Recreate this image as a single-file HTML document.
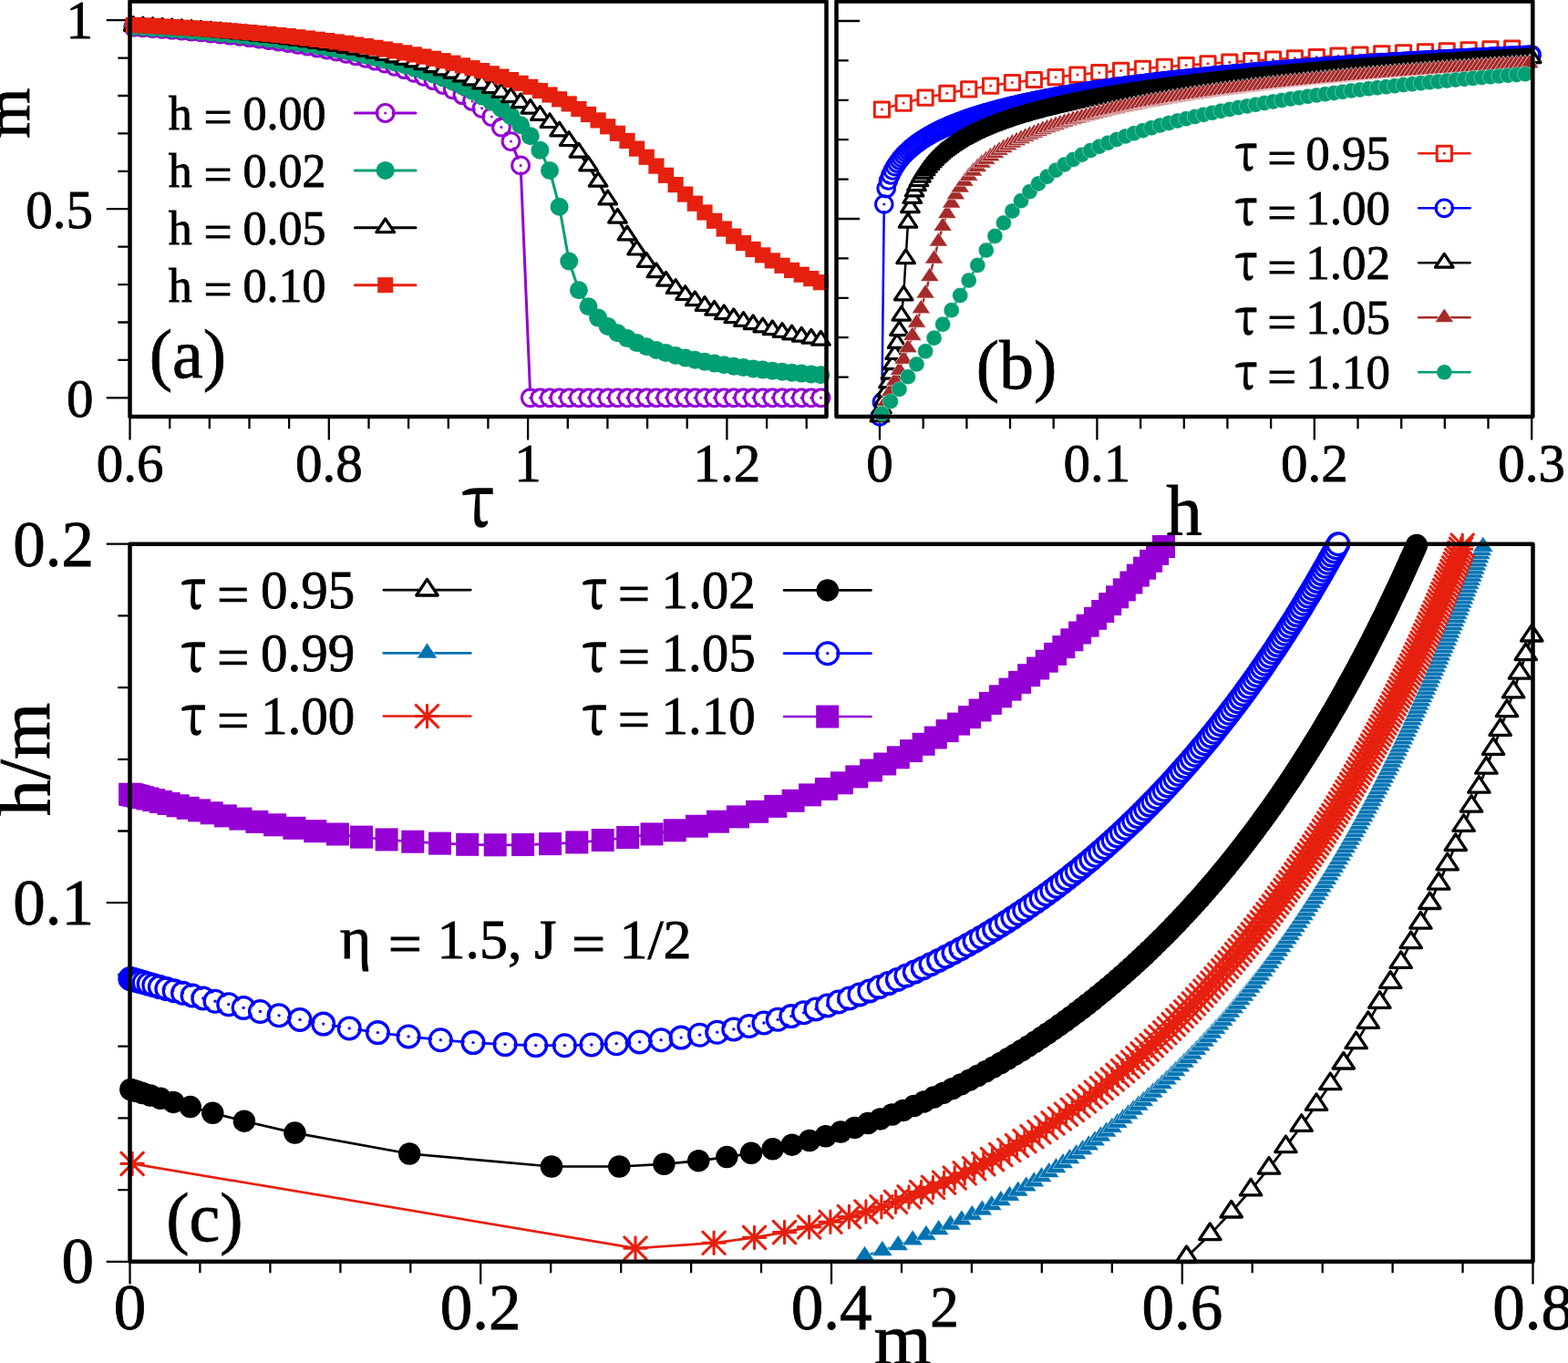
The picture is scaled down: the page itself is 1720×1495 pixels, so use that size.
<!DOCTYPE html>
<html><head><meta charset="utf-8"><title>Magnetization plots</title>
<style>html,body{margin:0;padding:0;background:#fff;overflow:hidden;width:1720px;height:1495px;} svg{display:block;}</style>
</head><body>
<svg width="1720" height="1495" viewBox="0 0 1720 1495">
<defs>
<clipPath id="ca"><rect x="142.5" y="1.5" width="764.0" height="455.5"/></clipPath>
<clipPath id="cb"><rect x="917.5" y="1.5" width="763.8" height="455.5"/></clipPath>
<clipPath id="cc"><rect x="142.5" y="596.7" width="1539.0" height="787.0999999999999"/></clipPath>
</defs>
<rect width="1720" height="1495" fill="#fff"/>
<path d="M142.5 457.0V482.5M186.2 457.0V470.2M229.8 457.0V470.2M273.5 457.0V470.2M317.1 457.0V470.2M360.8 457.0V482.5M404.5 457.0V470.2M448.1 457.0V470.2M491.8 457.0V470.2M535.4 457.0V470.2M579.1 457.0V482.5M622.8 457.0V470.2M666.4 457.0V470.2M710.1 457.0V470.2M753.7 457.0V470.2M797.4 457.0V482.5M841.1 457.0V470.2M884.7 457.0V470.2M116.7 436.3H142.5M129.3 394.9H142.5M129.3 353.5H142.5M129.3 312.1H142.5M129.3 270.7H142.5M116.7 229.2H142.5M129.3 187.8H142.5M129.3 146.4H142.5M129.3 105.0H142.5M129.3 63.6H142.5M116.7 22.2H142.5M965.0 457.0V482.5M1012.7 457.0V470.2M1060.4 457.0V470.2M1108.0 457.0V470.2M1155.7 457.0V470.2M1203.4 457.0V482.5M1251.1 457.0V470.2M1298.8 457.0V470.2M1346.4 457.0V470.2M1394.1 457.0V470.2M1441.8 457.0V482.5M1489.5 457.0V470.2M1537.2 457.0V470.2M1584.8 457.0V470.2M1632.5 457.0V470.2M1680.2 457.0V482.5M917.5 413.6H930.7M917.5 370.2H930.7M917.5 326.8H930.7M917.5 283.4H930.7M917.5 240.0H943.0M917.5 196.6H930.7M917.5 153.2H930.7M917.5 109.8H930.7M917.5 66.4H930.7M917.5 23.0H943.0M142.5 1383.8V1408.6M219.4 1383.8V1396.3M296.4 1383.8V1396.3M373.4 1383.8V1396.3M450.3 1383.8V1396.3M527.2 1383.8V1408.6M604.2 1383.8V1396.3M681.2 1383.8V1396.3M758.1 1383.8V1396.3M835.0 1383.8V1396.3M912.0 1383.8V1408.6M989.0 1383.8V1396.3M1065.9 1383.8V1396.3M1142.8 1383.8V1396.3M1219.8 1383.8V1396.3M1296.8 1383.8V1408.6M1373.7 1383.8V1396.3M1450.7 1383.8V1396.3M1527.6 1383.8V1396.3M1604.5 1383.8V1396.3M1681.5 1383.8V1408.6M116.7 1383.8H142.5M129.3 1305.1H142.5M129.3 1226.4H142.5M129.3 1147.7H142.5M129.3 1069.0H142.5M116.7 990.2H142.5M129.3 911.5H142.5M129.3 832.8H142.5M129.3 754.1H142.5M129.3 675.4H142.5M116.7 596.7H142.5" stroke="#000" stroke-width="2.3" fill="none"/>
<path d="M71.9 26.0L82.5 26.5L93.1 26.9L103.7 27.4L114.3 27.9L125.0 28.5L135.6 29.1L146.2 29.7L156.8 30.4L167.5 31.1L178.1 31.9L188.7 32.7L199.3 33.5L210.0 34.5L220.6 35.4L231.2 36.5L241.8 37.5L252.4 38.7L263.1 39.9L273.7 41.2L284.3 42.5L294.9 44.0L305.6 45.5L316.2 47.1L326.8 48.8L337.4 50.6L348.1 52.5L358.7 54.5L369.3 56.6L379.9 58.9L390.5 61.3L401.2 63.9L411.8 66.7L422.4 69.6L433.0 72.8L443.7 76.2L454.3 79.9L464.9 83.8L475.5 88.2L486.1 93.0L496.8 98.3L507.4 104.2L518.0 111.0L528.6 118.8L539.3 128.1L549.9 139.6L560.5 155.1L571.1 181.4L581.8 436.3L592.4 436.3L603.0 436.3L613.6 436.3L624.2 436.3L634.9 436.3L645.5 436.3L656.1 436.3L666.7 436.3L677.4 436.3L688.0 436.3L698.6 436.3L709.2 436.3L719.9 436.3L730.5 436.3L741.1 436.3L751.7 436.3L762.3 436.3L773.0 436.3L783.6 436.3L794.2 436.3L804.8 436.3L815.5 436.3L826.1 436.3L836.7 436.3L847.3 436.3L858.0 436.3L868.6 436.3L879.2 436.3L889.8 436.3L900.4 436.3L911.1 436.3L921.7 436.3L932.3 436.3L942.9 436.3L953.6 436.3L964.2 436.3L974.8 436.3" fill="none" stroke="#9400D3" stroke-width="3" stroke-linejoin="round" clip-path="url(#ca)"/><circle cx="146.2" cy="29.7" r="9.4" fill="none" stroke="#9400D3" stroke-width="3"/><circle cx="146.2" cy="29.7" r="7.20" fill="#fff"/><circle cx="146.2" cy="29.7" r="1.50" fill="#9400D3"/><circle cx="156.8" cy="30.4" r="9.4" fill="none" stroke="#9400D3" stroke-width="3"/><circle cx="156.8" cy="30.4" r="7.20" fill="#fff"/><circle cx="156.8" cy="30.4" r="1.50" fill="#9400D3"/><circle cx="167.5" cy="31.1" r="9.4" fill="none" stroke="#9400D3" stroke-width="3"/><circle cx="167.5" cy="31.1" r="7.20" fill="#fff"/><circle cx="167.5" cy="31.1" r="1.50" fill="#9400D3"/><circle cx="178.1" cy="31.9" r="9.4" fill="none" stroke="#9400D3" stroke-width="3"/><circle cx="178.1" cy="31.9" r="7.20" fill="#fff"/><circle cx="178.1" cy="31.9" r="1.50" fill="#9400D3"/><circle cx="188.7" cy="32.7" r="9.4" fill="none" stroke="#9400D3" stroke-width="3"/><circle cx="188.7" cy="32.7" r="7.20" fill="#fff"/><circle cx="188.7" cy="32.7" r="1.50" fill="#9400D3"/><circle cx="199.3" cy="33.5" r="9.4" fill="none" stroke="#9400D3" stroke-width="3"/><circle cx="199.3" cy="33.5" r="7.20" fill="#fff"/><circle cx="199.3" cy="33.5" r="1.50" fill="#9400D3"/><circle cx="210.0" cy="34.5" r="9.4" fill="none" stroke="#9400D3" stroke-width="3"/><circle cx="210.0" cy="34.5" r="7.20" fill="#fff"/><circle cx="210.0" cy="34.5" r="1.50" fill="#9400D3"/><circle cx="220.6" cy="35.4" r="9.4" fill="none" stroke="#9400D3" stroke-width="3"/><circle cx="220.6" cy="35.4" r="7.20" fill="#fff"/><circle cx="220.6" cy="35.4" r="1.50" fill="#9400D3"/><circle cx="231.2" cy="36.5" r="9.4" fill="none" stroke="#9400D3" stroke-width="3"/><circle cx="231.2" cy="36.5" r="7.20" fill="#fff"/><circle cx="231.2" cy="36.5" r="1.50" fill="#9400D3"/><circle cx="241.8" cy="37.5" r="9.4" fill="none" stroke="#9400D3" stroke-width="3"/><circle cx="241.8" cy="37.5" r="7.20" fill="#fff"/><circle cx="241.8" cy="37.5" r="1.50" fill="#9400D3"/><circle cx="252.4" cy="38.7" r="9.4" fill="none" stroke="#9400D3" stroke-width="3"/><circle cx="252.4" cy="38.7" r="7.20" fill="#fff"/><circle cx="252.4" cy="38.7" r="1.50" fill="#9400D3"/><circle cx="263.1" cy="39.9" r="9.4" fill="none" stroke="#9400D3" stroke-width="3"/><circle cx="263.1" cy="39.9" r="7.20" fill="#fff"/><circle cx="263.1" cy="39.9" r="1.50" fill="#9400D3"/><circle cx="273.7" cy="41.2" r="9.4" fill="none" stroke="#9400D3" stroke-width="3"/><circle cx="273.7" cy="41.2" r="7.20" fill="#fff"/><circle cx="273.7" cy="41.2" r="1.50" fill="#9400D3"/><circle cx="284.3" cy="42.5" r="9.4" fill="none" stroke="#9400D3" stroke-width="3"/><circle cx="284.3" cy="42.5" r="7.20" fill="#fff"/><circle cx="284.3" cy="42.5" r="1.50" fill="#9400D3"/><circle cx="294.9" cy="44.0" r="9.4" fill="none" stroke="#9400D3" stroke-width="3"/><circle cx="294.9" cy="44.0" r="7.20" fill="#fff"/><circle cx="294.9" cy="44.0" r="1.50" fill="#9400D3"/><circle cx="305.6" cy="45.5" r="9.4" fill="none" stroke="#9400D3" stroke-width="3"/><circle cx="305.6" cy="45.5" r="7.20" fill="#fff"/><circle cx="305.6" cy="45.5" r="1.50" fill="#9400D3"/><circle cx="316.2" cy="47.1" r="9.4" fill="none" stroke="#9400D3" stroke-width="3"/><circle cx="316.2" cy="47.1" r="7.20" fill="#fff"/><circle cx="316.2" cy="47.1" r="1.50" fill="#9400D3"/><circle cx="326.8" cy="48.8" r="9.4" fill="none" stroke="#9400D3" stroke-width="3"/><circle cx="326.8" cy="48.8" r="7.20" fill="#fff"/><circle cx="326.8" cy="48.8" r="1.50" fill="#9400D3"/><circle cx="337.4" cy="50.6" r="9.4" fill="none" stroke="#9400D3" stroke-width="3"/><circle cx="337.4" cy="50.6" r="7.20" fill="#fff"/><circle cx="337.4" cy="50.6" r="1.50" fill="#9400D3"/><circle cx="348.1" cy="52.5" r="9.4" fill="none" stroke="#9400D3" stroke-width="3"/><circle cx="348.1" cy="52.5" r="7.20" fill="#fff"/><circle cx="348.1" cy="52.5" r="1.50" fill="#9400D3"/><circle cx="358.7" cy="54.5" r="9.4" fill="none" stroke="#9400D3" stroke-width="3"/><circle cx="358.7" cy="54.5" r="7.20" fill="#fff"/><circle cx="358.7" cy="54.5" r="1.50" fill="#9400D3"/><circle cx="369.3" cy="56.6" r="9.4" fill="none" stroke="#9400D3" stroke-width="3"/><circle cx="369.3" cy="56.6" r="7.20" fill="#fff"/><circle cx="369.3" cy="56.6" r="1.50" fill="#9400D3"/><circle cx="379.9" cy="58.9" r="9.4" fill="none" stroke="#9400D3" stroke-width="3"/><circle cx="379.9" cy="58.9" r="7.20" fill="#fff"/><circle cx="379.9" cy="58.9" r="1.50" fill="#9400D3"/><circle cx="390.5" cy="61.3" r="9.4" fill="none" stroke="#9400D3" stroke-width="3"/><circle cx="390.5" cy="61.3" r="7.20" fill="#fff"/><circle cx="390.5" cy="61.3" r="1.50" fill="#9400D3"/><circle cx="401.2" cy="63.9" r="9.4" fill="none" stroke="#9400D3" stroke-width="3"/><circle cx="401.2" cy="63.9" r="7.20" fill="#fff"/><circle cx="401.2" cy="63.9" r="1.50" fill="#9400D3"/><circle cx="411.8" cy="66.7" r="9.4" fill="none" stroke="#9400D3" stroke-width="3"/><circle cx="411.8" cy="66.7" r="7.20" fill="#fff"/><circle cx="411.8" cy="66.7" r="1.50" fill="#9400D3"/><circle cx="422.4" cy="69.6" r="9.4" fill="none" stroke="#9400D3" stroke-width="3"/><circle cx="422.4" cy="69.6" r="7.20" fill="#fff"/><circle cx="422.4" cy="69.6" r="1.50" fill="#9400D3"/><circle cx="433.0" cy="72.8" r="9.4" fill="none" stroke="#9400D3" stroke-width="3"/><circle cx="433.0" cy="72.8" r="7.20" fill="#fff"/><circle cx="433.0" cy="72.8" r="1.50" fill="#9400D3"/><circle cx="443.7" cy="76.2" r="9.4" fill="none" stroke="#9400D3" stroke-width="3"/><circle cx="443.7" cy="76.2" r="7.20" fill="#fff"/><circle cx="443.7" cy="76.2" r="1.50" fill="#9400D3"/><circle cx="454.3" cy="79.9" r="9.4" fill="none" stroke="#9400D3" stroke-width="3"/><circle cx="454.3" cy="79.9" r="7.20" fill="#fff"/><circle cx="454.3" cy="79.9" r="1.50" fill="#9400D3"/><circle cx="464.9" cy="83.8" r="9.4" fill="none" stroke="#9400D3" stroke-width="3"/><circle cx="464.9" cy="83.8" r="7.20" fill="#fff"/><circle cx="464.9" cy="83.8" r="1.50" fill="#9400D3"/><circle cx="475.5" cy="88.2" r="9.4" fill="none" stroke="#9400D3" stroke-width="3"/><circle cx="475.5" cy="88.2" r="7.20" fill="#fff"/><circle cx="475.5" cy="88.2" r="1.50" fill="#9400D3"/><circle cx="486.1" cy="93.0" r="9.4" fill="none" stroke="#9400D3" stroke-width="3"/><circle cx="486.1" cy="93.0" r="7.20" fill="#fff"/><circle cx="486.1" cy="93.0" r="1.50" fill="#9400D3"/><circle cx="496.8" cy="98.3" r="9.4" fill="none" stroke="#9400D3" stroke-width="3"/><circle cx="496.8" cy="98.3" r="7.20" fill="#fff"/><circle cx="496.8" cy="98.3" r="1.50" fill="#9400D3"/><circle cx="507.4" cy="104.2" r="9.4" fill="none" stroke="#9400D3" stroke-width="3"/><circle cx="507.4" cy="104.2" r="7.20" fill="#fff"/><circle cx="507.4" cy="104.2" r="1.50" fill="#9400D3"/><circle cx="518.0" cy="111.0" r="9.4" fill="none" stroke="#9400D3" stroke-width="3"/><circle cx="518.0" cy="111.0" r="7.20" fill="#fff"/><circle cx="518.0" cy="111.0" r="1.50" fill="#9400D3"/><circle cx="528.6" cy="118.8" r="9.4" fill="none" stroke="#9400D3" stroke-width="3"/><circle cx="528.6" cy="118.8" r="7.20" fill="#fff"/><circle cx="528.6" cy="118.8" r="1.50" fill="#9400D3"/><circle cx="539.3" cy="128.1" r="9.4" fill="none" stroke="#9400D3" stroke-width="3"/><circle cx="539.3" cy="128.1" r="7.20" fill="#fff"/><circle cx="539.3" cy="128.1" r="1.50" fill="#9400D3"/><circle cx="549.9" cy="139.6" r="9.4" fill="none" stroke="#9400D3" stroke-width="3"/><circle cx="549.9" cy="139.6" r="7.20" fill="#fff"/><circle cx="549.9" cy="139.6" r="1.50" fill="#9400D3"/><circle cx="560.5" cy="155.1" r="9.4" fill="none" stroke="#9400D3" stroke-width="3"/><circle cx="560.5" cy="155.1" r="7.20" fill="#fff"/><circle cx="560.5" cy="155.1" r="1.50" fill="#9400D3"/><circle cx="571.1" cy="181.4" r="9.4" fill="none" stroke="#9400D3" stroke-width="3"/><circle cx="571.1" cy="181.4" r="7.20" fill="#fff"/><circle cx="571.1" cy="181.4" r="1.50" fill="#9400D3"/><circle cx="581.8" cy="436.3" r="9.4" fill="none" stroke="#9400D3" stroke-width="3"/><circle cx="581.8" cy="436.3" r="7.20" fill="#fff"/><circle cx="581.8" cy="436.3" r="1.50" fill="#9400D3"/><circle cx="592.4" cy="436.3" r="9.4" fill="none" stroke="#9400D3" stroke-width="3"/><circle cx="592.4" cy="436.3" r="7.20" fill="#fff"/><circle cx="592.4" cy="436.3" r="1.50" fill="#9400D3"/><circle cx="603.0" cy="436.3" r="9.4" fill="none" stroke="#9400D3" stroke-width="3"/><circle cx="603.0" cy="436.3" r="7.20" fill="#fff"/><circle cx="603.0" cy="436.3" r="1.50" fill="#9400D3"/><circle cx="613.6" cy="436.3" r="9.4" fill="none" stroke="#9400D3" stroke-width="3"/><circle cx="613.6" cy="436.3" r="7.20" fill="#fff"/><circle cx="613.6" cy="436.3" r="1.50" fill="#9400D3"/><circle cx="624.2" cy="436.3" r="9.4" fill="none" stroke="#9400D3" stroke-width="3"/><circle cx="624.2" cy="436.3" r="7.20" fill="#fff"/><circle cx="624.2" cy="436.3" r="1.50" fill="#9400D3"/><circle cx="634.9" cy="436.3" r="9.4" fill="none" stroke="#9400D3" stroke-width="3"/><circle cx="634.9" cy="436.3" r="7.20" fill="#fff"/><circle cx="634.9" cy="436.3" r="1.50" fill="#9400D3"/><circle cx="645.5" cy="436.3" r="9.4" fill="none" stroke="#9400D3" stroke-width="3"/><circle cx="645.5" cy="436.3" r="7.20" fill="#fff"/><circle cx="645.5" cy="436.3" r="1.50" fill="#9400D3"/><circle cx="656.1" cy="436.3" r="9.4" fill="none" stroke="#9400D3" stroke-width="3"/><circle cx="656.1" cy="436.3" r="7.20" fill="#fff"/><circle cx="656.1" cy="436.3" r="1.50" fill="#9400D3"/><circle cx="666.7" cy="436.3" r="9.4" fill="none" stroke="#9400D3" stroke-width="3"/><circle cx="666.7" cy="436.3" r="7.20" fill="#fff"/><circle cx="666.7" cy="436.3" r="1.50" fill="#9400D3"/><circle cx="677.4" cy="436.3" r="9.4" fill="none" stroke="#9400D3" stroke-width="3"/><circle cx="677.4" cy="436.3" r="7.20" fill="#fff"/><circle cx="677.4" cy="436.3" r="1.50" fill="#9400D3"/><circle cx="688.0" cy="436.3" r="9.4" fill="none" stroke="#9400D3" stroke-width="3"/><circle cx="688.0" cy="436.3" r="7.20" fill="#fff"/><circle cx="688.0" cy="436.3" r="1.50" fill="#9400D3"/><circle cx="698.6" cy="436.3" r="9.4" fill="none" stroke="#9400D3" stroke-width="3"/><circle cx="698.6" cy="436.3" r="7.20" fill="#fff"/><circle cx="698.6" cy="436.3" r="1.50" fill="#9400D3"/><circle cx="709.2" cy="436.3" r="9.4" fill="none" stroke="#9400D3" stroke-width="3"/><circle cx="709.2" cy="436.3" r="7.20" fill="#fff"/><circle cx="709.2" cy="436.3" r="1.50" fill="#9400D3"/><circle cx="719.9" cy="436.3" r="9.4" fill="none" stroke="#9400D3" stroke-width="3"/><circle cx="719.9" cy="436.3" r="7.20" fill="#fff"/><circle cx="719.9" cy="436.3" r="1.50" fill="#9400D3"/><circle cx="730.5" cy="436.3" r="9.4" fill="none" stroke="#9400D3" stroke-width="3"/><circle cx="730.5" cy="436.3" r="7.20" fill="#fff"/><circle cx="730.5" cy="436.3" r="1.50" fill="#9400D3"/><circle cx="741.1" cy="436.3" r="9.4" fill="none" stroke="#9400D3" stroke-width="3"/><circle cx="741.1" cy="436.3" r="7.20" fill="#fff"/><circle cx="741.1" cy="436.3" r="1.50" fill="#9400D3"/><circle cx="751.7" cy="436.3" r="9.4" fill="none" stroke="#9400D3" stroke-width="3"/><circle cx="751.7" cy="436.3" r="7.20" fill="#fff"/><circle cx="751.7" cy="436.3" r="1.50" fill="#9400D3"/><circle cx="762.3" cy="436.3" r="9.4" fill="none" stroke="#9400D3" stroke-width="3"/><circle cx="762.3" cy="436.3" r="7.20" fill="#fff"/><circle cx="762.3" cy="436.3" r="1.50" fill="#9400D3"/><circle cx="773.0" cy="436.3" r="9.4" fill="none" stroke="#9400D3" stroke-width="3"/><circle cx="773.0" cy="436.3" r="7.20" fill="#fff"/><circle cx="773.0" cy="436.3" r="1.50" fill="#9400D3"/><circle cx="783.6" cy="436.3" r="9.4" fill="none" stroke="#9400D3" stroke-width="3"/><circle cx="783.6" cy="436.3" r="7.20" fill="#fff"/><circle cx="783.6" cy="436.3" r="1.50" fill="#9400D3"/><circle cx="794.2" cy="436.3" r="9.4" fill="none" stroke="#9400D3" stroke-width="3"/><circle cx="794.2" cy="436.3" r="7.20" fill="#fff"/><circle cx="794.2" cy="436.3" r="1.50" fill="#9400D3"/><circle cx="804.8" cy="436.3" r="9.4" fill="none" stroke="#9400D3" stroke-width="3"/><circle cx="804.8" cy="436.3" r="7.20" fill="#fff"/><circle cx="804.8" cy="436.3" r="1.50" fill="#9400D3"/><circle cx="815.5" cy="436.3" r="9.4" fill="none" stroke="#9400D3" stroke-width="3"/><circle cx="815.5" cy="436.3" r="7.20" fill="#fff"/><circle cx="815.5" cy="436.3" r="1.50" fill="#9400D3"/><circle cx="826.1" cy="436.3" r="9.4" fill="none" stroke="#9400D3" stroke-width="3"/><circle cx="826.1" cy="436.3" r="7.20" fill="#fff"/><circle cx="826.1" cy="436.3" r="1.50" fill="#9400D3"/><circle cx="836.7" cy="436.3" r="9.4" fill="none" stroke="#9400D3" stroke-width="3"/><circle cx="836.7" cy="436.3" r="7.20" fill="#fff"/><circle cx="836.7" cy="436.3" r="1.50" fill="#9400D3"/><circle cx="847.3" cy="436.3" r="9.4" fill="none" stroke="#9400D3" stroke-width="3"/><circle cx="847.3" cy="436.3" r="7.20" fill="#fff"/><circle cx="847.3" cy="436.3" r="1.50" fill="#9400D3"/><circle cx="858.0" cy="436.3" r="9.4" fill="none" stroke="#9400D3" stroke-width="3"/><circle cx="858.0" cy="436.3" r="7.20" fill="#fff"/><circle cx="858.0" cy="436.3" r="1.50" fill="#9400D3"/><circle cx="868.6" cy="436.3" r="9.4" fill="none" stroke="#9400D3" stroke-width="3"/><circle cx="868.6" cy="436.3" r="7.20" fill="#fff"/><circle cx="868.6" cy="436.3" r="1.50" fill="#9400D3"/><circle cx="879.2" cy="436.3" r="9.4" fill="none" stroke="#9400D3" stroke-width="3"/><circle cx="879.2" cy="436.3" r="7.20" fill="#fff"/><circle cx="879.2" cy="436.3" r="1.50" fill="#9400D3"/><circle cx="889.8" cy="436.3" r="9.4" fill="none" stroke="#9400D3" stroke-width="3"/><circle cx="889.8" cy="436.3" r="7.20" fill="#fff"/><circle cx="889.8" cy="436.3" r="1.50" fill="#9400D3"/><circle cx="900.4" cy="436.3" r="9.4" fill="none" stroke="#9400D3" stroke-width="3"/><circle cx="900.4" cy="436.3" r="7.20" fill="#fff"/><circle cx="900.4" cy="436.3" r="1.50" fill="#9400D3"/>
<path d="M71.9 25.7L82.5 26.1L93.1 26.6L103.7 27.0L114.3 27.5L125.0 28.0L135.6 28.6L146.2 29.2L156.8 29.8L167.5 30.5L178.1 31.2L188.7 31.9L199.3 32.8L210.0 33.6L220.6 34.5L231.2 35.5L241.8 36.5L252.4 37.5L263.1 38.7L273.7 39.8L284.3 41.1L294.9 42.4L305.6 43.8L316.2 45.3L326.8 46.8L337.4 48.5L348.1 50.2L358.7 52.1L369.3 54.0L379.9 56.0L390.5 58.2L401.2 60.5L411.8 63.0L422.4 65.6L433.0 68.4L443.7 71.3L454.3 74.5L464.9 77.9L475.5 81.6L486.1 85.5L496.8 89.8L507.4 94.5L518.0 99.7L528.6 105.4L539.3 111.8L549.9 119.0L560.5 127.3L571.1 137.2L581.8 149.2L592.4 164.7L603.0 187.0L613.6 226.8L624.2 286.5L634.9 318.2L645.5 336.3L656.1 348.6L666.7 357.9L677.4 365.2L688.0 371.1L698.6 376.1L709.2 380.3L719.9 384.0L730.5 387.1L741.1 390.0L751.7 392.5L762.3 394.7L773.0 396.7L783.6 398.5L794.2 400.2L804.8 401.7L815.5 403.1L826.1 404.4L836.7 405.6L847.3 406.7L858.0 407.7L868.6 408.7L879.2 409.6L889.8 410.4L900.4 411.2L911.1 411.9L921.7 412.6L932.3 413.3L942.9 413.9L953.6 414.5L964.2 415.1L974.8 415.6" fill="none" stroke="#009E73" stroke-width="3" stroke-linejoin="round" clip-path="url(#ca)"/><circle cx="146.2" cy="29.2" r="10" fill="#009E73"/><circle cx="156.8" cy="29.8" r="10" fill="#009E73"/><circle cx="167.5" cy="30.5" r="10" fill="#009E73"/><circle cx="178.1" cy="31.2" r="10" fill="#009E73"/><circle cx="188.7" cy="31.9" r="10" fill="#009E73"/><circle cx="199.3" cy="32.8" r="10" fill="#009E73"/><circle cx="210.0" cy="33.6" r="10" fill="#009E73"/><circle cx="220.6" cy="34.5" r="10" fill="#009E73"/><circle cx="231.2" cy="35.5" r="10" fill="#009E73"/><circle cx="241.8" cy="36.5" r="10" fill="#009E73"/><circle cx="252.4" cy="37.5" r="10" fill="#009E73"/><circle cx="263.1" cy="38.7" r="10" fill="#009E73"/><circle cx="273.7" cy="39.8" r="10" fill="#009E73"/><circle cx="284.3" cy="41.1" r="10" fill="#009E73"/><circle cx="294.9" cy="42.4" r="10" fill="#009E73"/><circle cx="305.6" cy="43.8" r="10" fill="#009E73"/><circle cx="316.2" cy="45.3" r="10" fill="#009E73"/><circle cx="326.8" cy="46.8" r="10" fill="#009E73"/><circle cx="337.4" cy="48.5" r="10" fill="#009E73"/><circle cx="348.1" cy="50.2" r="10" fill="#009E73"/><circle cx="358.7" cy="52.1" r="10" fill="#009E73"/><circle cx="369.3" cy="54.0" r="10" fill="#009E73"/><circle cx="379.9" cy="56.0" r="10" fill="#009E73"/><circle cx="390.5" cy="58.2" r="10" fill="#009E73"/><circle cx="401.2" cy="60.5" r="10" fill="#009E73"/><circle cx="411.8" cy="63.0" r="10" fill="#009E73"/><circle cx="422.4" cy="65.6" r="10" fill="#009E73"/><circle cx="433.0" cy="68.4" r="10" fill="#009E73"/><circle cx="443.7" cy="71.3" r="10" fill="#009E73"/><circle cx="454.3" cy="74.5" r="10" fill="#009E73"/><circle cx="464.9" cy="77.9" r="10" fill="#009E73"/><circle cx="475.5" cy="81.6" r="10" fill="#009E73"/><circle cx="486.1" cy="85.5" r="10" fill="#009E73"/><circle cx="496.8" cy="89.8" r="10" fill="#009E73"/><circle cx="507.4" cy="94.5" r="10" fill="#009E73"/><circle cx="518.0" cy="99.7" r="10" fill="#009E73"/><circle cx="528.6" cy="105.4" r="10" fill="#009E73"/><circle cx="539.3" cy="111.8" r="10" fill="#009E73"/><circle cx="549.9" cy="119.0" r="10" fill="#009E73"/><circle cx="560.5" cy="127.3" r="10" fill="#009E73"/><circle cx="571.1" cy="137.2" r="10" fill="#009E73"/><circle cx="581.8" cy="149.2" r="10" fill="#009E73"/><circle cx="592.4" cy="164.7" r="10" fill="#009E73"/><circle cx="603.0" cy="187.0" r="10" fill="#009E73"/><circle cx="613.6" cy="226.8" r="10" fill="#009E73"/><circle cx="624.2" cy="286.5" r="10" fill="#009E73"/><circle cx="634.9" cy="318.2" r="10" fill="#009E73"/><circle cx="645.5" cy="336.3" r="10" fill="#009E73"/><circle cx="656.1" cy="348.6" r="10" fill="#009E73"/><circle cx="666.7" cy="357.9" r="10" fill="#009E73"/><circle cx="677.4" cy="365.2" r="10" fill="#009E73"/><circle cx="688.0" cy="371.1" r="10" fill="#009E73"/><circle cx="698.6" cy="376.1" r="10" fill="#009E73"/><circle cx="709.2" cy="380.3" r="10" fill="#009E73"/><circle cx="719.9" cy="384.0" r="10" fill="#009E73"/><circle cx="730.5" cy="387.1" r="10" fill="#009E73"/><circle cx="741.1" cy="390.0" r="10" fill="#009E73"/><circle cx="751.7" cy="392.5" r="10" fill="#009E73"/><circle cx="762.3" cy="394.7" r="10" fill="#009E73"/><circle cx="773.0" cy="396.7" r="10" fill="#009E73"/><circle cx="783.6" cy="398.5" r="10" fill="#009E73"/><circle cx="794.2" cy="400.2" r="10" fill="#009E73"/><circle cx="804.8" cy="401.7" r="10" fill="#009E73"/><circle cx="815.5" cy="403.1" r="10" fill="#009E73"/><circle cx="826.1" cy="404.4" r="10" fill="#009E73"/><circle cx="836.7" cy="405.6" r="10" fill="#009E73"/><circle cx="847.3" cy="406.7" r="10" fill="#009E73"/><circle cx="858.0" cy="407.7" r="10" fill="#009E73"/><circle cx="868.6" cy="408.7" r="10" fill="#009E73"/><circle cx="879.2" cy="409.6" r="10" fill="#009E73"/><circle cx="889.8" cy="410.4" r="10" fill="#009E73"/><circle cx="900.4" cy="411.2" r="10" fill="#009E73"/>
<path d="M71.9 25.4L82.5 25.7L93.1 26.1L103.7 26.5L114.3 26.9L125.0 27.4L135.6 27.9L146.2 28.4L156.8 29.0L167.5 29.6L178.1 30.3L188.7 31.0L199.3 31.7L210.0 32.5L220.6 33.3L231.2 34.1L241.8 35.0L252.4 36.0L263.1 37.0L273.7 38.1L284.3 39.2L294.9 40.4L305.6 41.6L316.2 42.9L326.8 44.3L337.4 45.7L348.1 47.3L358.7 48.9L369.3 50.6L379.9 52.4L390.5 54.3L401.2 56.2L411.8 58.3L422.4 60.6L433.0 62.9L443.7 65.4L454.3 68.0L464.9 70.8L475.5 73.8L486.1 77.0L496.8 80.3L507.4 84.0L518.0 87.9L528.6 92.0L539.3 96.6L549.9 101.5L560.5 106.8L571.1 112.7L581.8 119.2L592.4 126.5L603.0 134.6L613.6 143.9L624.2 154.6L634.9 167.2L645.5 181.9L656.1 199.3L666.7 219.0L677.4 239.2L688.0 258.0L698.6 274.1L709.2 287.5L719.9 298.8L730.5 308.3L741.1 316.5L751.7 323.6L762.3 329.8L773.0 335.4L783.6 340.3L794.2 344.8L804.8 348.8L815.5 352.5L826.1 355.8L836.7 358.9L847.3 361.8L858.0 364.4L868.6 366.9L879.2 369.2L889.8 371.3L900.4 373.3L911.1 375.2L921.7 377.0L932.3 378.7L942.9 380.2L953.6 381.7L964.2 383.1L974.8 384.5" fill="none" stroke="#000000" stroke-width="3" stroke-linejoin="round" clip-path="url(#ca)"/><path d="M146.2 18.6L156.0 33.3L136.4 33.3Z" fill="#fff" stroke="#000000" stroke-width="3.2" stroke-linejoin="round"/><path d="M156.8 19.2L166.6 33.9L147.0 33.9Z" fill="#fff" stroke="#000000" stroke-width="3.2" stroke-linejoin="round"/><path d="M167.5 19.8L177.3 34.5L157.7 34.5Z" fill="#fff" stroke="#000000" stroke-width="3.2" stroke-linejoin="round"/><path d="M178.1 20.5L187.9 35.2L168.3 35.2Z" fill="#fff" stroke="#000000" stroke-width="3.2" stroke-linejoin="round"/><path d="M188.7 21.2L198.5 35.9L178.9 35.9Z" fill="#fff" stroke="#000000" stroke-width="3.2" stroke-linejoin="round"/><path d="M199.3 21.9L209.1 36.6L189.5 36.6Z" fill="#fff" stroke="#000000" stroke-width="3.2" stroke-linejoin="round"/><path d="M210.0 22.7L219.8 37.4L200.2 37.4Z" fill="#fff" stroke="#000000" stroke-width="3.2" stroke-linejoin="round"/><path d="M220.6 23.5L230.4 38.2L210.8 38.2Z" fill="#fff" stroke="#000000" stroke-width="3.2" stroke-linejoin="round"/><path d="M231.2 24.3L241.0 39.0L221.4 39.0Z" fill="#fff" stroke="#000000" stroke-width="3.2" stroke-linejoin="round"/><path d="M241.8 25.2L251.6 39.9L232.0 39.9Z" fill="#fff" stroke="#000000" stroke-width="3.2" stroke-linejoin="round"/><path d="M252.4 26.2L262.2 40.9L242.6 40.9Z" fill="#fff" stroke="#000000" stroke-width="3.2" stroke-linejoin="round"/><path d="M263.1 27.2L272.9 41.9L253.3 41.9Z" fill="#fff" stroke="#000000" stroke-width="3.2" stroke-linejoin="round"/><path d="M273.7 28.3L283.5 43.0L263.9 43.0Z" fill="#fff" stroke="#000000" stroke-width="3.2" stroke-linejoin="round"/><path d="M284.3 29.4L294.1 44.1L274.5 44.1Z" fill="#fff" stroke="#000000" stroke-width="3.2" stroke-linejoin="round"/><path d="M294.9 30.6L304.7 45.3L285.1 45.3Z" fill="#fff" stroke="#000000" stroke-width="3.2" stroke-linejoin="round"/><path d="M305.6 31.8L315.4 46.5L295.8 46.5Z" fill="#fff" stroke="#000000" stroke-width="3.2" stroke-linejoin="round"/><path d="M316.2 33.1L326.0 47.8L306.4 47.8Z" fill="#fff" stroke="#000000" stroke-width="3.2" stroke-linejoin="round"/><path d="M326.8 34.5L336.6 49.2L317.0 49.2Z" fill="#fff" stroke="#000000" stroke-width="3.2" stroke-linejoin="round"/><path d="M337.4 35.9L347.2 50.6L327.6 50.6Z" fill="#fff" stroke="#000000" stroke-width="3.2" stroke-linejoin="round"/><path d="M348.1 37.5L357.9 52.2L338.3 52.2Z" fill="#fff" stroke="#000000" stroke-width="3.2" stroke-linejoin="round"/><path d="M358.7 39.1L368.5 53.8L348.9 53.8Z" fill="#fff" stroke="#000000" stroke-width="3.2" stroke-linejoin="round"/><path d="M369.3 40.8L379.1 55.5L359.5 55.5Z" fill="#fff" stroke="#000000" stroke-width="3.2" stroke-linejoin="round"/><path d="M379.9 42.6L389.7 57.3L370.1 57.3Z" fill="#fff" stroke="#000000" stroke-width="3.2" stroke-linejoin="round"/><path d="M390.5 44.5L400.3 59.2L380.7 59.2Z" fill="#fff" stroke="#000000" stroke-width="3.2" stroke-linejoin="round"/><path d="M401.2 46.4L411.0 61.1L391.4 61.1Z" fill="#fff" stroke="#000000" stroke-width="3.2" stroke-linejoin="round"/><path d="M411.8 48.5L421.6 63.2L402.0 63.2Z" fill="#fff" stroke="#000000" stroke-width="3.2" stroke-linejoin="round"/><path d="M422.4 50.8L432.2 65.5L412.6 65.5Z" fill="#fff" stroke="#000000" stroke-width="3.2" stroke-linejoin="round"/><path d="M433.0 53.1L442.8 67.8L423.2 67.8Z" fill="#fff" stroke="#000000" stroke-width="3.2" stroke-linejoin="round"/><path d="M443.7 55.6L453.5 70.3L433.9 70.3Z" fill="#fff" stroke="#000000" stroke-width="3.2" stroke-linejoin="round"/><path d="M454.3 58.2L464.1 72.9L444.5 72.9Z" fill="#fff" stroke="#000000" stroke-width="3.2" stroke-linejoin="round"/><path d="M464.9 61.0L474.7 75.7L455.1 75.7Z" fill="#fff" stroke="#000000" stroke-width="3.2" stroke-linejoin="round"/><path d="M475.5 64.0L485.3 78.7L465.7 78.7Z" fill="#fff" stroke="#000000" stroke-width="3.2" stroke-linejoin="round"/><path d="M486.1 67.2L495.9 81.9L476.3 81.9Z" fill="#fff" stroke="#000000" stroke-width="3.2" stroke-linejoin="round"/><path d="M496.8 70.5L506.6 85.2L487.0 85.2Z" fill="#fff" stroke="#000000" stroke-width="3.2" stroke-linejoin="round"/><path d="M507.4 74.2L517.2 88.9L497.6 88.9Z" fill="#fff" stroke="#000000" stroke-width="3.2" stroke-linejoin="round"/><path d="M518.0 78.1L527.8 92.8L508.2 92.8Z" fill="#fff" stroke="#000000" stroke-width="3.2" stroke-linejoin="round"/><path d="M528.6 82.2L538.4 96.9L518.8 96.9Z" fill="#fff" stroke="#000000" stroke-width="3.2" stroke-linejoin="round"/><path d="M539.3 86.8L549.1 101.5L529.5 101.5Z" fill="#fff" stroke="#000000" stroke-width="3.2" stroke-linejoin="round"/><path d="M549.9 91.7L559.7 106.4L540.1 106.4Z" fill="#fff" stroke="#000000" stroke-width="3.2" stroke-linejoin="round"/><path d="M560.5 97.0L570.3 111.7L550.7 111.7Z" fill="#fff" stroke="#000000" stroke-width="3.2" stroke-linejoin="round"/><path d="M571.1 102.9L580.9 117.6L561.3 117.6Z" fill="#fff" stroke="#000000" stroke-width="3.2" stroke-linejoin="round"/><path d="M581.8 109.4L591.6 124.1L572.0 124.1Z" fill="#fff" stroke="#000000" stroke-width="3.2" stroke-linejoin="round"/><path d="M592.4 116.7L602.2 131.4L582.6 131.4Z" fill="#fff" stroke="#000000" stroke-width="3.2" stroke-linejoin="round"/><path d="M603.0 124.8L612.8 139.5L593.2 139.5Z" fill="#fff" stroke="#000000" stroke-width="3.2" stroke-linejoin="round"/><path d="M613.6 134.1L623.4 148.8L603.8 148.8Z" fill="#fff" stroke="#000000" stroke-width="3.2" stroke-linejoin="round"/><path d="M624.2 144.8L634.0 159.5L614.4 159.5Z" fill="#fff" stroke="#000000" stroke-width="3.2" stroke-linejoin="round"/><path d="M634.9 157.4L644.7 172.1L625.1 172.1Z" fill="#fff" stroke="#000000" stroke-width="3.2" stroke-linejoin="round"/><path d="M645.5 172.1L655.3 186.8L635.7 186.8Z" fill="#fff" stroke="#000000" stroke-width="3.2" stroke-linejoin="round"/><path d="M656.1 189.5L665.9 204.2L646.3 204.2Z" fill="#fff" stroke="#000000" stroke-width="3.2" stroke-linejoin="round"/><path d="M666.7 209.2L676.5 223.9L656.9 223.9Z" fill="#fff" stroke="#000000" stroke-width="3.2" stroke-linejoin="round"/><path d="M677.4 229.4L687.2 244.1L667.6 244.1Z" fill="#fff" stroke="#000000" stroke-width="3.2" stroke-linejoin="round"/><path d="M688.0 248.2L697.8 262.9L678.2 262.9Z" fill="#fff" stroke="#000000" stroke-width="3.2" stroke-linejoin="round"/><path d="M698.6 264.3L708.4 279.0L688.8 279.0Z" fill="#fff" stroke="#000000" stroke-width="3.2" stroke-linejoin="round"/><path d="M709.2 277.7L719.0 292.4L699.4 292.4Z" fill="#fff" stroke="#000000" stroke-width="3.2" stroke-linejoin="round"/><path d="M719.9 289.0L729.7 303.7L710.1 303.7Z" fill="#fff" stroke="#000000" stroke-width="3.2" stroke-linejoin="round"/><path d="M730.5 298.5L740.3 313.2L720.7 313.2Z" fill="#fff" stroke="#000000" stroke-width="3.2" stroke-linejoin="round"/><path d="M741.1 306.7L750.9 321.4L731.3 321.4Z" fill="#fff" stroke="#000000" stroke-width="3.2" stroke-linejoin="round"/><path d="M751.7 313.8L761.5 328.5L741.9 328.5Z" fill="#fff" stroke="#000000" stroke-width="3.2" stroke-linejoin="round"/><path d="M762.3 320.0L772.1 334.7L752.5 334.7Z" fill="#fff" stroke="#000000" stroke-width="3.2" stroke-linejoin="round"/><path d="M773.0 325.6L782.8 340.3L763.2 340.3Z" fill="#fff" stroke="#000000" stroke-width="3.2" stroke-linejoin="round"/><path d="M783.6 330.5L793.4 345.2L773.8 345.2Z" fill="#fff" stroke="#000000" stroke-width="3.2" stroke-linejoin="round"/><path d="M794.2 335.0L804.0 349.7L784.4 349.7Z" fill="#fff" stroke="#000000" stroke-width="3.2" stroke-linejoin="round"/><path d="M804.8 339.0L814.6 353.7L795.0 353.7Z" fill="#fff" stroke="#000000" stroke-width="3.2" stroke-linejoin="round"/><path d="M815.5 342.7L825.3 357.4L805.7 357.4Z" fill="#fff" stroke="#000000" stroke-width="3.2" stroke-linejoin="round"/><path d="M826.1 346.0L835.9 360.7L816.3 360.7Z" fill="#fff" stroke="#000000" stroke-width="3.2" stroke-linejoin="round"/><path d="M836.7 349.1L846.5 363.8L826.9 363.8Z" fill="#fff" stroke="#000000" stroke-width="3.2" stroke-linejoin="round"/><path d="M847.3 352.0L857.1 366.7L837.5 366.7Z" fill="#fff" stroke="#000000" stroke-width="3.2" stroke-linejoin="round"/><path d="M858.0 354.6L867.8 369.3L848.2 369.3Z" fill="#fff" stroke="#000000" stroke-width="3.2" stroke-linejoin="round"/><path d="M868.6 357.1L878.4 371.8L858.8 371.8Z" fill="#fff" stroke="#000000" stroke-width="3.2" stroke-linejoin="round"/><path d="M879.2 359.4L889.0 374.1L869.4 374.1Z" fill="#fff" stroke="#000000" stroke-width="3.2" stroke-linejoin="round"/><path d="M889.8 361.5L899.6 376.2L880.0 376.2Z" fill="#fff" stroke="#000000" stroke-width="3.2" stroke-linejoin="round"/><path d="M900.4 363.5L910.2 378.2L890.6 378.2Z" fill="#fff" stroke="#000000" stroke-width="3.2" stroke-linejoin="round"/>
<path d="M71.9 24.8L82.5 25.1L93.1 25.4L103.7 25.8L114.3 26.1L125.0 26.5L135.6 27.0L146.2 27.4L156.8 27.9L167.5 28.4L178.1 29.0L188.7 29.6L199.3 30.2L210.0 30.8L220.6 31.5L231.2 32.2L241.8 33.0L252.4 33.8L263.1 34.7L273.7 35.6L284.3 36.5L294.9 37.5L305.6 38.5L316.2 39.6L326.8 40.8L337.4 42.0L348.1 43.3L358.7 44.6L369.3 46.0L379.9 47.4L390.5 49.0L401.2 50.6L411.8 52.3L422.4 54.0L433.0 55.9L443.7 57.9L454.3 59.9L464.9 62.1L475.5 64.3L486.1 66.7L496.8 69.2L507.4 71.9L518.0 74.7L528.6 77.6L539.3 80.8L549.9 84.1L560.5 87.6L571.1 91.3L581.8 95.3L592.4 99.5L603.0 104.0L613.6 108.8L624.2 113.9L634.9 119.5L645.5 125.5L656.1 131.9L666.7 138.8L677.4 146.3L688.0 154.4L698.6 163.1L709.2 172.3L719.9 182.1L730.5 192.3L741.1 202.6L751.7 213.1L762.3 223.2L773.0 233.0L783.6 242.3L794.2 251.0L804.8 259.1L815.5 266.6L826.1 273.5L836.7 279.9L847.3 285.9L858.0 291.3L868.6 296.4L879.2 301.2L889.8 305.6L900.4 309.7L911.1 313.6L921.7 317.2L932.3 320.7L942.9 323.9L953.6 326.9L964.2 329.8L974.8 332.5" fill="none" stroke="#E6200F" stroke-width="3" stroke-linejoin="round" clip-path="url(#ca)"/><rect x="137.6" y="18.8" width="17.2" height="17.2" fill="#E6200F"/><rect x="148.2" y="19.3" width="17.2" height="17.2" fill="#E6200F"/><rect x="158.9" y="19.8" width="17.2" height="17.2" fill="#E6200F"/><rect x="169.5" y="20.4" width="17.2" height="17.2" fill="#E6200F"/><rect x="180.1" y="21.0" width="17.2" height="17.2" fill="#E6200F"/><rect x="190.7" y="21.6" width="17.2" height="17.2" fill="#E6200F"/><rect x="201.4" y="22.2" width="17.2" height="17.2" fill="#E6200F"/><rect x="212.0" y="22.9" width="17.2" height="17.2" fill="#E6200F"/><rect x="222.6" y="23.6" width="17.2" height="17.2" fill="#E6200F"/><rect x="233.2" y="24.4" width="17.2" height="17.2" fill="#E6200F"/><rect x="243.8" y="25.2" width="17.2" height="17.2" fill="#E6200F"/><rect x="254.5" y="26.1" width="17.2" height="17.2" fill="#E6200F"/><rect x="265.1" y="27.0" width="17.2" height="17.2" fill="#E6200F"/><rect x="275.7" y="27.9" width="17.2" height="17.2" fill="#E6200F"/><rect x="286.3" y="28.9" width="17.2" height="17.2" fill="#E6200F"/><rect x="297.0" y="29.9" width="17.2" height="17.2" fill="#E6200F"/><rect x="307.6" y="31.0" width="17.2" height="17.2" fill="#E6200F"/><rect x="318.2" y="32.2" width="17.2" height="17.2" fill="#E6200F"/><rect x="328.8" y="33.4" width="17.2" height="17.2" fill="#E6200F"/><rect x="339.5" y="34.7" width="17.2" height="17.2" fill="#E6200F"/><rect x="350.1" y="36.0" width="17.2" height="17.2" fill="#E6200F"/><rect x="360.7" y="37.4" width="17.2" height="17.2" fill="#E6200F"/><rect x="371.3" y="38.8" width="17.2" height="17.2" fill="#E6200F"/><rect x="381.9" y="40.4" width="17.2" height="17.2" fill="#E6200F"/><rect x="392.6" y="42.0" width="17.2" height="17.2" fill="#E6200F"/><rect x="403.2" y="43.7" width="17.2" height="17.2" fill="#E6200F"/><rect x="413.8" y="45.4" width="17.2" height="17.2" fill="#E6200F"/><rect x="424.4" y="47.3" width="17.2" height="17.2" fill="#E6200F"/><rect x="435.1" y="49.3" width="17.2" height="17.2" fill="#E6200F"/><rect x="445.7" y="51.3" width="17.2" height="17.2" fill="#E6200F"/><rect x="456.3" y="53.5" width="17.2" height="17.2" fill="#E6200F"/><rect x="466.9" y="55.7" width="17.2" height="17.2" fill="#E6200F"/><rect x="477.5" y="58.1" width="17.2" height="17.2" fill="#E6200F"/><rect x="488.2" y="60.6" width="17.2" height="17.2" fill="#E6200F"/><rect x="498.8" y="63.3" width="17.2" height="17.2" fill="#E6200F"/><rect x="509.4" y="66.1" width="17.2" height="17.2" fill="#E6200F"/><rect x="520.0" y="69.0" width="17.2" height="17.2" fill="#E6200F"/><rect x="530.7" y="72.2" width="17.2" height="17.2" fill="#E6200F"/><rect x="541.3" y="75.5" width="17.2" height="17.2" fill="#E6200F"/><rect x="551.9" y="79.0" width="17.2" height="17.2" fill="#E6200F"/><rect x="562.5" y="82.7" width="17.2" height="17.2" fill="#E6200F"/><rect x="573.2" y="86.7" width="17.2" height="17.2" fill="#E6200F"/><rect x="583.8" y="90.9" width="17.2" height="17.2" fill="#E6200F"/><rect x="594.4" y="95.4" width="17.2" height="17.2" fill="#E6200F"/><rect x="605.0" y="100.2" width="17.2" height="17.2" fill="#E6200F"/><rect x="615.6" y="105.3" width="17.2" height="17.2" fill="#E6200F"/><rect x="626.3" y="110.9" width="17.2" height="17.2" fill="#E6200F"/><rect x="636.9" y="116.9" width="17.2" height="17.2" fill="#E6200F"/><rect x="647.5" y="123.3" width="17.2" height="17.2" fill="#E6200F"/><rect x="658.1" y="130.2" width="17.2" height="17.2" fill="#E6200F"/><rect x="668.8" y="137.7" width="17.2" height="17.2" fill="#E6200F"/><rect x="679.4" y="145.8" width="17.2" height="17.2" fill="#E6200F"/><rect x="690.0" y="154.5" width="17.2" height="17.2" fill="#E6200F"/><rect x="700.6" y="163.7" width="17.2" height="17.2" fill="#E6200F"/><rect x="711.3" y="173.5" width="17.2" height="17.2" fill="#E6200F"/><rect x="721.9" y="183.7" width="17.2" height="17.2" fill="#E6200F"/><rect x="732.5" y="194.0" width="17.2" height="17.2" fill="#E6200F"/><rect x="743.1" y="204.5" width="17.2" height="17.2" fill="#E6200F"/><rect x="753.7" y="214.6" width="17.2" height="17.2" fill="#E6200F"/><rect x="764.4" y="224.4" width="17.2" height="17.2" fill="#E6200F"/><rect x="775.0" y="233.7" width="17.2" height="17.2" fill="#E6200F"/><rect x="785.6" y="242.4" width="17.2" height="17.2" fill="#E6200F"/><rect x="796.2" y="250.5" width="17.2" height="17.2" fill="#E6200F"/><rect x="806.9" y="258.0" width="17.2" height="17.2" fill="#E6200F"/><rect x="817.5" y="264.9" width="17.2" height="17.2" fill="#E6200F"/><rect x="828.1" y="271.3" width="17.2" height="17.2" fill="#E6200F"/><rect x="838.7" y="277.3" width="17.2" height="17.2" fill="#E6200F"/><rect x="849.4" y="282.7" width="17.2" height="17.2" fill="#E6200F"/><rect x="860.0" y="287.8" width="17.2" height="17.2" fill="#E6200F"/><rect x="870.6" y="292.6" width="17.2" height="17.2" fill="#E6200F"/><rect x="881.2" y="297.0" width="17.2" height="17.2" fill="#E6200F"/><rect x="891.8" y="301.1" width="17.2" height="17.2" fill="#E6200F"/>
<path d="M967.4 120.1L969.8 119.3L972.2 118.6L974.5 117.8L976.9 117.1L979.3 116.4L981.7 115.7L984.1 115.0L986.5 114.4L988.8 113.7L991.2 113.1L993.6 112.4L996.0 111.8L998.4 111.2L1000.8 110.6L1003.1 110.0L1005.5 109.4L1007.9 108.9L1010.3 108.3L1012.7 107.8L1015.1 107.2L1017.4 106.7L1019.8 106.2L1022.2 105.7L1024.6 105.2L1027.0 104.7L1029.4 104.2L1031.8 103.7L1034.1 103.2L1036.5 102.7L1038.9 102.3L1041.3 101.8L1043.7 101.4L1046.1 100.9L1048.4 100.5L1050.8 100.0L1053.2 99.6L1055.6 99.2L1058.0 98.8L1060.4 98.3L1062.7 97.9L1065.1 97.5L1067.5 97.1L1069.9 96.7L1072.3 96.3L1074.7 96.0L1077.0 95.6L1079.4 95.2L1081.8 94.8L1084.2 94.5L1086.6 94.1L1089.0 93.7L1091.4 93.4L1093.7 93.0L1096.1 92.7L1098.5 92.3L1100.9 92.0L1103.3 91.6L1105.7 91.3L1108.0 91.0L1110.4 90.6L1112.8 90.3L1115.2 90.0L1117.6 89.7L1120.0 89.4L1122.3 89.1L1124.7 88.7L1127.1 88.4L1129.5 88.1L1131.9 87.8L1134.3 87.5L1136.6 87.2L1139.0 86.9L1141.4 86.6L1143.8 86.4L1146.2 86.1L1148.6 85.8L1151.0 85.5L1153.3 85.2L1155.7 85.0L1158.1 84.7L1160.5 84.4L1162.9 84.1L1165.3 83.9L1167.6 83.6L1170.0 83.3L1172.4 83.1L1174.8 82.8L1177.2 82.6L1179.6 82.3L1181.9 82.1L1184.3 81.8L1186.7 81.6L1189.1 81.3L1191.5 81.1L1193.9 80.8L1196.2 80.6L1198.6 80.4L1201.0 80.1L1203.4 79.9L1205.8 79.7L1208.2 79.4L1210.6 79.2L1212.9 79.0L1215.3 78.7L1217.7 78.5L1220.1 78.3L1222.5 78.1L1224.9 77.8L1227.2 77.6L1229.6 77.4L1232.0 77.2L1234.4 77.0L1236.8 76.8L1239.2 76.6L1241.5 76.3L1243.9 76.1L1246.3 75.9L1248.7 75.7L1251.1 75.5L1253.5 75.3L1255.8 75.1L1258.2 74.9L1260.6 74.7L1263.0 74.5L1265.4 74.3L1267.8 74.1L1270.2 73.9L1272.5 73.7L1274.9 73.6L1277.3 73.4L1279.7 73.2L1282.1 73.0L1284.5 72.8L1286.8 72.6L1289.2 72.4L1291.6 72.2L1294.0 72.1L1296.4 71.9L1298.8 71.7L1301.1 71.5L1303.5 71.4L1305.9 71.2L1308.3 71.0L1310.7 70.8L1313.1 70.7L1315.4 70.5L1317.8 70.3L1320.2 70.1L1322.6 70.0L1325.0 69.8L1327.4 69.6L1329.8 69.5L1332.1 69.3L1334.5 69.1L1336.9 69.0L1339.3 68.8L1341.7 68.7L1344.1 68.5L1346.4 68.3L1348.8 68.2L1351.2 68.0L1353.6 67.9L1356.0 67.7L1358.4 67.5L1360.7 67.4L1363.1 67.2L1365.5 67.1L1367.9 66.9L1370.3 66.8L1372.7 66.6L1375.0 66.5L1377.4 66.3L1379.8 66.2L1382.2 66.0L1384.6 65.9L1387.0 65.7L1389.4 65.6L1391.7 65.5L1394.1 65.3L1396.5 65.2L1398.9 65.0L1401.3 64.9L1403.7 64.8L1406.0 64.6L1408.4 64.5L1410.8 64.3L1413.2 64.2L1415.6 64.1L1418.0 63.9L1420.3 63.8L1422.7 63.7L1425.1 63.5L1427.5 63.4L1429.9 63.3L1432.3 63.1L1434.6 63.0L1437.0 62.9L1439.4 62.7L1441.8 62.6L1444.2 62.5L1446.6 62.3L1449.0 62.2L1451.3 62.1L1453.7 62.0L1456.1 61.8L1458.5 61.7L1460.9 61.6L1463.3 61.5L1465.6 61.3L1468.0 61.2L1470.4 61.1L1472.8 61.0L1475.2 60.9L1477.6 60.7L1479.9 60.6L1482.3 60.5L1484.7 60.4L1487.1 60.3L1489.5 60.1L1491.9 60.0L1494.2 59.9L1496.6 59.8L1499.0 59.7L1501.4 59.6L1503.8 59.5L1506.2 59.3L1508.6 59.2L1510.9 59.1L1513.3 59.0L1515.7 58.9L1518.1 58.8L1520.5 58.7L1522.9 58.6L1525.2 58.4L1527.6 58.3L1530.0 58.2L1532.4 58.1L1534.8 58.0L1537.2 57.9L1539.5 57.8L1541.9 57.7L1544.3 57.6L1546.7 57.5L1549.1 57.4L1551.5 57.3L1553.8 57.2L1556.2 57.1L1558.6 57.0L1561.0 56.9L1563.4 56.8L1565.8 56.7L1568.2 56.6L1570.5 56.5L1572.9 56.4L1575.3 56.3L1577.7 56.2L1580.1 56.1L1582.5 56.0L1584.8 55.9L1587.2 55.8L1589.6 55.7L1592.0 55.6L1594.4 55.5L1596.8 55.4L1599.1 55.3L1601.5 55.2L1603.9 55.1L1606.3 55.0L1608.7 54.9L1611.1 54.8L1613.4 54.7L1615.8 54.6L1618.2 54.5L1620.6 54.4L1623.0 54.3L1625.4 54.2L1627.8 54.2L1630.1 54.1L1632.5 54.0L1634.9 53.9L1637.3 53.8L1639.7 53.7L1642.1 53.6L1644.4 53.5L1646.8 53.4L1649.2 53.3L1651.6 53.3L1654.0 53.2L1656.4 53.1L1658.7 53.0L1661.1 52.9L1663.5 52.8L1665.9 52.7L1668.3 52.7L1670.7 52.6L1673.0 52.5L1675.4 52.4L1677.8 52.3L1680.2 52.2" fill="none" stroke="#E6200F" stroke-width="2.5" stroke-linejoin="round" clip-path="url(#cb)"/><rect x="959.3" y="112.0" width="16.2" height="16.2" fill="#fff" stroke="#E6200F" stroke-width="3" stroke-linejoin="round"/><circle cx="967.4" cy="120.1" r="1.50" fill="#E6200F"/><rect x="983.1" y="105.0" width="16.2" height="16.2" fill="#fff" stroke="#E6200F" stroke-width="3" stroke-linejoin="round"/><circle cx="991.2" cy="113.1" r="1.50" fill="#E6200F"/><rect x="1007.0" y="99.1" width="16.2" height="16.2" fill="#fff" stroke="#E6200F" stroke-width="3" stroke-linejoin="round"/><circle cx="1015.1" cy="107.2" r="1.50" fill="#E6200F"/><rect x="1030.8" y="94.2" width="16.2" height="16.2" fill="#fff" stroke="#E6200F" stroke-width="3" stroke-linejoin="round"/><circle cx="1038.9" cy="102.3" r="1.50" fill="#E6200F"/><rect x="1054.6" y="89.8" width="16.2" height="16.2" fill="#fff" stroke="#E6200F" stroke-width="3" stroke-linejoin="round"/><circle cx="1062.7" cy="97.9" r="1.50" fill="#E6200F"/><rect x="1078.5" y="86.0" width="16.2" height="16.2" fill="#fff" stroke="#E6200F" stroke-width="3" stroke-linejoin="round"/><circle cx="1086.6" cy="94.1" r="1.50" fill="#E6200F"/><rect x="1102.3" y="82.5" width="16.2" height="16.2" fill="#fff" stroke="#E6200F" stroke-width="3" stroke-linejoin="round"/><circle cx="1110.4" cy="90.6" r="1.50" fill="#E6200F"/><rect x="1126.2" y="79.4" width="16.2" height="16.2" fill="#fff" stroke="#E6200F" stroke-width="3" stroke-linejoin="round"/><circle cx="1134.3" cy="87.5" r="1.50" fill="#E6200F"/><rect x="1150.0" y="76.6" width="16.2" height="16.2" fill="#fff" stroke="#E6200F" stroke-width="3" stroke-linejoin="round"/><circle cx="1158.1" cy="84.7" r="1.50" fill="#E6200F"/><rect x="1173.8" y="74.0" width="16.2" height="16.2" fill="#fff" stroke="#E6200F" stroke-width="3" stroke-linejoin="round"/><circle cx="1181.9" cy="82.1" r="1.50" fill="#E6200F"/><rect x="1197.7" y="71.6" width="16.2" height="16.2" fill="#fff" stroke="#E6200F" stroke-width="3" stroke-linejoin="round"/><circle cx="1205.8" cy="79.7" r="1.50" fill="#E6200F"/><rect x="1221.5" y="69.3" width="16.2" height="16.2" fill="#fff" stroke="#E6200F" stroke-width="3" stroke-linejoin="round"/><circle cx="1229.6" cy="77.4" r="1.50" fill="#E6200F"/><rect x="1245.4" y="67.2" width="16.2" height="16.2" fill="#fff" stroke="#E6200F" stroke-width="3" stroke-linejoin="round"/><circle cx="1253.5" cy="75.3" r="1.50" fill="#E6200F"/><rect x="1269.2" y="65.3" width="16.2" height="16.2" fill="#fff" stroke="#E6200F" stroke-width="3" stroke-linejoin="round"/><circle cx="1277.3" cy="73.4" r="1.50" fill="#E6200F"/><rect x="1293.0" y="63.4" width="16.2" height="16.2" fill="#fff" stroke="#E6200F" stroke-width="3" stroke-linejoin="round"/><circle cx="1301.1" cy="71.5" r="1.50" fill="#E6200F"/><rect x="1316.9" y="61.7" width="16.2" height="16.2" fill="#fff" stroke="#E6200F" stroke-width="3" stroke-linejoin="round"/><circle cx="1325.0" cy="69.8" r="1.50" fill="#E6200F"/><rect x="1340.7" y="60.1" width="16.2" height="16.2" fill="#fff" stroke="#E6200F" stroke-width="3" stroke-linejoin="round"/><circle cx="1348.8" cy="68.2" r="1.50" fill="#E6200F"/><rect x="1364.6" y="58.5" width="16.2" height="16.2" fill="#fff" stroke="#E6200F" stroke-width="3" stroke-linejoin="round"/><circle cx="1372.7" cy="66.6" r="1.50" fill="#E6200F"/><rect x="1388.4" y="57.1" width="16.2" height="16.2" fill="#fff" stroke="#E6200F" stroke-width="3" stroke-linejoin="round"/><circle cx="1396.5" cy="65.2" r="1.50" fill="#E6200F"/><rect x="1412.2" y="55.7" width="16.2" height="16.2" fill="#fff" stroke="#E6200F" stroke-width="3" stroke-linejoin="round"/><circle cx="1420.3" cy="63.8" r="1.50" fill="#E6200F"/><rect x="1436.1" y="54.4" width="16.2" height="16.2" fill="#fff" stroke="#E6200F" stroke-width="3" stroke-linejoin="round"/><circle cx="1444.2" cy="62.5" r="1.50" fill="#E6200F"/><rect x="1459.9" y="53.1" width="16.2" height="16.2" fill="#fff" stroke="#E6200F" stroke-width="3" stroke-linejoin="round"/><circle cx="1468.0" cy="61.2" r="1.50" fill="#E6200F"/><rect x="1483.8" y="51.9" width="16.2" height="16.2" fill="#fff" stroke="#E6200F" stroke-width="3" stroke-linejoin="round"/><circle cx="1491.9" cy="60.0" r="1.50" fill="#E6200F"/><rect x="1507.6" y="50.8" width="16.2" height="16.2" fill="#fff" stroke="#E6200F" stroke-width="3" stroke-linejoin="round"/><circle cx="1515.7" cy="58.9" r="1.50" fill="#E6200F"/><rect x="1531.4" y="49.7" width="16.2" height="16.2" fill="#fff" stroke="#E6200F" stroke-width="3" stroke-linejoin="round"/><circle cx="1539.5" cy="57.8" r="1.50" fill="#E6200F"/><rect x="1555.3" y="48.7" width="16.2" height="16.2" fill="#fff" stroke="#E6200F" stroke-width="3" stroke-linejoin="round"/><circle cx="1563.4" cy="56.8" r="1.50" fill="#E6200F"/><rect x="1579.1" y="47.7" width="16.2" height="16.2" fill="#fff" stroke="#E6200F" stroke-width="3" stroke-linejoin="round"/><circle cx="1587.2" cy="55.8" r="1.50" fill="#E6200F"/><rect x="1603.0" y="46.7" width="16.2" height="16.2" fill="#fff" stroke="#E6200F" stroke-width="3" stroke-linejoin="round"/><circle cx="1611.1" cy="54.8" r="1.50" fill="#E6200F"/><rect x="1626.8" y="45.8" width="16.2" height="16.2" fill="#fff" stroke="#E6200F" stroke-width="3" stroke-linejoin="round"/><circle cx="1634.9" cy="53.9" r="1.50" fill="#E6200F"/><rect x="1650.6" y="44.9" width="16.2" height="16.2" fill="#fff" stroke="#E6200F" stroke-width="3" stroke-linejoin="round"/><circle cx="1658.7" cy="53.0" r="1.50" fill="#E6200F"/>
<path d="M965.0 457.0L967.4 441.1L969.8 224.0L972.2 206.6L974.5 198.0L976.9 191.9L979.3 186.9L981.7 182.7L984.1 179.1L986.5 175.8L988.8 172.9L991.2 170.2L993.6 167.7L996.0 165.5L998.4 163.3L1000.8 161.3L1003.1 159.4L1005.5 157.6L1007.9 155.9L1010.3 154.2L1012.7 152.7L1015.1 151.2L1017.4 149.7L1019.8 148.3L1022.2 147.0L1024.6 145.7L1027.0 144.5L1029.4 143.3L1031.8 142.1L1034.1 141.0L1036.5 139.9L1038.9 138.9L1041.3 137.8L1043.7 136.8L1046.1 135.8L1048.4 134.9L1050.8 134.0L1053.2 133.1L1055.6 132.2L1058.0 131.3L1060.4 130.5L1062.7 129.6L1065.1 128.8L1067.5 128.0L1069.9 127.3L1072.3 126.5L1074.7 125.7L1077.0 125.0L1079.4 124.3L1081.8 123.6L1084.2 122.9L1086.6 122.2L1089.0 121.6L1091.4 120.9L1093.7 120.3L1096.1 119.6L1098.5 119.0L1100.9 118.4L1103.3 117.8L1105.7 117.2L1108.0 116.6L1110.4 116.0L1112.8 115.5L1115.2 114.9L1117.6 114.3L1120.0 113.8L1122.3 113.3L1124.7 112.7L1127.1 112.2L1129.5 111.7L1131.9 111.2L1134.3 110.7L1136.6 110.2L1139.0 109.7L1141.4 109.2L1143.8 108.8L1146.2 108.3L1148.6 107.8L1151.0 107.4L1153.3 106.9L1155.7 106.5L1158.1 106.0L1160.5 105.6L1162.9 105.2L1165.3 104.7L1167.6 104.3L1170.0 103.9L1172.4 103.5L1174.8 103.1L1177.2 102.7L1179.6 102.3L1181.9 101.9L1184.3 101.5L1186.7 101.1L1189.1 100.7L1191.5 100.3L1193.9 100.0L1196.2 99.6L1198.6 99.2L1201.0 98.9L1203.4 98.5L1205.8 98.1L1208.2 97.8L1210.6 97.4L1212.9 97.1L1215.3 96.8L1217.7 96.4L1220.1 96.1L1222.5 95.7L1224.9 95.4L1227.2 95.1L1229.6 94.8L1232.0 94.4L1234.4 94.1L1236.8 93.8L1239.2 93.5L1241.5 93.2L1243.9 92.9L1246.3 92.6L1248.7 92.3L1251.1 92.0L1253.5 91.7L1255.8 91.4L1258.2 91.1L1260.6 90.8L1263.0 90.5L1265.4 90.2L1267.8 89.9L1270.2 89.6L1272.5 89.4L1274.9 89.1L1277.3 88.8L1279.7 88.5L1282.1 88.3L1284.5 88.0L1286.8 87.7L1289.2 87.5L1291.6 87.2L1294.0 86.9L1296.4 86.7L1298.8 86.4L1301.1 86.2L1303.5 85.9L1305.9 85.7L1308.3 85.4L1310.7 85.2L1313.1 84.9L1315.4 84.7L1317.8 84.4L1320.2 84.2L1322.6 84.0L1325.0 83.7L1327.4 83.5L1329.8 83.3L1332.1 83.0L1334.5 82.8L1336.9 82.6L1339.3 82.3L1341.7 82.1L1344.1 81.9L1346.4 81.7L1348.8 81.5L1351.2 81.2L1353.6 81.0L1356.0 80.8L1358.4 80.6L1360.7 80.4L1363.1 80.2L1365.5 79.9L1367.9 79.7L1370.3 79.5L1372.7 79.3L1375.0 79.1L1377.4 78.9L1379.8 78.7L1382.2 78.5L1384.6 78.3L1387.0 78.1L1389.4 77.9L1391.7 77.7L1394.1 77.5L1396.5 77.3L1398.9 77.1L1401.3 76.9L1403.7 76.7L1406.0 76.5L1408.4 76.4L1410.8 76.2L1413.2 76.0L1415.6 75.8L1418.0 75.6L1420.3 75.4L1422.7 75.2L1425.1 75.1L1427.5 74.9L1429.9 74.7L1432.3 74.5L1434.6 74.3L1437.0 74.2L1439.4 74.0L1441.8 73.8L1444.2 73.6L1446.6 73.5L1449.0 73.3L1451.3 73.1L1453.7 73.0L1456.1 72.8L1458.5 72.6L1460.9 72.4L1463.3 72.3L1465.6 72.1L1468.0 72.0L1470.4 71.8L1472.8 71.6L1475.2 71.5L1477.6 71.3L1479.9 71.1L1482.3 71.0L1484.7 70.8L1487.1 70.7L1489.5 70.5L1491.9 70.4L1494.2 70.2L1496.6 70.0L1499.0 69.9L1501.4 69.7L1503.8 69.6L1506.2 69.4L1508.6 69.3L1510.9 69.1L1513.3 69.0L1515.7 68.8L1518.1 68.7L1520.5 68.5L1522.9 68.4L1525.2 68.3L1527.6 68.1L1530.0 68.0L1532.4 67.8L1534.8 67.7L1537.2 67.5L1539.5 67.4L1541.9 67.3L1544.3 67.1L1546.7 67.0L1549.1 66.8L1551.5 66.7L1553.8 66.6L1556.2 66.4L1558.6 66.3L1561.0 66.2L1563.4 66.0L1565.8 65.9L1568.2 65.8L1570.5 65.6L1572.9 65.5L1575.3 65.4L1577.7 65.2L1580.1 65.1L1582.5 65.0L1584.8 64.8L1587.2 64.7L1589.6 64.6L1592.0 64.5L1594.4 64.3L1596.8 64.2L1599.1 64.1L1601.5 64.0L1603.9 63.8L1606.3 63.7L1608.7 63.6L1611.1 63.5L1613.4 63.3L1615.8 63.2L1618.2 63.1L1620.6 63.0L1623.0 62.9L1625.4 62.7L1627.8 62.6L1630.1 62.5L1632.5 62.4L1634.9 62.3L1637.3 62.1L1639.7 62.0L1642.1 61.9L1644.4 61.8L1646.8 61.7L1649.2 61.6L1651.6 61.5L1654.0 61.3L1656.4 61.2L1658.7 61.1L1661.1 61.0L1663.5 60.9L1665.9 60.8L1668.3 60.7L1670.7 60.6L1673.0 60.5L1675.4 60.3L1677.8 60.2L1680.2 60.1" fill="none" stroke="#0000FF" stroke-width="2.5" stroke-linejoin="round" clip-path="url(#cb)"/><circle cx="965.0" cy="457.0" r="9.25" fill="none" stroke="#0000FF" stroke-width="3"/><circle cx="965.0" cy="457.0" r="7.05" fill="#fff"/><circle cx="965.0" cy="457.0" r="1.50" fill="#0000FF"/><circle cx="967.4" cy="441.1" r="9.25" fill="none" stroke="#0000FF" stroke-width="3"/><circle cx="967.4" cy="441.1" r="7.05" fill="#fff"/><circle cx="967.4" cy="441.1" r="1.50" fill="#0000FF"/><circle cx="969.8" cy="224.0" r="9.25" fill="none" stroke="#0000FF" stroke-width="3"/><circle cx="969.8" cy="224.0" r="7.05" fill="#fff"/><circle cx="969.8" cy="224.0" r="1.50" fill="#0000FF"/><circle cx="972.2" cy="206.6" r="9.25" fill="none" stroke="#0000FF" stroke-width="3"/><circle cx="972.2" cy="206.6" r="7.05" fill="#fff"/><circle cx="972.2" cy="206.6" r="1.50" fill="#0000FF"/><circle cx="974.5" cy="198.0" r="9.25" fill="none" stroke="#0000FF" stroke-width="3"/><circle cx="974.5" cy="198.0" r="7.05" fill="#fff"/><circle cx="974.5" cy="198.0" r="1.50" fill="#0000FF"/><circle cx="976.9" cy="191.9" r="9.25" fill="none" stroke="#0000FF" stroke-width="3"/><circle cx="976.9" cy="191.9" r="7.05" fill="#fff"/><circle cx="976.9" cy="191.9" r="1.50" fill="#0000FF"/><circle cx="979.3" cy="186.9" r="9.25" fill="none" stroke="#0000FF" stroke-width="3"/><circle cx="979.3" cy="186.9" r="7.05" fill="#fff"/><circle cx="979.3" cy="186.9" r="1.50" fill="#0000FF"/><circle cx="981.7" cy="182.7" r="9.25" fill="none" stroke="#0000FF" stroke-width="3"/><circle cx="981.7" cy="182.7" r="7.05" fill="#fff"/><circle cx="981.7" cy="182.7" r="1.50" fill="#0000FF"/><circle cx="984.1" cy="179.1" r="9.25" fill="none" stroke="#0000FF" stroke-width="3"/><circle cx="984.1" cy="179.1" r="7.05" fill="#fff"/><circle cx="984.1" cy="179.1" r="1.50" fill="#0000FF"/><circle cx="986.5" cy="175.8" r="9.25" fill="none" stroke="#0000FF" stroke-width="3"/><circle cx="986.5" cy="175.8" r="7.05" fill="#fff"/><circle cx="986.5" cy="175.8" r="1.50" fill="#0000FF"/><circle cx="988.8" cy="172.9" r="9.25" fill="none" stroke="#0000FF" stroke-width="3"/><circle cx="988.8" cy="172.9" r="7.05" fill="#fff"/><circle cx="988.8" cy="172.9" r="1.50" fill="#0000FF"/><circle cx="991.2" cy="170.2" r="9.25" fill="none" stroke="#0000FF" stroke-width="3"/><circle cx="991.2" cy="170.2" r="7.05" fill="#fff"/><circle cx="991.2" cy="170.2" r="1.50" fill="#0000FF"/><circle cx="993.6" cy="167.7" r="9.25" fill="none" stroke="#0000FF" stroke-width="3"/><circle cx="993.6" cy="167.7" r="7.05" fill="#fff"/><circle cx="993.6" cy="167.7" r="1.50" fill="#0000FF"/><circle cx="996.0" cy="165.5" r="9.25" fill="none" stroke="#0000FF" stroke-width="3"/><circle cx="996.0" cy="165.5" r="7.05" fill="#fff"/><circle cx="996.0" cy="165.5" r="1.50" fill="#0000FF"/><circle cx="998.4" cy="163.3" r="9.25" fill="none" stroke="#0000FF" stroke-width="3"/><circle cx="998.4" cy="163.3" r="7.05" fill="#fff"/><circle cx="998.4" cy="163.3" r="1.50" fill="#0000FF"/><circle cx="1000.8" cy="161.3" r="9.25" fill="none" stroke="#0000FF" stroke-width="3"/><circle cx="1000.8" cy="161.3" r="7.05" fill="#fff"/><circle cx="1000.8" cy="161.3" r="1.50" fill="#0000FF"/><circle cx="1003.1" cy="159.4" r="9.25" fill="none" stroke="#0000FF" stroke-width="3"/><circle cx="1003.1" cy="159.4" r="7.05" fill="#fff"/><circle cx="1003.1" cy="159.4" r="1.50" fill="#0000FF"/><circle cx="1005.5" cy="157.6" r="9.25" fill="none" stroke="#0000FF" stroke-width="3"/><circle cx="1005.5" cy="157.6" r="7.05" fill="#fff"/><circle cx="1005.5" cy="157.6" r="1.50" fill="#0000FF"/><circle cx="1007.9" cy="155.9" r="9.25" fill="none" stroke="#0000FF" stroke-width="3"/><circle cx="1007.9" cy="155.9" r="7.05" fill="#fff"/><circle cx="1007.9" cy="155.9" r="1.50" fill="#0000FF"/><circle cx="1010.3" cy="154.2" r="9.25" fill="none" stroke="#0000FF" stroke-width="3"/><circle cx="1010.3" cy="154.2" r="7.05" fill="#fff"/><circle cx="1010.3" cy="154.2" r="1.50" fill="#0000FF"/><circle cx="1012.7" cy="152.7" r="9.25" fill="none" stroke="#0000FF" stroke-width="3"/><circle cx="1012.7" cy="152.7" r="7.05" fill="#fff"/><circle cx="1012.7" cy="152.7" r="1.50" fill="#0000FF"/><circle cx="1015.1" cy="151.2" r="9.25" fill="none" stroke="#0000FF" stroke-width="3"/><circle cx="1015.1" cy="151.2" r="7.05" fill="#fff"/><circle cx="1015.1" cy="151.2" r="1.50" fill="#0000FF"/><circle cx="1017.4" cy="149.7" r="9.25" fill="none" stroke="#0000FF" stroke-width="3"/><circle cx="1017.4" cy="149.7" r="7.05" fill="#fff"/><circle cx="1017.4" cy="149.7" r="1.50" fill="#0000FF"/><circle cx="1019.8" cy="148.3" r="9.25" fill="none" stroke="#0000FF" stroke-width="3"/><circle cx="1019.8" cy="148.3" r="7.05" fill="#fff"/><circle cx="1019.8" cy="148.3" r="1.50" fill="#0000FF"/><circle cx="1022.2" cy="147.0" r="9.25" fill="none" stroke="#0000FF" stroke-width="3"/><circle cx="1022.2" cy="147.0" r="7.05" fill="#fff"/><circle cx="1022.2" cy="147.0" r="1.50" fill="#0000FF"/><circle cx="1024.6" cy="145.7" r="9.25" fill="none" stroke="#0000FF" stroke-width="3"/><circle cx="1024.6" cy="145.7" r="7.05" fill="#fff"/><circle cx="1024.6" cy="145.7" r="1.50" fill="#0000FF"/><circle cx="1027.0" cy="144.5" r="9.25" fill="none" stroke="#0000FF" stroke-width="3"/><circle cx="1027.0" cy="144.5" r="7.05" fill="#fff"/><circle cx="1027.0" cy="144.5" r="1.50" fill="#0000FF"/><circle cx="1029.4" cy="143.3" r="9.25" fill="none" stroke="#0000FF" stroke-width="3"/><circle cx="1029.4" cy="143.3" r="7.05" fill="#fff"/><circle cx="1029.4" cy="143.3" r="1.50" fill="#0000FF"/><circle cx="1031.8" cy="142.1" r="9.25" fill="none" stroke="#0000FF" stroke-width="3"/><circle cx="1031.8" cy="142.1" r="7.05" fill="#fff"/><circle cx="1031.8" cy="142.1" r="1.50" fill="#0000FF"/><circle cx="1034.1" cy="141.0" r="9.25" fill="none" stroke="#0000FF" stroke-width="3"/><circle cx="1034.1" cy="141.0" r="7.05" fill="#fff"/><circle cx="1034.1" cy="141.0" r="1.50" fill="#0000FF"/><circle cx="1036.5" cy="139.9" r="9.25" fill="none" stroke="#0000FF" stroke-width="3"/><circle cx="1036.5" cy="139.9" r="7.05" fill="#fff"/><circle cx="1036.5" cy="139.9" r="1.50" fill="#0000FF"/><circle cx="1038.9" cy="138.9" r="9.25" fill="none" stroke="#0000FF" stroke-width="3"/><circle cx="1038.9" cy="138.9" r="7.05" fill="#fff"/><circle cx="1038.9" cy="138.9" r="1.50" fill="#0000FF"/><circle cx="1041.3" cy="137.8" r="9.25" fill="none" stroke="#0000FF" stroke-width="3"/><circle cx="1041.3" cy="137.8" r="7.05" fill="#fff"/><circle cx="1041.3" cy="137.8" r="1.50" fill="#0000FF"/><circle cx="1043.7" cy="136.8" r="9.25" fill="none" stroke="#0000FF" stroke-width="3"/><circle cx="1043.7" cy="136.8" r="7.05" fill="#fff"/><circle cx="1043.7" cy="136.8" r="1.50" fill="#0000FF"/><circle cx="1046.1" cy="135.8" r="9.25" fill="none" stroke="#0000FF" stroke-width="3"/><circle cx="1046.1" cy="135.8" r="7.05" fill="#fff"/><circle cx="1046.1" cy="135.8" r="1.50" fill="#0000FF"/><circle cx="1048.4" cy="134.9" r="9.25" fill="none" stroke="#0000FF" stroke-width="3"/><circle cx="1048.4" cy="134.9" r="7.05" fill="#fff"/><circle cx="1048.4" cy="134.9" r="1.50" fill="#0000FF"/><circle cx="1050.8" cy="134.0" r="9.25" fill="none" stroke="#0000FF" stroke-width="3"/><circle cx="1050.8" cy="134.0" r="7.05" fill="#fff"/><circle cx="1050.8" cy="134.0" r="1.50" fill="#0000FF"/><circle cx="1053.2" cy="133.1" r="9.25" fill="none" stroke="#0000FF" stroke-width="3"/><circle cx="1053.2" cy="133.1" r="7.05" fill="#fff"/><circle cx="1053.2" cy="133.1" r="1.50" fill="#0000FF"/><circle cx="1055.6" cy="132.2" r="9.25" fill="none" stroke="#0000FF" stroke-width="3"/><circle cx="1055.6" cy="132.2" r="7.05" fill="#fff"/><circle cx="1055.6" cy="132.2" r="1.50" fill="#0000FF"/><circle cx="1058.0" cy="131.3" r="9.25" fill="none" stroke="#0000FF" stroke-width="3"/><circle cx="1058.0" cy="131.3" r="7.05" fill="#fff"/><circle cx="1058.0" cy="131.3" r="1.50" fill="#0000FF"/><circle cx="1060.4" cy="130.5" r="9.25" fill="none" stroke="#0000FF" stroke-width="3"/><circle cx="1060.4" cy="130.5" r="7.05" fill="#fff"/><circle cx="1060.4" cy="130.5" r="1.50" fill="#0000FF"/><circle cx="1062.7" cy="129.6" r="9.25" fill="none" stroke="#0000FF" stroke-width="3"/><circle cx="1062.7" cy="129.6" r="7.05" fill="#fff"/><circle cx="1062.7" cy="129.6" r="1.50" fill="#0000FF"/><circle cx="1065.1" cy="128.8" r="9.25" fill="none" stroke="#0000FF" stroke-width="3"/><circle cx="1065.1" cy="128.8" r="7.05" fill="#fff"/><circle cx="1065.1" cy="128.8" r="1.50" fill="#0000FF"/><circle cx="1067.5" cy="128.0" r="9.25" fill="none" stroke="#0000FF" stroke-width="3"/><circle cx="1067.5" cy="128.0" r="7.05" fill="#fff"/><circle cx="1067.5" cy="128.0" r="1.50" fill="#0000FF"/><circle cx="1069.9" cy="127.3" r="9.25" fill="none" stroke="#0000FF" stroke-width="3"/><circle cx="1069.9" cy="127.3" r="7.05" fill="#fff"/><circle cx="1069.9" cy="127.3" r="1.50" fill="#0000FF"/><circle cx="1072.3" cy="126.5" r="9.25" fill="none" stroke="#0000FF" stroke-width="3"/><circle cx="1072.3" cy="126.5" r="7.05" fill="#fff"/><circle cx="1072.3" cy="126.5" r="1.50" fill="#0000FF"/><circle cx="1074.7" cy="125.7" r="9.25" fill="none" stroke="#0000FF" stroke-width="3"/><circle cx="1074.7" cy="125.7" r="7.05" fill="#fff"/><circle cx="1074.7" cy="125.7" r="1.50" fill="#0000FF"/><circle cx="1077.0" cy="125.0" r="9.25" fill="none" stroke="#0000FF" stroke-width="3"/><circle cx="1077.0" cy="125.0" r="7.05" fill="#fff"/><circle cx="1077.0" cy="125.0" r="1.50" fill="#0000FF"/><circle cx="1079.4" cy="124.3" r="9.25" fill="none" stroke="#0000FF" stroke-width="3"/><circle cx="1079.4" cy="124.3" r="7.05" fill="#fff"/><circle cx="1079.4" cy="124.3" r="1.50" fill="#0000FF"/><circle cx="1081.8" cy="123.6" r="9.25" fill="none" stroke="#0000FF" stroke-width="3"/><circle cx="1081.8" cy="123.6" r="7.05" fill="#fff"/><circle cx="1081.8" cy="123.6" r="1.50" fill="#0000FF"/><circle cx="1084.2" cy="122.9" r="9.25" fill="none" stroke="#0000FF" stroke-width="3"/><circle cx="1084.2" cy="122.9" r="7.05" fill="#fff"/><circle cx="1084.2" cy="122.9" r="1.50" fill="#0000FF"/><circle cx="1086.6" cy="122.2" r="9.25" fill="none" stroke="#0000FF" stroke-width="3"/><circle cx="1086.6" cy="122.2" r="7.05" fill="#fff"/><circle cx="1086.6" cy="122.2" r="1.50" fill="#0000FF"/><circle cx="1089.0" cy="121.6" r="9.25" fill="none" stroke="#0000FF" stroke-width="3"/><circle cx="1089.0" cy="121.6" r="7.05" fill="#fff"/><circle cx="1089.0" cy="121.6" r="1.50" fill="#0000FF"/><circle cx="1091.4" cy="120.9" r="9.25" fill="none" stroke="#0000FF" stroke-width="3"/><circle cx="1091.4" cy="120.9" r="7.05" fill="#fff"/><circle cx="1091.4" cy="120.9" r="1.50" fill="#0000FF"/><circle cx="1093.7" cy="120.3" r="9.25" fill="none" stroke="#0000FF" stroke-width="3"/><circle cx="1093.7" cy="120.3" r="7.05" fill="#fff"/><circle cx="1093.7" cy="120.3" r="1.50" fill="#0000FF"/><circle cx="1096.1" cy="119.6" r="9.25" fill="none" stroke="#0000FF" stroke-width="3"/><circle cx="1096.1" cy="119.6" r="7.05" fill="#fff"/><circle cx="1096.1" cy="119.6" r="1.50" fill="#0000FF"/><circle cx="1098.5" cy="119.0" r="9.25" fill="none" stroke="#0000FF" stroke-width="3"/><circle cx="1098.5" cy="119.0" r="7.05" fill="#fff"/><circle cx="1098.5" cy="119.0" r="1.50" fill="#0000FF"/><circle cx="1100.9" cy="118.4" r="9.25" fill="none" stroke="#0000FF" stroke-width="3"/><circle cx="1100.9" cy="118.4" r="7.05" fill="#fff"/><circle cx="1100.9" cy="118.4" r="1.50" fill="#0000FF"/><circle cx="1103.3" cy="117.8" r="9.25" fill="none" stroke="#0000FF" stroke-width="3"/><circle cx="1103.3" cy="117.8" r="7.05" fill="#fff"/><circle cx="1103.3" cy="117.8" r="1.50" fill="#0000FF"/><circle cx="1105.7" cy="117.2" r="9.25" fill="none" stroke="#0000FF" stroke-width="3"/><circle cx="1105.7" cy="117.2" r="7.05" fill="#fff"/><circle cx="1105.7" cy="117.2" r="1.50" fill="#0000FF"/><circle cx="1108.0" cy="116.6" r="9.25" fill="none" stroke="#0000FF" stroke-width="3"/><circle cx="1108.0" cy="116.6" r="7.05" fill="#fff"/><circle cx="1108.0" cy="116.6" r="1.50" fill="#0000FF"/><circle cx="1110.4" cy="116.0" r="9.25" fill="none" stroke="#0000FF" stroke-width="3"/><circle cx="1110.4" cy="116.0" r="7.05" fill="#fff"/><circle cx="1110.4" cy="116.0" r="1.50" fill="#0000FF"/><circle cx="1112.8" cy="115.5" r="9.25" fill="none" stroke="#0000FF" stroke-width="3"/><circle cx="1112.8" cy="115.5" r="7.05" fill="#fff"/><circle cx="1112.8" cy="115.5" r="1.50" fill="#0000FF"/><circle cx="1115.2" cy="114.9" r="9.25" fill="none" stroke="#0000FF" stroke-width="3"/><circle cx="1115.2" cy="114.9" r="7.05" fill="#fff"/><circle cx="1115.2" cy="114.9" r="1.50" fill="#0000FF"/><circle cx="1117.6" cy="114.3" r="9.25" fill="none" stroke="#0000FF" stroke-width="3"/><circle cx="1117.6" cy="114.3" r="7.05" fill="#fff"/><circle cx="1117.6" cy="114.3" r="1.50" fill="#0000FF"/><circle cx="1120.0" cy="113.8" r="9.25" fill="none" stroke="#0000FF" stroke-width="3"/><circle cx="1120.0" cy="113.8" r="7.05" fill="#fff"/><circle cx="1120.0" cy="113.8" r="1.50" fill="#0000FF"/><circle cx="1122.3" cy="113.3" r="9.25" fill="none" stroke="#0000FF" stroke-width="3"/><circle cx="1122.3" cy="113.3" r="7.05" fill="#fff"/><circle cx="1122.3" cy="113.3" r="1.50" fill="#0000FF"/><circle cx="1124.7" cy="112.7" r="9.25" fill="none" stroke="#0000FF" stroke-width="3"/><circle cx="1124.7" cy="112.7" r="7.05" fill="#fff"/><circle cx="1124.7" cy="112.7" r="1.50" fill="#0000FF"/><circle cx="1127.1" cy="112.2" r="9.25" fill="none" stroke="#0000FF" stroke-width="3"/><circle cx="1127.1" cy="112.2" r="7.05" fill="#fff"/><circle cx="1127.1" cy="112.2" r="1.50" fill="#0000FF"/><circle cx="1129.5" cy="111.7" r="9.25" fill="none" stroke="#0000FF" stroke-width="3"/><circle cx="1129.5" cy="111.7" r="7.05" fill="#fff"/><circle cx="1129.5" cy="111.7" r="1.50" fill="#0000FF"/><circle cx="1131.9" cy="111.2" r="9.25" fill="none" stroke="#0000FF" stroke-width="3"/><circle cx="1131.9" cy="111.2" r="7.05" fill="#fff"/><circle cx="1131.9" cy="111.2" r="1.50" fill="#0000FF"/><circle cx="1134.3" cy="110.7" r="9.25" fill="none" stroke="#0000FF" stroke-width="3"/><circle cx="1134.3" cy="110.7" r="7.05" fill="#fff"/><circle cx="1134.3" cy="110.7" r="1.50" fill="#0000FF"/><circle cx="1136.6" cy="110.2" r="9.25" fill="none" stroke="#0000FF" stroke-width="3"/><circle cx="1136.6" cy="110.2" r="7.05" fill="#fff"/><circle cx="1136.6" cy="110.2" r="1.50" fill="#0000FF"/><circle cx="1139.0" cy="109.7" r="9.25" fill="none" stroke="#0000FF" stroke-width="3"/><circle cx="1139.0" cy="109.7" r="7.05" fill="#fff"/><circle cx="1139.0" cy="109.7" r="1.50" fill="#0000FF"/><circle cx="1141.4" cy="109.2" r="9.25" fill="none" stroke="#0000FF" stroke-width="3"/><circle cx="1141.4" cy="109.2" r="7.05" fill="#fff"/><circle cx="1141.4" cy="109.2" r="1.50" fill="#0000FF"/><circle cx="1143.8" cy="108.8" r="9.25" fill="none" stroke="#0000FF" stroke-width="3"/><circle cx="1143.8" cy="108.8" r="7.05" fill="#fff"/><circle cx="1143.8" cy="108.8" r="1.50" fill="#0000FF"/><circle cx="1146.2" cy="108.3" r="9.25" fill="none" stroke="#0000FF" stroke-width="3"/><circle cx="1146.2" cy="108.3" r="7.05" fill="#fff"/><circle cx="1146.2" cy="108.3" r="1.50" fill="#0000FF"/><circle cx="1148.6" cy="107.8" r="9.25" fill="none" stroke="#0000FF" stroke-width="3"/><circle cx="1148.6" cy="107.8" r="7.05" fill="#fff"/><circle cx="1148.6" cy="107.8" r="1.50" fill="#0000FF"/><circle cx="1151.0" cy="107.4" r="9.25" fill="none" stroke="#0000FF" stroke-width="3"/><circle cx="1151.0" cy="107.4" r="7.05" fill="#fff"/><circle cx="1151.0" cy="107.4" r="1.50" fill="#0000FF"/><circle cx="1153.3" cy="106.9" r="9.25" fill="none" stroke="#0000FF" stroke-width="3"/><circle cx="1153.3" cy="106.9" r="7.05" fill="#fff"/><circle cx="1153.3" cy="106.9" r="1.50" fill="#0000FF"/><circle cx="1155.7" cy="106.5" r="9.25" fill="none" stroke="#0000FF" stroke-width="3"/><circle cx="1155.7" cy="106.5" r="7.05" fill="#fff"/><circle cx="1155.7" cy="106.5" r="1.50" fill="#0000FF"/><circle cx="1158.1" cy="106.0" r="9.25" fill="none" stroke="#0000FF" stroke-width="3"/><circle cx="1158.1" cy="106.0" r="7.05" fill="#fff"/><circle cx="1158.1" cy="106.0" r="1.50" fill="#0000FF"/><circle cx="1160.5" cy="105.6" r="9.25" fill="none" stroke="#0000FF" stroke-width="3"/><circle cx="1160.5" cy="105.6" r="7.05" fill="#fff"/><circle cx="1160.5" cy="105.6" r="1.50" fill="#0000FF"/><circle cx="1162.9" cy="105.2" r="9.25" fill="none" stroke="#0000FF" stroke-width="3"/><circle cx="1162.9" cy="105.2" r="7.05" fill="#fff"/><circle cx="1162.9" cy="105.2" r="1.50" fill="#0000FF"/><circle cx="1165.3" cy="104.7" r="9.25" fill="none" stroke="#0000FF" stroke-width="3"/><circle cx="1165.3" cy="104.7" r="7.05" fill="#fff"/><circle cx="1165.3" cy="104.7" r="1.50" fill="#0000FF"/><circle cx="1167.6" cy="104.3" r="9.25" fill="none" stroke="#0000FF" stroke-width="3"/><circle cx="1167.6" cy="104.3" r="7.05" fill="#fff"/><circle cx="1167.6" cy="104.3" r="1.50" fill="#0000FF"/><circle cx="1170.0" cy="103.9" r="9.25" fill="none" stroke="#0000FF" stroke-width="3"/><circle cx="1170.0" cy="103.9" r="7.05" fill="#fff"/><circle cx="1170.0" cy="103.9" r="1.50" fill="#0000FF"/><circle cx="1172.4" cy="103.5" r="9.25" fill="none" stroke="#0000FF" stroke-width="3"/><circle cx="1172.4" cy="103.5" r="7.05" fill="#fff"/><circle cx="1172.4" cy="103.5" r="1.50" fill="#0000FF"/><circle cx="1174.8" cy="103.1" r="9.25" fill="none" stroke="#0000FF" stroke-width="3"/><circle cx="1174.8" cy="103.1" r="7.05" fill="#fff"/><circle cx="1174.8" cy="103.1" r="1.50" fill="#0000FF"/><circle cx="1177.2" cy="102.7" r="9.25" fill="none" stroke="#0000FF" stroke-width="3"/><circle cx="1177.2" cy="102.7" r="7.05" fill="#fff"/><circle cx="1177.2" cy="102.7" r="1.50" fill="#0000FF"/><circle cx="1179.6" cy="102.3" r="9.25" fill="none" stroke="#0000FF" stroke-width="3"/><circle cx="1179.6" cy="102.3" r="7.05" fill="#fff"/><circle cx="1179.6" cy="102.3" r="1.50" fill="#0000FF"/><circle cx="1181.9" cy="101.9" r="9.25" fill="none" stroke="#0000FF" stroke-width="3"/><circle cx="1181.9" cy="101.9" r="7.05" fill="#fff"/><circle cx="1181.9" cy="101.9" r="1.50" fill="#0000FF"/><circle cx="1184.3" cy="101.5" r="9.25" fill="none" stroke="#0000FF" stroke-width="3"/><circle cx="1184.3" cy="101.5" r="7.05" fill="#fff"/><circle cx="1184.3" cy="101.5" r="1.50" fill="#0000FF"/><circle cx="1186.7" cy="101.1" r="9.25" fill="none" stroke="#0000FF" stroke-width="3"/><circle cx="1186.7" cy="101.1" r="7.05" fill="#fff"/><circle cx="1186.7" cy="101.1" r="1.50" fill="#0000FF"/><circle cx="1189.1" cy="100.7" r="9.25" fill="none" stroke="#0000FF" stroke-width="3"/><circle cx="1189.1" cy="100.7" r="7.05" fill="#fff"/><circle cx="1189.1" cy="100.7" r="1.50" fill="#0000FF"/><circle cx="1191.5" cy="100.3" r="9.25" fill="none" stroke="#0000FF" stroke-width="3"/><circle cx="1191.5" cy="100.3" r="7.05" fill="#fff"/><circle cx="1191.5" cy="100.3" r="1.50" fill="#0000FF"/><circle cx="1193.9" cy="100.0" r="9.25" fill="none" stroke="#0000FF" stroke-width="3"/><circle cx="1193.9" cy="100.0" r="7.05" fill="#fff"/><circle cx="1193.9" cy="100.0" r="1.50" fill="#0000FF"/><circle cx="1196.2" cy="99.6" r="9.25" fill="none" stroke="#0000FF" stroke-width="3"/><circle cx="1196.2" cy="99.6" r="7.05" fill="#fff"/><circle cx="1196.2" cy="99.6" r="1.50" fill="#0000FF"/><circle cx="1198.6" cy="99.2" r="9.25" fill="none" stroke="#0000FF" stroke-width="3"/><circle cx="1198.6" cy="99.2" r="7.05" fill="#fff"/><circle cx="1198.6" cy="99.2" r="1.50" fill="#0000FF"/><circle cx="1201.0" cy="98.9" r="9.25" fill="none" stroke="#0000FF" stroke-width="3"/><circle cx="1201.0" cy="98.9" r="7.05" fill="#fff"/><circle cx="1201.0" cy="98.9" r="1.50" fill="#0000FF"/><circle cx="1203.4" cy="98.5" r="9.25" fill="none" stroke="#0000FF" stroke-width="3"/><circle cx="1203.4" cy="98.5" r="7.05" fill="#fff"/><circle cx="1203.4" cy="98.5" r="1.50" fill="#0000FF"/><circle cx="1205.8" cy="98.1" r="9.25" fill="none" stroke="#0000FF" stroke-width="3"/><circle cx="1205.8" cy="98.1" r="7.05" fill="#fff"/><circle cx="1205.8" cy="98.1" r="1.50" fill="#0000FF"/><circle cx="1208.2" cy="97.8" r="9.25" fill="none" stroke="#0000FF" stroke-width="3"/><circle cx="1208.2" cy="97.8" r="7.05" fill="#fff"/><circle cx="1208.2" cy="97.8" r="1.50" fill="#0000FF"/><circle cx="1210.6" cy="97.4" r="9.25" fill="none" stroke="#0000FF" stroke-width="3"/><circle cx="1210.6" cy="97.4" r="7.05" fill="#fff"/><circle cx="1210.6" cy="97.4" r="1.50" fill="#0000FF"/><circle cx="1212.9" cy="97.1" r="9.25" fill="none" stroke="#0000FF" stroke-width="3"/><circle cx="1212.9" cy="97.1" r="7.05" fill="#fff"/><circle cx="1212.9" cy="97.1" r="1.50" fill="#0000FF"/><circle cx="1215.3" cy="96.8" r="9.25" fill="none" stroke="#0000FF" stroke-width="3"/><circle cx="1215.3" cy="96.8" r="7.05" fill="#fff"/><circle cx="1215.3" cy="96.8" r="1.50" fill="#0000FF"/><circle cx="1217.7" cy="96.4" r="9.25" fill="none" stroke="#0000FF" stroke-width="3"/><circle cx="1217.7" cy="96.4" r="7.05" fill="#fff"/><circle cx="1217.7" cy="96.4" r="1.50" fill="#0000FF"/><circle cx="1220.1" cy="96.1" r="9.25" fill="none" stroke="#0000FF" stroke-width="3"/><circle cx="1220.1" cy="96.1" r="7.05" fill="#fff"/><circle cx="1220.1" cy="96.1" r="1.50" fill="#0000FF"/><circle cx="1222.5" cy="95.7" r="9.25" fill="none" stroke="#0000FF" stroke-width="3"/><circle cx="1222.5" cy="95.7" r="7.05" fill="#fff"/><circle cx="1222.5" cy="95.7" r="1.50" fill="#0000FF"/><circle cx="1224.9" cy="95.4" r="9.25" fill="none" stroke="#0000FF" stroke-width="3"/><circle cx="1224.9" cy="95.4" r="7.05" fill="#fff"/><circle cx="1224.9" cy="95.4" r="1.50" fill="#0000FF"/><circle cx="1227.2" cy="95.1" r="9.25" fill="none" stroke="#0000FF" stroke-width="3"/><circle cx="1227.2" cy="95.1" r="7.05" fill="#fff"/><circle cx="1227.2" cy="95.1" r="1.50" fill="#0000FF"/><circle cx="1229.6" cy="94.8" r="9.25" fill="none" stroke="#0000FF" stroke-width="3"/><circle cx="1229.6" cy="94.8" r="7.05" fill="#fff"/><circle cx="1229.6" cy="94.8" r="1.50" fill="#0000FF"/><circle cx="1232.0" cy="94.4" r="9.25" fill="none" stroke="#0000FF" stroke-width="3"/><circle cx="1232.0" cy="94.4" r="7.05" fill="#fff"/><circle cx="1232.0" cy="94.4" r="1.50" fill="#0000FF"/><circle cx="1234.4" cy="94.1" r="9.25" fill="none" stroke="#0000FF" stroke-width="3"/><circle cx="1234.4" cy="94.1" r="7.05" fill="#fff"/><circle cx="1234.4" cy="94.1" r="1.50" fill="#0000FF"/><circle cx="1236.8" cy="93.8" r="9.25" fill="none" stroke="#0000FF" stroke-width="3"/><circle cx="1236.8" cy="93.8" r="7.05" fill="#fff"/><circle cx="1236.8" cy="93.8" r="1.50" fill="#0000FF"/><circle cx="1239.2" cy="93.5" r="9.25" fill="none" stroke="#0000FF" stroke-width="3"/><circle cx="1239.2" cy="93.5" r="7.05" fill="#fff"/><circle cx="1239.2" cy="93.5" r="1.50" fill="#0000FF"/><circle cx="1241.5" cy="93.2" r="9.25" fill="none" stroke="#0000FF" stroke-width="3"/><circle cx="1241.5" cy="93.2" r="7.05" fill="#fff"/><circle cx="1241.5" cy="93.2" r="1.50" fill="#0000FF"/><circle cx="1243.9" cy="92.9" r="9.25" fill="none" stroke="#0000FF" stroke-width="3"/><circle cx="1243.9" cy="92.9" r="7.05" fill="#fff"/><circle cx="1243.9" cy="92.9" r="1.50" fill="#0000FF"/><circle cx="1246.3" cy="92.6" r="9.25" fill="none" stroke="#0000FF" stroke-width="3"/><circle cx="1246.3" cy="92.6" r="7.05" fill="#fff"/><circle cx="1246.3" cy="92.6" r="1.50" fill="#0000FF"/><circle cx="1248.7" cy="92.3" r="9.25" fill="none" stroke="#0000FF" stroke-width="3"/><circle cx="1248.7" cy="92.3" r="7.05" fill="#fff"/><circle cx="1248.7" cy="92.3" r="1.50" fill="#0000FF"/><circle cx="1251.1" cy="92.0" r="9.25" fill="none" stroke="#0000FF" stroke-width="3"/><circle cx="1251.1" cy="92.0" r="7.05" fill="#fff"/><circle cx="1251.1" cy="92.0" r="1.50" fill="#0000FF"/><circle cx="1253.5" cy="91.7" r="9.25" fill="none" stroke="#0000FF" stroke-width="3"/><circle cx="1253.5" cy="91.7" r="7.05" fill="#fff"/><circle cx="1253.5" cy="91.7" r="1.50" fill="#0000FF"/><circle cx="1255.8" cy="91.4" r="9.25" fill="none" stroke="#0000FF" stroke-width="3"/><circle cx="1255.8" cy="91.4" r="7.05" fill="#fff"/><circle cx="1255.8" cy="91.4" r="1.50" fill="#0000FF"/><circle cx="1258.2" cy="91.1" r="9.25" fill="none" stroke="#0000FF" stroke-width="3"/><circle cx="1258.2" cy="91.1" r="7.05" fill="#fff"/><circle cx="1258.2" cy="91.1" r="1.50" fill="#0000FF"/><circle cx="1260.6" cy="90.8" r="9.25" fill="none" stroke="#0000FF" stroke-width="3"/><circle cx="1260.6" cy="90.8" r="7.05" fill="#fff"/><circle cx="1260.6" cy="90.8" r="1.50" fill="#0000FF"/><circle cx="1263.0" cy="90.5" r="9.25" fill="none" stroke="#0000FF" stroke-width="3"/><circle cx="1263.0" cy="90.5" r="7.05" fill="#fff"/><circle cx="1263.0" cy="90.5" r="1.50" fill="#0000FF"/><circle cx="1265.4" cy="90.2" r="9.25" fill="none" stroke="#0000FF" stroke-width="3"/><circle cx="1265.4" cy="90.2" r="7.05" fill="#fff"/><circle cx="1265.4" cy="90.2" r="1.50" fill="#0000FF"/><circle cx="1267.8" cy="89.9" r="9.25" fill="none" stroke="#0000FF" stroke-width="3"/><circle cx="1267.8" cy="89.9" r="7.05" fill="#fff"/><circle cx="1267.8" cy="89.9" r="1.50" fill="#0000FF"/><circle cx="1270.2" cy="89.6" r="9.25" fill="none" stroke="#0000FF" stroke-width="3"/><circle cx="1270.2" cy="89.6" r="7.05" fill="#fff"/><circle cx="1270.2" cy="89.6" r="1.50" fill="#0000FF"/><circle cx="1272.5" cy="89.4" r="9.25" fill="none" stroke="#0000FF" stroke-width="3"/><circle cx="1272.5" cy="89.4" r="7.05" fill="#fff"/><circle cx="1272.5" cy="89.4" r="1.50" fill="#0000FF"/><circle cx="1274.9" cy="89.1" r="9.25" fill="none" stroke="#0000FF" stroke-width="3"/><circle cx="1274.9" cy="89.1" r="7.05" fill="#fff"/><circle cx="1274.9" cy="89.1" r="1.50" fill="#0000FF"/><circle cx="1277.3" cy="88.8" r="9.25" fill="none" stroke="#0000FF" stroke-width="3"/><circle cx="1277.3" cy="88.8" r="7.05" fill="#fff"/><circle cx="1277.3" cy="88.8" r="1.50" fill="#0000FF"/><circle cx="1279.7" cy="88.5" r="9.25" fill="none" stroke="#0000FF" stroke-width="3"/><circle cx="1279.7" cy="88.5" r="7.05" fill="#fff"/><circle cx="1279.7" cy="88.5" r="1.50" fill="#0000FF"/><circle cx="1282.1" cy="88.3" r="9.25" fill="none" stroke="#0000FF" stroke-width="3"/><circle cx="1282.1" cy="88.3" r="7.05" fill="#fff"/><circle cx="1282.1" cy="88.3" r="1.50" fill="#0000FF"/><circle cx="1284.5" cy="88.0" r="9.25" fill="none" stroke="#0000FF" stroke-width="3"/><circle cx="1284.5" cy="88.0" r="7.05" fill="#fff"/><circle cx="1284.5" cy="88.0" r="1.50" fill="#0000FF"/><circle cx="1286.8" cy="87.7" r="9.25" fill="none" stroke="#0000FF" stroke-width="3"/><circle cx="1286.8" cy="87.7" r="7.05" fill="#fff"/><circle cx="1286.8" cy="87.7" r="1.50" fill="#0000FF"/><circle cx="1289.2" cy="87.5" r="9.25" fill="none" stroke="#0000FF" stroke-width="3"/><circle cx="1289.2" cy="87.5" r="7.05" fill="#fff"/><circle cx="1289.2" cy="87.5" r="1.50" fill="#0000FF"/><circle cx="1291.6" cy="87.2" r="9.25" fill="none" stroke="#0000FF" stroke-width="3"/><circle cx="1291.6" cy="87.2" r="7.05" fill="#fff"/><circle cx="1291.6" cy="87.2" r="1.50" fill="#0000FF"/><circle cx="1294.0" cy="86.9" r="9.25" fill="none" stroke="#0000FF" stroke-width="3"/><circle cx="1294.0" cy="86.9" r="7.05" fill="#fff"/><circle cx="1294.0" cy="86.9" r="1.50" fill="#0000FF"/><circle cx="1296.4" cy="86.7" r="9.25" fill="none" stroke="#0000FF" stroke-width="3"/><circle cx="1296.4" cy="86.7" r="7.05" fill="#fff"/><circle cx="1296.4" cy="86.7" r="1.50" fill="#0000FF"/><circle cx="1298.8" cy="86.4" r="9.25" fill="none" stroke="#0000FF" stroke-width="3"/><circle cx="1298.8" cy="86.4" r="7.05" fill="#fff"/><circle cx="1298.8" cy="86.4" r="1.50" fill="#0000FF"/><circle cx="1301.1" cy="86.2" r="9.25" fill="none" stroke="#0000FF" stroke-width="3"/><circle cx="1301.1" cy="86.2" r="7.05" fill="#fff"/><circle cx="1301.1" cy="86.2" r="1.50" fill="#0000FF"/><circle cx="1303.5" cy="85.9" r="9.25" fill="none" stroke="#0000FF" stroke-width="3"/><circle cx="1303.5" cy="85.9" r="7.05" fill="#fff"/><circle cx="1303.5" cy="85.9" r="1.50" fill="#0000FF"/><circle cx="1305.9" cy="85.7" r="9.25" fill="none" stroke="#0000FF" stroke-width="3"/><circle cx="1305.9" cy="85.7" r="7.05" fill="#fff"/><circle cx="1305.9" cy="85.7" r="1.50" fill="#0000FF"/><circle cx="1308.3" cy="85.4" r="9.25" fill="none" stroke="#0000FF" stroke-width="3"/><circle cx="1308.3" cy="85.4" r="7.05" fill="#fff"/><circle cx="1308.3" cy="85.4" r="1.50" fill="#0000FF"/><circle cx="1310.7" cy="85.2" r="9.25" fill="none" stroke="#0000FF" stroke-width="3"/><circle cx="1310.7" cy="85.2" r="7.05" fill="#fff"/><circle cx="1310.7" cy="85.2" r="1.50" fill="#0000FF"/><circle cx="1313.1" cy="84.9" r="9.25" fill="none" stroke="#0000FF" stroke-width="3"/><circle cx="1313.1" cy="84.9" r="7.05" fill="#fff"/><circle cx="1313.1" cy="84.9" r="1.50" fill="#0000FF"/><circle cx="1315.4" cy="84.7" r="9.25" fill="none" stroke="#0000FF" stroke-width="3"/><circle cx="1315.4" cy="84.7" r="7.05" fill="#fff"/><circle cx="1315.4" cy="84.7" r="1.50" fill="#0000FF"/><circle cx="1317.8" cy="84.4" r="9.25" fill="none" stroke="#0000FF" stroke-width="3"/><circle cx="1317.8" cy="84.4" r="7.05" fill="#fff"/><circle cx="1317.8" cy="84.4" r="1.50" fill="#0000FF"/><circle cx="1320.2" cy="84.2" r="9.25" fill="none" stroke="#0000FF" stroke-width="3"/><circle cx="1320.2" cy="84.2" r="7.05" fill="#fff"/><circle cx="1320.2" cy="84.2" r="1.50" fill="#0000FF"/><circle cx="1322.6" cy="84.0" r="9.25" fill="none" stroke="#0000FF" stroke-width="3"/><circle cx="1322.6" cy="84.0" r="7.05" fill="#fff"/><circle cx="1322.6" cy="84.0" r="1.50" fill="#0000FF"/><circle cx="1325.0" cy="83.7" r="9.25" fill="none" stroke="#0000FF" stroke-width="3"/><circle cx="1325.0" cy="83.7" r="7.05" fill="#fff"/><circle cx="1325.0" cy="83.7" r="1.50" fill="#0000FF"/><circle cx="1327.4" cy="83.5" r="9.25" fill="none" stroke="#0000FF" stroke-width="3"/><circle cx="1327.4" cy="83.5" r="7.05" fill="#fff"/><circle cx="1327.4" cy="83.5" r="1.50" fill="#0000FF"/><circle cx="1329.8" cy="83.3" r="9.25" fill="none" stroke="#0000FF" stroke-width="3"/><circle cx="1329.8" cy="83.3" r="7.05" fill="#fff"/><circle cx="1329.8" cy="83.3" r="1.50" fill="#0000FF"/><circle cx="1332.1" cy="83.0" r="9.25" fill="none" stroke="#0000FF" stroke-width="3"/><circle cx="1332.1" cy="83.0" r="7.05" fill="#fff"/><circle cx="1332.1" cy="83.0" r="1.50" fill="#0000FF"/><circle cx="1334.5" cy="82.8" r="9.25" fill="none" stroke="#0000FF" stroke-width="3"/><circle cx="1334.5" cy="82.8" r="7.05" fill="#fff"/><circle cx="1334.5" cy="82.8" r="1.50" fill="#0000FF"/><circle cx="1336.9" cy="82.6" r="9.25" fill="none" stroke="#0000FF" stroke-width="3"/><circle cx="1336.9" cy="82.6" r="7.05" fill="#fff"/><circle cx="1336.9" cy="82.6" r="1.50" fill="#0000FF"/><circle cx="1339.3" cy="82.3" r="9.25" fill="none" stroke="#0000FF" stroke-width="3"/><circle cx="1339.3" cy="82.3" r="7.05" fill="#fff"/><circle cx="1339.3" cy="82.3" r="1.50" fill="#0000FF"/><circle cx="1341.7" cy="82.1" r="9.25" fill="none" stroke="#0000FF" stroke-width="3"/><circle cx="1341.7" cy="82.1" r="7.05" fill="#fff"/><circle cx="1341.7" cy="82.1" r="1.50" fill="#0000FF"/><circle cx="1344.1" cy="81.9" r="9.25" fill="none" stroke="#0000FF" stroke-width="3"/><circle cx="1344.1" cy="81.9" r="7.05" fill="#fff"/><circle cx="1344.1" cy="81.9" r="1.50" fill="#0000FF"/><circle cx="1346.4" cy="81.7" r="9.25" fill="none" stroke="#0000FF" stroke-width="3"/><circle cx="1346.4" cy="81.7" r="7.05" fill="#fff"/><circle cx="1346.4" cy="81.7" r="1.50" fill="#0000FF"/><circle cx="1348.8" cy="81.5" r="9.25" fill="none" stroke="#0000FF" stroke-width="3"/><circle cx="1348.8" cy="81.5" r="7.05" fill="#fff"/><circle cx="1348.8" cy="81.5" r="1.50" fill="#0000FF"/><circle cx="1351.2" cy="81.2" r="9.25" fill="none" stroke="#0000FF" stroke-width="3"/><circle cx="1351.2" cy="81.2" r="7.05" fill="#fff"/><circle cx="1351.2" cy="81.2" r="1.50" fill="#0000FF"/><circle cx="1353.6" cy="81.0" r="9.25" fill="none" stroke="#0000FF" stroke-width="3"/><circle cx="1353.6" cy="81.0" r="7.05" fill="#fff"/><circle cx="1353.6" cy="81.0" r="1.50" fill="#0000FF"/><circle cx="1356.0" cy="80.8" r="9.25" fill="none" stroke="#0000FF" stroke-width="3"/><circle cx="1356.0" cy="80.8" r="7.05" fill="#fff"/><circle cx="1356.0" cy="80.8" r="1.50" fill="#0000FF"/><circle cx="1358.4" cy="80.6" r="9.25" fill="none" stroke="#0000FF" stroke-width="3"/><circle cx="1358.4" cy="80.6" r="7.05" fill="#fff"/><circle cx="1358.4" cy="80.6" r="1.50" fill="#0000FF"/><circle cx="1360.7" cy="80.4" r="9.25" fill="none" stroke="#0000FF" stroke-width="3"/><circle cx="1360.7" cy="80.4" r="7.05" fill="#fff"/><circle cx="1360.7" cy="80.4" r="1.50" fill="#0000FF"/><circle cx="1363.1" cy="80.2" r="9.25" fill="none" stroke="#0000FF" stroke-width="3"/><circle cx="1363.1" cy="80.2" r="7.05" fill="#fff"/><circle cx="1363.1" cy="80.2" r="1.50" fill="#0000FF"/><circle cx="1365.5" cy="79.9" r="9.25" fill="none" stroke="#0000FF" stroke-width="3"/><circle cx="1365.5" cy="79.9" r="7.05" fill="#fff"/><circle cx="1365.5" cy="79.9" r="1.50" fill="#0000FF"/><circle cx="1367.9" cy="79.7" r="9.25" fill="none" stroke="#0000FF" stroke-width="3"/><circle cx="1367.9" cy="79.7" r="7.05" fill="#fff"/><circle cx="1367.9" cy="79.7" r="1.50" fill="#0000FF"/><circle cx="1370.3" cy="79.5" r="9.25" fill="none" stroke="#0000FF" stroke-width="3"/><circle cx="1370.3" cy="79.5" r="7.05" fill="#fff"/><circle cx="1370.3" cy="79.5" r="1.50" fill="#0000FF"/><circle cx="1372.7" cy="79.3" r="9.25" fill="none" stroke="#0000FF" stroke-width="3"/><circle cx="1372.7" cy="79.3" r="7.05" fill="#fff"/><circle cx="1372.7" cy="79.3" r="1.50" fill="#0000FF"/><circle cx="1375.0" cy="79.1" r="9.25" fill="none" stroke="#0000FF" stroke-width="3"/><circle cx="1375.0" cy="79.1" r="7.05" fill="#fff"/><circle cx="1375.0" cy="79.1" r="1.50" fill="#0000FF"/><circle cx="1377.4" cy="78.9" r="9.25" fill="none" stroke="#0000FF" stroke-width="3"/><circle cx="1377.4" cy="78.9" r="7.05" fill="#fff"/><circle cx="1377.4" cy="78.9" r="1.50" fill="#0000FF"/><circle cx="1379.8" cy="78.7" r="9.25" fill="none" stroke="#0000FF" stroke-width="3"/><circle cx="1379.8" cy="78.7" r="7.05" fill="#fff"/><circle cx="1379.8" cy="78.7" r="1.50" fill="#0000FF"/><circle cx="1382.2" cy="78.5" r="9.25" fill="none" stroke="#0000FF" stroke-width="3"/><circle cx="1382.2" cy="78.5" r="7.05" fill="#fff"/><circle cx="1382.2" cy="78.5" r="1.50" fill="#0000FF"/><circle cx="1384.6" cy="78.3" r="9.25" fill="none" stroke="#0000FF" stroke-width="3"/><circle cx="1384.6" cy="78.3" r="7.05" fill="#fff"/><circle cx="1384.6" cy="78.3" r="1.50" fill="#0000FF"/><circle cx="1387.0" cy="78.1" r="9.25" fill="none" stroke="#0000FF" stroke-width="3"/><circle cx="1387.0" cy="78.1" r="7.05" fill="#fff"/><circle cx="1387.0" cy="78.1" r="1.50" fill="#0000FF"/><circle cx="1389.4" cy="77.9" r="9.25" fill="none" stroke="#0000FF" stroke-width="3"/><circle cx="1389.4" cy="77.9" r="7.05" fill="#fff"/><circle cx="1389.4" cy="77.9" r="1.50" fill="#0000FF"/><circle cx="1391.7" cy="77.7" r="9.25" fill="none" stroke="#0000FF" stroke-width="3"/><circle cx="1391.7" cy="77.7" r="7.05" fill="#fff"/><circle cx="1391.7" cy="77.7" r="1.50" fill="#0000FF"/><circle cx="1394.1" cy="77.5" r="9.25" fill="none" stroke="#0000FF" stroke-width="3"/><circle cx="1394.1" cy="77.5" r="7.05" fill="#fff"/><circle cx="1394.1" cy="77.5" r="1.50" fill="#0000FF"/><circle cx="1396.5" cy="77.3" r="9.25" fill="none" stroke="#0000FF" stroke-width="3"/><circle cx="1396.5" cy="77.3" r="7.05" fill="#fff"/><circle cx="1396.5" cy="77.3" r="1.50" fill="#0000FF"/><circle cx="1398.9" cy="77.1" r="9.25" fill="none" stroke="#0000FF" stroke-width="3"/><circle cx="1398.9" cy="77.1" r="7.05" fill="#fff"/><circle cx="1398.9" cy="77.1" r="1.50" fill="#0000FF"/><circle cx="1401.3" cy="76.9" r="9.25" fill="none" stroke="#0000FF" stroke-width="3"/><circle cx="1401.3" cy="76.9" r="7.05" fill="#fff"/><circle cx="1401.3" cy="76.9" r="1.50" fill="#0000FF"/><circle cx="1403.7" cy="76.7" r="9.25" fill="none" stroke="#0000FF" stroke-width="3"/><circle cx="1403.7" cy="76.7" r="7.05" fill="#fff"/><circle cx="1403.7" cy="76.7" r="1.50" fill="#0000FF"/><circle cx="1406.0" cy="76.5" r="9.25" fill="none" stroke="#0000FF" stroke-width="3"/><circle cx="1406.0" cy="76.5" r="7.05" fill="#fff"/><circle cx="1406.0" cy="76.5" r="1.50" fill="#0000FF"/><circle cx="1408.4" cy="76.4" r="9.25" fill="none" stroke="#0000FF" stroke-width="3"/><circle cx="1408.4" cy="76.4" r="7.05" fill="#fff"/><circle cx="1408.4" cy="76.4" r="1.50" fill="#0000FF"/><circle cx="1410.8" cy="76.2" r="9.25" fill="none" stroke="#0000FF" stroke-width="3"/><circle cx="1410.8" cy="76.2" r="7.05" fill="#fff"/><circle cx="1410.8" cy="76.2" r="1.50" fill="#0000FF"/><circle cx="1413.2" cy="76.0" r="9.25" fill="none" stroke="#0000FF" stroke-width="3"/><circle cx="1413.2" cy="76.0" r="7.05" fill="#fff"/><circle cx="1413.2" cy="76.0" r="1.50" fill="#0000FF"/><circle cx="1415.6" cy="75.8" r="9.25" fill="none" stroke="#0000FF" stroke-width="3"/><circle cx="1415.6" cy="75.8" r="7.05" fill="#fff"/><circle cx="1415.6" cy="75.8" r="1.50" fill="#0000FF"/><circle cx="1418.0" cy="75.6" r="9.25" fill="none" stroke="#0000FF" stroke-width="3"/><circle cx="1418.0" cy="75.6" r="7.05" fill="#fff"/><circle cx="1418.0" cy="75.6" r="1.50" fill="#0000FF"/><circle cx="1420.3" cy="75.4" r="9.25" fill="none" stroke="#0000FF" stroke-width="3"/><circle cx="1420.3" cy="75.4" r="7.05" fill="#fff"/><circle cx="1420.3" cy="75.4" r="1.50" fill="#0000FF"/><circle cx="1422.7" cy="75.2" r="9.25" fill="none" stroke="#0000FF" stroke-width="3"/><circle cx="1422.7" cy="75.2" r="7.05" fill="#fff"/><circle cx="1422.7" cy="75.2" r="1.50" fill="#0000FF"/><circle cx="1425.1" cy="75.1" r="9.25" fill="none" stroke="#0000FF" stroke-width="3"/><circle cx="1425.1" cy="75.1" r="7.05" fill="#fff"/><circle cx="1425.1" cy="75.1" r="1.50" fill="#0000FF"/><circle cx="1427.5" cy="74.9" r="9.25" fill="none" stroke="#0000FF" stroke-width="3"/><circle cx="1427.5" cy="74.9" r="7.05" fill="#fff"/><circle cx="1427.5" cy="74.9" r="1.50" fill="#0000FF"/><circle cx="1429.9" cy="74.7" r="9.25" fill="none" stroke="#0000FF" stroke-width="3"/><circle cx="1429.9" cy="74.7" r="7.05" fill="#fff"/><circle cx="1429.9" cy="74.7" r="1.50" fill="#0000FF"/><circle cx="1432.3" cy="74.5" r="9.25" fill="none" stroke="#0000FF" stroke-width="3"/><circle cx="1432.3" cy="74.5" r="7.05" fill="#fff"/><circle cx="1432.3" cy="74.5" r="1.50" fill="#0000FF"/><circle cx="1434.6" cy="74.3" r="9.25" fill="none" stroke="#0000FF" stroke-width="3"/><circle cx="1434.6" cy="74.3" r="7.05" fill="#fff"/><circle cx="1434.6" cy="74.3" r="1.50" fill="#0000FF"/><circle cx="1437.0" cy="74.2" r="9.25" fill="none" stroke="#0000FF" stroke-width="3"/><circle cx="1437.0" cy="74.2" r="7.05" fill="#fff"/><circle cx="1437.0" cy="74.2" r="1.50" fill="#0000FF"/><circle cx="1439.4" cy="74.0" r="9.25" fill="none" stroke="#0000FF" stroke-width="3"/><circle cx="1439.4" cy="74.0" r="7.05" fill="#fff"/><circle cx="1439.4" cy="74.0" r="1.50" fill="#0000FF"/><circle cx="1441.8" cy="73.8" r="9.25" fill="none" stroke="#0000FF" stroke-width="3"/><circle cx="1441.8" cy="73.8" r="7.05" fill="#fff"/><circle cx="1441.8" cy="73.8" r="1.50" fill="#0000FF"/><circle cx="1444.2" cy="73.6" r="9.25" fill="none" stroke="#0000FF" stroke-width="3"/><circle cx="1444.2" cy="73.6" r="7.05" fill="#fff"/><circle cx="1444.2" cy="73.6" r="1.50" fill="#0000FF"/><circle cx="1446.6" cy="73.5" r="9.25" fill="none" stroke="#0000FF" stroke-width="3"/><circle cx="1446.6" cy="73.5" r="7.05" fill="#fff"/><circle cx="1446.6" cy="73.5" r="1.50" fill="#0000FF"/><circle cx="1449.0" cy="73.3" r="9.25" fill="none" stroke="#0000FF" stroke-width="3"/><circle cx="1449.0" cy="73.3" r="7.05" fill="#fff"/><circle cx="1449.0" cy="73.3" r="1.50" fill="#0000FF"/><circle cx="1451.3" cy="73.1" r="9.25" fill="none" stroke="#0000FF" stroke-width="3"/><circle cx="1451.3" cy="73.1" r="7.05" fill="#fff"/><circle cx="1451.3" cy="73.1" r="1.50" fill="#0000FF"/><circle cx="1453.7" cy="73.0" r="9.25" fill="none" stroke="#0000FF" stroke-width="3"/><circle cx="1453.7" cy="73.0" r="7.05" fill="#fff"/><circle cx="1453.7" cy="73.0" r="1.50" fill="#0000FF"/><circle cx="1456.1" cy="72.8" r="9.25" fill="none" stroke="#0000FF" stroke-width="3"/><circle cx="1456.1" cy="72.8" r="7.05" fill="#fff"/><circle cx="1456.1" cy="72.8" r="1.50" fill="#0000FF"/><circle cx="1458.5" cy="72.6" r="9.25" fill="none" stroke="#0000FF" stroke-width="3"/><circle cx="1458.5" cy="72.6" r="7.05" fill="#fff"/><circle cx="1458.5" cy="72.6" r="1.50" fill="#0000FF"/><circle cx="1460.9" cy="72.4" r="9.25" fill="none" stroke="#0000FF" stroke-width="3"/><circle cx="1460.9" cy="72.4" r="7.05" fill="#fff"/><circle cx="1460.9" cy="72.4" r="1.50" fill="#0000FF"/><circle cx="1463.3" cy="72.3" r="9.25" fill="none" stroke="#0000FF" stroke-width="3"/><circle cx="1463.3" cy="72.3" r="7.05" fill="#fff"/><circle cx="1463.3" cy="72.3" r="1.50" fill="#0000FF"/><circle cx="1465.6" cy="72.1" r="9.25" fill="none" stroke="#0000FF" stroke-width="3"/><circle cx="1465.6" cy="72.1" r="7.05" fill="#fff"/><circle cx="1465.6" cy="72.1" r="1.50" fill="#0000FF"/><circle cx="1468.0" cy="72.0" r="9.25" fill="none" stroke="#0000FF" stroke-width="3"/><circle cx="1468.0" cy="72.0" r="7.05" fill="#fff"/><circle cx="1468.0" cy="72.0" r="1.50" fill="#0000FF"/><circle cx="1470.4" cy="71.8" r="9.25" fill="none" stroke="#0000FF" stroke-width="3"/><circle cx="1470.4" cy="71.8" r="7.05" fill="#fff"/><circle cx="1470.4" cy="71.8" r="1.50" fill="#0000FF"/><circle cx="1472.8" cy="71.6" r="9.25" fill="none" stroke="#0000FF" stroke-width="3"/><circle cx="1472.8" cy="71.6" r="7.05" fill="#fff"/><circle cx="1472.8" cy="71.6" r="1.50" fill="#0000FF"/><circle cx="1475.2" cy="71.5" r="9.25" fill="none" stroke="#0000FF" stroke-width="3"/><circle cx="1475.2" cy="71.5" r="7.05" fill="#fff"/><circle cx="1475.2" cy="71.5" r="1.50" fill="#0000FF"/><circle cx="1477.6" cy="71.3" r="9.25" fill="none" stroke="#0000FF" stroke-width="3"/><circle cx="1477.6" cy="71.3" r="7.05" fill="#fff"/><circle cx="1477.6" cy="71.3" r="1.50" fill="#0000FF"/><circle cx="1479.9" cy="71.1" r="9.25" fill="none" stroke="#0000FF" stroke-width="3"/><circle cx="1479.9" cy="71.1" r="7.05" fill="#fff"/><circle cx="1479.9" cy="71.1" r="1.50" fill="#0000FF"/><circle cx="1482.3" cy="71.0" r="9.25" fill="none" stroke="#0000FF" stroke-width="3"/><circle cx="1482.3" cy="71.0" r="7.05" fill="#fff"/><circle cx="1482.3" cy="71.0" r="1.50" fill="#0000FF"/><circle cx="1484.7" cy="70.8" r="9.25" fill="none" stroke="#0000FF" stroke-width="3"/><circle cx="1484.7" cy="70.8" r="7.05" fill="#fff"/><circle cx="1484.7" cy="70.8" r="1.50" fill="#0000FF"/><circle cx="1487.1" cy="70.7" r="9.25" fill="none" stroke="#0000FF" stroke-width="3"/><circle cx="1487.1" cy="70.7" r="7.05" fill="#fff"/><circle cx="1487.1" cy="70.7" r="1.50" fill="#0000FF"/><circle cx="1489.5" cy="70.5" r="9.25" fill="none" stroke="#0000FF" stroke-width="3"/><circle cx="1489.5" cy="70.5" r="7.05" fill="#fff"/><circle cx="1489.5" cy="70.5" r="1.50" fill="#0000FF"/><circle cx="1491.9" cy="70.4" r="9.25" fill="none" stroke="#0000FF" stroke-width="3"/><circle cx="1491.9" cy="70.4" r="7.05" fill="#fff"/><circle cx="1491.9" cy="70.4" r="1.50" fill="#0000FF"/><circle cx="1494.2" cy="70.2" r="9.25" fill="none" stroke="#0000FF" stroke-width="3"/><circle cx="1494.2" cy="70.2" r="7.05" fill="#fff"/><circle cx="1494.2" cy="70.2" r="1.50" fill="#0000FF"/><circle cx="1496.6" cy="70.0" r="9.25" fill="none" stroke="#0000FF" stroke-width="3"/><circle cx="1496.6" cy="70.0" r="7.05" fill="#fff"/><circle cx="1496.6" cy="70.0" r="1.50" fill="#0000FF"/><circle cx="1499.0" cy="69.9" r="9.25" fill="none" stroke="#0000FF" stroke-width="3"/><circle cx="1499.0" cy="69.9" r="7.05" fill="#fff"/><circle cx="1499.0" cy="69.9" r="1.50" fill="#0000FF"/><circle cx="1501.4" cy="69.7" r="9.25" fill="none" stroke="#0000FF" stroke-width="3"/><circle cx="1501.4" cy="69.7" r="7.05" fill="#fff"/><circle cx="1501.4" cy="69.7" r="1.50" fill="#0000FF"/><circle cx="1503.8" cy="69.6" r="9.25" fill="none" stroke="#0000FF" stroke-width="3"/><circle cx="1503.8" cy="69.6" r="7.05" fill="#fff"/><circle cx="1503.8" cy="69.6" r="1.50" fill="#0000FF"/><circle cx="1506.2" cy="69.4" r="9.25" fill="none" stroke="#0000FF" stroke-width="3"/><circle cx="1506.2" cy="69.4" r="7.05" fill="#fff"/><circle cx="1506.2" cy="69.4" r="1.50" fill="#0000FF"/><circle cx="1508.6" cy="69.3" r="9.25" fill="none" stroke="#0000FF" stroke-width="3"/><circle cx="1508.6" cy="69.3" r="7.05" fill="#fff"/><circle cx="1508.6" cy="69.3" r="1.50" fill="#0000FF"/><circle cx="1510.9" cy="69.1" r="9.25" fill="none" stroke="#0000FF" stroke-width="3"/><circle cx="1510.9" cy="69.1" r="7.05" fill="#fff"/><circle cx="1510.9" cy="69.1" r="1.50" fill="#0000FF"/><circle cx="1513.3" cy="69.0" r="9.25" fill="none" stroke="#0000FF" stroke-width="3"/><circle cx="1513.3" cy="69.0" r="7.05" fill="#fff"/><circle cx="1513.3" cy="69.0" r="1.50" fill="#0000FF"/><circle cx="1515.7" cy="68.8" r="9.25" fill="none" stroke="#0000FF" stroke-width="3"/><circle cx="1515.7" cy="68.8" r="7.05" fill="#fff"/><circle cx="1515.7" cy="68.8" r="1.50" fill="#0000FF"/><circle cx="1518.1" cy="68.7" r="9.25" fill="none" stroke="#0000FF" stroke-width="3"/><circle cx="1518.1" cy="68.7" r="7.05" fill="#fff"/><circle cx="1518.1" cy="68.7" r="1.50" fill="#0000FF"/><circle cx="1520.5" cy="68.5" r="9.25" fill="none" stroke="#0000FF" stroke-width="3"/><circle cx="1520.5" cy="68.5" r="7.05" fill="#fff"/><circle cx="1520.5" cy="68.5" r="1.50" fill="#0000FF"/><circle cx="1522.9" cy="68.4" r="9.25" fill="none" stroke="#0000FF" stroke-width="3"/><circle cx="1522.9" cy="68.4" r="7.05" fill="#fff"/><circle cx="1522.9" cy="68.4" r="1.50" fill="#0000FF"/><circle cx="1525.2" cy="68.3" r="9.25" fill="none" stroke="#0000FF" stroke-width="3"/><circle cx="1525.2" cy="68.3" r="7.05" fill="#fff"/><circle cx="1525.2" cy="68.3" r="1.50" fill="#0000FF"/><circle cx="1527.6" cy="68.1" r="9.25" fill="none" stroke="#0000FF" stroke-width="3"/><circle cx="1527.6" cy="68.1" r="7.05" fill="#fff"/><circle cx="1527.6" cy="68.1" r="1.50" fill="#0000FF"/><circle cx="1530.0" cy="68.0" r="9.25" fill="none" stroke="#0000FF" stroke-width="3"/><circle cx="1530.0" cy="68.0" r="7.05" fill="#fff"/><circle cx="1530.0" cy="68.0" r="1.50" fill="#0000FF"/><circle cx="1532.4" cy="67.8" r="9.25" fill="none" stroke="#0000FF" stroke-width="3"/><circle cx="1532.4" cy="67.8" r="7.05" fill="#fff"/><circle cx="1532.4" cy="67.8" r="1.50" fill="#0000FF"/><circle cx="1534.8" cy="67.7" r="9.25" fill="none" stroke="#0000FF" stroke-width="3"/><circle cx="1534.8" cy="67.7" r="7.05" fill="#fff"/><circle cx="1534.8" cy="67.7" r="1.50" fill="#0000FF"/><circle cx="1537.2" cy="67.5" r="9.25" fill="none" stroke="#0000FF" stroke-width="3"/><circle cx="1537.2" cy="67.5" r="7.05" fill="#fff"/><circle cx="1537.2" cy="67.5" r="1.50" fill="#0000FF"/><circle cx="1539.5" cy="67.4" r="9.25" fill="none" stroke="#0000FF" stroke-width="3"/><circle cx="1539.5" cy="67.4" r="7.05" fill="#fff"/><circle cx="1539.5" cy="67.4" r="1.50" fill="#0000FF"/><circle cx="1541.9" cy="67.3" r="9.25" fill="none" stroke="#0000FF" stroke-width="3"/><circle cx="1541.9" cy="67.3" r="7.05" fill="#fff"/><circle cx="1541.9" cy="67.3" r="1.50" fill="#0000FF"/><circle cx="1544.3" cy="67.1" r="9.25" fill="none" stroke="#0000FF" stroke-width="3"/><circle cx="1544.3" cy="67.1" r="7.05" fill="#fff"/><circle cx="1544.3" cy="67.1" r="1.50" fill="#0000FF"/><circle cx="1546.7" cy="67.0" r="9.25" fill="none" stroke="#0000FF" stroke-width="3"/><circle cx="1546.7" cy="67.0" r="7.05" fill="#fff"/><circle cx="1546.7" cy="67.0" r="1.50" fill="#0000FF"/><circle cx="1549.1" cy="66.8" r="9.25" fill="none" stroke="#0000FF" stroke-width="3"/><circle cx="1549.1" cy="66.8" r="7.05" fill="#fff"/><circle cx="1549.1" cy="66.8" r="1.50" fill="#0000FF"/><circle cx="1551.5" cy="66.7" r="9.25" fill="none" stroke="#0000FF" stroke-width="3"/><circle cx="1551.5" cy="66.7" r="7.05" fill="#fff"/><circle cx="1551.5" cy="66.7" r="1.50" fill="#0000FF"/><circle cx="1553.8" cy="66.6" r="9.25" fill="none" stroke="#0000FF" stroke-width="3"/><circle cx="1553.8" cy="66.6" r="7.05" fill="#fff"/><circle cx="1553.8" cy="66.6" r="1.50" fill="#0000FF"/><circle cx="1556.2" cy="66.4" r="9.25" fill="none" stroke="#0000FF" stroke-width="3"/><circle cx="1556.2" cy="66.4" r="7.05" fill="#fff"/><circle cx="1556.2" cy="66.4" r="1.50" fill="#0000FF"/><circle cx="1558.6" cy="66.3" r="9.25" fill="none" stroke="#0000FF" stroke-width="3"/><circle cx="1558.6" cy="66.3" r="7.05" fill="#fff"/><circle cx="1558.6" cy="66.3" r="1.50" fill="#0000FF"/><circle cx="1561.0" cy="66.2" r="9.25" fill="none" stroke="#0000FF" stroke-width="3"/><circle cx="1561.0" cy="66.2" r="7.05" fill="#fff"/><circle cx="1561.0" cy="66.2" r="1.50" fill="#0000FF"/><circle cx="1563.4" cy="66.0" r="9.25" fill="none" stroke="#0000FF" stroke-width="3"/><circle cx="1563.4" cy="66.0" r="7.05" fill="#fff"/><circle cx="1563.4" cy="66.0" r="1.50" fill="#0000FF"/><circle cx="1565.8" cy="65.9" r="9.25" fill="none" stroke="#0000FF" stroke-width="3"/><circle cx="1565.8" cy="65.9" r="7.05" fill="#fff"/><circle cx="1565.8" cy="65.9" r="1.50" fill="#0000FF"/><circle cx="1568.2" cy="65.8" r="9.25" fill="none" stroke="#0000FF" stroke-width="3"/><circle cx="1568.2" cy="65.8" r="7.05" fill="#fff"/><circle cx="1568.2" cy="65.8" r="1.50" fill="#0000FF"/><circle cx="1570.5" cy="65.6" r="9.25" fill="none" stroke="#0000FF" stroke-width="3"/><circle cx="1570.5" cy="65.6" r="7.05" fill="#fff"/><circle cx="1570.5" cy="65.6" r="1.50" fill="#0000FF"/><circle cx="1572.9" cy="65.5" r="9.25" fill="none" stroke="#0000FF" stroke-width="3"/><circle cx="1572.9" cy="65.5" r="7.05" fill="#fff"/><circle cx="1572.9" cy="65.5" r="1.50" fill="#0000FF"/><circle cx="1575.3" cy="65.4" r="9.25" fill="none" stroke="#0000FF" stroke-width="3"/><circle cx="1575.3" cy="65.4" r="7.05" fill="#fff"/><circle cx="1575.3" cy="65.4" r="1.50" fill="#0000FF"/><circle cx="1577.7" cy="65.2" r="9.25" fill="none" stroke="#0000FF" stroke-width="3"/><circle cx="1577.7" cy="65.2" r="7.05" fill="#fff"/><circle cx="1577.7" cy="65.2" r="1.50" fill="#0000FF"/><circle cx="1580.1" cy="65.1" r="9.25" fill="none" stroke="#0000FF" stroke-width="3"/><circle cx="1580.1" cy="65.1" r="7.05" fill="#fff"/><circle cx="1580.1" cy="65.1" r="1.50" fill="#0000FF"/><circle cx="1582.5" cy="65.0" r="9.25" fill="none" stroke="#0000FF" stroke-width="3"/><circle cx="1582.5" cy="65.0" r="7.05" fill="#fff"/><circle cx="1582.5" cy="65.0" r="1.50" fill="#0000FF"/><circle cx="1584.8" cy="64.8" r="9.25" fill="none" stroke="#0000FF" stroke-width="3"/><circle cx="1584.8" cy="64.8" r="7.05" fill="#fff"/><circle cx="1584.8" cy="64.8" r="1.50" fill="#0000FF"/><circle cx="1587.2" cy="64.7" r="9.25" fill="none" stroke="#0000FF" stroke-width="3"/><circle cx="1587.2" cy="64.7" r="7.05" fill="#fff"/><circle cx="1587.2" cy="64.7" r="1.50" fill="#0000FF"/><circle cx="1589.6" cy="64.6" r="9.25" fill="none" stroke="#0000FF" stroke-width="3"/><circle cx="1589.6" cy="64.6" r="7.05" fill="#fff"/><circle cx="1589.6" cy="64.6" r="1.50" fill="#0000FF"/><circle cx="1592.0" cy="64.5" r="9.25" fill="none" stroke="#0000FF" stroke-width="3"/><circle cx="1592.0" cy="64.5" r="7.05" fill="#fff"/><circle cx="1592.0" cy="64.5" r="1.50" fill="#0000FF"/><circle cx="1594.4" cy="64.3" r="9.25" fill="none" stroke="#0000FF" stroke-width="3"/><circle cx="1594.4" cy="64.3" r="7.05" fill="#fff"/><circle cx="1594.4" cy="64.3" r="1.50" fill="#0000FF"/><circle cx="1596.8" cy="64.2" r="9.25" fill="none" stroke="#0000FF" stroke-width="3"/><circle cx="1596.8" cy="64.2" r="7.05" fill="#fff"/><circle cx="1596.8" cy="64.2" r="1.50" fill="#0000FF"/><circle cx="1599.1" cy="64.1" r="9.25" fill="none" stroke="#0000FF" stroke-width="3"/><circle cx="1599.1" cy="64.1" r="7.05" fill="#fff"/><circle cx="1599.1" cy="64.1" r="1.50" fill="#0000FF"/><circle cx="1601.5" cy="64.0" r="9.25" fill="none" stroke="#0000FF" stroke-width="3"/><circle cx="1601.5" cy="64.0" r="7.05" fill="#fff"/><circle cx="1601.5" cy="64.0" r="1.50" fill="#0000FF"/><circle cx="1603.9" cy="63.8" r="9.25" fill="none" stroke="#0000FF" stroke-width="3"/><circle cx="1603.9" cy="63.8" r="7.05" fill="#fff"/><circle cx="1603.9" cy="63.8" r="1.50" fill="#0000FF"/><circle cx="1606.3" cy="63.7" r="9.25" fill="none" stroke="#0000FF" stroke-width="3"/><circle cx="1606.3" cy="63.7" r="7.05" fill="#fff"/><circle cx="1606.3" cy="63.7" r="1.50" fill="#0000FF"/><circle cx="1608.7" cy="63.6" r="9.25" fill="none" stroke="#0000FF" stroke-width="3"/><circle cx="1608.7" cy="63.6" r="7.05" fill="#fff"/><circle cx="1608.7" cy="63.6" r="1.50" fill="#0000FF"/><circle cx="1611.1" cy="63.5" r="9.25" fill="none" stroke="#0000FF" stroke-width="3"/><circle cx="1611.1" cy="63.5" r="7.05" fill="#fff"/><circle cx="1611.1" cy="63.5" r="1.50" fill="#0000FF"/><circle cx="1613.4" cy="63.3" r="9.25" fill="none" stroke="#0000FF" stroke-width="3"/><circle cx="1613.4" cy="63.3" r="7.05" fill="#fff"/><circle cx="1613.4" cy="63.3" r="1.50" fill="#0000FF"/><circle cx="1615.8" cy="63.2" r="9.25" fill="none" stroke="#0000FF" stroke-width="3"/><circle cx="1615.8" cy="63.2" r="7.05" fill="#fff"/><circle cx="1615.8" cy="63.2" r="1.50" fill="#0000FF"/><circle cx="1618.2" cy="63.1" r="9.25" fill="none" stroke="#0000FF" stroke-width="3"/><circle cx="1618.2" cy="63.1" r="7.05" fill="#fff"/><circle cx="1618.2" cy="63.1" r="1.50" fill="#0000FF"/><circle cx="1620.6" cy="63.0" r="9.25" fill="none" stroke="#0000FF" stroke-width="3"/><circle cx="1620.6" cy="63.0" r="7.05" fill="#fff"/><circle cx="1620.6" cy="63.0" r="1.50" fill="#0000FF"/><circle cx="1623.0" cy="62.9" r="9.25" fill="none" stroke="#0000FF" stroke-width="3"/><circle cx="1623.0" cy="62.9" r="7.05" fill="#fff"/><circle cx="1623.0" cy="62.9" r="1.50" fill="#0000FF"/><circle cx="1625.4" cy="62.7" r="9.25" fill="none" stroke="#0000FF" stroke-width="3"/><circle cx="1625.4" cy="62.7" r="7.05" fill="#fff"/><circle cx="1625.4" cy="62.7" r="1.50" fill="#0000FF"/><circle cx="1627.8" cy="62.6" r="9.25" fill="none" stroke="#0000FF" stroke-width="3"/><circle cx="1627.8" cy="62.6" r="7.05" fill="#fff"/><circle cx="1627.8" cy="62.6" r="1.50" fill="#0000FF"/><circle cx="1630.1" cy="62.5" r="9.25" fill="none" stroke="#0000FF" stroke-width="3"/><circle cx="1630.1" cy="62.5" r="7.05" fill="#fff"/><circle cx="1630.1" cy="62.5" r="1.50" fill="#0000FF"/><circle cx="1632.5" cy="62.4" r="9.25" fill="none" stroke="#0000FF" stroke-width="3"/><circle cx="1632.5" cy="62.4" r="7.05" fill="#fff"/><circle cx="1632.5" cy="62.4" r="1.50" fill="#0000FF"/><circle cx="1634.9" cy="62.3" r="9.25" fill="none" stroke="#0000FF" stroke-width="3"/><circle cx="1634.9" cy="62.3" r="7.05" fill="#fff"/><circle cx="1634.9" cy="62.3" r="1.50" fill="#0000FF"/><circle cx="1637.3" cy="62.1" r="9.25" fill="none" stroke="#0000FF" stroke-width="3"/><circle cx="1637.3" cy="62.1" r="7.05" fill="#fff"/><circle cx="1637.3" cy="62.1" r="1.50" fill="#0000FF"/><circle cx="1639.7" cy="62.0" r="9.25" fill="none" stroke="#0000FF" stroke-width="3"/><circle cx="1639.7" cy="62.0" r="7.05" fill="#fff"/><circle cx="1639.7" cy="62.0" r="1.50" fill="#0000FF"/><circle cx="1642.1" cy="61.9" r="9.25" fill="none" stroke="#0000FF" stroke-width="3"/><circle cx="1642.1" cy="61.9" r="7.05" fill="#fff"/><circle cx="1642.1" cy="61.9" r="1.50" fill="#0000FF"/><circle cx="1644.4" cy="61.8" r="9.25" fill="none" stroke="#0000FF" stroke-width="3"/><circle cx="1644.4" cy="61.8" r="7.05" fill="#fff"/><circle cx="1644.4" cy="61.8" r="1.50" fill="#0000FF"/><circle cx="1646.8" cy="61.7" r="9.25" fill="none" stroke="#0000FF" stroke-width="3"/><circle cx="1646.8" cy="61.7" r="7.05" fill="#fff"/><circle cx="1646.8" cy="61.7" r="1.50" fill="#0000FF"/><circle cx="1649.2" cy="61.6" r="9.25" fill="none" stroke="#0000FF" stroke-width="3"/><circle cx="1649.2" cy="61.6" r="7.05" fill="#fff"/><circle cx="1649.2" cy="61.6" r="1.50" fill="#0000FF"/><circle cx="1651.6" cy="61.5" r="9.25" fill="none" stroke="#0000FF" stroke-width="3"/><circle cx="1651.6" cy="61.5" r="7.05" fill="#fff"/><circle cx="1651.6" cy="61.5" r="1.50" fill="#0000FF"/><circle cx="1654.0" cy="61.3" r="9.25" fill="none" stroke="#0000FF" stroke-width="3"/><circle cx="1654.0" cy="61.3" r="7.05" fill="#fff"/><circle cx="1654.0" cy="61.3" r="1.50" fill="#0000FF"/><circle cx="1656.4" cy="61.2" r="9.25" fill="none" stroke="#0000FF" stroke-width="3"/><circle cx="1656.4" cy="61.2" r="7.05" fill="#fff"/><circle cx="1656.4" cy="61.2" r="1.50" fill="#0000FF"/><circle cx="1658.7" cy="61.1" r="9.25" fill="none" stroke="#0000FF" stroke-width="3"/><circle cx="1658.7" cy="61.1" r="7.05" fill="#fff"/><circle cx="1658.7" cy="61.1" r="1.50" fill="#0000FF"/><circle cx="1661.1" cy="61.0" r="9.25" fill="none" stroke="#0000FF" stroke-width="3"/><circle cx="1661.1" cy="61.0" r="7.05" fill="#fff"/><circle cx="1661.1" cy="61.0" r="1.50" fill="#0000FF"/><circle cx="1663.5" cy="60.9" r="9.25" fill="none" stroke="#0000FF" stroke-width="3"/><circle cx="1663.5" cy="60.9" r="7.05" fill="#fff"/><circle cx="1663.5" cy="60.9" r="1.50" fill="#0000FF"/><circle cx="1665.9" cy="60.8" r="9.25" fill="none" stroke="#0000FF" stroke-width="3"/><circle cx="1665.9" cy="60.8" r="7.05" fill="#fff"/><circle cx="1665.9" cy="60.8" r="1.50" fill="#0000FF"/><circle cx="1668.3" cy="60.7" r="9.25" fill="none" stroke="#0000FF" stroke-width="3"/><circle cx="1668.3" cy="60.7" r="7.05" fill="#fff"/><circle cx="1668.3" cy="60.7" r="1.50" fill="#0000FF"/><circle cx="1670.7" cy="60.6" r="9.25" fill="none" stroke="#0000FF" stroke-width="3"/><circle cx="1670.7" cy="60.6" r="7.05" fill="#fff"/><circle cx="1670.7" cy="60.6" r="1.50" fill="#0000FF"/><circle cx="1673.0" cy="60.5" r="9.25" fill="none" stroke="#0000FF" stroke-width="3"/><circle cx="1673.0" cy="60.5" r="7.05" fill="#fff"/><circle cx="1673.0" cy="60.5" r="1.50" fill="#0000FF"/><circle cx="1675.4" cy="60.3" r="9.25" fill="none" stroke="#0000FF" stroke-width="3"/><circle cx="1675.4" cy="60.3" r="7.05" fill="#fff"/><circle cx="1675.4" cy="60.3" r="1.50" fill="#0000FF"/><circle cx="1677.8" cy="60.2" r="9.25" fill="none" stroke="#0000FF" stroke-width="3"/><circle cx="1677.8" cy="60.2" r="7.05" fill="#fff"/><circle cx="1677.8" cy="60.2" r="1.50" fill="#0000FF"/><circle cx="1680.2" cy="60.1" r="9.25" fill="none" stroke="#0000FF" stroke-width="3"/><circle cx="1680.2" cy="60.1" r="7.05" fill="#fff"/><circle cx="1680.2" cy="60.1" r="1.50" fill="#0000FF"/>
<path d="M965.0 457.0L967.4 448.0L969.8 438.8L972.2 429.6L974.5 420.0L976.9 410.2L979.3 399.8L981.7 388.6L984.1 376.5L986.5 362.7L988.8 346.2L991.2 323.9L993.6 283.7L996.0 244.2L998.4 227.7L1000.8 217.5L1003.1 209.9L1005.5 203.8L1007.9 198.7L1010.3 194.3L1012.7 190.3L1015.1 186.8L1017.4 183.6L1019.8 180.7L1022.2 178.0L1024.6 175.5L1027.0 173.1L1029.4 170.9L1031.8 168.8L1034.1 166.8L1036.5 164.9L1038.9 163.2L1041.3 161.4L1043.7 159.8L1046.1 158.2L1048.4 156.7L1050.8 155.3L1053.2 153.8L1055.6 152.5L1058.0 151.2L1060.4 149.9L1062.7 148.7L1065.1 147.5L1067.5 146.3L1069.9 145.2L1072.3 144.1L1074.7 143.1L1077.0 142.0L1079.4 141.0L1081.8 140.0L1084.2 139.1L1086.6 138.1L1089.0 137.2L1091.4 136.3L1093.7 135.4L1096.1 134.6L1098.5 133.7L1100.9 132.9L1103.3 132.1L1105.7 131.3L1108.0 130.5L1110.4 129.8L1112.8 129.0L1115.2 128.3L1117.6 127.6L1120.0 126.9L1122.3 126.2L1124.7 125.5L1127.1 124.8L1129.5 124.2L1131.9 123.5L1134.3 122.9L1136.6 122.2L1139.0 121.6L1141.4 121.0L1143.8 120.4L1146.2 119.8L1148.6 119.2L1151.0 118.7L1153.3 118.1L1155.7 117.5L1158.1 117.0L1160.5 116.4L1162.9 115.9L1165.3 115.4L1167.6 114.9L1170.0 114.3L1172.4 113.8L1174.8 113.3L1177.2 112.8L1179.6 112.3L1181.9 111.9L1184.3 111.4L1186.7 110.9L1189.1 110.4L1191.5 110.0L1193.9 109.5L1196.2 109.1L1198.6 108.6L1201.0 108.2L1203.4 107.8L1205.8 107.3L1208.2 106.9L1210.6 106.5L1212.9 106.1L1215.3 105.6L1217.7 105.2L1220.1 104.8L1222.5 104.4L1224.9 104.0L1227.2 103.7L1229.6 103.3L1232.0 102.9L1234.4 102.5L1236.8 102.1L1239.2 101.8L1241.5 101.4L1243.9 101.0L1246.3 100.7L1248.7 100.3L1251.1 99.9L1253.5 99.6L1255.8 99.2L1258.2 98.9L1260.6 98.6L1263.0 98.2L1265.4 97.9L1267.8 97.5L1270.2 97.2L1272.5 96.9L1274.9 96.6L1277.3 96.2L1279.7 95.9L1282.1 95.6L1284.5 95.3L1286.8 95.0L1289.2 94.7L1291.6 94.4L1294.0 94.1L1296.4 93.8L1298.8 93.5L1301.1 93.2L1303.5 92.9L1305.9 92.6L1308.3 92.3L1310.7 92.0L1313.1 91.7L1315.4 91.4L1317.8 91.2L1320.2 90.9L1322.6 90.6L1325.0 90.3L1327.4 90.1L1329.8 89.8L1332.1 89.5L1334.5 89.3L1336.9 89.0L1339.3 88.7L1341.7 88.5L1344.1 88.2L1346.4 88.0L1348.8 87.7L1351.2 87.5L1353.6 87.2L1356.0 87.0L1358.4 86.7L1360.7 86.5L1363.1 86.2L1365.5 86.0L1367.9 85.7L1370.3 85.5L1372.7 85.3L1375.0 85.0L1377.4 84.8L1379.8 84.6L1382.2 84.3L1384.6 84.1L1387.0 83.9L1389.4 83.6L1391.7 83.4L1394.1 83.2L1396.5 83.0L1398.9 82.7L1401.3 82.5L1403.7 82.3L1406.0 82.1L1408.4 81.9L1410.8 81.7L1413.2 81.5L1415.6 81.2L1418.0 81.0L1420.3 80.8L1422.7 80.6L1425.1 80.4L1427.5 80.2L1429.9 80.0L1432.3 79.8L1434.6 79.6L1437.0 79.4L1439.4 79.2L1441.8 79.0L1444.2 78.8L1446.6 78.6L1449.0 78.4L1451.3 78.2L1453.7 78.0L1456.1 77.8L1458.5 77.6L1460.9 77.5L1463.3 77.3L1465.6 77.1L1468.0 76.9L1470.4 76.7L1472.8 76.5L1475.2 76.4L1477.6 76.2L1479.9 76.0L1482.3 75.8L1484.7 75.6L1487.1 75.5L1489.5 75.3L1491.9 75.1L1494.2 74.9L1496.6 74.8L1499.0 74.6L1501.4 74.4L1503.8 74.2L1506.2 74.1L1508.6 73.9L1510.9 73.7L1513.3 73.6L1515.7 73.4L1518.1 73.2L1520.5 73.1L1522.9 72.9L1525.2 72.7L1527.6 72.6L1530.0 72.4L1532.4 72.3L1534.8 72.1L1537.2 71.9L1539.5 71.8L1541.9 71.6L1544.3 71.5L1546.7 71.3L1549.1 71.2L1551.5 71.0L1553.8 70.9L1556.2 70.7L1558.6 70.6L1561.0 70.4L1563.4 70.3L1565.8 70.1L1568.2 70.0L1570.5 69.8L1572.9 69.7L1575.3 69.5L1577.7 69.4L1580.1 69.2L1582.5 69.1L1584.8 68.9L1587.2 68.8L1589.6 68.6L1592.0 68.5L1594.4 68.4L1596.8 68.2L1599.1 68.1L1601.5 67.9L1603.9 67.8L1606.3 67.7L1608.7 67.5L1611.1 67.4L1613.4 67.3L1615.8 67.1L1618.2 67.0L1620.6 66.9L1623.0 66.7L1625.4 66.6L1627.8 66.5L1630.1 66.3L1632.5 66.2L1634.9 66.1L1637.3 65.9L1639.7 65.8L1642.1 65.7L1644.4 65.6L1646.8 65.4L1649.2 65.3L1651.6 65.2L1654.0 65.0L1656.4 64.9L1658.7 64.8L1661.1 64.7L1663.5 64.5L1665.9 64.4L1668.3 64.3L1670.7 64.2L1673.0 64.1L1675.4 63.9L1677.8 63.8L1680.2 63.7" fill="none" stroke="#000000" stroke-width="2.5" stroke-linejoin="round" clip-path="url(#cb)"/><path d="M965.0 447.2L974.8 461.9L955.2 461.9Z" fill="#fff" stroke="#000000" stroke-width="3.2" stroke-linejoin="round"/><path d="M967.4 438.2L977.2 452.9L957.6 452.9Z" fill="#fff" stroke="#000000" stroke-width="3.2" stroke-linejoin="round"/><path d="M969.8 429.0L979.6 443.7L960.0 443.7Z" fill="#fff" stroke="#000000" stroke-width="3.2" stroke-linejoin="round"/><path d="M972.2 419.8L982.0 434.5L962.4 434.5Z" fill="#fff" stroke="#000000" stroke-width="3.2" stroke-linejoin="round"/><path d="M974.5 410.2L984.3 424.9L964.7 424.9Z" fill="#fff" stroke="#000000" stroke-width="3.2" stroke-linejoin="round"/><path d="M976.9 400.4L986.7 415.1L967.1 415.1Z" fill="#fff" stroke="#000000" stroke-width="3.2" stroke-linejoin="round"/><path d="M979.3 390.0L989.1 404.7L969.5 404.7Z" fill="#fff" stroke="#000000" stroke-width="3.2" stroke-linejoin="round"/><path d="M981.7 378.8L991.5 393.5L971.9 393.5Z" fill="#fff" stroke="#000000" stroke-width="3.2" stroke-linejoin="round"/><path d="M984.1 366.7L993.9 381.4L974.3 381.4Z" fill="#fff" stroke="#000000" stroke-width="3.2" stroke-linejoin="round"/><path d="M986.5 352.9L996.3 367.6L976.7 367.6Z" fill="#fff" stroke="#000000" stroke-width="3.2" stroke-linejoin="round"/><path d="M988.8 336.4L998.6 351.1L979.0 351.1Z" fill="#fff" stroke="#000000" stroke-width="3.2" stroke-linejoin="round"/><path d="M991.2 314.1L1001.0 328.8L981.4 328.8Z" fill="#fff" stroke="#000000" stroke-width="3.2" stroke-linejoin="round"/><path d="M993.6 273.9L1003.4 288.6L983.8 288.6Z" fill="#fff" stroke="#000000" stroke-width="3.2" stroke-linejoin="round"/><path d="M996.0 234.4L1005.8 249.1L986.2 249.1Z" fill="#fff" stroke="#000000" stroke-width="3.2" stroke-linejoin="round"/><path d="M998.4 217.9L1008.2 232.6L988.6 232.6Z" fill="#fff" stroke="#000000" stroke-width="3.2" stroke-linejoin="round"/><path d="M1000.8 207.7L1010.6 222.4L991.0 222.4Z" fill="#fff" stroke="#000000" stroke-width="3.2" stroke-linejoin="round"/><path d="M1003.1 200.1L1012.9 214.8L993.3 214.8Z" fill="#fff" stroke="#000000" stroke-width="3.2" stroke-linejoin="round"/><path d="M1005.5 194.0L1015.3 208.7L995.7 208.7Z" fill="#fff" stroke="#000000" stroke-width="3.2" stroke-linejoin="round"/><path d="M1007.9 188.9L1017.7 203.6L998.1 203.6Z" fill="#fff" stroke="#000000" stroke-width="3.2" stroke-linejoin="round"/><path d="M1010.3 184.5L1020.1 199.2L1000.5 199.2Z" fill="#fff" stroke="#000000" stroke-width="3.2" stroke-linejoin="round"/><path d="M1012.7 180.5L1022.5 195.2L1002.9 195.2Z" fill="#fff" stroke="#000000" stroke-width="3.2" stroke-linejoin="round"/><path d="M1015.1 177.0L1024.9 191.7L1005.3 191.7Z" fill="#fff" stroke="#000000" stroke-width="3.2" stroke-linejoin="round"/><path d="M1017.4 173.8L1027.2 188.5L1007.6 188.5Z" fill="#fff" stroke="#000000" stroke-width="3.2" stroke-linejoin="round"/><path d="M1019.8 170.9L1029.6 185.6L1010.0 185.6Z" fill="#fff" stroke="#000000" stroke-width="3.2" stroke-linejoin="round"/><path d="M1022.2 168.2L1032.0 182.9L1012.4 182.9Z" fill="#fff" stroke="#000000" stroke-width="3.2" stroke-linejoin="round"/><path d="M1024.6 165.7L1034.4 180.4L1014.8 180.4Z" fill="#fff" stroke="#000000" stroke-width="3.2" stroke-linejoin="round"/><path d="M1027.0 163.3L1036.8 178.0L1017.2 178.0Z" fill="#fff" stroke="#000000" stroke-width="3.2" stroke-linejoin="round"/><path d="M1029.4 161.1L1039.2 175.8L1019.6 175.8Z" fill="#fff" stroke="#000000" stroke-width="3.2" stroke-linejoin="round"/><path d="M1031.8 159.0L1041.6 173.7L1022.0 173.7Z" fill="#fff" stroke="#000000" stroke-width="3.2" stroke-linejoin="round"/><path d="M1034.1 157.0L1043.9 171.7L1024.3 171.7Z" fill="#fff" stroke="#000000" stroke-width="3.2" stroke-linejoin="round"/><path d="M1036.5 155.1L1046.3 169.8L1026.7 169.8Z" fill="#fff" stroke="#000000" stroke-width="3.2" stroke-linejoin="round"/><path d="M1038.9 153.4L1048.7 168.1L1029.1 168.1Z" fill="#fff" stroke="#000000" stroke-width="3.2" stroke-linejoin="round"/><path d="M1041.3 151.6L1051.1 166.3L1031.5 166.3Z" fill="#fff" stroke="#000000" stroke-width="3.2" stroke-linejoin="round"/><path d="M1043.7 150.0L1053.5 164.7L1033.9 164.7Z" fill="#fff" stroke="#000000" stroke-width="3.2" stroke-linejoin="round"/><path d="M1046.1 148.4L1055.9 163.1L1036.3 163.1Z" fill="#fff" stroke="#000000" stroke-width="3.2" stroke-linejoin="round"/><path d="M1048.4 146.9L1058.2 161.6L1038.6 161.6Z" fill="#fff" stroke="#000000" stroke-width="3.2" stroke-linejoin="round"/><path d="M1050.8 145.5L1060.6 160.2L1041.0 160.2Z" fill="#fff" stroke="#000000" stroke-width="3.2" stroke-linejoin="round"/><path d="M1053.2 144.0L1063.0 158.7L1043.4 158.7Z" fill="#fff" stroke="#000000" stroke-width="3.2" stroke-linejoin="round"/><path d="M1055.6 142.7L1065.4 157.4L1045.8 157.4Z" fill="#fff" stroke="#000000" stroke-width="3.2" stroke-linejoin="round"/><path d="M1058.0 141.4L1067.8 156.1L1048.2 156.1Z" fill="#fff" stroke="#000000" stroke-width="3.2" stroke-linejoin="round"/><path d="M1060.4 140.1L1070.2 154.8L1050.6 154.8Z" fill="#fff" stroke="#000000" stroke-width="3.2" stroke-linejoin="round"/><path d="M1062.7 138.9L1072.5 153.6L1052.9 153.6Z" fill="#fff" stroke="#000000" stroke-width="3.2" stroke-linejoin="round"/><path d="M1065.1 137.7L1074.9 152.4L1055.3 152.4Z" fill="#fff" stroke="#000000" stroke-width="3.2" stroke-linejoin="round"/><path d="M1067.5 136.5L1077.3 151.2L1057.7 151.2Z" fill="#fff" stroke="#000000" stroke-width="3.2" stroke-linejoin="round"/><path d="M1069.9 135.4L1079.7 150.1L1060.1 150.1Z" fill="#fff" stroke="#000000" stroke-width="3.2" stroke-linejoin="round"/><path d="M1072.3 134.3L1082.1 149.0L1062.5 149.0Z" fill="#fff" stroke="#000000" stroke-width="3.2" stroke-linejoin="round"/><path d="M1074.7 133.3L1084.5 148.0L1064.9 148.0Z" fill="#fff" stroke="#000000" stroke-width="3.2" stroke-linejoin="round"/><path d="M1077.0 132.2L1086.8 146.9L1067.2 146.9Z" fill="#fff" stroke="#000000" stroke-width="3.2" stroke-linejoin="round"/><path d="M1079.4 131.2L1089.2 145.9L1069.6 145.9Z" fill="#fff" stroke="#000000" stroke-width="3.2" stroke-linejoin="round"/><path d="M1081.8 130.2L1091.6 144.9L1072.0 144.9Z" fill="#fff" stroke="#000000" stroke-width="3.2" stroke-linejoin="round"/><path d="M1084.2 129.3L1094.0 144.0L1074.4 144.0Z" fill="#fff" stroke="#000000" stroke-width="3.2" stroke-linejoin="round"/><path d="M1086.6 128.3L1096.4 143.0L1076.8 143.0Z" fill="#fff" stroke="#000000" stroke-width="3.2" stroke-linejoin="round"/><path d="M1089.0 127.4L1098.8 142.1L1079.2 142.1Z" fill="#fff" stroke="#000000" stroke-width="3.2" stroke-linejoin="round"/><path d="M1091.4 126.5L1101.2 141.2L1081.6 141.2Z" fill="#fff" stroke="#000000" stroke-width="3.2" stroke-linejoin="round"/><path d="M1093.7 125.6L1103.5 140.3L1083.9 140.3Z" fill="#fff" stroke="#000000" stroke-width="3.2" stroke-linejoin="round"/><path d="M1096.1 124.8L1105.9 139.5L1086.3 139.5Z" fill="#fff" stroke="#000000" stroke-width="3.2" stroke-linejoin="round"/><path d="M1098.5 123.9L1108.3 138.6L1088.7 138.6Z" fill="#fff" stroke="#000000" stroke-width="3.2" stroke-linejoin="round"/><path d="M1100.9 123.1L1110.7 137.8L1091.1 137.8Z" fill="#fff" stroke="#000000" stroke-width="3.2" stroke-linejoin="round"/><path d="M1103.3 122.3L1113.1 137.0L1093.5 137.0Z" fill="#fff" stroke="#000000" stroke-width="3.2" stroke-linejoin="round"/><path d="M1105.7 121.5L1115.5 136.2L1095.9 136.2Z" fill="#fff" stroke="#000000" stroke-width="3.2" stroke-linejoin="round"/><path d="M1108.0 120.7L1117.8 135.4L1098.2 135.4Z" fill="#fff" stroke="#000000" stroke-width="3.2" stroke-linejoin="round"/><path d="M1110.4 120.0L1120.2 134.7L1100.6 134.7Z" fill="#fff" stroke="#000000" stroke-width="3.2" stroke-linejoin="round"/><path d="M1112.8 119.2L1122.6 133.9L1103.0 133.9Z" fill="#fff" stroke="#000000" stroke-width="3.2" stroke-linejoin="round"/><path d="M1115.2 118.5L1125.0 133.2L1105.4 133.2Z" fill="#fff" stroke="#000000" stroke-width="3.2" stroke-linejoin="round"/><path d="M1117.6 117.8L1127.4 132.5L1107.8 132.5Z" fill="#fff" stroke="#000000" stroke-width="3.2" stroke-linejoin="round"/><path d="M1120.0 117.1L1129.8 131.8L1110.2 131.8Z" fill="#fff" stroke="#000000" stroke-width="3.2" stroke-linejoin="round"/><path d="M1122.3 116.4L1132.1 131.1L1112.5 131.1Z" fill="#fff" stroke="#000000" stroke-width="3.2" stroke-linejoin="round"/><path d="M1124.7 115.7L1134.5 130.4L1114.9 130.4Z" fill="#fff" stroke="#000000" stroke-width="3.2" stroke-linejoin="round"/><path d="M1127.1 115.0L1136.9 129.7L1117.3 129.7Z" fill="#fff" stroke="#000000" stroke-width="3.2" stroke-linejoin="round"/><path d="M1129.5 114.4L1139.3 129.1L1119.7 129.1Z" fill="#fff" stroke="#000000" stroke-width="3.2" stroke-linejoin="round"/><path d="M1131.9 113.7L1141.7 128.4L1122.1 128.4Z" fill="#fff" stroke="#000000" stroke-width="3.2" stroke-linejoin="round"/><path d="M1134.3 113.1L1144.1 127.8L1124.5 127.8Z" fill="#fff" stroke="#000000" stroke-width="3.2" stroke-linejoin="round"/><path d="M1136.6 112.4L1146.4 127.1L1126.8 127.1Z" fill="#fff" stroke="#000000" stroke-width="3.2" stroke-linejoin="round"/><path d="M1139.0 111.8L1148.8 126.5L1129.2 126.5Z" fill="#fff" stroke="#000000" stroke-width="3.2" stroke-linejoin="round"/><path d="M1141.4 111.2L1151.2 125.9L1131.6 125.9Z" fill="#fff" stroke="#000000" stroke-width="3.2" stroke-linejoin="round"/><path d="M1143.8 110.6L1153.6 125.3L1134.0 125.3Z" fill="#fff" stroke="#000000" stroke-width="3.2" stroke-linejoin="round"/><path d="M1146.2 110.0L1156.0 124.7L1136.4 124.7Z" fill="#fff" stroke="#000000" stroke-width="3.2" stroke-linejoin="round"/><path d="M1148.6 109.4L1158.4 124.1L1138.8 124.1Z" fill="#fff" stroke="#000000" stroke-width="3.2" stroke-linejoin="round"/><path d="M1151.0 108.9L1160.8 123.6L1141.2 123.6Z" fill="#fff" stroke="#000000" stroke-width="3.2" stroke-linejoin="round"/><path d="M1153.3 108.3L1163.1 123.0L1143.5 123.0Z" fill="#fff" stroke="#000000" stroke-width="3.2" stroke-linejoin="round"/><path d="M1155.7 107.7L1165.5 122.4L1145.9 122.4Z" fill="#fff" stroke="#000000" stroke-width="3.2" stroke-linejoin="round"/><path d="M1158.1 107.2L1167.9 121.9L1148.3 121.9Z" fill="#fff" stroke="#000000" stroke-width="3.2" stroke-linejoin="round"/><path d="M1160.5 106.6L1170.3 121.3L1150.7 121.3Z" fill="#fff" stroke="#000000" stroke-width="3.2" stroke-linejoin="round"/><path d="M1162.9 106.1L1172.7 120.8L1153.1 120.8Z" fill="#fff" stroke="#000000" stroke-width="3.2" stroke-linejoin="round"/><path d="M1165.3 105.6L1175.1 120.3L1155.5 120.3Z" fill="#fff" stroke="#000000" stroke-width="3.2" stroke-linejoin="round"/><path d="M1167.6 105.1L1177.4 119.8L1157.8 119.8Z" fill="#fff" stroke="#000000" stroke-width="3.2" stroke-linejoin="round"/><path d="M1170.0 104.5L1179.8 119.2L1160.2 119.2Z" fill="#fff" stroke="#000000" stroke-width="3.2" stroke-linejoin="round"/><path d="M1172.4 104.0L1182.2 118.7L1162.6 118.7Z" fill="#fff" stroke="#000000" stroke-width="3.2" stroke-linejoin="round"/><path d="M1174.8 103.5L1184.6 118.2L1165.0 118.2Z" fill="#fff" stroke="#000000" stroke-width="3.2" stroke-linejoin="round"/><path d="M1177.2 103.0L1187.0 117.7L1167.4 117.7Z" fill="#fff" stroke="#000000" stroke-width="3.2" stroke-linejoin="round"/><path d="M1179.6 102.5L1189.4 117.2L1169.8 117.2Z" fill="#fff" stroke="#000000" stroke-width="3.2" stroke-linejoin="round"/><path d="M1181.9 102.1L1191.7 116.8L1172.1 116.8Z" fill="#fff" stroke="#000000" stroke-width="3.2" stroke-linejoin="round"/><path d="M1184.3 101.6L1194.1 116.3L1174.5 116.3Z" fill="#fff" stroke="#000000" stroke-width="3.2" stroke-linejoin="round"/><path d="M1186.7 101.1L1196.5 115.8L1176.9 115.8Z" fill="#fff" stroke="#000000" stroke-width="3.2" stroke-linejoin="round"/><path d="M1189.1 100.6L1198.9 115.3L1179.3 115.3Z" fill="#fff" stroke="#000000" stroke-width="3.2" stroke-linejoin="round"/><path d="M1191.5 100.2L1201.3 114.9L1181.7 114.9Z" fill="#fff" stroke="#000000" stroke-width="3.2" stroke-linejoin="round"/><path d="M1193.9 99.7L1203.7 114.4L1184.1 114.4Z" fill="#fff" stroke="#000000" stroke-width="3.2" stroke-linejoin="round"/><path d="M1196.2 99.3L1206.0 114.0L1186.4 114.0Z" fill="#fff" stroke="#000000" stroke-width="3.2" stroke-linejoin="round"/><path d="M1198.6 98.8L1208.4 113.5L1188.8 113.5Z" fill="#fff" stroke="#000000" stroke-width="3.2" stroke-linejoin="round"/><path d="M1201.0 98.4L1210.8 113.1L1191.2 113.1Z" fill="#fff" stroke="#000000" stroke-width="3.2" stroke-linejoin="round"/><path d="M1203.4 98.0L1213.2 112.7L1193.6 112.7Z" fill="#fff" stroke="#000000" stroke-width="3.2" stroke-linejoin="round"/><path d="M1205.8 97.5L1215.6 112.2L1196.0 112.2Z" fill="#fff" stroke="#000000" stroke-width="3.2" stroke-linejoin="round"/><path d="M1208.2 97.1L1218.0 111.8L1198.4 111.8Z" fill="#fff" stroke="#000000" stroke-width="3.2" stroke-linejoin="round"/><path d="M1210.6 96.7L1220.4 111.4L1200.8 111.4Z" fill="#fff" stroke="#000000" stroke-width="3.2" stroke-linejoin="round"/><path d="M1212.9 96.3L1222.7 111.0L1203.1 111.0Z" fill="#fff" stroke="#000000" stroke-width="3.2" stroke-linejoin="round"/><path d="M1215.3 95.8L1225.1 110.5L1205.5 110.5Z" fill="#fff" stroke="#000000" stroke-width="3.2" stroke-linejoin="round"/><path d="M1217.7 95.4L1227.5 110.1L1207.9 110.1Z" fill="#fff" stroke="#000000" stroke-width="3.2" stroke-linejoin="round"/><path d="M1220.1 95.0L1229.9 109.7L1210.3 109.7Z" fill="#fff" stroke="#000000" stroke-width="3.2" stroke-linejoin="round"/><path d="M1222.5 94.6L1232.3 109.3L1212.7 109.3Z" fill="#fff" stroke="#000000" stroke-width="3.2" stroke-linejoin="round"/><path d="M1224.9 94.2L1234.7 108.9L1215.1 108.9Z" fill="#fff" stroke="#000000" stroke-width="3.2" stroke-linejoin="round"/><path d="M1227.2 93.9L1237.0 108.6L1217.4 108.6Z" fill="#fff" stroke="#000000" stroke-width="3.2" stroke-linejoin="round"/><path d="M1229.6 93.5L1239.4 108.2L1219.8 108.2Z" fill="#fff" stroke="#000000" stroke-width="3.2" stroke-linejoin="round"/><path d="M1232.0 93.1L1241.8 107.8L1222.2 107.8Z" fill="#fff" stroke="#000000" stroke-width="3.2" stroke-linejoin="round"/><path d="M1234.4 92.7L1244.2 107.4L1224.6 107.4Z" fill="#fff" stroke="#000000" stroke-width="3.2" stroke-linejoin="round"/><path d="M1236.8 92.3L1246.6 107.0L1227.0 107.0Z" fill="#fff" stroke="#000000" stroke-width="3.2" stroke-linejoin="round"/><path d="M1239.2 92.0L1249.0 106.7L1229.4 106.7Z" fill="#fff" stroke="#000000" stroke-width="3.2" stroke-linejoin="round"/><path d="M1241.5 91.6L1251.3 106.3L1231.7 106.3Z" fill="#fff" stroke="#000000" stroke-width="3.2" stroke-linejoin="round"/><path d="M1243.9 91.2L1253.7 105.9L1234.1 105.9Z" fill="#fff" stroke="#000000" stroke-width="3.2" stroke-linejoin="round"/><path d="M1246.3 90.9L1256.1 105.6L1236.5 105.6Z" fill="#fff" stroke="#000000" stroke-width="3.2" stroke-linejoin="round"/><path d="M1248.7 90.5L1258.5 105.2L1238.9 105.2Z" fill="#fff" stroke="#000000" stroke-width="3.2" stroke-linejoin="round"/><path d="M1251.1 90.1L1260.9 104.8L1241.3 104.8Z" fill="#fff" stroke="#000000" stroke-width="3.2" stroke-linejoin="round"/><path d="M1253.5 89.8L1263.3 104.5L1243.7 104.5Z" fill="#fff" stroke="#000000" stroke-width="3.2" stroke-linejoin="round"/><path d="M1255.8 89.4L1265.6 104.1L1246.0 104.1Z" fill="#fff" stroke="#000000" stroke-width="3.2" stroke-linejoin="round"/><path d="M1258.2 89.1L1268.0 103.8L1248.4 103.8Z" fill="#fff" stroke="#000000" stroke-width="3.2" stroke-linejoin="round"/><path d="M1260.6 88.8L1270.4 103.5L1250.8 103.5Z" fill="#fff" stroke="#000000" stroke-width="3.2" stroke-linejoin="round"/><path d="M1263.0 88.4L1272.8 103.1L1253.2 103.1Z" fill="#fff" stroke="#000000" stroke-width="3.2" stroke-linejoin="round"/><path d="M1265.4 88.1L1275.2 102.8L1255.6 102.8Z" fill="#fff" stroke="#000000" stroke-width="3.2" stroke-linejoin="round"/><path d="M1267.8 87.7L1277.6 102.4L1258.0 102.4Z" fill="#fff" stroke="#000000" stroke-width="3.2" stroke-linejoin="round"/><path d="M1270.2 87.4L1280.0 102.1L1260.4 102.1Z" fill="#fff" stroke="#000000" stroke-width="3.2" stroke-linejoin="round"/><path d="M1272.5 87.1L1282.3 101.8L1262.7 101.8Z" fill="#fff" stroke="#000000" stroke-width="3.2" stroke-linejoin="round"/><path d="M1274.9 86.8L1284.7 101.5L1265.1 101.5Z" fill="#fff" stroke="#000000" stroke-width="3.2" stroke-linejoin="round"/><path d="M1277.3 86.4L1287.1 101.1L1267.5 101.1Z" fill="#fff" stroke="#000000" stroke-width="3.2" stroke-linejoin="round"/><path d="M1279.7 86.1L1289.5 100.8L1269.9 100.8Z" fill="#fff" stroke="#000000" stroke-width="3.2" stroke-linejoin="round"/><path d="M1282.1 85.8L1291.9 100.5L1272.3 100.5Z" fill="#fff" stroke="#000000" stroke-width="3.2" stroke-linejoin="round"/><path d="M1284.5 85.5L1294.3 100.2L1274.7 100.2Z" fill="#fff" stroke="#000000" stroke-width="3.2" stroke-linejoin="round"/><path d="M1286.8 85.2L1296.6 99.9L1277.0 99.9Z" fill="#fff" stroke="#000000" stroke-width="3.2" stroke-linejoin="round"/><path d="M1289.2 84.9L1299.0 99.6L1279.4 99.6Z" fill="#fff" stroke="#000000" stroke-width="3.2" stroke-linejoin="round"/><path d="M1291.6 84.6L1301.4 99.3L1281.8 99.3Z" fill="#fff" stroke="#000000" stroke-width="3.2" stroke-linejoin="round"/><path d="M1294.0 84.3L1303.8 99.0L1284.2 99.0Z" fill="#fff" stroke="#000000" stroke-width="3.2" stroke-linejoin="round"/><path d="M1296.4 84.0L1306.2 98.7L1286.6 98.7Z" fill="#fff" stroke="#000000" stroke-width="3.2" stroke-linejoin="round"/><path d="M1298.8 83.7L1308.6 98.4L1289.0 98.4Z" fill="#fff" stroke="#000000" stroke-width="3.2" stroke-linejoin="round"/><path d="M1301.1 83.4L1310.9 98.1L1291.3 98.1Z" fill="#fff" stroke="#000000" stroke-width="3.2" stroke-linejoin="round"/><path d="M1303.5 83.1L1313.3 97.8L1293.7 97.8Z" fill="#fff" stroke="#000000" stroke-width="3.2" stroke-linejoin="round"/><path d="M1305.9 82.8L1315.7 97.5L1296.1 97.5Z" fill="#fff" stroke="#000000" stroke-width="3.2" stroke-linejoin="round"/><path d="M1308.3 82.5L1318.1 97.2L1298.5 97.2Z" fill="#fff" stroke="#000000" stroke-width="3.2" stroke-linejoin="round"/><path d="M1310.7 82.2L1320.5 96.9L1300.9 96.9Z" fill="#fff" stroke="#000000" stroke-width="3.2" stroke-linejoin="round"/><path d="M1313.1 81.9L1322.9 96.6L1303.3 96.6Z" fill="#fff" stroke="#000000" stroke-width="3.2" stroke-linejoin="round"/><path d="M1315.4 81.6L1325.2 96.3L1305.6 96.3Z" fill="#fff" stroke="#000000" stroke-width="3.2" stroke-linejoin="round"/><path d="M1317.8 81.4L1327.6 96.1L1308.0 96.1Z" fill="#fff" stroke="#000000" stroke-width="3.2" stroke-linejoin="round"/><path d="M1320.2 81.1L1330.0 95.8L1310.4 95.8Z" fill="#fff" stroke="#000000" stroke-width="3.2" stroke-linejoin="round"/><path d="M1322.6 80.8L1332.4 95.5L1312.8 95.5Z" fill="#fff" stroke="#000000" stroke-width="3.2" stroke-linejoin="round"/><path d="M1325.0 80.5L1334.8 95.2L1315.2 95.2Z" fill="#fff" stroke="#000000" stroke-width="3.2" stroke-linejoin="round"/><path d="M1327.4 80.3L1337.2 95.0L1317.6 95.0Z" fill="#fff" stroke="#000000" stroke-width="3.2" stroke-linejoin="round"/><path d="M1329.8 80.0L1339.6 94.7L1320.0 94.7Z" fill="#fff" stroke="#000000" stroke-width="3.2" stroke-linejoin="round"/><path d="M1332.1 79.7L1341.9 94.4L1322.3 94.4Z" fill="#fff" stroke="#000000" stroke-width="3.2" stroke-linejoin="round"/><path d="M1334.5 79.5L1344.3 94.2L1324.7 94.2Z" fill="#fff" stroke="#000000" stroke-width="3.2" stroke-linejoin="round"/><path d="M1336.9 79.2L1346.7 93.9L1327.1 93.9Z" fill="#fff" stroke="#000000" stroke-width="3.2" stroke-linejoin="round"/><path d="M1339.3 78.9L1349.1 93.6L1329.5 93.6Z" fill="#fff" stroke="#000000" stroke-width="3.2" stroke-linejoin="round"/><path d="M1341.7 78.7L1351.5 93.4L1331.9 93.4Z" fill="#fff" stroke="#000000" stroke-width="3.2" stroke-linejoin="round"/><path d="M1344.1 78.4L1353.9 93.1L1334.3 93.1Z" fill="#fff" stroke="#000000" stroke-width="3.2" stroke-linejoin="round"/><path d="M1346.4 78.2L1356.2 92.9L1336.6 92.9Z" fill="#fff" stroke="#000000" stroke-width="3.2" stroke-linejoin="round"/><path d="M1348.8 77.9L1358.6 92.6L1339.0 92.6Z" fill="#fff" stroke="#000000" stroke-width="3.2" stroke-linejoin="round"/><path d="M1351.2 77.7L1361.0 92.4L1341.4 92.4Z" fill="#fff" stroke="#000000" stroke-width="3.2" stroke-linejoin="round"/><path d="M1353.6 77.4L1363.4 92.1L1343.8 92.1Z" fill="#fff" stroke="#000000" stroke-width="3.2" stroke-linejoin="round"/><path d="M1356.0 77.2L1365.8 91.9L1346.2 91.9Z" fill="#fff" stroke="#000000" stroke-width="3.2" stroke-linejoin="round"/><path d="M1358.4 76.9L1368.2 91.6L1348.6 91.6Z" fill="#fff" stroke="#000000" stroke-width="3.2" stroke-linejoin="round"/><path d="M1360.7 76.7L1370.5 91.4L1350.9 91.4Z" fill="#fff" stroke="#000000" stroke-width="3.2" stroke-linejoin="round"/><path d="M1363.1 76.4L1372.9 91.1L1353.3 91.1Z" fill="#fff" stroke="#000000" stroke-width="3.2" stroke-linejoin="round"/><path d="M1365.5 76.2L1375.3 90.9L1355.7 90.9Z" fill="#fff" stroke="#000000" stroke-width="3.2" stroke-linejoin="round"/><path d="M1367.9 75.9L1377.7 90.6L1358.1 90.6Z" fill="#fff" stroke="#000000" stroke-width="3.2" stroke-linejoin="round"/><path d="M1370.3 75.7L1380.1 90.4L1360.5 90.4Z" fill="#fff" stroke="#000000" stroke-width="3.2" stroke-linejoin="round"/><path d="M1372.7 75.5L1382.5 90.2L1362.9 90.2Z" fill="#fff" stroke="#000000" stroke-width="3.2" stroke-linejoin="round"/><path d="M1375.0 75.2L1384.8 89.9L1365.2 89.9Z" fill="#fff" stroke="#000000" stroke-width="3.2" stroke-linejoin="round"/><path d="M1377.4 75.0L1387.2 89.7L1367.6 89.7Z" fill="#fff" stroke="#000000" stroke-width="3.2" stroke-linejoin="round"/><path d="M1379.8 74.8L1389.6 89.5L1370.0 89.5Z" fill="#fff" stroke="#000000" stroke-width="3.2" stroke-linejoin="round"/><path d="M1382.2 74.5L1392.0 89.2L1372.4 89.2Z" fill="#fff" stroke="#000000" stroke-width="3.2" stroke-linejoin="round"/><path d="M1384.6 74.3L1394.4 89.0L1374.8 89.0Z" fill="#fff" stroke="#000000" stroke-width="3.2" stroke-linejoin="round"/><path d="M1387.0 74.1L1396.8 88.8L1377.2 88.8Z" fill="#fff" stroke="#000000" stroke-width="3.2" stroke-linejoin="round"/><path d="M1389.4 73.8L1399.2 88.5L1379.6 88.5Z" fill="#fff" stroke="#000000" stroke-width="3.2" stroke-linejoin="round"/><path d="M1391.7 73.6L1401.5 88.3L1381.9 88.3Z" fill="#fff" stroke="#000000" stroke-width="3.2" stroke-linejoin="round"/><path d="M1394.1 73.4L1403.9 88.1L1384.3 88.1Z" fill="#fff" stroke="#000000" stroke-width="3.2" stroke-linejoin="round"/><path d="M1396.5 73.2L1406.3 87.9L1386.7 87.9Z" fill="#fff" stroke="#000000" stroke-width="3.2" stroke-linejoin="round"/><path d="M1398.9 72.9L1408.7 87.6L1389.1 87.6Z" fill="#fff" stroke="#000000" stroke-width="3.2" stroke-linejoin="round"/><path d="M1401.3 72.7L1411.1 87.4L1391.5 87.4Z" fill="#fff" stroke="#000000" stroke-width="3.2" stroke-linejoin="round"/><path d="M1403.7 72.5L1413.5 87.2L1393.9 87.2Z" fill="#fff" stroke="#000000" stroke-width="3.2" stroke-linejoin="round"/><path d="M1406.0 72.3L1415.8 87.0L1396.2 87.0Z" fill="#fff" stroke="#000000" stroke-width="3.2" stroke-linejoin="round"/><path d="M1408.4 72.1L1418.2 86.8L1398.6 86.8Z" fill="#fff" stroke="#000000" stroke-width="3.2" stroke-linejoin="round"/><path d="M1410.8 71.9L1420.6 86.6L1401.0 86.6Z" fill="#fff" stroke="#000000" stroke-width="3.2" stroke-linejoin="round"/><path d="M1413.2 71.7L1423.0 86.4L1403.4 86.4Z" fill="#fff" stroke="#000000" stroke-width="3.2" stroke-linejoin="round"/><path d="M1415.6 71.4L1425.4 86.1L1405.8 86.1Z" fill="#fff" stroke="#000000" stroke-width="3.2" stroke-linejoin="round"/><path d="M1418.0 71.2L1427.8 85.9L1408.2 85.9Z" fill="#fff" stroke="#000000" stroke-width="3.2" stroke-linejoin="round"/><path d="M1420.3 71.0L1430.1 85.7L1410.5 85.7Z" fill="#fff" stroke="#000000" stroke-width="3.2" stroke-linejoin="round"/><path d="M1422.7 70.8L1432.5 85.5L1412.9 85.5Z" fill="#fff" stroke="#000000" stroke-width="3.2" stroke-linejoin="round"/><path d="M1425.1 70.6L1434.9 85.3L1415.3 85.3Z" fill="#fff" stroke="#000000" stroke-width="3.2" stroke-linejoin="round"/><path d="M1427.5 70.4L1437.3 85.1L1417.7 85.1Z" fill="#fff" stroke="#000000" stroke-width="3.2" stroke-linejoin="round"/><path d="M1429.9 70.2L1439.7 84.9L1420.1 84.9Z" fill="#fff" stroke="#000000" stroke-width="3.2" stroke-linejoin="round"/><path d="M1432.3 70.0L1442.1 84.7L1422.5 84.7Z" fill="#fff" stroke="#000000" stroke-width="3.2" stroke-linejoin="round"/><path d="M1434.6 69.8L1444.4 84.5L1424.8 84.5Z" fill="#fff" stroke="#000000" stroke-width="3.2" stroke-linejoin="round"/><path d="M1437.0 69.6L1446.8 84.3L1427.2 84.3Z" fill="#fff" stroke="#000000" stroke-width="3.2" stroke-linejoin="round"/><path d="M1439.4 69.4L1449.2 84.1L1429.6 84.1Z" fill="#fff" stroke="#000000" stroke-width="3.2" stroke-linejoin="round"/><path d="M1441.8 69.2L1451.6 83.9L1432.0 83.9Z" fill="#fff" stroke="#000000" stroke-width="3.2" stroke-linejoin="round"/><path d="M1444.2 69.0L1454.0 83.7L1434.4 83.7Z" fill="#fff" stroke="#000000" stroke-width="3.2" stroke-linejoin="round"/><path d="M1446.6 68.8L1456.4 83.5L1436.8 83.5Z" fill="#fff" stroke="#000000" stroke-width="3.2" stroke-linejoin="round"/><path d="M1449.0 68.6L1458.8 83.3L1439.2 83.3Z" fill="#fff" stroke="#000000" stroke-width="3.2" stroke-linejoin="round"/><path d="M1451.3 68.4L1461.1 83.1L1441.5 83.1Z" fill="#fff" stroke="#000000" stroke-width="3.2" stroke-linejoin="round"/><path d="M1453.7 68.2L1463.5 82.9L1443.9 82.9Z" fill="#fff" stroke="#000000" stroke-width="3.2" stroke-linejoin="round"/><path d="M1456.1 68.0L1465.9 82.7L1446.3 82.7Z" fill="#fff" stroke="#000000" stroke-width="3.2" stroke-linejoin="round"/><path d="M1458.5 67.8L1468.3 82.5L1448.7 82.5Z" fill="#fff" stroke="#000000" stroke-width="3.2" stroke-linejoin="round"/><path d="M1460.9 67.7L1470.7 82.4L1451.1 82.4Z" fill="#fff" stroke="#000000" stroke-width="3.2" stroke-linejoin="round"/><path d="M1463.3 67.5L1473.1 82.2L1453.5 82.2Z" fill="#fff" stroke="#000000" stroke-width="3.2" stroke-linejoin="round"/><path d="M1465.6 67.3L1475.4 82.0L1455.8 82.0Z" fill="#fff" stroke="#000000" stroke-width="3.2" stroke-linejoin="round"/><path d="M1468.0 67.1L1477.8 81.8L1458.2 81.8Z" fill="#fff" stroke="#000000" stroke-width="3.2" stroke-linejoin="round"/><path d="M1470.4 66.9L1480.2 81.6L1460.6 81.6Z" fill="#fff" stroke="#000000" stroke-width="3.2" stroke-linejoin="round"/><path d="M1472.8 66.7L1482.6 81.4L1463.0 81.4Z" fill="#fff" stroke="#000000" stroke-width="3.2" stroke-linejoin="round"/><path d="M1475.2 66.6L1485.0 81.3L1465.4 81.3Z" fill="#fff" stroke="#000000" stroke-width="3.2" stroke-linejoin="round"/><path d="M1477.6 66.4L1487.4 81.1L1467.8 81.1Z" fill="#fff" stroke="#000000" stroke-width="3.2" stroke-linejoin="round"/><path d="M1479.9 66.2L1489.7 80.9L1470.1 80.9Z" fill="#fff" stroke="#000000" stroke-width="3.2" stroke-linejoin="round"/><path d="M1482.3 66.0L1492.1 80.7L1472.5 80.7Z" fill="#fff" stroke="#000000" stroke-width="3.2" stroke-linejoin="round"/><path d="M1484.7 65.8L1494.5 80.5L1474.9 80.5Z" fill="#fff" stroke="#000000" stroke-width="3.2" stroke-linejoin="round"/><path d="M1487.1 65.7L1496.9 80.4L1477.3 80.4Z" fill="#fff" stroke="#000000" stroke-width="3.2" stroke-linejoin="round"/><path d="M1489.5 65.5L1499.3 80.2L1479.7 80.2Z" fill="#fff" stroke="#000000" stroke-width="3.2" stroke-linejoin="round"/><path d="M1491.9 65.3L1501.7 80.0L1482.1 80.0Z" fill="#fff" stroke="#000000" stroke-width="3.2" stroke-linejoin="round"/><path d="M1494.2 65.1L1504.0 79.8L1484.4 79.8Z" fill="#fff" stroke="#000000" stroke-width="3.2" stroke-linejoin="round"/><path d="M1496.6 65.0L1506.4 79.7L1486.8 79.7Z" fill="#fff" stroke="#000000" stroke-width="3.2" stroke-linejoin="round"/><path d="M1499.0 64.8L1508.8 79.5L1489.2 79.5Z" fill="#fff" stroke="#000000" stroke-width="3.2" stroke-linejoin="round"/><path d="M1501.4 64.6L1511.2 79.3L1491.6 79.3Z" fill="#fff" stroke="#000000" stroke-width="3.2" stroke-linejoin="round"/><path d="M1503.8 64.4L1513.6 79.1L1494.0 79.1Z" fill="#fff" stroke="#000000" stroke-width="3.2" stroke-linejoin="round"/><path d="M1506.2 64.3L1516.0 79.0L1496.4 79.0Z" fill="#fff" stroke="#000000" stroke-width="3.2" stroke-linejoin="round"/><path d="M1508.6 64.1L1518.4 78.8L1498.8 78.8Z" fill="#fff" stroke="#000000" stroke-width="3.2" stroke-linejoin="round"/><path d="M1510.9 63.9L1520.7 78.6L1501.1 78.6Z" fill="#fff" stroke="#000000" stroke-width="3.2" stroke-linejoin="round"/><path d="M1513.3 63.8L1523.1 78.5L1503.5 78.5Z" fill="#fff" stroke="#000000" stroke-width="3.2" stroke-linejoin="round"/><path d="M1515.7 63.6L1525.5 78.3L1505.9 78.3Z" fill="#fff" stroke="#000000" stroke-width="3.2" stroke-linejoin="round"/><path d="M1518.1 63.4L1527.9 78.1L1508.3 78.1Z" fill="#fff" stroke="#000000" stroke-width="3.2" stroke-linejoin="round"/><path d="M1520.5 63.3L1530.3 78.0L1510.7 78.0Z" fill="#fff" stroke="#000000" stroke-width="3.2" stroke-linejoin="round"/><path d="M1522.9 63.1L1532.7 77.8L1513.1 77.8Z" fill="#fff" stroke="#000000" stroke-width="3.2" stroke-linejoin="round"/><path d="M1525.2 62.9L1535.0 77.6L1515.4 77.6Z" fill="#fff" stroke="#000000" stroke-width="3.2" stroke-linejoin="round"/><path d="M1527.6 62.8L1537.4 77.5L1517.8 77.5Z" fill="#fff" stroke="#000000" stroke-width="3.2" stroke-linejoin="round"/><path d="M1530.0 62.6L1539.8 77.3L1520.2 77.3Z" fill="#fff" stroke="#000000" stroke-width="3.2" stroke-linejoin="round"/><path d="M1532.4 62.5L1542.2 77.2L1522.6 77.2Z" fill="#fff" stroke="#000000" stroke-width="3.2" stroke-linejoin="round"/><path d="M1534.8 62.3L1544.6 77.0L1525.0 77.0Z" fill="#fff" stroke="#000000" stroke-width="3.2" stroke-linejoin="round"/><path d="M1537.2 62.1L1547.0 76.8L1527.4 76.8Z" fill="#fff" stroke="#000000" stroke-width="3.2" stroke-linejoin="round"/><path d="M1539.5 62.0L1549.3 76.7L1529.7 76.7Z" fill="#fff" stroke="#000000" stroke-width="3.2" stroke-linejoin="round"/><path d="M1541.9 61.8L1551.7 76.5L1532.1 76.5Z" fill="#fff" stroke="#000000" stroke-width="3.2" stroke-linejoin="round"/><path d="M1544.3 61.7L1554.1 76.4L1534.5 76.4Z" fill="#fff" stroke="#000000" stroke-width="3.2" stroke-linejoin="round"/><path d="M1546.7 61.5L1556.5 76.2L1536.9 76.2Z" fill="#fff" stroke="#000000" stroke-width="3.2" stroke-linejoin="round"/><path d="M1549.1 61.4L1558.9 76.1L1539.3 76.1Z" fill="#fff" stroke="#000000" stroke-width="3.2" stroke-linejoin="round"/><path d="M1551.5 61.2L1561.3 75.9L1541.7 75.9Z" fill="#fff" stroke="#000000" stroke-width="3.2" stroke-linejoin="round"/><path d="M1553.8 61.1L1563.6 75.8L1544.0 75.8Z" fill="#fff" stroke="#000000" stroke-width="3.2" stroke-linejoin="round"/><path d="M1556.2 60.9L1566.0 75.6L1546.4 75.6Z" fill="#fff" stroke="#000000" stroke-width="3.2" stroke-linejoin="round"/><path d="M1558.6 60.8L1568.4 75.5L1548.8 75.5Z" fill="#fff" stroke="#000000" stroke-width="3.2" stroke-linejoin="round"/><path d="M1561.0 60.6L1570.8 75.3L1551.2 75.3Z" fill="#fff" stroke="#000000" stroke-width="3.2" stroke-linejoin="round"/><path d="M1563.4 60.5L1573.2 75.2L1553.6 75.2Z" fill="#fff" stroke="#000000" stroke-width="3.2" stroke-linejoin="round"/><path d="M1565.8 60.3L1575.6 75.0L1556.0 75.0Z" fill="#fff" stroke="#000000" stroke-width="3.2" stroke-linejoin="round"/><path d="M1568.2 60.2L1578.0 74.9L1558.4 74.9Z" fill="#fff" stroke="#000000" stroke-width="3.2" stroke-linejoin="round"/><path d="M1570.5 60.0L1580.3 74.7L1560.7 74.7Z" fill="#fff" stroke="#000000" stroke-width="3.2" stroke-linejoin="round"/><path d="M1572.9 59.9L1582.7 74.6L1563.1 74.6Z" fill="#fff" stroke="#000000" stroke-width="3.2" stroke-linejoin="round"/><path d="M1575.3 59.7L1585.1 74.4L1565.5 74.4Z" fill="#fff" stroke="#000000" stroke-width="3.2" stroke-linejoin="round"/><path d="M1577.7 59.6L1587.5 74.3L1567.9 74.3Z" fill="#fff" stroke="#000000" stroke-width="3.2" stroke-linejoin="round"/><path d="M1580.1 59.4L1589.9 74.1L1570.3 74.1Z" fill="#fff" stroke="#000000" stroke-width="3.2" stroke-linejoin="round"/><path d="M1582.5 59.3L1592.3 74.0L1572.7 74.0Z" fill="#fff" stroke="#000000" stroke-width="3.2" stroke-linejoin="round"/><path d="M1584.8 59.1L1594.6 73.8L1575.0 73.8Z" fill="#fff" stroke="#000000" stroke-width="3.2" stroke-linejoin="round"/><path d="M1587.2 59.0L1597.0 73.7L1577.4 73.7Z" fill="#fff" stroke="#000000" stroke-width="3.2" stroke-linejoin="round"/><path d="M1589.6 58.8L1599.4 73.5L1579.8 73.5Z" fill="#fff" stroke="#000000" stroke-width="3.2" stroke-linejoin="round"/><path d="M1592.0 58.7L1601.8 73.4L1582.2 73.4Z" fill="#fff" stroke="#000000" stroke-width="3.2" stroke-linejoin="round"/><path d="M1594.4 58.6L1604.2 73.3L1584.6 73.3Z" fill="#fff" stroke="#000000" stroke-width="3.2" stroke-linejoin="round"/><path d="M1596.8 58.4L1606.6 73.1L1587.0 73.1Z" fill="#fff" stroke="#000000" stroke-width="3.2" stroke-linejoin="round"/><path d="M1599.1 58.3L1608.9 73.0L1589.3 73.0Z" fill="#fff" stroke="#000000" stroke-width="3.2" stroke-linejoin="round"/><path d="M1601.5 58.1L1611.3 72.8L1591.7 72.8Z" fill="#fff" stroke="#000000" stroke-width="3.2" stroke-linejoin="round"/><path d="M1603.9 58.0L1613.7 72.7L1594.1 72.7Z" fill="#fff" stroke="#000000" stroke-width="3.2" stroke-linejoin="round"/><path d="M1606.3 57.9L1616.1 72.6L1596.5 72.6Z" fill="#fff" stroke="#000000" stroke-width="3.2" stroke-linejoin="round"/><path d="M1608.7 57.7L1618.5 72.4L1598.9 72.4Z" fill="#fff" stroke="#000000" stroke-width="3.2" stroke-linejoin="round"/><path d="M1611.1 57.6L1620.9 72.3L1601.3 72.3Z" fill="#fff" stroke="#000000" stroke-width="3.2" stroke-linejoin="round"/><path d="M1613.4 57.5L1623.2 72.2L1603.6 72.2Z" fill="#fff" stroke="#000000" stroke-width="3.2" stroke-linejoin="round"/><path d="M1615.8 57.3L1625.6 72.0L1606.0 72.0Z" fill="#fff" stroke="#000000" stroke-width="3.2" stroke-linejoin="round"/><path d="M1618.2 57.2L1628.0 71.9L1608.4 71.9Z" fill="#fff" stroke="#000000" stroke-width="3.2" stroke-linejoin="round"/><path d="M1620.6 57.1L1630.4 71.8L1610.8 71.8Z" fill="#fff" stroke="#000000" stroke-width="3.2" stroke-linejoin="round"/><path d="M1623.0 56.9L1632.8 71.6L1613.2 71.6Z" fill="#fff" stroke="#000000" stroke-width="3.2" stroke-linejoin="round"/><path d="M1625.4 56.8L1635.2 71.5L1615.6 71.5Z" fill="#fff" stroke="#000000" stroke-width="3.2" stroke-linejoin="round"/><path d="M1627.8 56.7L1637.6 71.4L1618.0 71.4Z" fill="#fff" stroke="#000000" stroke-width="3.2" stroke-linejoin="round"/><path d="M1630.1 56.5L1639.9 71.2L1620.3 71.2Z" fill="#fff" stroke="#000000" stroke-width="3.2" stroke-linejoin="round"/><path d="M1632.5 56.4L1642.3 71.1L1622.7 71.1Z" fill="#fff" stroke="#000000" stroke-width="3.2" stroke-linejoin="round"/><path d="M1634.9 56.3L1644.7 71.0L1625.1 71.0Z" fill="#fff" stroke="#000000" stroke-width="3.2" stroke-linejoin="round"/><path d="M1637.3 56.1L1647.1 70.8L1627.5 70.8Z" fill="#fff" stroke="#000000" stroke-width="3.2" stroke-linejoin="round"/><path d="M1639.7 56.0L1649.5 70.7L1629.9 70.7Z" fill="#fff" stroke="#000000" stroke-width="3.2" stroke-linejoin="round"/><path d="M1642.1 55.9L1651.9 70.6L1632.3 70.6Z" fill="#fff" stroke="#000000" stroke-width="3.2" stroke-linejoin="round"/><path d="M1644.4 55.8L1654.2 70.5L1634.6 70.5Z" fill="#fff" stroke="#000000" stroke-width="3.2" stroke-linejoin="round"/><path d="M1646.8 55.6L1656.6 70.3L1637.0 70.3Z" fill="#fff" stroke="#000000" stroke-width="3.2" stroke-linejoin="round"/><path d="M1649.2 55.5L1659.0 70.2L1639.4 70.2Z" fill="#fff" stroke="#000000" stroke-width="3.2" stroke-linejoin="round"/><path d="M1651.6 55.4L1661.4 70.1L1641.8 70.1Z" fill="#fff" stroke="#000000" stroke-width="3.2" stroke-linejoin="round"/><path d="M1654.0 55.2L1663.8 69.9L1644.2 69.9Z" fill="#fff" stroke="#000000" stroke-width="3.2" stroke-linejoin="round"/><path d="M1656.4 55.1L1666.2 69.8L1646.6 69.8Z" fill="#fff" stroke="#000000" stroke-width="3.2" stroke-linejoin="round"/><path d="M1658.7 55.0L1668.5 69.7L1648.9 69.7Z" fill="#fff" stroke="#000000" stroke-width="3.2" stroke-linejoin="round"/><path d="M1661.1 54.9L1670.9 69.6L1651.3 69.6Z" fill="#fff" stroke="#000000" stroke-width="3.2" stroke-linejoin="round"/><path d="M1663.5 54.7L1673.3 69.4L1653.7 69.4Z" fill="#fff" stroke="#000000" stroke-width="3.2" stroke-linejoin="round"/><path d="M1665.9 54.6L1675.7 69.3L1656.1 69.3Z" fill="#fff" stroke="#000000" stroke-width="3.2" stroke-linejoin="round"/><path d="M1668.3 54.5L1678.1 69.2L1658.5 69.2Z" fill="#fff" stroke="#000000" stroke-width="3.2" stroke-linejoin="round"/><path d="M1670.7 54.4L1680.5 69.1L1660.9 69.1Z" fill="#fff" stroke="#000000" stroke-width="3.2" stroke-linejoin="round"/><path d="M1673.0 54.3L1682.8 69.0L1663.2 69.0Z" fill="#fff" stroke="#000000" stroke-width="3.2" stroke-linejoin="round"/><path d="M1675.4 54.1L1685.2 68.8L1665.6 68.8Z" fill="#fff" stroke="#000000" stroke-width="3.2" stroke-linejoin="round"/><path d="M1677.8 54.0L1687.6 68.7L1668.0 68.7Z" fill="#fff" stroke="#000000" stroke-width="3.2" stroke-linejoin="round"/><path d="M1680.2 53.9L1690.0 68.6L1670.4 68.6Z" fill="#fff" stroke="#000000" stroke-width="3.2" stroke-linejoin="round"/>
<path d="M967.4 451.5L969.8 446.0L972.2 440.5L974.5 434.9L976.9 429.3L979.3 423.6L981.7 417.9L984.1 412.1L986.5 406.3L988.8 400.3L991.2 394.2L993.6 388.0L996.0 381.6L998.4 375.1L1000.8 368.3L1003.1 361.3L1005.5 354.1L1007.9 346.6L1010.3 338.7L1012.7 330.5L1015.1 321.9L1017.4 312.9L1019.8 303.5L1022.2 293.8L1024.6 284.0L1027.0 274.3L1029.4 265.0L1031.8 256.2L1034.1 248.2L1036.5 240.9L1038.9 234.3L1041.3 228.4L1043.7 223.0L1046.1 218.2L1048.4 213.7L1050.8 209.6L1053.2 205.9L1055.6 202.4L1058.0 199.1L1060.4 196.1L1062.7 193.2L1065.1 190.5L1067.5 188.0L1069.9 185.6L1072.3 183.3L1074.7 181.1L1077.0 179.0L1079.4 177.1L1081.8 175.2L1084.2 173.3L1086.6 171.6L1089.0 169.9L1091.4 168.3L1093.7 166.7L1096.1 165.2L1098.5 163.7L1100.9 162.3L1103.3 160.9L1105.7 159.6L1108.0 158.3L1110.4 157.0L1112.8 155.8L1115.2 154.6L1117.6 153.4L1120.0 152.3L1122.3 151.2L1124.7 150.1L1127.1 149.1L1129.5 148.0L1131.9 147.0L1134.3 146.1L1136.6 145.1L1139.0 144.2L1141.4 143.2L1143.8 142.3L1146.2 141.5L1148.6 140.6L1151.0 139.7L1153.3 138.9L1155.7 138.1L1158.1 137.3L1160.5 136.5L1162.9 135.7L1165.3 135.0L1167.6 134.2L1170.0 133.5L1172.4 132.7L1174.8 132.0L1177.2 131.3L1179.6 130.6L1181.9 130.0L1184.3 129.3L1186.7 128.6L1189.1 128.0L1191.5 127.4L1193.9 126.7L1196.2 126.1L1198.6 125.5L1201.0 124.9L1203.4 124.3L1205.8 123.7L1208.2 123.1L1210.6 122.6L1212.9 122.0L1215.3 121.4L1217.7 120.9L1220.1 120.3L1222.5 119.8L1224.9 119.3L1227.2 118.8L1229.6 118.2L1232.0 117.7L1234.4 117.2L1236.8 116.7L1239.2 116.2L1241.5 115.8L1243.9 115.3L1246.3 114.8L1248.7 114.3L1251.1 113.9L1253.5 113.4L1255.8 113.0L1258.2 112.5L1260.6 112.1L1263.0 111.6L1265.4 111.2L1267.8 110.8L1270.2 110.3L1272.5 109.9L1274.9 109.5L1277.3 109.1L1279.7 108.7L1282.1 108.3L1284.5 107.9L1286.8 107.5L1289.2 107.1L1291.6 106.7L1294.0 106.3L1296.4 105.9L1298.8 105.5L1301.1 105.2L1303.5 104.8L1305.9 104.4L1308.3 104.1L1310.7 103.7L1313.1 103.3L1315.4 103.0L1317.8 102.6L1320.2 102.3L1322.6 101.9L1325.0 101.6L1327.4 101.2L1329.8 100.9L1332.1 100.6L1334.5 100.2L1336.9 99.9L1339.3 99.6L1341.7 99.3L1344.1 98.9L1346.4 98.6L1348.8 98.3L1351.2 98.0L1353.6 97.7L1356.0 97.4L1358.4 97.1L1360.7 96.8L1363.1 96.5L1365.5 96.2L1367.9 95.9L1370.3 95.6L1372.7 95.3L1375.0 95.0L1377.4 94.7L1379.8 94.4L1382.2 94.1L1384.6 93.9L1387.0 93.6L1389.4 93.3L1391.7 93.0L1394.1 92.7L1396.5 92.5L1398.9 92.2L1401.3 91.9L1403.7 91.7L1406.0 91.4L1408.4 91.1L1410.8 90.9L1413.2 90.6L1415.6 90.4L1418.0 90.1L1420.3 89.9L1422.7 89.6L1425.1 89.4L1427.5 89.1L1429.9 88.9L1432.3 88.6L1434.6 88.4L1437.0 88.1L1439.4 87.9L1441.8 87.7L1444.2 87.4L1446.6 87.2L1449.0 87.0L1451.3 86.7L1453.7 86.5L1456.1 86.3L1458.5 86.0L1460.9 85.8L1463.3 85.6L1465.6 85.4L1468.0 85.1L1470.4 84.9L1472.8 84.7L1475.2 84.5L1477.6 84.3L1479.9 84.0L1482.3 83.8L1484.7 83.6L1487.1 83.4L1489.5 83.2L1491.9 83.0L1494.2 82.8L1496.6 82.6L1499.0 82.4L1501.4 82.2L1503.8 82.0L1506.2 81.8L1508.6 81.6L1510.9 81.4L1513.3 81.2L1515.7 81.0L1518.1 80.8L1520.5 80.6L1522.9 80.4L1525.2 80.2L1527.6 80.0L1530.0 79.8L1532.4 79.6L1534.8 79.4L1537.2 79.2L1539.5 79.0L1541.9 78.9L1544.3 78.7L1546.7 78.5L1549.1 78.3L1551.5 78.1L1553.8 77.9L1556.2 77.8L1558.6 77.6L1561.0 77.4L1563.4 77.2L1565.8 77.0L1568.2 76.9L1570.5 76.7L1572.9 76.5L1575.3 76.4L1577.7 76.2L1580.1 76.0L1582.5 75.8L1584.8 75.7L1587.2 75.5L1589.6 75.3L1592.0 75.2L1594.4 75.0L1596.8 74.8L1599.1 74.7L1601.5 74.5L1603.9 74.4L1606.3 74.2L1608.7 74.0L1611.1 73.9L1613.4 73.7L1615.8 73.6L1618.2 73.4L1620.6 73.2L1623.0 73.1L1625.4 72.9L1627.8 72.8L1630.1 72.6L1632.5 72.5L1634.9 72.3L1637.3 72.2L1639.7 72.0L1642.1 71.9L1644.4 71.7L1646.8 71.6L1649.2 71.4L1651.6 71.3L1654.0 71.1L1656.4 71.0L1658.7 70.8L1661.1 70.7L1663.5 70.5L1665.9 70.4L1668.3 70.3L1670.7 70.1L1673.0 70.0L1675.4 69.8L1677.8 69.7L1680.2 69.5" fill="none" stroke="#A52A2A" stroke-width="2.5" stroke-linejoin="round" clip-path="url(#cb)"/><path d="M967.4 441.3L977.6 456.6L957.2 456.6Z" fill="#A52A2A" stroke="#fff" stroke-width="0.6"/><path d="M972.2 430.3L982.4 445.6L962.0 445.6Z" fill="#A52A2A" stroke="#fff" stroke-width="0.6"/><path d="M976.9 419.1L987.1 434.4L966.7 434.4Z" fill="#A52A2A" stroke="#fff" stroke-width="0.6"/><path d="M981.7 407.7L991.9 423.0L971.5 423.0Z" fill="#A52A2A" stroke="#fff" stroke-width="0.6"/><path d="M986.5 396.1L996.7 411.4L976.3 411.4Z" fill="#A52A2A" stroke="#fff" stroke-width="0.6"/><path d="M991.2 384.0L1001.4 399.3L981.0 399.3Z" fill="#A52A2A" stroke="#fff" stroke-width="0.6"/><path d="M996.0 371.4L1006.2 386.7L985.8 386.7Z" fill="#A52A2A" stroke="#fff" stroke-width="0.6"/><path d="M1000.8 358.1L1011.0 373.4L990.6 373.4Z" fill="#A52A2A" stroke="#fff" stroke-width="0.6"/><path d="M1005.5 343.9L1015.7 359.2L995.3 359.2Z" fill="#A52A2A" stroke="#fff" stroke-width="0.6"/><path d="M1010.3 328.5L1020.5 343.8L1000.1 343.8Z" fill="#A52A2A" stroke="#fff" stroke-width="0.6"/><path d="M1015.1 311.7L1025.3 327.0L1004.9 327.0Z" fill="#A52A2A" stroke="#fff" stroke-width="0.6"/><path d="M1019.8 293.3L1030.0 308.6L1009.6 308.6Z" fill="#A52A2A" stroke="#fff" stroke-width="0.6"/><path d="M1024.6 273.8L1034.8 289.1L1014.4 289.1Z" fill="#A52A2A" stroke="#fff" stroke-width="0.6"/><path d="M1029.4 254.8L1039.6 270.1L1019.2 270.1Z" fill="#A52A2A" stroke="#fff" stroke-width="0.6"/><path d="M1034.1 238.0L1044.3 253.3L1023.9 253.3Z" fill="#A52A2A" stroke="#fff" stroke-width="0.6"/><path d="M1038.9 224.1L1049.1 239.4L1028.7 239.4Z" fill="#A52A2A" stroke="#fff" stroke-width="0.6"/><path d="M1043.7 212.8L1053.9 228.1L1033.5 228.1Z" fill="#A52A2A" stroke="#fff" stroke-width="0.6"/><path d="M1048.4 203.5L1058.6 218.8L1038.2 218.8Z" fill="#A52A2A" stroke="#fff" stroke-width="0.6"/><path d="M1053.2 195.7L1063.4 211.0L1043.0 211.0Z" fill="#A52A2A" stroke="#fff" stroke-width="0.6"/><path d="M1058.0 188.9L1068.2 204.2L1047.8 204.2Z" fill="#A52A2A" stroke="#fff" stroke-width="0.6"/><path d="M1062.7 183.0L1072.9 198.3L1052.5 198.3Z" fill="#A52A2A" stroke="#fff" stroke-width="0.6"/><path d="M1067.5 177.8L1077.7 193.1L1057.3 193.1Z" fill="#A52A2A" stroke="#fff" stroke-width="0.6"/><path d="M1072.3 173.1L1082.5 188.4L1062.1 188.4Z" fill="#A52A2A" stroke="#fff" stroke-width="0.6"/><path d="M1077.0 168.8L1087.2 184.1L1066.8 184.1Z" fill="#A52A2A" stroke="#fff" stroke-width="0.6"/><path d="M1081.8 165.0L1092.0 180.3L1071.6 180.3Z" fill="#A52A2A" stroke="#fff" stroke-width="0.6"/><path d="M1086.6 161.4L1096.8 176.7L1076.4 176.7Z" fill="#A52A2A" stroke="#fff" stroke-width="0.6"/><path d="M1091.4 158.1L1101.6 173.4L1081.2 173.4Z" fill="#A52A2A" stroke="#fff" stroke-width="0.6"/><path d="M1096.1 155.0L1106.3 170.3L1085.9 170.3Z" fill="#A52A2A" stroke="#fff" stroke-width="0.6"/><path d="M1100.9 152.1L1111.1 167.4L1090.7 167.4Z" fill="#A52A2A" stroke="#fff" stroke-width="0.6"/><path d="M1105.7 149.4L1115.9 164.7L1095.5 164.7Z" fill="#A52A2A" stroke="#fff" stroke-width="0.6"/><path d="M1110.4 146.8L1120.6 162.1L1100.2 162.1Z" fill="#A52A2A" stroke="#fff" stroke-width="0.6"/><path d="M1115.2 144.4L1125.4 159.7L1105.0 159.7Z" fill="#A52A2A" stroke="#fff" stroke-width="0.6"/><path d="M1120.0 142.1L1130.2 157.4L1109.8 157.4Z" fill="#A52A2A" stroke="#fff" stroke-width="0.6"/><path d="M1124.7 139.9L1134.9 155.2L1114.5 155.2Z" fill="#A52A2A" stroke="#fff" stroke-width="0.6"/><path d="M1129.5 137.8L1139.7 153.1L1119.3 153.1Z" fill="#A52A2A" stroke="#fff" stroke-width="0.6"/><path d="M1134.3 135.9L1144.5 151.2L1124.1 151.2Z" fill="#A52A2A" stroke="#fff" stroke-width="0.6"/><path d="M1139.0 134.0L1149.2 149.3L1128.8 149.3Z" fill="#A52A2A" stroke="#fff" stroke-width="0.6"/><path d="M1143.8 132.1L1154.0 147.4L1133.6 147.4Z" fill="#A52A2A" stroke="#fff" stroke-width="0.6"/><path d="M1148.6 130.4L1158.8 145.7L1138.4 145.7Z" fill="#A52A2A" stroke="#fff" stroke-width="0.6"/><path d="M1153.3 128.7L1163.5 144.0L1143.1 144.0Z" fill="#A52A2A" stroke="#fff" stroke-width="0.6"/><path d="M1158.1 127.1L1168.3 142.4L1147.9 142.4Z" fill="#A52A2A" stroke="#fff" stroke-width="0.6"/><path d="M1162.9 125.5L1173.1 140.8L1152.7 140.8Z" fill="#A52A2A" stroke="#fff" stroke-width="0.6"/><path d="M1167.6 124.0L1177.8 139.3L1157.4 139.3Z" fill="#A52A2A" stroke="#fff" stroke-width="0.6"/><path d="M1172.4 122.5L1182.6 137.8L1162.2 137.8Z" fill="#A52A2A" stroke="#fff" stroke-width="0.6"/><path d="M1177.2 121.1L1187.4 136.4L1167.0 136.4Z" fill="#A52A2A" stroke="#fff" stroke-width="0.6"/><path d="M1181.9 119.8L1192.1 135.1L1171.7 135.1Z" fill="#A52A2A" stroke="#fff" stroke-width="0.6"/><path d="M1186.7 118.4L1196.9 133.7L1176.5 133.7Z" fill="#A52A2A" stroke="#fff" stroke-width="0.6"/><path d="M1191.5 117.2L1201.7 132.5L1181.3 132.5Z" fill="#A52A2A" stroke="#fff" stroke-width="0.6"/><path d="M1196.2 115.9L1206.4 131.2L1186.0 131.2Z" fill="#A52A2A" stroke="#fff" stroke-width="0.6"/><path d="M1201.0 114.7L1211.2 130.0L1190.8 130.0Z" fill="#A52A2A" stroke="#fff" stroke-width="0.6"/><path d="M1205.8 113.5L1216.0 128.8L1195.6 128.8Z" fill="#A52A2A" stroke="#fff" stroke-width="0.6"/><path d="M1210.6 112.4L1220.8 127.7L1200.4 127.7Z" fill="#A52A2A" stroke="#fff" stroke-width="0.6"/><path d="M1215.3 111.2L1225.5 126.5L1205.1 126.5Z" fill="#A52A2A" stroke="#fff" stroke-width="0.6"/><path d="M1220.1 110.1L1230.3 125.4L1209.9 125.4Z" fill="#A52A2A" stroke="#fff" stroke-width="0.6"/><path d="M1224.9 109.1L1235.1 124.4L1214.7 124.4Z" fill="#A52A2A" stroke="#fff" stroke-width="0.6"/><path d="M1229.6 108.0L1239.8 123.3L1219.4 123.3Z" fill="#A52A2A" stroke="#fff" stroke-width="0.6"/><path d="M1234.4 107.0L1244.6 122.3L1224.2 122.3Z" fill="#A52A2A" stroke="#fff" stroke-width="0.6"/><path d="M1239.2 106.0L1249.4 121.3L1229.0 121.3Z" fill="#A52A2A" stroke="#fff" stroke-width="0.6"/><path d="M1243.9 105.1L1254.1 120.4L1233.7 120.4Z" fill="#A52A2A" stroke="#fff" stroke-width="0.6"/><path d="M1248.7 104.1L1258.9 119.4L1238.5 119.4Z" fill="#A52A2A" stroke="#fff" stroke-width="0.6"/><path d="M1253.5 103.2L1263.7 118.5L1243.3 118.5Z" fill="#A52A2A" stroke="#fff" stroke-width="0.6"/><path d="M1258.2 102.3L1268.4 117.6L1248.0 117.6Z" fill="#A52A2A" stroke="#fff" stroke-width="0.6"/><path d="M1263.0 101.4L1273.2 116.7L1252.8 116.7Z" fill="#A52A2A" stroke="#fff" stroke-width="0.6"/><path d="M1267.8 100.6L1278.0 115.9L1257.6 115.9Z" fill="#A52A2A" stroke="#fff" stroke-width="0.6"/><path d="M1272.5 99.7L1282.7 115.0L1262.3 115.0Z" fill="#A52A2A" stroke="#fff" stroke-width="0.6"/><path d="M1277.3 98.9L1287.5 114.2L1267.1 114.2Z" fill="#A52A2A" stroke="#fff" stroke-width="0.6"/><path d="M1282.1 98.1L1292.3 113.4L1271.9 113.4Z" fill="#A52A2A" stroke="#fff" stroke-width="0.6"/><path d="M1286.8 97.3L1297.0 112.6L1276.6 112.6Z" fill="#A52A2A" stroke="#fff" stroke-width="0.6"/><path d="M1291.6 96.5L1301.8 111.8L1281.4 111.8Z" fill="#A52A2A" stroke="#fff" stroke-width="0.6"/><path d="M1296.4 95.7L1306.6 111.0L1286.2 111.0Z" fill="#A52A2A" stroke="#fff" stroke-width="0.6"/><path d="M1301.1 95.0L1311.3 110.3L1290.9 110.3Z" fill="#A52A2A" stroke="#fff" stroke-width="0.6"/><path d="M1305.9 94.2L1316.1 109.5L1295.7 109.5Z" fill="#A52A2A" stroke="#fff" stroke-width="0.6"/><path d="M1310.7 93.5L1320.9 108.8L1300.5 108.8Z" fill="#A52A2A" stroke="#fff" stroke-width="0.6"/><path d="M1315.4 92.8L1325.6 108.1L1305.2 108.1Z" fill="#A52A2A" stroke="#fff" stroke-width="0.6"/><path d="M1320.2 92.1L1330.4 107.4L1310.0 107.4Z" fill="#A52A2A" stroke="#fff" stroke-width="0.6"/><path d="M1325.0 91.4L1335.2 106.7L1314.8 106.7Z" fill="#A52A2A" stroke="#fff" stroke-width="0.6"/><path d="M1329.8 90.7L1340.0 106.0L1319.6 106.0Z" fill="#A52A2A" stroke="#fff" stroke-width="0.6"/><path d="M1334.5 90.0L1344.7 105.3L1324.3 105.3Z" fill="#A52A2A" stroke="#fff" stroke-width="0.6"/><path d="M1339.3 89.4L1349.5 104.7L1329.1 104.7Z" fill="#A52A2A" stroke="#fff" stroke-width="0.6"/><path d="M1344.1 88.7L1354.3 104.0L1333.9 104.0Z" fill="#A52A2A" stroke="#fff" stroke-width="0.6"/><path d="M1348.8 88.1L1359.0 103.4L1338.6 103.4Z" fill="#A52A2A" stroke="#fff" stroke-width="0.6"/><path d="M1353.6 87.5L1363.8 102.8L1343.4 102.8Z" fill="#A52A2A" stroke="#fff" stroke-width="0.6"/><path d="M1358.4 86.9L1368.6 102.2L1348.2 102.2Z" fill="#A52A2A" stroke="#fff" stroke-width="0.6"/><path d="M1363.1 86.3L1373.3 101.6L1352.9 101.6Z" fill="#A52A2A" stroke="#fff" stroke-width="0.6"/><path d="M1367.9 85.7L1378.1 101.0L1357.7 101.0Z" fill="#A52A2A" stroke="#fff" stroke-width="0.6"/><path d="M1372.7 85.1L1382.9 100.4L1362.5 100.4Z" fill="#A52A2A" stroke="#fff" stroke-width="0.6"/><path d="M1377.4 84.5L1387.6 99.8L1367.2 99.8Z" fill="#A52A2A" stroke="#fff" stroke-width="0.6"/><path d="M1382.2 83.9L1392.4 99.2L1372.0 99.2Z" fill="#A52A2A" stroke="#fff" stroke-width="0.6"/><path d="M1387.0 83.4L1397.2 98.7L1376.8 98.7Z" fill="#A52A2A" stroke="#fff" stroke-width="0.6"/><path d="M1391.7 82.8L1401.9 98.1L1381.5 98.1Z" fill="#A52A2A" stroke="#fff" stroke-width="0.6"/><path d="M1396.5 82.3L1406.7 97.6L1386.3 97.6Z" fill="#A52A2A" stroke="#fff" stroke-width="0.6"/><path d="M1401.3 81.7L1411.5 97.0L1391.1 97.0Z" fill="#A52A2A" stroke="#fff" stroke-width="0.6"/><path d="M1406.0 81.2L1416.2 96.5L1395.8 96.5Z" fill="#A52A2A" stroke="#fff" stroke-width="0.6"/><path d="M1410.8 80.7L1421.0 96.0L1400.6 96.0Z" fill="#A52A2A" stroke="#fff" stroke-width="0.6"/><path d="M1415.6 80.2L1425.8 95.5L1405.4 95.5Z" fill="#A52A2A" stroke="#fff" stroke-width="0.6"/><path d="M1420.3 79.7L1430.5 95.0L1410.1 95.0Z" fill="#A52A2A" stroke="#fff" stroke-width="0.6"/><path d="M1425.1 79.2L1435.3 94.5L1414.9 94.5Z" fill="#A52A2A" stroke="#fff" stroke-width="0.6"/><path d="M1429.9 78.7L1440.1 94.0L1419.7 94.0Z" fill="#A52A2A" stroke="#fff" stroke-width="0.6"/><path d="M1434.6 78.2L1444.8 93.5L1424.4 93.5Z" fill="#A52A2A" stroke="#fff" stroke-width="0.6"/><path d="M1439.4 77.7L1449.6 93.0L1429.2 93.0Z" fill="#A52A2A" stroke="#fff" stroke-width="0.6"/><path d="M1444.2 77.2L1454.4 92.5L1434.0 92.5Z" fill="#A52A2A" stroke="#fff" stroke-width="0.6"/><path d="M1449.0 76.8L1459.2 92.1L1438.8 92.1Z" fill="#A52A2A" stroke="#fff" stroke-width="0.6"/><path d="M1453.7 76.3L1463.9 91.6L1443.5 91.6Z" fill="#A52A2A" stroke="#fff" stroke-width="0.6"/><path d="M1458.5 75.8L1468.7 91.1L1448.3 91.1Z" fill="#A52A2A" stroke="#fff" stroke-width="0.6"/><path d="M1463.3 75.4L1473.5 90.7L1453.1 90.7Z" fill="#A52A2A" stroke="#fff" stroke-width="0.6"/><path d="M1468.0 74.9L1478.2 90.2L1457.8 90.2Z" fill="#A52A2A" stroke="#fff" stroke-width="0.6"/><path d="M1472.8 74.5L1483.0 89.8L1462.6 89.8Z" fill="#A52A2A" stroke="#fff" stroke-width="0.6"/><path d="M1477.6 74.1L1487.8 89.4L1467.4 89.4Z" fill="#A52A2A" stroke="#fff" stroke-width="0.6"/><path d="M1482.3 73.6L1492.5 88.9L1472.1 88.9Z" fill="#A52A2A" stroke="#fff" stroke-width="0.6"/><path d="M1487.1 73.2L1497.3 88.5L1476.9 88.5Z" fill="#A52A2A" stroke="#fff" stroke-width="0.6"/><path d="M1491.9 72.8L1502.1 88.1L1481.7 88.1Z" fill="#A52A2A" stroke="#fff" stroke-width="0.6"/><path d="M1496.6 72.4L1506.8 87.7L1486.4 87.7Z" fill="#A52A2A" stroke="#fff" stroke-width="0.6"/><path d="M1501.4 72.0L1511.6 87.3L1491.2 87.3Z" fill="#A52A2A" stroke="#fff" stroke-width="0.6"/><path d="M1506.2 71.6L1516.4 86.9L1496.0 86.9Z" fill="#A52A2A" stroke="#fff" stroke-width="0.6"/><path d="M1510.9 71.2L1521.1 86.5L1500.7 86.5Z" fill="#A52A2A" stroke="#fff" stroke-width="0.6"/><path d="M1515.7 70.8L1525.9 86.1L1505.5 86.1Z" fill="#A52A2A" stroke="#fff" stroke-width="0.6"/><path d="M1520.5 70.4L1530.7 85.7L1510.3 85.7Z" fill="#A52A2A" stroke="#fff" stroke-width="0.6"/><path d="M1525.2 70.0L1535.4 85.3L1515.0 85.3Z" fill="#A52A2A" stroke="#fff" stroke-width="0.6"/><path d="M1530.0 69.6L1540.2 84.9L1519.8 84.9Z" fill="#A52A2A" stroke="#fff" stroke-width="0.6"/><path d="M1534.8 69.2L1545.0 84.5L1524.6 84.5Z" fill="#A52A2A" stroke="#fff" stroke-width="0.6"/><path d="M1539.5 68.8L1549.7 84.1L1529.3 84.1Z" fill="#A52A2A" stroke="#fff" stroke-width="0.6"/><path d="M1544.3 68.5L1554.5 83.8L1534.1 83.8Z" fill="#A52A2A" stroke="#fff" stroke-width="0.6"/><path d="M1549.1 68.1L1559.3 83.4L1538.9 83.4Z" fill="#A52A2A" stroke="#fff" stroke-width="0.6"/><path d="M1553.8 67.7L1564.0 83.0L1543.6 83.0Z" fill="#A52A2A" stroke="#fff" stroke-width="0.6"/><path d="M1558.6 67.4L1568.8 82.7L1548.4 82.7Z" fill="#A52A2A" stroke="#fff" stroke-width="0.6"/><path d="M1563.4 67.0L1573.6 82.3L1553.2 82.3Z" fill="#A52A2A" stroke="#fff" stroke-width="0.6"/><path d="M1568.2 66.7L1578.4 82.0L1558.0 82.0Z" fill="#A52A2A" stroke="#fff" stroke-width="0.6"/><path d="M1572.9 66.3L1583.1 81.6L1562.7 81.6Z" fill="#A52A2A" stroke="#fff" stroke-width="0.6"/><path d="M1577.7 66.0L1587.9 81.3L1567.5 81.3Z" fill="#A52A2A" stroke="#fff" stroke-width="0.6"/><path d="M1582.5 65.6L1592.7 80.9L1572.3 80.9Z" fill="#A52A2A" stroke="#fff" stroke-width="0.6"/><path d="M1587.2 65.3L1597.4 80.6L1577.0 80.6Z" fill="#A52A2A" stroke="#fff" stroke-width="0.6"/><path d="M1592.0 65.0L1602.2 80.3L1581.8 80.3Z" fill="#A52A2A" stroke="#fff" stroke-width="0.6"/><path d="M1596.8 64.6L1607.0 79.9L1586.6 79.9Z" fill="#A52A2A" stroke="#fff" stroke-width="0.6"/><path d="M1601.5 64.3L1611.7 79.6L1591.3 79.6Z" fill="#A52A2A" stroke="#fff" stroke-width="0.6"/><path d="M1606.3 64.0L1616.5 79.3L1596.1 79.3Z" fill="#A52A2A" stroke="#fff" stroke-width="0.6"/><path d="M1611.1 63.7L1621.3 79.0L1600.9 79.0Z" fill="#A52A2A" stroke="#fff" stroke-width="0.6"/><path d="M1615.8 63.4L1626.0 78.7L1605.6 78.7Z" fill="#A52A2A" stroke="#fff" stroke-width="0.6"/><path d="M1620.6 63.0L1630.8 78.3L1610.4 78.3Z" fill="#A52A2A" stroke="#fff" stroke-width="0.6"/><path d="M1625.4 62.7L1635.6 78.0L1615.2 78.0Z" fill="#A52A2A" stroke="#fff" stroke-width="0.6"/><path d="M1630.1 62.4L1640.3 77.7L1619.9 77.7Z" fill="#A52A2A" stroke="#fff" stroke-width="0.6"/><path d="M1634.9 62.1L1645.1 77.4L1624.7 77.4Z" fill="#A52A2A" stroke="#fff" stroke-width="0.6"/><path d="M1639.7 61.8L1649.9 77.1L1629.5 77.1Z" fill="#A52A2A" stroke="#fff" stroke-width="0.6"/><path d="M1644.4 61.5L1654.6 76.8L1634.2 76.8Z" fill="#A52A2A" stroke="#fff" stroke-width="0.6"/><path d="M1649.2 61.2L1659.4 76.5L1639.0 76.5Z" fill="#A52A2A" stroke="#fff" stroke-width="0.6"/><path d="M1654.0 60.9L1664.2 76.2L1643.8 76.2Z" fill="#A52A2A" stroke="#fff" stroke-width="0.6"/><path d="M1658.7 60.6L1668.9 75.9L1648.5 75.9Z" fill="#A52A2A" stroke="#fff" stroke-width="0.6"/><path d="M1663.5 60.3L1673.7 75.6L1653.3 75.6Z" fill="#A52A2A" stroke="#fff" stroke-width="0.6"/><path d="M1668.3 60.1L1678.5 75.4L1658.1 75.4Z" fill="#A52A2A" stroke="#fff" stroke-width="0.6"/><path d="M1673.0 59.8L1683.2 75.1L1662.8 75.1Z" fill="#A52A2A" stroke="#fff" stroke-width="0.6"/><path d="M1677.8 59.5L1688.0 74.8L1667.6 74.8Z" fill="#A52A2A" stroke="#fff" stroke-width="0.6"/>
<path d="M967.4 453.7L969.8 450.3L972.2 447.0L974.5 443.7L976.9 440.3L979.3 437.0L981.7 433.6L984.1 430.2L986.5 426.9L988.8 423.5L991.2 420.1L993.6 416.7L996.0 413.3L998.4 409.8L1000.8 406.4L1003.1 402.9L1005.5 399.4L1007.9 395.9L1010.3 392.4L1012.7 388.8L1015.1 385.3L1017.4 381.7L1019.8 378.0L1022.2 374.4L1024.6 370.7L1027.0 367.0L1029.4 363.3L1031.8 359.5L1034.1 355.7L1036.5 351.9L1038.9 348.0L1041.3 344.1L1043.7 340.2L1046.1 336.2L1048.4 332.2L1050.8 328.2L1053.2 324.1L1055.6 320.0L1058.0 315.9L1060.4 311.8L1062.7 307.6L1065.1 303.5L1067.5 299.3L1069.9 295.1L1072.3 291.0L1074.7 286.8L1077.0 282.7L1079.4 278.6L1081.8 274.6L1084.2 270.6L1086.6 266.6L1089.0 262.7L1091.4 258.9L1093.7 255.2L1096.1 251.6L1098.5 248.0L1100.9 244.5L1103.3 241.2L1105.7 237.9L1108.0 234.7L1110.4 231.6L1112.8 228.6L1115.2 225.8L1117.6 223.0L1120.0 220.2L1122.3 217.6L1124.7 215.1L1127.1 212.6L1129.5 210.2L1131.9 207.9L1134.3 205.7L1136.6 203.5L1139.0 201.4L1141.4 199.4L1143.8 197.4L1146.2 195.5L1148.6 193.7L1151.0 191.8L1153.3 190.1L1155.7 188.4L1158.1 186.7L1160.5 185.1L1162.9 183.5L1165.3 182.0L1167.6 180.5L1170.0 179.0L1172.4 177.6L1174.8 176.2L1177.2 174.9L1179.6 173.5L1181.9 172.2L1184.3 171.0L1186.7 169.7L1189.1 168.5L1191.5 167.3L1193.9 166.2L1196.2 165.0L1198.6 163.9L1201.0 162.8L1203.4 161.8L1205.8 160.7L1208.2 159.7L1210.6 158.7L1212.9 157.7L1215.3 156.7L1217.7 155.8L1220.1 154.8L1222.5 153.9L1224.9 153.0L1227.2 152.1L1229.6 151.2L1232.0 150.4L1234.4 149.5L1236.8 148.7L1239.2 147.9L1241.5 147.1L1243.9 146.3L1246.3 145.5L1248.7 144.7L1251.1 143.9L1253.5 143.2L1255.8 142.5L1258.2 141.7L1260.6 141.0L1263.0 140.3L1265.4 139.6L1267.8 138.9L1270.2 138.2L1272.5 137.6L1274.9 136.9L1277.3 136.3L1279.7 135.6L1282.1 135.0L1284.5 134.4L1286.8 133.7L1289.2 133.1L1291.6 132.5L1294.0 131.9L1296.4 131.4L1298.8 130.8L1301.1 130.2L1303.5 129.6L1305.9 129.1L1308.3 128.5L1310.7 128.0L1313.1 127.4L1315.4 126.9L1317.8 126.4L1320.2 125.8L1322.6 125.3L1325.0 124.8L1327.4 124.3L1329.8 123.8L1332.1 123.3L1334.5 122.8L1336.9 122.3L1339.3 121.8L1341.7 121.4L1344.1 120.9L1346.4 120.4L1348.8 120.0L1351.2 119.5L1353.6 119.0L1356.0 118.6L1358.4 118.1L1360.7 117.7L1363.1 117.3L1365.5 116.8L1367.9 116.4L1370.3 116.0L1372.7 115.6L1375.0 115.2L1377.4 114.7L1379.8 114.3L1382.2 113.9L1384.6 113.5L1387.0 113.1L1389.4 112.7L1391.7 112.3L1394.1 112.0L1396.5 111.6L1398.9 111.2L1401.3 110.8L1403.7 110.4L1406.0 110.1L1408.4 109.7L1410.8 109.3L1413.2 109.0L1415.6 108.6L1418.0 108.2L1420.3 107.9L1422.7 107.5L1425.1 107.2L1427.5 106.8L1429.9 106.5L1432.3 106.2L1434.6 105.8L1437.0 105.5L1439.4 105.2L1441.8 104.8L1444.2 104.5L1446.6 104.2L1449.0 103.9L1451.3 103.5L1453.7 103.2L1456.1 102.9L1458.5 102.6L1460.9 102.3L1463.3 102.0L1465.6 101.7L1468.0 101.4L1470.4 101.1L1472.8 100.8L1475.2 100.5L1477.6 100.2L1479.9 99.9L1482.3 99.6L1484.7 99.3L1487.1 99.0L1489.5 98.7L1491.9 98.4L1494.2 98.2L1496.6 97.9L1499.0 97.6L1501.4 97.3L1503.8 97.1L1506.2 96.8L1508.6 96.5L1510.9 96.2L1513.3 96.0L1515.7 95.7L1518.1 95.4L1520.5 95.2L1522.9 94.9L1525.2 94.7L1527.6 94.4L1530.0 94.2L1532.4 93.9L1534.8 93.6L1537.2 93.4L1539.5 93.1L1541.9 92.9L1544.3 92.7L1546.7 92.4L1549.1 92.2L1551.5 91.9L1553.8 91.7L1556.2 91.4L1558.6 91.2L1561.0 91.0L1563.4 90.7L1565.8 90.5L1568.2 90.3L1570.5 90.0L1572.9 89.8L1575.3 89.6L1577.7 89.4L1580.1 89.1L1582.5 88.9L1584.8 88.7L1587.2 88.5L1589.6 88.3L1592.0 88.0L1594.4 87.8L1596.8 87.6L1599.1 87.4L1601.5 87.2L1603.9 87.0L1606.3 86.8L1608.7 86.5L1611.1 86.3L1613.4 86.1L1615.8 85.9L1618.2 85.7L1620.6 85.5L1623.0 85.3L1625.4 85.1L1627.8 84.9L1630.1 84.7L1632.5 84.5L1634.9 84.3L1637.3 84.1L1639.7 83.9L1642.1 83.7L1644.4 83.5L1646.8 83.3L1649.2 83.1L1651.6 82.9L1654.0 82.8L1656.4 82.6L1658.7 82.4L1661.1 82.2L1663.5 82.0L1665.9 81.8L1668.3 81.6L1670.7 81.5L1673.0 81.3L1675.4 81.1L1677.8 80.9L1680.2 80.7" fill="none" stroke="#009E73" stroke-width="2.5" stroke-linejoin="round" clip-path="url(#cb)"/><circle cx="967.4" cy="453.7" r="8.5" fill="#009E73" stroke="#fff" stroke-width="0.35"/><circle cx="976.9" cy="440.3" r="8.5" fill="#009E73" stroke="#fff" stroke-width="0.35"/><circle cx="986.5" cy="426.9" r="8.5" fill="#009E73" stroke="#fff" stroke-width="0.35"/><circle cx="996.0" cy="413.3" r="8.5" fill="#009E73" stroke="#fff" stroke-width="0.35"/><circle cx="1005.5" cy="399.4" r="8.5" fill="#009E73" stroke="#fff" stroke-width="0.35"/><circle cx="1015.1" cy="385.3" r="8.5" fill="#009E73" stroke="#fff" stroke-width="0.35"/><circle cx="1024.6" cy="370.7" r="8.5" fill="#009E73" stroke="#fff" stroke-width="0.35"/><circle cx="1034.1" cy="355.7" r="8.5" fill="#009E73" stroke="#fff" stroke-width="0.35"/><circle cx="1043.7" cy="340.2" r="8.5" fill="#009E73" stroke="#fff" stroke-width="0.35"/><circle cx="1053.2" cy="324.1" r="8.5" fill="#009E73" stroke="#fff" stroke-width="0.35"/><circle cx="1062.7" cy="307.6" r="8.5" fill="#009E73" stroke="#fff" stroke-width="0.35"/><circle cx="1072.3" cy="291.0" r="8.5" fill="#009E73" stroke="#fff" stroke-width="0.35"/><circle cx="1081.8" cy="274.6" r="8.5" fill="#009E73" stroke="#fff" stroke-width="0.35"/><circle cx="1091.4" cy="258.9" r="8.5" fill="#009E73" stroke="#fff" stroke-width="0.35"/><circle cx="1100.9" cy="244.5" r="8.5" fill="#009E73" stroke="#fff" stroke-width="0.35"/><circle cx="1110.4" cy="231.6" r="8.5" fill="#009E73" stroke="#fff" stroke-width="0.35"/><circle cx="1120.0" cy="220.2" r="8.5" fill="#009E73" stroke="#fff" stroke-width="0.35"/><circle cx="1129.5" cy="210.2" r="8.5" fill="#009E73" stroke="#fff" stroke-width="0.35"/><circle cx="1139.0" cy="201.4" r="8.5" fill="#009E73" stroke="#fff" stroke-width="0.35"/><circle cx="1148.6" cy="193.7" r="8.5" fill="#009E73" stroke="#fff" stroke-width="0.35"/><circle cx="1158.1" cy="186.7" r="8.5" fill="#009E73" stroke="#fff" stroke-width="0.35"/><circle cx="1167.6" cy="180.5" r="8.5" fill="#009E73" stroke="#fff" stroke-width="0.35"/><circle cx="1177.2" cy="174.9" r="8.5" fill="#009E73" stroke="#fff" stroke-width="0.35"/><circle cx="1186.7" cy="169.7" r="8.5" fill="#009E73" stroke="#fff" stroke-width="0.35"/><circle cx="1196.2" cy="165.0" r="8.5" fill="#009E73" stroke="#fff" stroke-width="0.35"/><circle cx="1205.8" cy="160.7" r="8.5" fill="#009E73" stroke="#fff" stroke-width="0.35"/><circle cx="1215.3" cy="156.7" r="8.5" fill="#009E73" stroke="#fff" stroke-width="0.35"/><circle cx="1224.9" cy="153.0" r="8.5" fill="#009E73" stroke="#fff" stroke-width="0.35"/><circle cx="1234.4" cy="149.5" r="8.5" fill="#009E73" stroke="#fff" stroke-width="0.35"/><circle cx="1243.9" cy="146.3" r="8.5" fill="#009E73" stroke="#fff" stroke-width="0.35"/><circle cx="1253.5" cy="143.2" r="8.5" fill="#009E73" stroke="#fff" stroke-width="0.35"/><circle cx="1263.0" cy="140.3" r="8.5" fill="#009E73" stroke="#fff" stroke-width="0.35"/><circle cx="1272.5" cy="137.6" r="8.5" fill="#009E73" stroke="#fff" stroke-width="0.35"/><circle cx="1282.1" cy="135.0" r="8.5" fill="#009E73" stroke="#fff" stroke-width="0.35"/><circle cx="1291.6" cy="132.5" r="8.5" fill="#009E73" stroke="#fff" stroke-width="0.35"/><circle cx="1301.1" cy="130.2" r="8.5" fill="#009E73" stroke="#fff" stroke-width="0.35"/><circle cx="1310.7" cy="128.0" r="8.5" fill="#009E73" stroke="#fff" stroke-width="0.35"/><circle cx="1320.2" cy="125.8" r="8.5" fill="#009E73" stroke="#fff" stroke-width="0.35"/><circle cx="1329.8" cy="123.8" r="8.5" fill="#009E73" stroke="#fff" stroke-width="0.35"/><circle cx="1339.3" cy="121.8" r="8.5" fill="#009E73" stroke="#fff" stroke-width="0.35"/><circle cx="1348.8" cy="120.0" r="8.5" fill="#009E73" stroke="#fff" stroke-width="0.35"/><circle cx="1358.4" cy="118.1" r="8.5" fill="#009E73" stroke="#fff" stroke-width="0.35"/><circle cx="1367.9" cy="116.4" r="8.5" fill="#009E73" stroke="#fff" stroke-width="0.35"/><circle cx="1377.4" cy="114.7" r="8.5" fill="#009E73" stroke="#fff" stroke-width="0.35"/><circle cx="1387.0" cy="113.1" r="8.5" fill="#009E73" stroke="#fff" stroke-width="0.35"/><circle cx="1396.5" cy="111.6" r="8.5" fill="#009E73" stroke="#fff" stroke-width="0.35"/><circle cx="1406.0" cy="110.1" r="8.5" fill="#009E73" stroke="#fff" stroke-width="0.35"/><circle cx="1415.6" cy="108.6" r="8.5" fill="#009E73" stroke="#fff" stroke-width="0.35"/><circle cx="1425.1" cy="107.2" r="8.5" fill="#009E73" stroke="#fff" stroke-width="0.35"/><circle cx="1434.6" cy="105.8" r="8.5" fill="#009E73" stroke="#fff" stroke-width="0.35"/><circle cx="1444.2" cy="104.5" r="8.5" fill="#009E73" stroke="#fff" stroke-width="0.35"/><circle cx="1453.7" cy="103.2" r="8.5" fill="#009E73" stroke="#fff" stroke-width="0.35"/><circle cx="1463.3" cy="102.0" r="8.5" fill="#009E73" stroke="#fff" stroke-width="0.35"/><circle cx="1472.8" cy="100.8" r="8.5" fill="#009E73" stroke="#fff" stroke-width="0.35"/><circle cx="1482.3" cy="99.6" r="8.5" fill="#009E73" stroke="#fff" stroke-width="0.35"/><circle cx="1491.9" cy="98.4" r="8.5" fill="#009E73" stroke="#fff" stroke-width="0.35"/><circle cx="1501.4" cy="97.3" r="8.5" fill="#009E73" stroke="#fff" stroke-width="0.35"/><circle cx="1510.9" cy="96.2" r="8.5" fill="#009E73" stroke="#fff" stroke-width="0.35"/><circle cx="1520.5" cy="95.2" r="8.5" fill="#009E73" stroke="#fff" stroke-width="0.35"/><circle cx="1530.0" cy="94.2" r="8.5" fill="#009E73" stroke="#fff" stroke-width="0.35"/><circle cx="1539.5" cy="93.1" r="8.5" fill="#009E73" stroke="#fff" stroke-width="0.35"/><circle cx="1549.1" cy="92.2" r="8.5" fill="#009E73" stroke="#fff" stroke-width="0.35"/><circle cx="1558.6" cy="91.2" r="8.5" fill="#009E73" stroke="#fff" stroke-width="0.35"/><circle cx="1568.2" cy="90.3" r="8.5" fill="#009E73" stroke="#fff" stroke-width="0.35"/><circle cx="1577.7" cy="89.4" r="8.5" fill="#009E73" stroke="#fff" stroke-width="0.35"/><circle cx="1587.2" cy="88.5" r="8.5" fill="#009E73" stroke="#fff" stroke-width="0.35"/><circle cx="1596.8" cy="87.6" r="8.5" fill="#009E73" stroke="#fff" stroke-width="0.35"/><circle cx="1606.3" cy="86.8" r="8.5" fill="#009E73" stroke="#fff" stroke-width="0.35"/><circle cx="1615.8" cy="85.9" r="8.5" fill="#009E73" stroke="#fff" stroke-width="0.35"/><circle cx="1625.4" cy="85.1" r="8.5" fill="#009E73" stroke="#fff" stroke-width="0.35"/><circle cx="1634.9" cy="84.3" r="8.5" fill="#009E73" stroke="#fff" stroke-width="0.35"/><circle cx="1644.4" cy="83.5" r="8.5" fill="#009E73" stroke="#fff" stroke-width="0.35"/><circle cx="1654.0" cy="82.8" r="8.5" fill="#009E73" stroke="#fff" stroke-width="0.35"/><circle cx="1663.5" cy="82.0" r="8.5" fill="#009E73" stroke="#fff" stroke-width="0.35"/><circle cx="1673.0" cy="81.3" r="8.5" fill="#009E73" stroke="#fff" stroke-width="0.35"/>
<path d="M1301.6 1378.7L1307.0 1373.7L1312.2 1368.7L1317.3 1363.7L1322.4 1358.7L1327.3 1353.7L1332.2 1348.8L1336.9 1343.8L1341.6 1338.9L1346.2 1334.0L1350.7 1329.2L1355.1 1324.3L1359.5 1319.5L1363.8 1314.6L1368.0 1309.8L1372.1 1305.0L1376.2 1300.3L1380.2 1295.5L1384.2 1290.7L1388.1 1286.0L1392.0 1281.3L1395.8 1276.5L1399.5 1271.8L1403.2 1267.1L1406.8 1262.4L1410.4 1257.8L1414.0 1253.1L1417.5 1248.4L1421.0 1243.8L1424.4 1239.2L1427.7 1234.5L1431.1 1229.9L1434.4 1225.3L1437.6 1220.7L1440.8 1216.1L1444.0 1211.6L1447.1 1207.0L1450.2 1202.4L1453.3 1197.9L1456.3 1193.3L1459.3 1188.8L1462.3 1184.2L1465.2 1179.7L1468.1 1175.2L1471.0 1170.7L1473.8 1166.2L1476.7 1161.7L1479.4 1157.2L1482.2 1152.7L1484.9 1148.2L1487.6 1143.8L1490.3 1139.3L1493.0 1134.9L1495.6 1130.4L1498.2 1126.0L1500.8 1121.5L1503.3 1117.1L1505.8 1112.7L1508.3 1108.2L1510.8 1103.8L1513.3 1099.4L1515.7 1095.0L1518.1 1090.6L1520.5 1086.2L1522.9 1081.8L1525.2 1077.4L1527.6 1073.0L1529.9 1068.7L1532.2 1064.3L1534.5 1059.9L1536.7 1055.6L1538.9 1051.2L1541.2 1046.9L1543.4 1042.5L1545.5 1038.2L1547.7 1033.8L1549.9 1029.5L1552.0 1025.2L1554.1 1020.9L1556.2 1016.5L1558.3 1012.2L1560.3 1007.9L1562.4 1003.6L1564.4 999.3L1566.4 995.0L1568.4 990.7L1570.4 986.4L1572.4 982.1L1574.4 977.8L1576.3 973.5L1578.2 969.2L1580.1 965.0L1582.1 960.7L1583.9 956.4L1585.8 952.2L1587.7 947.9L1589.5 943.6L1591.4 939.4L1593.2 935.1L1595.0 930.9L1596.8 926.6L1598.6 922.4L1600.4 918.2L1602.1 913.9L1603.9 909.7L1605.6 905.5L1607.3 901.2L1609.1 897.0L1610.8 892.8L1612.5 888.6L1614.1 884.3L1615.8 880.1L1617.5 875.9L1619.1 871.7L1620.8 867.5L1622.4 863.3L1624.0 859.1L1625.6 854.9L1627.2 850.7L1628.8 846.5L1630.4 842.3L1632.0 838.1L1633.5 834.0L1635.1 829.8L1636.6 825.6L1638.1 821.4L1639.7 817.2L1641.2 813.1L1642.7 808.9L1644.2 804.7L1645.7 800.6L1647.2 796.4L1648.6 792.2L1650.1 788.1L1651.5 783.9L1653.0 779.8L1654.4 775.6L1655.9 771.5L1657.3 767.3L1658.7 763.2L1660.1 759.0L1661.5 754.9L1662.9 750.8L1664.3 746.6L1665.6 742.5L1667.0 738.3L1668.4 734.2L1669.7 730.1L1671.0 726.0L1672.4 721.8L1673.7 717.7L1675.0 713.6L1676.3 709.5L1677.7 705.3L1679.0 701.2L1680.3 697.1L1681.5 693.0L1682.8 688.9L1684.1 684.8L1685.4 680.7L1686.6 676.6L1687.9 672.5L1689.1 668.4L1690.4 664.3L1691.6 660.2L1692.8 656.1L1694.0 652.0L1695.3 647.9L1696.5 643.8L1697.7 639.7L1698.9 635.6L1700.1 631.5L1701.2 627.4L1702.4 623.3L1703.6 619.3L1704.8 615.2L1705.9 611.1L1707.1 607.0L1708.2 602.9L1709.4 598.9L1710.5 594.8L1711.7 590.7L1712.8 586.7L1713.9 582.6L1715.0 578.5L1716.1 574.5L1717.2 570.4L1718.3 566.3L1719.4 562.3L1720.5 558.2L1721.6 554.1L1722.7 550.1L1723.8 546.0L1724.8 542.0L1725.9 537.9L1727.0 533.9L1728.0 529.8L1729.1 525.8L1730.1 521.7L1731.2 517.7L1732.2 513.6L1733.2 509.6L1734.3 505.5L1735.3 501.5L1736.3 497.4L1737.3 493.4L1738.3 489.4L1739.3 485.3L1740.3 481.3L1741.3 477.2L1742.3 473.2L1743.3 469.2L1744.3 465.1L1745.3 461.1L1746.2 457.1L1747.2 453.1L1748.2 449.0L1749.1 445.0L1750.1 441.0L1751.0 436.9L1752.0 432.9L1752.9 428.9L1753.9 424.9L1754.8 420.9L1755.7 416.8L1756.7 412.8L1757.6 408.8L1758.5 404.8L1759.4 400.8L1760.3 396.8L1761.2 392.7L1762.1 388.7L1763.0 384.7L1763.9 380.7L1764.8 376.7L1765.7 372.7L1766.6 368.7L1767.5 364.7L1768.4 360.7L1769.2 356.7L1770.1 352.7L1771.0 348.7L1771.8 344.7L1772.7 340.7L1773.6 336.7L1774.4 332.7L1775.3 328.7L1776.1 324.7L1777.0 320.7L1777.8 316.7L1778.6 312.7L1779.5 308.7L1780.3 304.7L1781.1 300.7L1781.9 296.7L1782.8 292.7L1783.6 288.7L1784.4 284.7L1785.2 280.8L1786.0 276.8L1786.8 272.8L1787.6 268.8L1788.4 264.8L1789.2 260.8L1790.0 256.8L1790.8 252.9L1791.6 248.9L1792.3 244.9L1793.1 240.9L1793.9 236.9L1794.7 233.0L1795.4 229.0L1796.2 225.0L1797.0 221.0L1797.7 217.0L1798.5 213.1L1799.2 209.1L1800.0 205.1L1800.7 201.2L1801.5 197.2L1802.2 193.2L1803.0 189.2L1803.7 185.3L1804.4 181.3L1805.2 177.3L1805.9 173.4L1806.6 169.4L1807.4 165.4L1808.1 161.5L1808.8 157.5L1809.5 153.5L1810.2 149.6L1810.9 145.6L1811.6 141.6L1812.3 137.7L1813.0 133.7L1813.7 129.8L1814.4 125.8L1815.1 121.8L1815.8 117.9" fill="none" stroke="#000000" stroke-width="2.7" stroke-linejoin="round" clip-path="url(#cc)"/><path d="M1301.6 1367.0L1313.3 1384.6L1289.9 1384.6Z" fill="#fff" stroke="#000000" stroke-width="3.3" stroke-linejoin="round"/><path d="M1327.3 1342.0L1339.0 1359.6L1315.6 1359.6Z" fill="#fff" stroke="#000000" stroke-width="3.3" stroke-linejoin="round"/><path d="M1350.7 1317.5L1362.4 1335.0L1339.0 1335.0Z" fill="#fff" stroke="#000000" stroke-width="3.3" stroke-linejoin="round"/><path d="M1372.1 1293.3L1383.8 1310.9L1360.4 1310.9Z" fill="#fff" stroke="#000000" stroke-width="3.3" stroke-linejoin="round"/><path d="M1392.0 1269.6L1403.7 1287.1L1380.3 1287.1Z" fill="#fff" stroke="#000000" stroke-width="3.3" stroke-linejoin="round"/><path d="M1410.4 1246.1L1422.1 1263.6L1398.7 1263.6Z" fill="#fff" stroke="#000000" stroke-width="3.3" stroke-linejoin="round"/><path d="M1427.7 1222.8L1439.4 1240.4L1416.0 1240.4Z" fill="#fff" stroke="#000000" stroke-width="3.3" stroke-linejoin="round"/><path d="M1444.0 1199.9L1455.7 1217.4L1432.3 1217.4Z" fill="#fff" stroke="#000000" stroke-width="3.3" stroke-linejoin="round"/><path d="M1459.3 1177.1L1471.0 1194.6L1447.6 1194.6Z" fill="#fff" stroke="#000000" stroke-width="3.3" stroke-linejoin="round"/><path d="M1473.8 1154.5L1485.5 1172.0L1462.1 1172.0Z" fill="#fff" stroke="#000000" stroke-width="3.3" stroke-linejoin="round"/><path d="M1487.6 1132.1L1499.3 1149.6L1475.9 1149.6Z" fill="#fff" stroke="#000000" stroke-width="3.3" stroke-linejoin="round"/><path d="M1500.8 1109.8L1512.5 1127.4L1489.1 1127.4Z" fill="#fff" stroke="#000000" stroke-width="3.3" stroke-linejoin="round"/><path d="M1513.3 1087.7L1525.0 1105.3L1501.6 1105.3Z" fill="#fff" stroke="#000000" stroke-width="3.3" stroke-linejoin="round"/><path d="M1525.2 1065.7L1536.9 1083.3L1513.5 1083.3Z" fill="#fff" stroke="#000000" stroke-width="3.3" stroke-linejoin="round"/><path d="M1536.7 1043.9L1548.4 1061.4L1525.0 1061.4Z" fill="#fff" stroke="#000000" stroke-width="3.3" stroke-linejoin="round"/><path d="M1547.7 1022.1L1559.4 1039.7L1536.0 1039.7Z" fill="#fff" stroke="#000000" stroke-width="3.3" stroke-linejoin="round"/><path d="M1558.3 1000.5L1570.0 1018.1L1546.6 1018.1Z" fill="#fff" stroke="#000000" stroke-width="3.3" stroke-linejoin="round"/><path d="M1568.4 979.0L1580.1 996.5L1556.7 996.5Z" fill="#fff" stroke="#000000" stroke-width="3.3" stroke-linejoin="round"/><path d="M1578.2 957.5L1589.9 975.1L1566.5 975.1Z" fill="#fff" stroke="#000000" stroke-width="3.3" stroke-linejoin="round"/><path d="M1587.7 936.2L1599.4 953.8L1576.0 953.8Z" fill="#fff" stroke="#000000" stroke-width="3.3" stroke-linejoin="round"/><path d="M1596.8 914.9L1608.5 932.5L1585.1 932.5Z" fill="#fff" stroke="#000000" stroke-width="3.3" stroke-linejoin="round"/><path d="M1605.6 893.8L1617.3 911.3L1593.9 911.3Z" fill="#fff" stroke="#000000" stroke-width="3.3" stroke-linejoin="round"/><path d="M1614.1 872.6L1625.8 890.2L1602.4 890.2Z" fill="#fff" stroke="#000000" stroke-width="3.3" stroke-linejoin="round"/><path d="M1622.4 851.6L1634.1 869.2L1610.7 869.2Z" fill="#fff" stroke="#000000" stroke-width="3.3" stroke-linejoin="round"/><path d="M1630.4 830.6L1642.1 848.2L1618.7 848.2Z" fill="#fff" stroke="#000000" stroke-width="3.3" stroke-linejoin="round"/><path d="M1638.1 809.7L1649.8 827.3L1626.4 827.3Z" fill="#fff" stroke="#000000" stroke-width="3.3" stroke-linejoin="round"/><path d="M1645.7 788.9L1657.4 806.4L1634.0 806.4Z" fill="#fff" stroke="#000000" stroke-width="3.3" stroke-linejoin="round"/><path d="M1653.0 768.1L1664.7 785.6L1641.3 785.6Z" fill="#fff" stroke="#000000" stroke-width="3.3" stroke-linejoin="round"/><path d="M1660.1 747.3L1671.8 764.9L1648.4 764.9Z" fill="#fff" stroke="#000000" stroke-width="3.3" stroke-linejoin="round"/><path d="M1667.0 726.6L1678.7 744.2L1655.3 744.2Z" fill="#fff" stroke="#000000" stroke-width="3.3" stroke-linejoin="round"/><path d="M1673.7 706.0L1685.4 723.6L1662.0 723.6Z" fill="#fff" stroke="#000000" stroke-width="3.3" stroke-linejoin="round"/><path d="M1680.3 685.4L1692.0 703.0L1668.6 703.0Z" fill="#fff" stroke="#000000" stroke-width="3.3" stroke-linejoin="round"/>
<path d="M948.5 1377.7L967.8 1371.8L985.2 1366.0L1001.1 1360.2L1015.9 1354.6L1029.7 1349.0L1042.6 1343.5L1054.8 1338.1L1066.3 1332.7L1077.3 1327.3L1087.8 1322.0L1097.9 1316.8L1107.5 1311.6L1116.8 1306.4L1125.7 1301.2L1134.3 1296.1L1142.6 1291.0L1150.7 1285.9L1158.5 1280.9L1166.1 1275.9L1173.4 1270.9L1180.6 1265.9L1187.6 1261.0L1194.3 1256.1L1201.0 1251.2L1207.4 1246.3L1213.7 1241.4L1219.9 1236.6L1225.9 1231.7L1231.8 1226.9L1237.6 1222.1L1243.3 1217.3L1248.8 1212.5L1254.3 1207.8L1259.6 1203.0L1264.8 1198.3L1270.0 1193.6L1275.0 1188.9L1280.0 1184.2L1284.9 1179.5L1289.6 1174.8L1294.4 1170.2L1299.0 1165.5L1303.6 1160.9L1308.0 1156.3L1312.5 1151.7L1316.8 1147.1L1321.1 1142.5L1325.3 1137.9L1329.5 1133.3L1333.6 1128.7L1337.7 1124.2L1341.7 1119.6L1345.6 1115.1L1349.5 1110.5L1353.3 1106.0L1357.1 1101.5L1360.8 1097.0L1364.5 1092.5L1368.2 1088.0L1371.8 1083.5L1375.3 1079.0L1378.9 1074.5L1382.3 1070.1L1385.8 1065.6L1389.2 1061.1L1392.5 1056.7L1395.8 1052.2L1399.1 1047.8L1402.4 1043.4L1405.6 1039.0L1408.7 1034.5L1411.9 1030.1L1415.0 1025.7L1418.1 1021.3L1421.1 1016.9L1424.1 1012.5L1427.1 1008.1L1430.0 1003.8L1433.0 999.4L1435.9 995.0L1438.7 990.7L1441.6 986.3L1444.4 981.9L1447.2 977.6L1449.9 973.2L1452.6 968.9L1455.4 964.6L1458.0 960.2L1460.7 955.9L1463.3 951.6L1465.9 947.3L1468.5 943.0L1471.1 938.6L1473.6 934.3L1476.2 930.0L1478.7 925.7L1481.1 921.5L1483.6 917.2L1486.0 912.9L1488.4 908.6L1490.8 904.3L1493.2 900.0L1495.6 895.8L1497.9 891.5L1500.2 887.2L1502.5 883.0L1504.8 878.7L1507.1 874.5L1509.3 870.2L1511.6 866.0L1513.8 861.7L1516.0 857.5L1518.2 853.3L1520.3 849.0L1522.5 844.8L1524.6 840.6L1526.7 836.3L1528.8 832.1L1530.9 827.9L1533.0 823.7L1535.0 819.5L1537.1 815.3L1539.1 811.1L1541.1 806.9L1543.1 802.7L1545.1 798.5L1547.1 794.3L1549.0 790.1L1551.0 785.9L1552.9 781.7L1554.8 777.5L1556.7 773.3L1558.6 769.1L1560.5 765.0L1562.4 760.8L1564.2 756.6L1566.1 752.5L1567.9 748.3L1569.7 744.1L1571.5 740.0L1573.3 735.8L1575.1 731.6L1576.9 727.5L1578.6 723.3L1580.4 719.2L1582.1 715.0L1583.8 710.9L1585.6 706.8L1587.3 702.6L1589.0 698.5L1590.6 694.3L1592.3 690.2L1594.0 686.1L1595.6 681.9L1597.3 677.8L1598.9 673.7L1600.6 669.6L1602.2 665.4L1603.8 661.3L1605.4 657.2L1607.0 653.1L1608.5 649.0L1610.1 644.9L1611.7 640.7L1613.2 636.6L1614.8 632.5L1616.3 628.4L1617.8 624.3L1619.4 620.2L1620.9 616.1L1622.4 612.0L1623.9 607.9L1625.3 603.8L1626.8 599.7L1628.3 595.7L1629.7 591.6L1631.2 587.5L1632.6 583.4L1634.1 579.3L1635.5 575.2L1636.9 571.1L1638.3 567.1L1639.7 563.0L1641.1 558.9L1642.5 554.8L1643.9 550.8L1645.3 546.7L1646.7 542.6L1648.0 538.6L1649.4 534.5L1650.7 530.4L1652.1 526.4L1653.4 522.3L1654.7 518.2L1656.1 514.2L1657.4 510.1L1658.7 506.1L1660.0 502.0L1661.3 498.0L1662.6 493.9L1663.8 489.9L1665.1 485.8L1666.4 481.8L1667.6 477.7L1668.9 473.7L1670.2 469.6L1671.4 465.6L1672.6 461.5L1673.9 457.5L1675.1 453.5L1676.3 449.4L1677.5 445.4L1678.7 441.3L1679.9 437.3L1681.1 433.3L1682.3 429.3L1683.5 425.2L1684.7 421.2L1685.9 417.2L1687.0 413.1L1688.2 409.1L1689.4 405.1L1690.5 401.1L1691.7 397.0L1692.8 393.0L1693.9 389.0L1695.1 385.0L1696.2 381.0L1697.3 377.0L1698.4 372.9L1699.5 368.9L1700.7 364.9L1701.8 360.9L1702.8 356.9L1703.9 352.9L1705.0 348.9L1706.1 344.9L1707.2 340.9L1708.3 336.9L1709.3 332.9L1710.4 328.8L1711.4 324.8L1712.5 320.8L1713.5 316.8L1714.6 312.8L1715.6 308.8L1716.7 304.9L1717.7 300.9L1718.7 296.9L1719.7 292.9L1720.8 288.9L1721.8 284.9L1722.8 280.9L1723.8 276.9L1724.8 272.9L1725.8 268.9L1726.8 264.9L1727.8 260.9L1728.7 257.0L1729.7 253.0L1730.7 249.0L1731.7 245.0L1732.6 241.0L1733.6 237.0L1734.6 233.1L1735.5 229.1L1736.5 225.1L1737.4 221.1L1738.4 217.1L1739.3 213.2L1740.2 209.2L1741.2 205.2L1742.1 201.2L1743.0 197.3L1743.9 193.3L1744.8 189.3L1745.8 185.4L1746.7 181.4L1747.6 177.4L1748.5 173.4L1749.4 169.5L1750.3 165.5L1751.2 161.5L1752.0 157.6L1752.9 153.6L1753.8 149.7L1754.7 145.7L1755.6 141.7L1756.4 137.8L1757.3 133.8L1758.2 129.8L1759.0 125.9L1759.9 121.9L1760.7 118.0L1761.6 114.0L1762.4 110.1L1763.3 106.1L1764.1 102.1L1764.9 98.2" fill="none" stroke="#0072B2" stroke-width="2.7" stroke-linejoin="round" clip-path="url(#cc)"/><path d="M948.5 1366.5L959.7 1383.3L937.3 1383.3Z" fill="#0072B2" stroke="#fff" stroke-width="0.5"/><path d="M967.8 1360.6L979.0 1377.4L956.6 1377.4Z" fill="#0072B2" stroke="#fff" stroke-width="0.5"/><path d="M985.2 1354.8L996.4 1371.6L974.0 1371.6Z" fill="#0072B2" stroke="#fff" stroke-width="0.5"/><path d="M1001.1 1349.0L1012.3 1365.8L989.9 1365.8Z" fill="#0072B2" stroke="#fff" stroke-width="0.5"/><path d="M1015.9 1343.4L1027.1 1360.2L1004.7 1360.2Z" fill="#0072B2" stroke="#fff" stroke-width="0.5"/><path d="M1029.7 1337.8L1040.9 1354.6L1018.5 1354.6Z" fill="#0072B2" stroke="#fff" stroke-width="0.5"/><path d="M1042.6 1332.3L1053.8 1349.1L1031.4 1349.1Z" fill="#0072B2" stroke="#fff" stroke-width="0.5"/><path d="M1054.8 1326.9L1066.0 1343.7L1043.6 1343.7Z" fill="#0072B2" stroke="#fff" stroke-width="0.5"/><path d="M1066.3 1321.5L1077.5 1338.3L1055.1 1338.3Z" fill="#0072B2" stroke="#fff" stroke-width="0.5"/><path d="M1077.3 1316.1L1088.5 1332.9L1066.1 1332.9Z" fill="#0072B2" stroke="#fff" stroke-width="0.5"/><path d="M1087.8 1310.8L1099.0 1327.6L1076.6 1327.6Z" fill="#0072B2" stroke="#fff" stroke-width="0.5"/><path d="M1097.9 1305.6L1109.1 1322.4L1086.7 1322.4Z" fill="#0072B2" stroke="#fff" stroke-width="0.5"/><path d="M1107.5 1300.4L1118.7 1317.2L1096.3 1317.2Z" fill="#0072B2" stroke="#fff" stroke-width="0.5"/><path d="M1116.8 1295.2L1128.0 1312.0L1105.6 1312.0Z" fill="#0072B2" stroke="#fff" stroke-width="0.5"/><path d="M1125.7 1290.0L1136.9 1306.8L1114.5 1306.8Z" fill="#0072B2" stroke="#fff" stroke-width="0.5"/><path d="M1134.3 1284.9L1145.5 1301.7L1123.1 1301.7Z" fill="#0072B2" stroke="#fff" stroke-width="0.5"/><path d="M1142.6 1279.8L1153.8 1296.6L1131.4 1296.6Z" fill="#0072B2" stroke="#fff" stroke-width="0.5"/><path d="M1150.7 1274.7L1161.9 1291.5L1139.5 1291.5Z" fill="#0072B2" stroke="#fff" stroke-width="0.5"/><path d="M1158.5 1269.7L1169.7 1286.5L1147.3 1286.5Z" fill="#0072B2" stroke="#fff" stroke-width="0.5"/><path d="M1166.1 1264.7L1177.3 1281.5L1154.9 1281.5Z" fill="#0072B2" stroke="#fff" stroke-width="0.5"/><path d="M1173.4 1259.7L1184.6 1276.5L1162.2 1276.5Z" fill="#0072B2" stroke="#fff" stroke-width="0.5"/><path d="M1180.6 1254.7L1191.8 1271.5L1169.4 1271.5Z" fill="#0072B2" stroke="#fff" stroke-width="0.5"/><path d="M1187.6 1249.8L1198.8 1266.6L1176.4 1266.6Z" fill="#0072B2" stroke="#fff" stroke-width="0.5"/><path d="M1194.3 1244.9L1205.5 1261.7L1183.1 1261.7Z" fill="#0072B2" stroke="#fff" stroke-width="0.5"/><path d="M1201.0 1240.0L1212.2 1256.8L1189.8 1256.8Z" fill="#0072B2" stroke="#fff" stroke-width="0.5"/><path d="M1207.4 1235.1L1218.6 1251.9L1196.2 1251.9Z" fill="#0072B2" stroke="#fff" stroke-width="0.5"/><path d="M1213.7 1230.2L1224.9 1247.0L1202.5 1247.0Z" fill="#0072B2" stroke="#fff" stroke-width="0.5"/><path d="M1219.9 1225.4L1231.1 1242.2L1208.7 1242.2Z" fill="#0072B2" stroke="#fff" stroke-width="0.5"/><path d="M1225.9 1220.5L1237.1 1237.3L1214.7 1237.3Z" fill="#0072B2" stroke="#fff" stroke-width="0.5"/><path d="M1231.8 1215.7L1243.0 1232.5L1220.6 1232.5Z" fill="#0072B2" stroke="#fff" stroke-width="0.5"/><path d="M1237.6 1210.9L1248.8 1227.7L1226.4 1227.7Z" fill="#0072B2" stroke="#fff" stroke-width="0.5"/><path d="M1243.3 1206.1L1254.5 1222.9L1232.1 1222.9Z" fill="#0072B2" stroke="#fff" stroke-width="0.5"/><path d="M1248.8 1201.3L1260.0 1218.1L1237.6 1218.1Z" fill="#0072B2" stroke="#fff" stroke-width="0.5"/><path d="M1254.3 1196.6L1265.5 1213.4L1243.1 1213.4Z" fill="#0072B2" stroke="#fff" stroke-width="0.5"/><path d="M1259.6 1191.8L1270.8 1208.6L1248.4 1208.6Z" fill="#0072B2" stroke="#fff" stroke-width="0.5"/><path d="M1264.8 1187.1L1276.0 1203.9L1253.6 1203.9Z" fill="#0072B2" stroke="#fff" stroke-width="0.5"/><path d="M1270.0 1182.4L1281.2 1199.2L1258.8 1199.2Z" fill="#0072B2" stroke="#fff" stroke-width="0.5"/><path d="M1275.0 1177.7L1286.2 1194.5L1263.8 1194.5Z" fill="#0072B2" stroke="#fff" stroke-width="0.5"/><path d="M1280.0 1173.0L1291.2 1189.8L1268.8 1189.8Z" fill="#0072B2" stroke="#fff" stroke-width="0.5"/><path d="M1284.9 1168.3L1296.1 1185.1L1273.7 1185.1Z" fill="#0072B2" stroke="#fff" stroke-width="0.5"/><path d="M1289.6 1163.6L1300.8 1180.4L1278.4 1180.4Z" fill="#0072B2" stroke="#fff" stroke-width="0.5"/><path d="M1294.4 1159.0L1305.6 1175.8L1283.2 1175.8Z" fill="#0072B2" stroke="#fff" stroke-width="0.5"/><path d="M1299.0 1154.3L1310.2 1171.1L1287.8 1171.1Z" fill="#0072B2" stroke="#fff" stroke-width="0.5"/><path d="M1303.6 1149.7L1314.8 1166.5L1292.4 1166.5Z" fill="#0072B2" stroke="#fff" stroke-width="0.5"/><path d="M1308.0 1145.1L1319.2 1161.9L1296.8 1161.9Z" fill="#0072B2" stroke="#fff" stroke-width="0.5"/><path d="M1312.5 1140.5L1323.7 1157.3L1301.3 1157.3Z" fill="#0072B2" stroke="#fff" stroke-width="0.5"/><path d="M1316.8 1135.9L1328.0 1152.7L1305.6 1152.7Z" fill="#0072B2" stroke="#fff" stroke-width="0.5"/><path d="M1321.1 1131.3L1332.3 1148.1L1309.9 1148.1Z" fill="#0072B2" stroke="#fff" stroke-width="0.5"/><path d="M1325.3 1126.7L1336.5 1143.5L1314.1 1143.5Z" fill="#0072B2" stroke="#fff" stroke-width="0.5"/><path d="M1329.5 1122.1L1340.7 1138.9L1318.3 1138.9Z" fill="#0072B2" stroke="#fff" stroke-width="0.5"/><path d="M1333.6 1117.5L1344.8 1134.3L1322.4 1134.3Z" fill="#0072B2" stroke="#fff" stroke-width="0.5"/><path d="M1337.7 1113.0L1348.9 1129.8L1326.5 1129.8Z" fill="#0072B2" stroke="#fff" stroke-width="0.5"/><path d="M1341.7 1108.4L1352.9 1125.2L1330.5 1125.2Z" fill="#0072B2" stroke="#fff" stroke-width="0.5"/><path d="M1345.6 1103.9L1356.8 1120.7L1334.4 1120.7Z" fill="#0072B2" stroke="#fff" stroke-width="0.5"/><path d="M1349.5 1099.3L1360.7 1116.1L1338.3 1116.1Z" fill="#0072B2" stroke="#fff" stroke-width="0.5"/><path d="M1353.3 1094.8L1364.5 1111.6L1342.1 1111.6Z" fill="#0072B2" stroke="#fff" stroke-width="0.5"/><path d="M1357.1 1090.3L1368.3 1107.1L1345.9 1107.1Z" fill="#0072B2" stroke="#fff" stroke-width="0.5"/><path d="M1360.8 1085.8L1372.0 1102.6L1349.6 1102.6Z" fill="#0072B2" stroke="#fff" stroke-width="0.5"/><path d="M1364.5 1081.3L1375.7 1098.1L1353.3 1098.1Z" fill="#0072B2" stroke="#fff" stroke-width="0.5"/><path d="M1368.2 1076.8L1379.4 1093.6L1357.0 1093.6Z" fill="#0072B2" stroke="#fff" stroke-width="0.5"/><path d="M1371.8 1072.3L1383.0 1089.1L1360.6 1089.1Z" fill="#0072B2" stroke="#fff" stroke-width="0.5"/><path d="M1375.3 1067.8L1386.5 1084.6L1364.1 1084.6Z" fill="#0072B2" stroke="#fff" stroke-width="0.5"/><path d="M1378.9 1063.3L1390.1 1080.1L1367.7 1080.1Z" fill="#0072B2" stroke="#fff" stroke-width="0.5"/><path d="M1382.3 1058.9L1393.5 1075.7L1371.1 1075.7Z" fill="#0072B2" stroke="#fff" stroke-width="0.5"/><path d="M1385.8 1054.4L1397.0 1071.2L1374.6 1071.2Z" fill="#0072B2" stroke="#fff" stroke-width="0.5"/><path d="M1389.2 1049.9L1400.4 1066.7L1378.0 1066.7Z" fill="#0072B2" stroke="#fff" stroke-width="0.5"/><path d="M1392.5 1045.5L1403.7 1062.3L1381.3 1062.3Z" fill="#0072B2" stroke="#fff" stroke-width="0.5"/><path d="M1395.8 1041.0L1407.0 1057.8L1384.6 1057.8Z" fill="#0072B2" stroke="#fff" stroke-width="0.5"/><path d="M1399.1 1036.6L1410.3 1053.4L1387.9 1053.4Z" fill="#0072B2" stroke="#fff" stroke-width="0.5"/><path d="M1402.4 1032.2L1413.6 1049.0L1391.2 1049.0Z" fill="#0072B2" stroke="#fff" stroke-width="0.5"/><path d="M1405.6 1027.8L1416.8 1044.6L1394.4 1044.6Z" fill="#0072B2" stroke="#fff" stroke-width="0.5"/><path d="M1408.7 1023.3L1419.9 1040.1L1397.5 1040.1Z" fill="#0072B2" stroke="#fff" stroke-width="0.5"/><path d="M1411.9 1018.9L1423.1 1035.7L1400.7 1035.7Z" fill="#0072B2" stroke="#fff" stroke-width="0.5"/><path d="M1415.0 1014.5L1426.2 1031.3L1403.8 1031.3Z" fill="#0072B2" stroke="#fff" stroke-width="0.5"/><path d="M1418.1 1010.1L1429.3 1026.9L1406.9 1026.9Z" fill="#0072B2" stroke="#fff" stroke-width="0.5"/><path d="M1421.1 1005.7L1432.3 1022.5L1409.9 1022.5Z" fill="#0072B2" stroke="#fff" stroke-width="0.5"/><path d="M1424.1 1001.3L1435.3 1018.1L1412.9 1018.1Z" fill="#0072B2" stroke="#fff" stroke-width="0.5"/><path d="M1427.1 996.9L1438.3 1013.7L1415.9 1013.7Z" fill="#0072B2" stroke="#fff" stroke-width="0.5"/><path d="M1430.0 992.6L1441.2 1009.4L1418.8 1009.4Z" fill="#0072B2" stroke="#fff" stroke-width="0.5"/><path d="M1433.0 988.2L1444.2 1005.0L1421.8 1005.0Z" fill="#0072B2" stroke="#fff" stroke-width="0.5"/><path d="M1435.9 983.8L1447.1 1000.6L1424.7 1000.6Z" fill="#0072B2" stroke="#fff" stroke-width="0.5"/><path d="M1438.7 979.5L1449.9 996.3L1427.5 996.3Z" fill="#0072B2" stroke="#fff" stroke-width="0.5"/><path d="M1441.6 975.1L1452.8 991.9L1430.4 991.9Z" fill="#0072B2" stroke="#fff" stroke-width="0.5"/><path d="M1444.4 970.7L1455.6 987.5L1433.2 987.5Z" fill="#0072B2" stroke="#fff" stroke-width="0.5"/><path d="M1447.2 966.4L1458.4 983.2L1436.0 983.2Z" fill="#0072B2" stroke="#fff" stroke-width="0.5"/><path d="M1449.9 962.0L1461.1 978.8L1438.7 978.8Z" fill="#0072B2" stroke="#fff" stroke-width="0.5"/><path d="M1452.6 957.7L1463.8 974.5L1441.4 974.5Z" fill="#0072B2" stroke="#fff" stroke-width="0.5"/><path d="M1455.4 953.4L1466.6 970.2L1444.2 970.2Z" fill="#0072B2" stroke="#fff" stroke-width="0.5"/><path d="M1458.0 949.0L1469.2 965.8L1446.8 965.8Z" fill="#0072B2" stroke="#fff" stroke-width="0.5"/><path d="M1460.7 944.7L1471.9 961.5L1449.5 961.5Z" fill="#0072B2" stroke="#fff" stroke-width="0.5"/><path d="M1463.3 940.4L1474.5 957.2L1452.1 957.2Z" fill="#0072B2" stroke="#fff" stroke-width="0.5"/><path d="M1465.9 936.1L1477.1 952.9L1454.7 952.9Z" fill="#0072B2" stroke="#fff" stroke-width="0.5"/><path d="M1468.5 931.8L1479.7 948.6L1457.3 948.6Z" fill="#0072B2" stroke="#fff" stroke-width="0.5"/><path d="M1471.1 927.4L1482.3 944.2L1459.9 944.2Z" fill="#0072B2" stroke="#fff" stroke-width="0.5"/><path d="M1473.6 923.1L1484.8 939.9L1462.4 939.9Z" fill="#0072B2" stroke="#fff" stroke-width="0.5"/><path d="M1476.2 918.8L1487.4 935.6L1465.0 935.6Z" fill="#0072B2" stroke="#fff" stroke-width="0.5"/><path d="M1478.7 914.5L1489.9 931.3L1467.5 931.3Z" fill="#0072B2" stroke="#fff" stroke-width="0.5"/><path d="M1481.1 910.3L1492.3 927.1L1469.9 927.1Z" fill="#0072B2" stroke="#fff" stroke-width="0.5"/><path d="M1483.6 906.0L1494.8 922.8L1472.4 922.8Z" fill="#0072B2" stroke="#fff" stroke-width="0.5"/><path d="M1486.0 901.7L1497.2 918.5L1474.8 918.5Z" fill="#0072B2" stroke="#fff" stroke-width="0.5"/><path d="M1488.4 897.4L1499.6 914.2L1477.2 914.2Z" fill="#0072B2" stroke="#fff" stroke-width="0.5"/><path d="M1490.8 893.1L1502.0 909.9L1479.6 909.9Z" fill="#0072B2" stroke="#fff" stroke-width="0.5"/><path d="M1493.2 888.8L1504.4 905.6L1482.0 905.6Z" fill="#0072B2" stroke="#fff" stroke-width="0.5"/><path d="M1495.6 884.6L1506.8 901.4L1484.4 901.4Z" fill="#0072B2" stroke="#fff" stroke-width="0.5"/><path d="M1497.9 880.3L1509.1 897.1L1486.7 897.1Z" fill="#0072B2" stroke="#fff" stroke-width="0.5"/><path d="M1500.2 876.0L1511.4 892.8L1489.0 892.8Z" fill="#0072B2" stroke="#fff" stroke-width="0.5"/><path d="M1502.5 871.8L1513.7 888.6L1491.3 888.6Z" fill="#0072B2" stroke="#fff" stroke-width="0.5"/><path d="M1504.8 867.5L1516.0 884.3L1493.6 884.3Z" fill="#0072B2" stroke="#fff" stroke-width="0.5"/><path d="M1507.1 863.3L1518.3 880.1L1495.9 880.1Z" fill="#0072B2" stroke="#fff" stroke-width="0.5"/><path d="M1509.3 859.0L1520.5 875.8L1498.1 875.8Z" fill="#0072B2" stroke="#fff" stroke-width="0.5"/><path d="M1511.6 854.8L1522.8 871.6L1500.4 871.6Z" fill="#0072B2" stroke="#fff" stroke-width="0.5"/><path d="M1513.8 850.5L1525.0 867.3L1502.6 867.3Z" fill="#0072B2" stroke="#fff" stroke-width="0.5"/><path d="M1516.0 846.3L1527.2 863.1L1504.8 863.1Z" fill="#0072B2" stroke="#fff" stroke-width="0.5"/><path d="M1518.2 842.1L1529.4 858.9L1507.0 858.9Z" fill="#0072B2" stroke="#fff" stroke-width="0.5"/><path d="M1520.3 837.8L1531.5 854.6L1509.1 854.6Z" fill="#0072B2" stroke="#fff" stroke-width="0.5"/><path d="M1522.5 833.6L1533.7 850.4L1511.3 850.4Z" fill="#0072B2" stroke="#fff" stroke-width="0.5"/><path d="M1524.6 829.4L1535.8 846.2L1513.4 846.2Z" fill="#0072B2" stroke="#fff" stroke-width="0.5"/><path d="M1526.7 825.1L1537.9 841.9L1515.5 841.9Z" fill="#0072B2" stroke="#fff" stroke-width="0.5"/><path d="M1528.8 820.9L1540.0 837.7L1517.6 837.7Z" fill="#0072B2" stroke="#fff" stroke-width="0.5"/><path d="M1530.9 816.7L1542.1 833.5L1519.7 833.5Z" fill="#0072B2" stroke="#fff" stroke-width="0.5"/><path d="M1533.0 812.5L1544.2 829.3L1521.8 829.3Z" fill="#0072B2" stroke="#fff" stroke-width="0.5"/><path d="M1535.0 808.3L1546.2 825.1L1523.8 825.1Z" fill="#0072B2" stroke="#fff" stroke-width="0.5"/><path d="M1537.1 804.1L1548.3 820.9L1525.9 820.9Z" fill="#0072B2" stroke="#fff" stroke-width="0.5"/><path d="M1539.1 799.9L1550.3 816.7L1527.9 816.7Z" fill="#0072B2" stroke="#fff" stroke-width="0.5"/><path d="M1541.1 795.7L1552.3 812.5L1529.9 812.5Z" fill="#0072B2" stroke="#fff" stroke-width="0.5"/><path d="M1543.1 791.5L1554.3 808.3L1531.9 808.3Z" fill="#0072B2" stroke="#fff" stroke-width="0.5"/><path d="M1545.1 787.3L1556.3 804.1L1533.9 804.1Z" fill="#0072B2" stroke="#fff" stroke-width="0.5"/><path d="M1547.1 783.1L1558.3 799.9L1535.9 799.9Z" fill="#0072B2" stroke="#fff" stroke-width="0.5"/><path d="M1549.0 778.9L1560.2 795.7L1537.8 795.7Z" fill="#0072B2" stroke="#fff" stroke-width="0.5"/><path d="M1551.0 774.7L1562.2 791.5L1539.8 791.5Z" fill="#0072B2" stroke="#fff" stroke-width="0.5"/><path d="M1552.9 770.5L1564.1 787.3L1541.7 787.3Z" fill="#0072B2" stroke="#fff" stroke-width="0.5"/><path d="M1554.8 766.3L1566.0 783.1L1543.6 783.1Z" fill="#0072B2" stroke="#fff" stroke-width="0.5"/><path d="M1556.7 762.1L1567.9 778.9L1545.5 778.9Z" fill="#0072B2" stroke="#fff" stroke-width="0.5"/><path d="M1558.6 757.9L1569.8 774.7L1547.4 774.7Z" fill="#0072B2" stroke="#fff" stroke-width="0.5"/><path d="M1560.5 753.8L1571.7 770.6L1549.3 770.6Z" fill="#0072B2" stroke="#fff" stroke-width="0.5"/><path d="M1562.4 749.6L1573.6 766.4L1551.2 766.4Z" fill="#0072B2" stroke="#fff" stroke-width="0.5"/><path d="M1564.2 745.4L1575.4 762.2L1553.0 762.2Z" fill="#0072B2" stroke="#fff" stroke-width="0.5"/><path d="M1566.1 741.3L1577.3 758.1L1554.9 758.1Z" fill="#0072B2" stroke="#fff" stroke-width="0.5"/><path d="M1567.9 737.1L1579.1 753.9L1556.7 753.9Z" fill="#0072B2" stroke="#fff" stroke-width="0.5"/><path d="M1569.7 732.9L1580.9 749.7L1558.5 749.7Z" fill="#0072B2" stroke="#fff" stroke-width="0.5"/><path d="M1571.5 728.8L1582.7 745.6L1560.3 745.6Z" fill="#0072B2" stroke="#fff" stroke-width="0.5"/><path d="M1573.3 724.6L1584.5 741.4L1562.1 741.4Z" fill="#0072B2" stroke="#fff" stroke-width="0.5"/><path d="M1575.1 720.4L1586.3 737.2L1563.9 737.2Z" fill="#0072B2" stroke="#fff" stroke-width="0.5"/><path d="M1576.9 716.3L1588.1 733.1L1565.7 733.1Z" fill="#0072B2" stroke="#fff" stroke-width="0.5"/><path d="M1578.6 712.1L1589.8 728.9L1567.4 728.9Z" fill="#0072B2" stroke="#fff" stroke-width="0.5"/><path d="M1580.4 708.0L1591.6 724.8L1569.2 724.8Z" fill="#0072B2" stroke="#fff" stroke-width="0.5"/><path d="M1582.1 703.8L1593.3 720.6L1570.9 720.6Z" fill="#0072B2" stroke="#fff" stroke-width="0.5"/><path d="M1583.8 699.7L1595.0 716.5L1572.6 716.5Z" fill="#0072B2" stroke="#fff" stroke-width="0.5"/><path d="M1585.6 695.6L1596.8 712.4L1574.4 712.4Z" fill="#0072B2" stroke="#fff" stroke-width="0.5"/><path d="M1587.3 691.4L1598.5 708.2L1576.1 708.2Z" fill="#0072B2" stroke="#fff" stroke-width="0.5"/><path d="M1589.0 687.3L1600.2 704.1L1577.8 704.1Z" fill="#0072B2" stroke="#fff" stroke-width="0.5"/><path d="M1590.6 683.1L1601.8 699.9L1579.4 699.9Z" fill="#0072B2" stroke="#fff" stroke-width="0.5"/><path d="M1592.3 679.0L1603.5 695.8L1581.1 695.8Z" fill="#0072B2" stroke="#fff" stroke-width="0.5"/><path d="M1594.0 674.9L1605.2 691.7L1582.8 691.7Z" fill="#0072B2" stroke="#fff" stroke-width="0.5"/><path d="M1595.6 670.7L1606.8 687.5L1584.4 687.5Z" fill="#0072B2" stroke="#fff" stroke-width="0.5"/><path d="M1597.3 666.6L1608.5 683.4L1586.1 683.4Z" fill="#0072B2" stroke="#fff" stroke-width="0.5"/><path d="M1598.9 662.5L1610.1 679.3L1587.7 679.3Z" fill="#0072B2" stroke="#fff" stroke-width="0.5"/><path d="M1600.6 658.4L1611.8 675.2L1589.4 675.2Z" fill="#0072B2" stroke="#fff" stroke-width="0.5"/><path d="M1602.2 654.2L1613.4 671.0L1591.0 671.0Z" fill="#0072B2" stroke="#fff" stroke-width="0.5"/><path d="M1603.8 650.1L1615.0 666.9L1592.6 666.9Z" fill="#0072B2" stroke="#fff" stroke-width="0.5"/><path d="M1605.4 646.0L1616.6 662.8L1594.2 662.8Z" fill="#0072B2" stroke="#fff" stroke-width="0.5"/><path d="M1607.0 641.9L1618.2 658.7L1595.8 658.7Z" fill="#0072B2" stroke="#fff" stroke-width="0.5"/><path d="M1608.5 637.8L1619.7 654.6L1597.3 654.6Z" fill="#0072B2" stroke="#fff" stroke-width="0.5"/><path d="M1610.1 633.7L1621.3 650.5L1598.9 650.5Z" fill="#0072B2" stroke="#fff" stroke-width="0.5"/><path d="M1611.7 629.5L1622.9 646.3L1600.5 646.3Z" fill="#0072B2" stroke="#fff" stroke-width="0.5"/><path d="M1613.2 625.4L1624.4 642.2L1602.0 642.2Z" fill="#0072B2" stroke="#fff" stroke-width="0.5"/><path d="M1614.8 621.3L1626.0 638.1L1603.6 638.1Z" fill="#0072B2" stroke="#fff" stroke-width="0.5"/><path d="M1616.3 617.2L1627.5 634.0L1605.1 634.0Z" fill="#0072B2" stroke="#fff" stroke-width="0.5"/><path d="M1617.8 613.1L1629.0 629.9L1606.6 629.9Z" fill="#0072B2" stroke="#fff" stroke-width="0.5"/><path d="M1619.4 609.0L1630.6 625.8L1608.2 625.8Z" fill="#0072B2" stroke="#fff" stroke-width="0.5"/><path d="M1620.9 604.9L1632.1 621.7L1609.7 621.7Z" fill="#0072B2" stroke="#fff" stroke-width="0.5"/><path d="M1622.4 600.8L1633.6 617.6L1611.2 617.6Z" fill="#0072B2" stroke="#fff" stroke-width="0.5"/><path d="M1623.9 596.7L1635.1 613.5L1612.7 613.5Z" fill="#0072B2" stroke="#fff" stroke-width="0.5"/><path d="M1625.3 592.6L1636.5 609.4L1614.1 609.4Z" fill="#0072B2" stroke="#fff" stroke-width="0.5"/><path d="M1626.8 588.5L1638.0 605.3L1615.6 605.3Z" fill="#0072B2" stroke="#fff" stroke-width="0.5"/>
<path d="M145.1 1276.4L697.0 1369.1L783.1 1363.3L827.5 1357.4L860.5 1351.6L887.6 1345.9L910.9 1340.2L931.4 1334.6L949.9 1329.1L966.9 1323.7L982.5 1318.3L997.0 1312.9L1010.6 1307.6L1023.5 1302.4L1035.6 1297.2L1047.2 1292.0L1058.2 1286.8L1068.7 1281.7L1078.8 1276.6L1088.5 1271.6L1097.8 1266.5L1106.8 1261.5L1115.5 1256.5L1123.9 1251.6L1132.0 1246.6L1139.9 1241.7L1147.6 1236.8L1155.0 1231.9L1162.3 1227.0L1169.4 1222.2L1176.2 1217.4L1183.0 1212.6L1189.5 1207.8L1195.9 1203.0L1202.2 1198.2L1208.3 1193.5L1214.3 1188.7L1220.2 1184.0L1225.9 1179.3L1231.5 1174.6L1237.1 1169.9L1242.5 1165.2L1247.8 1160.5L1253.0 1155.9L1258.2 1151.2L1263.2 1146.6L1268.1 1142.0L1273.0 1137.4L1277.8 1132.8L1282.5 1128.2L1287.2 1123.6L1291.7 1119.0L1296.2 1114.5L1300.7 1109.9L1305.0 1105.4L1309.3 1100.8L1313.6 1096.3L1317.8 1091.8L1321.9 1087.2L1325.9 1082.7L1330.0 1078.2L1333.9 1073.7L1337.8 1069.3L1341.7 1064.8L1345.5 1060.3L1349.2 1055.8L1353.0 1051.4L1356.6 1046.9L1360.2 1042.5L1363.8 1038.1L1367.4 1033.6L1370.8 1029.2L1374.3 1024.8L1377.7 1020.4L1381.1 1016.0L1384.4 1011.5L1387.7 1007.1L1391.0 1002.8L1394.2 998.4L1397.4 994.0L1400.6 989.6L1403.7 985.2L1406.8 980.9L1409.9 976.5L1412.9 972.2L1415.9 967.8L1418.9 963.5L1421.9 959.1L1424.8 954.8L1427.7 950.5L1430.5 946.1L1433.4 941.8L1436.2 937.5L1439.0 933.2L1441.7 928.9L1444.5 924.6L1447.2 920.2L1449.8 916.0L1452.5 911.7L1455.1 907.4L1457.8 903.1L1460.3 898.8L1462.9 894.5L1465.5 890.2L1468.0 886.0L1470.5 881.7L1473.0 877.4L1475.4 873.2L1477.9 868.9L1480.3 864.7L1482.7 860.4L1485.1 856.2L1487.4 851.9L1489.8 847.7L1492.1 843.5L1494.4 839.2L1496.7 835.0L1499.0 830.8L1501.2 826.5L1503.5 822.3L1505.7 818.1L1507.9 813.9L1510.1 809.7L1512.3 805.5L1514.4 801.3L1516.6 797.1L1518.7 792.9L1520.8 788.7L1522.9 784.5L1525.0 780.3L1527.0 776.1L1529.1 771.9L1531.1 767.7L1533.1 763.5L1535.2 759.4L1537.1 755.2L1539.1 751.0L1541.1 746.8L1543.1 742.7L1545.0 738.5L1546.9 734.4L1548.8 730.2L1550.7 726.0L1552.6 721.9L1554.5 717.7L1556.4 713.6L1558.2 709.4L1560.1 705.3L1561.9 701.1L1563.7 697.0L1565.5 692.9L1567.3 688.7L1569.1 684.6L1570.9 680.4L1572.6 676.3L1574.4 672.2L1576.1 668.1L1577.8 663.9L1579.6 659.8L1581.3 655.7L1583.0 651.6L1584.7 647.5L1586.3 643.3L1588.0 639.2L1589.7 635.1L1591.3 631.0L1592.9 626.9L1594.6 622.8L1596.2 618.7L1597.8 614.6L1599.4 610.5L1601.0 606.4L1602.6 602.3L1604.2 598.2L1605.7 594.1L1607.3 590.0L1608.8 585.9L1610.4 581.8L1611.9 577.8L1613.4 573.7L1614.9 569.6L1616.4 565.5L1617.9 561.4L1619.4 557.4L1620.9 553.3L1622.4 549.2L1623.8 545.1L1625.3 541.1L1626.7 537.0L1628.2 532.9L1629.6 528.9L1631.0 524.8L1632.4 520.7L1633.9 516.7L1635.3 512.6L1636.7 508.5L1638.0 504.5L1639.4 500.4L1640.8 496.4L1642.2 492.3L1643.5 488.3L1644.9 484.2L1646.2 480.2L1647.6 476.1L1648.9 472.1L1650.2 468.0L1651.5 464.0L1652.8 460.0L1654.2 455.9L1655.5 451.9L1656.7 447.8L1658.0 443.8L1659.3 439.8L1660.6 435.7L1661.9 431.7L1663.1 427.7L1664.4 423.6L1665.6 419.6L1666.9 415.6L1668.1 411.6L1669.3 407.5L1670.6 403.5L1671.8 399.5L1673.0 395.5L1674.2 391.4L1675.4 387.4L1676.6 383.4L1677.8 379.4L1679.0 375.4L1680.2 371.4L1681.3 367.3L1682.5 363.3L1683.7 359.3L1684.8 355.3L1686.0 351.3L1687.1 347.3L1688.3 343.3L1689.4 339.3L1690.5 335.3L1691.7 331.3L1692.8 327.3L1693.9 323.3L1695.0 319.3L1696.1 315.3L1697.2 311.3L1698.3 307.3L1699.4 303.3L1700.5 299.3L1701.6 295.3L1702.7 291.3L1703.7 287.3L1704.8 283.3L1705.9 279.3L1706.9 275.3L1708.0 271.3L1709.0 267.3L1710.1 263.4L1711.1 259.4L1712.2 255.4L1713.2 251.4L1714.2 247.4L1715.3 243.4L1716.3 239.5L1717.3 235.5L1718.3 231.5L1719.3 227.5L1720.3 223.5L1721.3 219.6L1722.3 215.6L1723.3 211.6L1724.3 207.6L1725.3 203.7L1726.2 199.7L1727.2 195.7L1728.2 191.7L1729.1 187.8L1730.1 183.8L1731.1 179.8L1732.0 175.9L1733.0 171.9L1733.9 167.9L1734.9 164.0L1735.8 160.0L1736.7 156.0L1737.7 152.1L1738.6 148.1L1739.5 144.1L1740.4 140.2L1741.3 136.2L1742.3 132.3L1743.2 128.3L1744.1 124.3L1745.0 120.4L1745.9 116.4L1746.8 112.5L1747.7 108.5L1748.5 104.6L1749.4 100.6L1750.3 96.7L1751.2 92.7" fill="none" stroke="#E6200F" stroke-width="2.7" stroke-linejoin="round" clip-path="url(#cc)"/><path d="M132.9 1276.4H157.3M145.1 1264.2V1288.6M132.9 1264.2L157.3 1288.6M132.9 1288.6L157.3 1264.2" stroke="#E6200F" stroke-width="3.1" stroke-linecap="round" fill="none"/><path d="M684.8 1369.1H709.2M697.0 1356.9V1381.3M684.8 1356.9L709.2 1381.3M684.8 1381.3L709.2 1356.9" stroke="#E6200F" stroke-width="3.1" stroke-linecap="round" fill="none"/><path d="M770.9 1363.3H795.3M783.1 1351.1V1375.5M770.9 1351.1L795.3 1375.5M770.9 1375.5L795.3 1351.1" stroke="#E6200F" stroke-width="3.1" stroke-linecap="round" fill="none"/><path d="M815.3 1357.4H839.7M827.5 1345.2V1369.6M815.3 1345.2L839.7 1369.6M815.3 1369.6L839.7 1345.2" stroke="#E6200F" stroke-width="3.1" stroke-linecap="round" fill="none"/><path d="M848.3 1351.6H872.7M860.5 1339.4V1363.8M848.3 1339.4L872.7 1363.8M848.3 1363.8L872.7 1339.4" stroke="#E6200F" stroke-width="3.1" stroke-linecap="round" fill="none"/><path d="M875.4 1345.9H899.8M887.6 1333.7V1358.1M875.4 1333.7L899.8 1358.1M875.4 1358.1L899.8 1333.7" stroke="#E6200F" stroke-width="3.1" stroke-linecap="round" fill="none"/><path d="M898.7 1340.2H923.1M910.9 1328.0V1352.4M898.7 1328.0L923.1 1352.4M898.7 1352.4L923.1 1328.0" stroke="#E6200F" stroke-width="3.1" stroke-linecap="round" fill="none"/><path d="M919.2 1334.6H943.6M931.4 1322.4V1346.8M919.2 1322.4L943.6 1346.8M919.2 1346.8L943.6 1322.4" stroke="#E6200F" stroke-width="3.1" stroke-linecap="round" fill="none"/><path d="M937.7 1329.1H962.1M949.9 1316.9V1341.3M937.7 1316.9L962.1 1341.3M937.7 1341.3L962.1 1316.9" stroke="#E6200F" stroke-width="3.1" stroke-linecap="round" fill="none"/><path d="M954.7 1323.7H979.1M966.9 1311.5V1335.9M954.7 1311.5L979.1 1335.9M954.7 1335.9L979.1 1311.5" stroke="#E6200F" stroke-width="3.1" stroke-linecap="round" fill="none"/><path d="M970.3 1318.3H994.7M982.5 1306.1V1330.5M970.3 1306.1L994.7 1330.5M970.3 1330.5L994.7 1306.1" stroke="#E6200F" stroke-width="3.1" stroke-linecap="round" fill="none"/><path d="M984.8 1312.9H1009.2M997.0 1300.7V1325.1M984.8 1300.7L1009.2 1325.1M984.8 1325.1L1009.2 1300.7" stroke="#E6200F" stroke-width="3.1" stroke-linecap="round" fill="none"/><path d="M998.4 1307.6H1022.8M1010.6 1295.4V1319.8M998.4 1295.4L1022.8 1319.8M998.4 1319.8L1022.8 1295.4" stroke="#E6200F" stroke-width="3.1" stroke-linecap="round" fill="none"/><path d="M1011.3 1302.4H1035.7M1023.5 1290.2V1314.6M1011.3 1290.2L1035.7 1314.6M1011.3 1314.6L1035.7 1290.2" stroke="#E6200F" stroke-width="3.1" stroke-linecap="round" fill="none"/><path d="M1023.4 1297.2H1047.8M1035.6 1285.0V1309.4M1023.4 1285.0L1047.8 1309.4M1023.4 1309.4L1047.8 1285.0" stroke="#E6200F" stroke-width="3.1" stroke-linecap="round" fill="none"/><path d="M1035.0 1292.0H1059.4M1047.2 1279.8V1304.2M1035.0 1279.8L1059.4 1304.2M1035.0 1304.2L1059.4 1279.8" stroke="#E6200F" stroke-width="3.1" stroke-linecap="round" fill="none"/><path d="M1046.0 1286.8H1070.4M1058.2 1274.6V1299.0M1046.0 1274.6L1070.4 1299.0M1046.0 1299.0L1070.4 1274.6" stroke="#E6200F" stroke-width="3.1" stroke-linecap="round" fill="none"/><path d="M1056.5 1281.7H1080.9M1068.7 1269.5V1293.9M1056.5 1269.5L1080.9 1293.9M1056.5 1293.9L1080.9 1269.5" stroke="#E6200F" stroke-width="3.1" stroke-linecap="round" fill="none"/><path d="M1066.6 1276.6H1091.0M1078.8 1264.4V1288.8M1066.6 1264.4L1091.0 1288.8M1066.6 1288.8L1091.0 1264.4" stroke="#E6200F" stroke-width="3.1" stroke-linecap="round" fill="none"/><path d="M1076.3 1271.6H1100.7M1088.5 1259.4V1283.8M1076.3 1259.4L1100.7 1283.8M1076.3 1283.8L1100.7 1259.4" stroke="#E6200F" stroke-width="3.1" stroke-linecap="round" fill="none"/><path d="M1085.6 1266.5H1110.0M1097.8 1254.3V1278.7M1085.6 1254.3L1110.0 1278.7M1085.6 1278.7L1110.0 1254.3" stroke="#E6200F" stroke-width="3.1" stroke-linecap="round" fill="none"/><path d="M1094.6 1261.5H1119.0M1106.8 1249.3V1273.7M1094.6 1249.3L1119.0 1273.7M1094.6 1273.7L1119.0 1249.3" stroke="#E6200F" stroke-width="3.1" stroke-linecap="round" fill="none"/><path d="M1103.3 1256.5H1127.7M1115.5 1244.3V1268.7M1103.3 1244.3L1127.7 1268.7M1103.3 1268.7L1127.7 1244.3" stroke="#E6200F" stroke-width="3.1" stroke-linecap="round" fill="none"/><path d="M1111.7 1251.6H1136.1M1123.9 1239.4V1263.8M1111.7 1239.4L1136.1 1263.8M1111.7 1263.8L1136.1 1239.4" stroke="#E6200F" stroke-width="3.1" stroke-linecap="round" fill="none"/><path d="M1119.8 1246.6H1144.2M1132.0 1234.4V1258.8M1119.8 1234.4L1144.2 1258.8M1119.8 1258.8L1144.2 1234.4" stroke="#E6200F" stroke-width="3.1" stroke-linecap="round" fill="none"/><path d="M1127.7 1241.7H1152.1M1139.9 1229.5V1253.9M1127.7 1229.5L1152.1 1253.9M1127.7 1253.9L1152.1 1229.5" stroke="#E6200F" stroke-width="3.1" stroke-linecap="round" fill="none"/><path d="M1135.4 1236.8H1159.8M1147.6 1224.6V1249.0M1135.4 1224.6L1159.8 1249.0M1135.4 1249.0L1159.8 1224.6" stroke="#E6200F" stroke-width="3.1" stroke-linecap="round" fill="none"/><path d="M1142.8 1231.9H1167.2M1155.0 1219.7V1244.1M1142.8 1219.7L1167.2 1244.1M1142.8 1244.1L1167.2 1219.7" stroke="#E6200F" stroke-width="3.1" stroke-linecap="round" fill="none"/><path d="M1150.1 1227.0H1174.5M1162.3 1214.8V1239.2M1150.1 1214.8L1174.5 1239.2M1150.1 1239.2L1174.5 1214.8" stroke="#E6200F" stroke-width="3.1" stroke-linecap="round" fill="none"/><path d="M1157.2 1222.2H1181.6M1169.4 1210.0V1234.4M1157.2 1210.0L1181.6 1234.4M1157.2 1234.4L1181.6 1210.0" stroke="#E6200F" stroke-width="3.1" stroke-linecap="round" fill="none"/><path d="M1164.0 1217.4H1188.4M1176.2 1205.2V1229.6M1164.0 1205.2L1188.4 1229.6M1164.0 1229.6L1188.4 1205.2" stroke="#E6200F" stroke-width="3.1" stroke-linecap="round" fill="none"/><path d="M1170.8 1212.6H1195.2M1183.0 1200.4V1224.8M1170.8 1200.4L1195.2 1224.8M1170.8 1224.8L1195.2 1200.4" stroke="#E6200F" stroke-width="3.1" stroke-linecap="round" fill="none"/><path d="M1177.3 1207.8H1201.7M1189.5 1195.6V1220.0M1177.3 1195.6L1201.7 1220.0M1177.3 1220.0L1201.7 1195.6" stroke="#E6200F" stroke-width="3.1" stroke-linecap="round" fill="none"/><path d="M1183.7 1203.0H1208.1M1195.9 1190.8V1215.2M1183.7 1190.8L1208.1 1215.2M1183.7 1215.2L1208.1 1190.8" stroke="#E6200F" stroke-width="3.1" stroke-linecap="round" fill="none"/><path d="M1190.0 1198.2H1214.4M1202.2 1186.0V1210.4M1190.0 1186.0L1214.4 1210.4M1190.0 1210.4L1214.4 1186.0" stroke="#E6200F" stroke-width="3.1" stroke-linecap="round" fill="none"/><path d="M1196.1 1193.5H1220.5M1208.3 1181.3V1205.7M1196.1 1181.3L1220.5 1205.7M1196.1 1205.7L1220.5 1181.3" stroke="#E6200F" stroke-width="3.1" stroke-linecap="round" fill="none"/><path d="M1202.1 1188.7H1226.5M1214.3 1176.5V1200.9M1202.1 1176.5L1226.5 1200.9M1202.1 1200.9L1226.5 1176.5" stroke="#E6200F" stroke-width="3.1" stroke-linecap="round" fill="none"/><path d="M1208.0 1184.0H1232.4M1220.2 1171.8V1196.2M1208.0 1171.8L1232.4 1196.2M1208.0 1196.2L1232.4 1171.8" stroke="#E6200F" stroke-width="3.1" stroke-linecap="round" fill="none"/><path d="M1213.7 1179.3H1238.1M1225.9 1167.1V1191.5M1213.7 1167.1L1238.1 1191.5M1213.7 1191.5L1238.1 1167.1" stroke="#E6200F" stroke-width="3.1" stroke-linecap="round" fill="none"/><path d="M1219.3 1174.6H1243.7M1231.5 1162.4V1186.8M1219.3 1162.4L1243.7 1186.8M1219.3 1186.8L1243.7 1162.4" stroke="#E6200F" stroke-width="3.1" stroke-linecap="round" fill="none"/><path d="M1224.9 1169.9H1249.3M1237.1 1157.7V1182.1M1224.9 1157.7L1249.3 1182.1M1224.9 1182.1L1249.3 1157.7" stroke="#E6200F" stroke-width="3.1" stroke-linecap="round" fill="none"/><path d="M1230.3 1165.2H1254.7M1242.5 1153.0V1177.4M1230.3 1153.0L1254.7 1177.4M1230.3 1177.4L1254.7 1153.0" stroke="#E6200F" stroke-width="3.1" stroke-linecap="round" fill="none"/><path d="M1235.6 1160.5H1260.0M1247.8 1148.3V1172.7M1235.6 1148.3L1260.0 1172.7M1235.6 1172.7L1260.0 1148.3" stroke="#E6200F" stroke-width="3.1" stroke-linecap="round" fill="none"/><path d="M1240.8 1155.9H1265.2M1253.0 1143.7V1168.1M1240.8 1143.7L1265.2 1168.1M1240.8 1168.1L1265.2 1143.7" stroke="#E6200F" stroke-width="3.1" stroke-linecap="round" fill="none"/><path d="M1246.0 1151.2H1270.4M1258.2 1139.0V1163.4M1246.0 1139.0L1270.4 1163.4M1246.0 1163.4L1270.4 1139.0" stroke="#E6200F" stroke-width="3.1" stroke-linecap="round" fill="none"/><path d="M1251.0 1146.6H1275.4M1263.2 1134.4V1158.8M1251.0 1134.4L1275.4 1158.8M1251.0 1158.8L1275.4 1134.4" stroke="#E6200F" stroke-width="3.1" stroke-linecap="round" fill="none"/><path d="M1255.9 1142.0H1280.3M1268.1 1129.8V1154.2M1255.9 1129.8L1280.3 1154.2M1255.9 1154.2L1280.3 1129.8" stroke="#E6200F" stroke-width="3.1" stroke-linecap="round" fill="none"/><path d="M1260.8 1137.4H1285.2M1273.0 1125.2V1149.6M1260.8 1125.2L1285.2 1149.6M1260.8 1149.6L1285.2 1125.2" stroke="#E6200F" stroke-width="3.1" stroke-linecap="round" fill="none"/><path d="M1265.6 1132.8H1290.0M1277.8 1120.6V1145.0M1265.6 1120.6L1290.0 1145.0M1265.6 1145.0L1290.0 1120.6" stroke="#E6200F" stroke-width="3.1" stroke-linecap="round" fill="none"/><path d="M1270.3 1128.2H1294.7M1282.5 1116.0V1140.4M1270.3 1116.0L1294.7 1140.4M1270.3 1140.4L1294.7 1116.0" stroke="#E6200F" stroke-width="3.1" stroke-linecap="round" fill="none"/><path d="M1275.0 1123.6H1299.4M1287.2 1111.4V1135.8M1275.0 1111.4L1299.4 1135.8M1275.0 1135.8L1299.4 1111.4" stroke="#E6200F" stroke-width="3.1" stroke-linecap="round" fill="none"/><path d="M1279.5 1119.0H1303.9M1291.7 1106.8V1131.2M1279.5 1106.8L1303.9 1131.2M1279.5 1131.2L1303.9 1106.8" stroke="#E6200F" stroke-width="3.1" stroke-linecap="round" fill="none"/><path d="M1284.0 1114.5H1308.4M1296.2 1102.3V1126.7M1284.0 1102.3L1308.4 1126.7M1284.0 1126.7L1308.4 1102.3" stroke="#E6200F" stroke-width="3.1" stroke-linecap="round" fill="none"/><path d="M1288.5 1109.9H1312.9M1300.7 1097.7V1122.1M1288.5 1097.7L1312.9 1122.1M1288.5 1122.1L1312.9 1097.7" stroke="#E6200F" stroke-width="3.1" stroke-linecap="round" fill="none"/><path d="M1292.8 1105.4H1317.2M1305.0 1093.2V1117.6M1292.8 1093.2L1317.2 1117.6M1292.8 1117.6L1317.2 1093.2" stroke="#E6200F" stroke-width="3.1" stroke-linecap="round" fill="none"/><path d="M1297.1 1100.8H1321.5M1309.3 1088.6V1113.0M1297.1 1088.6L1321.5 1113.0M1297.1 1113.0L1321.5 1088.6" stroke="#E6200F" stroke-width="3.1" stroke-linecap="round" fill="none"/><path d="M1301.4 1096.3H1325.8M1313.6 1084.1V1108.5M1301.4 1084.1L1325.8 1108.5M1301.4 1108.5L1325.8 1084.1" stroke="#E6200F" stroke-width="3.1" stroke-linecap="round" fill="none"/><path d="M1305.6 1091.8H1330.0M1317.8 1079.6V1104.0M1305.6 1079.6L1330.0 1104.0M1305.6 1104.0L1330.0 1079.6" stroke="#E6200F" stroke-width="3.1" stroke-linecap="round" fill="none"/><path d="M1309.7 1087.2H1334.1M1321.9 1075.0V1099.4M1309.7 1075.0L1334.1 1099.4M1309.7 1099.4L1334.1 1075.0" stroke="#E6200F" stroke-width="3.1" stroke-linecap="round" fill="none"/><path d="M1313.7 1082.7H1338.1M1325.9 1070.5V1094.9M1313.7 1070.5L1338.1 1094.9M1313.7 1094.9L1338.1 1070.5" stroke="#E6200F" stroke-width="3.1" stroke-linecap="round" fill="none"/><path d="M1317.8 1078.2H1342.2M1330.0 1066.0V1090.4M1317.8 1066.0L1342.2 1090.4M1317.8 1090.4L1342.2 1066.0" stroke="#E6200F" stroke-width="3.1" stroke-linecap="round" fill="none"/><path d="M1321.7 1073.7H1346.1M1333.9 1061.5V1085.9M1321.7 1061.5L1346.1 1085.9M1321.7 1085.9L1346.1 1061.5" stroke="#E6200F" stroke-width="3.1" stroke-linecap="round" fill="none"/><path d="M1325.6 1069.3H1350.0M1337.8 1057.1V1081.5M1325.6 1057.1L1350.0 1081.5M1325.6 1081.5L1350.0 1057.1" stroke="#E6200F" stroke-width="3.1" stroke-linecap="round" fill="none"/><path d="M1329.5 1064.8H1353.9M1341.7 1052.6V1077.0M1329.5 1052.6L1353.9 1077.0M1329.5 1077.0L1353.9 1052.6" stroke="#E6200F" stroke-width="3.1" stroke-linecap="round" fill="none"/><path d="M1333.3 1060.3H1357.7M1345.5 1048.1V1072.5M1333.3 1048.1L1357.7 1072.5M1333.3 1072.5L1357.7 1048.1" stroke="#E6200F" stroke-width="3.1" stroke-linecap="round" fill="none"/><path d="M1337.0 1055.8H1361.4M1349.2 1043.6V1068.0M1337.0 1043.6L1361.4 1068.0M1337.0 1068.0L1361.4 1043.6" stroke="#E6200F" stroke-width="3.1" stroke-linecap="round" fill="none"/><path d="M1340.8 1051.4H1365.2M1353.0 1039.2V1063.6M1340.8 1039.2L1365.2 1063.6M1340.8 1063.6L1365.2 1039.2" stroke="#E6200F" stroke-width="3.1" stroke-linecap="round" fill="none"/><path d="M1344.4 1046.9H1368.8M1356.6 1034.7V1059.1M1344.4 1034.7L1368.8 1059.1M1344.4 1059.1L1368.8 1034.7" stroke="#E6200F" stroke-width="3.1" stroke-linecap="round" fill="none"/><path d="M1348.0 1042.5H1372.4M1360.2 1030.3V1054.7M1348.0 1030.3L1372.4 1054.7M1348.0 1054.7L1372.4 1030.3" stroke="#E6200F" stroke-width="3.1" stroke-linecap="round" fill="none"/><path d="M1351.6 1038.1H1376.0M1363.8 1025.9V1050.3M1351.6 1025.9L1376.0 1050.3M1351.6 1050.3L1376.0 1025.9" stroke="#E6200F" stroke-width="3.1" stroke-linecap="round" fill="none"/><path d="M1355.2 1033.6H1379.6M1367.4 1021.4V1045.8M1355.2 1021.4L1379.6 1045.8M1355.2 1045.8L1379.6 1021.4" stroke="#E6200F" stroke-width="3.1" stroke-linecap="round" fill="none"/><path d="M1358.6 1029.2H1383.0M1370.8 1017.0V1041.4M1358.6 1017.0L1383.0 1041.4M1358.6 1041.4L1383.0 1017.0" stroke="#E6200F" stroke-width="3.1" stroke-linecap="round" fill="none"/><path d="M1362.1 1024.8H1386.5M1374.3 1012.6V1037.0M1362.1 1012.6L1386.5 1037.0M1362.1 1037.0L1386.5 1012.6" stroke="#E6200F" stroke-width="3.1" stroke-linecap="round" fill="none"/><path d="M1365.5 1020.4H1389.9M1377.7 1008.2V1032.6M1365.5 1008.2L1389.9 1032.6M1365.5 1032.6L1389.9 1008.2" stroke="#E6200F" stroke-width="3.1" stroke-linecap="round" fill="none"/><path d="M1368.9 1016.0H1393.3M1381.1 1003.8V1028.2M1368.9 1003.8L1393.3 1028.2M1368.9 1028.2L1393.3 1003.8" stroke="#E6200F" stroke-width="3.1" stroke-linecap="round" fill="none"/><path d="M1372.2 1011.5H1396.6M1384.4 999.3V1023.7M1372.2 999.3L1396.6 1023.7M1372.2 1023.7L1396.6 999.3" stroke="#E6200F" stroke-width="3.1" stroke-linecap="round" fill="none"/><path d="M1375.5 1007.1H1399.9M1387.7 994.9V1019.3M1375.5 994.9L1399.9 1019.3M1375.5 1019.3L1399.9 994.9" stroke="#E6200F" stroke-width="3.1" stroke-linecap="round" fill="none"/><path d="M1378.8 1002.8H1403.2M1391.0 990.6V1015.0M1378.8 990.6L1403.2 1015.0M1378.8 1015.0L1403.2 990.6" stroke="#E6200F" stroke-width="3.1" stroke-linecap="round" fill="none"/><path d="M1382.0 998.4H1406.4M1394.2 986.2V1010.6M1382.0 986.2L1406.4 1010.6M1382.0 1010.6L1406.4 986.2" stroke="#E6200F" stroke-width="3.1" stroke-linecap="round" fill="none"/><path d="M1385.2 994.0H1409.6M1397.4 981.8V1006.2M1385.2 981.8L1409.6 1006.2M1385.2 1006.2L1409.6 981.8" stroke="#E6200F" stroke-width="3.1" stroke-linecap="round" fill="none"/><path d="M1388.4 989.6H1412.8M1400.6 977.4V1001.8M1388.4 977.4L1412.8 1001.8M1388.4 1001.8L1412.8 977.4" stroke="#E6200F" stroke-width="3.1" stroke-linecap="round" fill="none"/><path d="M1391.5 985.2H1415.9M1403.7 973.0V997.4M1391.5 973.0L1415.9 997.4M1391.5 997.4L1415.9 973.0" stroke="#E6200F" stroke-width="3.1" stroke-linecap="round" fill="none"/><path d="M1394.6 980.9H1419.0M1406.8 968.7V993.1M1394.6 968.7L1419.0 993.1M1394.6 993.1L1419.0 968.7" stroke="#E6200F" stroke-width="3.1" stroke-linecap="round" fill="none"/><path d="M1397.7 976.5H1422.1M1409.9 964.3V988.7M1397.7 964.3L1422.1 988.7M1397.7 988.7L1422.1 964.3" stroke="#E6200F" stroke-width="3.1" stroke-linecap="round" fill="none"/><path d="M1400.7 972.2H1425.1M1412.9 960.0V984.4M1400.7 960.0L1425.1 984.4M1400.7 984.4L1425.1 960.0" stroke="#E6200F" stroke-width="3.1" stroke-linecap="round" fill="none"/><path d="M1403.7 967.8H1428.1M1415.9 955.6V980.0M1403.7 955.6L1428.1 980.0M1403.7 980.0L1428.1 955.6" stroke="#E6200F" stroke-width="3.1" stroke-linecap="round" fill="none"/><path d="M1406.7 963.5H1431.1M1418.9 951.3V975.7M1406.7 951.3L1431.1 975.7M1406.7 975.7L1431.1 951.3" stroke="#E6200F" stroke-width="3.1" stroke-linecap="round" fill="none"/><path d="M1409.7 959.1H1434.1M1421.9 946.9V971.3M1409.7 946.9L1434.1 971.3M1409.7 971.3L1434.1 946.9" stroke="#E6200F" stroke-width="3.1" stroke-linecap="round" fill="none"/><path d="M1412.6 954.8H1437.0M1424.8 942.6V967.0M1412.6 942.6L1437.0 967.0M1412.6 967.0L1437.0 942.6" stroke="#E6200F" stroke-width="3.1" stroke-linecap="round" fill="none"/><path d="M1415.5 950.5H1439.9M1427.7 938.3V962.7M1415.5 938.3L1439.9 962.7M1415.5 962.7L1439.9 938.3" stroke="#E6200F" stroke-width="3.1" stroke-linecap="round" fill="none"/><path d="M1418.3 946.1H1442.7M1430.5 933.9V958.3M1418.3 933.9L1442.7 958.3M1418.3 958.3L1442.7 933.9" stroke="#E6200F" stroke-width="3.1" stroke-linecap="round" fill="none"/><path d="M1421.2 941.8H1445.6M1433.4 929.6V954.0M1421.2 929.6L1445.6 954.0M1421.2 954.0L1445.6 929.6" stroke="#E6200F" stroke-width="3.1" stroke-linecap="round" fill="none"/><path d="M1424.0 937.5H1448.4M1436.2 925.3V949.7M1424.0 925.3L1448.4 949.7M1424.0 949.7L1448.4 925.3" stroke="#E6200F" stroke-width="3.1" stroke-linecap="round" fill="none"/><path d="M1426.8 933.2H1451.2M1439.0 921.0V945.4M1426.8 921.0L1451.2 945.4M1426.8 945.4L1451.2 921.0" stroke="#E6200F" stroke-width="3.1" stroke-linecap="round" fill="none"/><path d="M1429.5 928.9H1453.9M1441.7 916.7V941.1M1429.5 916.7L1453.9 941.1M1429.5 941.1L1453.9 916.7" stroke="#E6200F" stroke-width="3.1" stroke-linecap="round" fill="none"/><path d="M1432.3 924.6H1456.7M1444.5 912.4V936.8M1432.3 912.4L1456.7 936.8M1432.3 936.8L1456.7 912.4" stroke="#E6200F" stroke-width="3.1" stroke-linecap="round" fill="none"/><path d="M1435.0 920.2H1459.4M1447.2 908.0V932.4M1435.0 908.0L1459.4 932.4M1435.0 932.4L1459.4 908.0" stroke="#E6200F" stroke-width="3.1" stroke-linecap="round" fill="none"/><path d="M1437.6 916.0H1462.0M1449.8 903.8V928.2M1437.6 903.8L1462.0 928.2M1437.6 928.2L1462.0 903.8" stroke="#E6200F" stroke-width="3.1" stroke-linecap="round" fill="none"/><path d="M1440.3 911.7H1464.7M1452.5 899.5V923.9M1440.3 899.5L1464.7 923.9M1440.3 923.9L1464.7 899.5" stroke="#E6200F" stroke-width="3.1" stroke-linecap="round" fill="none"/><path d="M1442.9 907.4H1467.3M1455.1 895.2V919.6M1442.9 895.2L1467.3 919.6M1442.9 919.6L1467.3 895.2" stroke="#E6200F" stroke-width="3.1" stroke-linecap="round" fill="none"/><path d="M1445.6 903.1H1470.0M1457.8 890.9V915.3M1445.6 890.9L1470.0 915.3M1445.6 915.3L1470.0 890.9" stroke="#E6200F" stroke-width="3.1" stroke-linecap="round" fill="none"/><path d="M1448.1 898.8H1472.5M1460.3 886.6V911.0M1448.1 886.6L1472.5 911.0M1448.1 911.0L1472.5 886.6" stroke="#E6200F" stroke-width="3.1" stroke-linecap="round" fill="none"/><path d="M1450.7 894.5H1475.1M1462.9 882.3V906.7M1450.7 882.3L1475.1 906.7M1450.7 906.7L1475.1 882.3" stroke="#E6200F" stroke-width="3.1" stroke-linecap="round" fill="none"/><path d="M1453.3 890.2H1477.7M1465.5 878.0V902.4M1453.3 878.0L1477.7 902.4M1453.3 902.4L1477.7 878.0" stroke="#E6200F" stroke-width="3.1" stroke-linecap="round" fill="none"/><path d="M1455.8 886.0H1480.2M1468.0 873.8V898.2M1455.8 873.8L1480.2 898.2M1455.8 898.2L1480.2 873.8" stroke="#E6200F" stroke-width="3.1" stroke-linecap="round" fill="none"/><path d="M1458.3 881.7H1482.7M1470.5 869.5V893.9M1458.3 869.5L1482.7 893.9M1458.3 893.9L1482.7 869.5" stroke="#E6200F" stroke-width="3.1" stroke-linecap="round" fill="none"/><path d="M1460.8 877.4H1485.2M1473.0 865.2V889.6M1460.8 865.2L1485.2 889.6M1460.8 889.6L1485.2 865.2" stroke="#E6200F" stroke-width="3.1" stroke-linecap="round" fill="none"/><path d="M1463.2 873.2H1487.6M1475.4 861.0V885.4M1463.2 861.0L1487.6 885.4M1463.2 885.4L1487.6 861.0" stroke="#E6200F" stroke-width="3.1" stroke-linecap="round" fill="none"/><path d="M1465.7 868.9H1490.1M1477.9 856.7V881.1M1465.7 856.7L1490.1 881.1M1465.7 881.1L1490.1 856.7" stroke="#E6200F" stroke-width="3.1" stroke-linecap="round" fill="none"/><path d="M1468.1 864.7H1492.5M1480.3 852.5V876.9M1468.1 852.5L1492.5 876.9M1468.1 876.9L1492.5 852.5" stroke="#E6200F" stroke-width="3.1" stroke-linecap="round" fill="none"/><path d="M1470.5 860.4H1494.9M1482.7 848.2V872.6M1470.5 848.2L1494.9 872.6M1470.5 872.6L1494.9 848.2" stroke="#E6200F" stroke-width="3.1" stroke-linecap="round" fill="none"/><path d="M1472.9 856.2H1497.3M1485.1 844.0V868.4M1472.9 844.0L1497.3 868.4M1472.9 868.4L1497.3 844.0" stroke="#E6200F" stroke-width="3.1" stroke-linecap="round" fill="none"/><path d="M1475.2 851.9H1499.6M1487.4 839.7V864.1M1475.2 839.7L1499.6 864.1M1475.2 864.1L1499.6 839.7" stroke="#E6200F" stroke-width="3.1" stroke-linecap="round" fill="none"/><path d="M1477.6 847.7H1502.0M1489.8 835.5V859.9M1477.6 835.5L1502.0 859.9M1477.6 859.9L1502.0 835.5" stroke="#E6200F" stroke-width="3.1" stroke-linecap="round" fill="none"/><path d="M1479.9 843.5H1504.3M1492.1 831.3V855.7M1479.9 831.3L1504.3 855.7M1479.9 855.7L1504.3 831.3" stroke="#E6200F" stroke-width="3.1" stroke-linecap="round" fill="none"/><path d="M1482.2 839.2H1506.6M1494.4 827.0V851.4M1482.2 827.0L1506.6 851.4M1482.2 851.4L1506.6 827.0" stroke="#E6200F" stroke-width="3.1" stroke-linecap="round" fill="none"/><path d="M1484.5 835.0H1508.9M1496.7 822.8V847.2M1484.5 822.8L1508.9 847.2M1484.5 847.2L1508.9 822.8" stroke="#E6200F" stroke-width="3.1" stroke-linecap="round" fill="none"/><path d="M1486.8 830.8H1511.2M1499.0 818.6V843.0M1486.8 818.6L1511.2 843.0M1486.8 843.0L1511.2 818.6" stroke="#E6200F" stroke-width="3.1" stroke-linecap="round" fill="none"/><path d="M1489.0 826.5H1513.4M1501.2 814.3V838.7M1489.0 814.3L1513.4 838.7M1489.0 838.7L1513.4 814.3" stroke="#E6200F" stroke-width="3.1" stroke-linecap="round" fill="none"/><path d="M1491.3 822.3H1515.7M1503.5 810.1V834.5M1491.3 810.1L1515.7 834.5M1491.3 834.5L1515.7 810.1" stroke="#E6200F" stroke-width="3.1" stroke-linecap="round" fill="none"/><path d="M1493.5 818.1H1517.9M1505.7 805.9V830.3M1493.5 805.9L1517.9 830.3M1493.5 830.3L1517.9 805.9" stroke="#E6200F" stroke-width="3.1" stroke-linecap="round" fill="none"/><path d="M1495.7 813.9H1520.1M1507.9 801.7V826.1M1495.7 801.7L1520.1 826.1M1495.7 826.1L1520.1 801.7" stroke="#E6200F" stroke-width="3.1" stroke-linecap="round" fill="none"/><path d="M1497.9 809.7H1522.3M1510.1 797.5V821.9M1497.9 797.5L1522.3 821.9M1497.9 821.9L1522.3 797.5" stroke="#E6200F" stroke-width="3.1" stroke-linecap="round" fill="none"/><path d="M1500.1 805.5H1524.5M1512.3 793.3V817.7M1500.1 793.3L1524.5 817.7M1500.1 817.7L1524.5 793.3" stroke="#E6200F" stroke-width="3.1" stroke-linecap="round" fill="none"/><path d="M1502.2 801.3H1526.6M1514.4 789.1V813.5M1502.2 789.1L1526.6 813.5M1502.2 813.5L1526.6 789.1" stroke="#E6200F" stroke-width="3.1" stroke-linecap="round" fill="none"/><path d="M1504.4 797.1H1528.8M1516.6 784.9V809.3M1504.4 784.9L1528.8 809.3M1504.4 809.3L1528.8 784.9" stroke="#E6200F" stroke-width="3.1" stroke-linecap="round" fill="none"/><path d="M1506.5 792.9H1530.9M1518.7 780.7V805.1M1506.5 780.7L1530.9 805.1M1506.5 805.1L1530.9 780.7" stroke="#E6200F" stroke-width="3.1" stroke-linecap="round" fill="none"/><path d="M1508.6 788.7H1533.0M1520.8 776.5V800.9M1508.6 776.5L1533.0 800.9M1508.6 800.9L1533.0 776.5" stroke="#E6200F" stroke-width="3.1" stroke-linecap="round" fill="none"/><path d="M1510.7 784.5H1535.1M1522.9 772.3V796.7M1510.7 772.3L1535.1 796.7M1510.7 796.7L1535.1 772.3" stroke="#E6200F" stroke-width="3.1" stroke-linecap="round" fill="none"/><path d="M1512.8 780.3H1537.2M1525.0 768.1V792.5M1512.8 768.1L1537.2 792.5M1512.8 792.5L1537.2 768.1" stroke="#E6200F" stroke-width="3.1" stroke-linecap="round" fill="none"/><path d="M1514.8 776.1H1539.2M1527.0 763.9V788.3M1514.8 763.9L1539.2 788.3M1514.8 788.3L1539.2 763.9" stroke="#E6200F" stroke-width="3.1" stroke-linecap="round" fill="none"/><path d="M1516.9 771.9H1541.3M1529.1 759.7V784.1M1516.9 759.7L1541.3 784.1M1516.9 784.1L1541.3 759.7" stroke="#E6200F" stroke-width="3.1" stroke-linecap="round" fill="none"/><path d="M1518.9 767.7H1543.3M1531.1 755.5V779.9M1518.9 755.5L1543.3 779.9M1518.9 779.9L1543.3 755.5" stroke="#E6200F" stroke-width="3.1" stroke-linecap="round" fill="none"/><path d="M1520.9 763.5H1545.3M1533.1 751.3V775.7M1520.9 751.3L1545.3 775.7M1520.9 775.7L1545.3 751.3" stroke="#E6200F" stroke-width="3.1" stroke-linecap="round" fill="none"/><path d="M1523.0 759.4H1547.4M1535.2 747.2V771.6M1523.0 747.2L1547.4 771.6M1523.0 771.6L1547.4 747.2" stroke="#E6200F" stroke-width="3.1" stroke-linecap="round" fill="none"/><path d="M1524.9 755.2H1549.3M1537.1 743.0V767.4M1524.9 743.0L1549.3 767.4M1524.9 767.4L1549.3 743.0" stroke="#E6200F" stroke-width="3.1" stroke-linecap="round" fill="none"/><path d="M1526.9 751.0H1551.3M1539.1 738.8V763.2M1526.9 738.8L1551.3 763.2M1526.9 763.2L1551.3 738.8" stroke="#E6200F" stroke-width="3.1" stroke-linecap="round" fill="none"/><path d="M1528.9 746.8H1553.3M1541.1 734.6V759.0M1528.9 734.6L1553.3 759.0M1528.9 759.0L1553.3 734.6" stroke="#E6200F" stroke-width="3.1" stroke-linecap="round" fill="none"/><path d="M1530.9 742.7H1555.3M1543.1 730.5V754.9M1530.9 730.5L1555.3 754.9M1530.9 754.9L1555.3 730.5" stroke="#E6200F" stroke-width="3.1" stroke-linecap="round" fill="none"/><path d="M1532.8 738.5H1557.2M1545.0 726.3V750.7M1532.8 726.3L1557.2 750.7M1532.8 750.7L1557.2 726.3" stroke="#E6200F" stroke-width="3.1" stroke-linecap="round" fill="none"/><path d="M1534.7 734.4H1559.1M1546.9 722.2V746.6M1534.7 722.2L1559.1 746.6M1534.7 746.6L1559.1 722.2" stroke="#E6200F" stroke-width="3.1" stroke-linecap="round" fill="none"/><path d="M1536.6 730.2H1561.0M1548.8 718.0V742.4M1536.6 718.0L1561.0 742.4M1536.6 742.4L1561.0 718.0" stroke="#E6200F" stroke-width="3.1" stroke-linecap="round" fill="none"/><path d="M1538.5 726.0H1562.9M1550.7 713.8V738.2M1538.5 713.8L1562.9 738.2M1538.5 738.2L1562.9 713.8" stroke="#E6200F" stroke-width="3.1" stroke-linecap="round" fill="none"/><path d="M1540.4 721.9H1564.8M1552.6 709.7V734.1M1540.4 709.7L1564.8 734.1M1540.4 734.1L1564.8 709.7" stroke="#E6200F" stroke-width="3.1" stroke-linecap="round" fill="none"/><path d="M1542.3 717.7H1566.7M1554.5 705.5V729.9M1542.3 705.5L1566.7 729.9M1542.3 729.9L1566.7 705.5" stroke="#E6200F" stroke-width="3.1" stroke-linecap="round" fill="none"/><path d="M1544.2 713.6H1568.6M1556.4 701.4V725.8M1544.2 701.4L1568.6 725.8M1544.2 725.8L1568.6 701.4" stroke="#E6200F" stroke-width="3.1" stroke-linecap="round" fill="none"/><path d="M1546.0 709.4H1570.4M1558.2 697.2V721.6M1546.0 697.2L1570.4 721.6M1546.0 721.6L1570.4 697.2" stroke="#E6200F" stroke-width="3.1" stroke-linecap="round" fill="none"/><path d="M1547.9 705.3H1572.3M1560.1 693.1V717.5M1547.9 693.1L1572.3 717.5M1547.9 717.5L1572.3 693.1" stroke="#E6200F" stroke-width="3.1" stroke-linecap="round" fill="none"/><path d="M1549.7 701.1H1574.1M1561.9 688.9V713.3M1549.7 688.9L1574.1 713.3M1549.7 713.3L1574.1 688.9" stroke="#E6200F" stroke-width="3.1" stroke-linecap="round" fill="none"/><path d="M1551.5 697.0H1575.9M1563.7 684.8V709.2M1551.5 684.8L1575.9 709.2M1551.5 709.2L1575.9 684.8" stroke="#E6200F" stroke-width="3.1" stroke-linecap="round" fill="none"/><path d="M1553.3 692.9H1577.7M1565.5 680.7V705.1M1553.3 680.7L1577.7 705.1M1553.3 705.1L1577.7 680.7" stroke="#E6200F" stroke-width="3.1" stroke-linecap="round" fill="none"/><path d="M1555.1 688.7H1579.5M1567.3 676.5V700.9M1555.1 676.5L1579.5 700.9M1555.1 700.9L1579.5 676.5" stroke="#E6200F" stroke-width="3.1" stroke-linecap="round" fill="none"/><path d="M1556.9 684.6H1581.3M1569.1 672.4V696.8M1556.9 672.4L1581.3 696.8M1556.9 696.8L1581.3 672.4" stroke="#E6200F" stroke-width="3.1" stroke-linecap="round" fill="none"/><path d="M1558.7 680.4H1583.1M1570.9 668.2V692.6M1558.7 668.2L1583.1 692.6M1558.7 692.6L1583.1 668.2" stroke="#E6200F" stroke-width="3.1" stroke-linecap="round" fill="none"/><path d="M1560.4 676.3H1584.8M1572.6 664.1V688.5M1560.4 664.1L1584.8 688.5M1560.4 688.5L1584.8 664.1" stroke="#E6200F" stroke-width="3.1" stroke-linecap="round" fill="none"/><path d="M1562.2 672.2H1586.6M1574.4 660.0V684.4M1562.2 660.0L1586.6 684.4M1562.2 684.4L1586.6 660.0" stroke="#E6200F" stroke-width="3.1" stroke-linecap="round" fill="none"/><path d="M1563.9 668.1H1588.3M1576.1 655.9V680.3M1563.9 655.9L1588.3 680.3M1563.9 680.3L1588.3 655.9" stroke="#E6200F" stroke-width="3.1" stroke-linecap="round" fill="none"/><path d="M1565.6 663.9H1590.0M1577.8 651.7V676.1M1565.6 651.7L1590.0 676.1M1565.6 676.1L1590.0 651.7" stroke="#E6200F" stroke-width="3.1" stroke-linecap="round" fill="none"/><path d="M1567.4 659.8H1591.8M1579.6 647.6V672.0M1567.4 647.6L1591.8 672.0M1567.4 672.0L1591.8 647.6" stroke="#E6200F" stroke-width="3.1" stroke-linecap="round" fill="none"/><path d="M1569.1 655.7H1593.5M1581.3 643.5V667.9M1569.1 643.5L1593.5 667.9M1569.1 667.9L1593.5 643.5" stroke="#E6200F" stroke-width="3.1" stroke-linecap="round" fill="none"/><path d="M1570.8 651.6H1595.2M1583.0 639.4V663.8M1570.8 639.4L1595.2 663.8M1570.8 663.8L1595.2 639.4" stroke="#E6200F" stroke-width="3.1" stroke-linecap="round" fill="none"/><path d="M1572.5 647.5H1596.9M1584.7 635.3V659.7M1572.5 635.3L1596.9 659.7M1572.5 659.7L1596.9 635.3" stroke="#E6200F" stroke-width="3.1" stroke-linecap="round" fill="none"/><path d="M1574.1 643.3H1598.5M1586.3 631.1V655.5M1574.1 631.1L1598.5 655.5M1574.1 655.5L1598.5 631.1" stroke="#E6200F" stroke-width="3.1" stroke-linecap="round" fill="none"/><path d="M1575.8 639.2H1600.2M1588.0 627.0V651.4M1575.8 627.0L1600.2 651.4M1575.8 651.4L1600.2 627.0" stroke="#E6200F" stroke-width="3.1" stroke-linecap="round" fill="none"/><path d="M1577.5 635.1H1601.9M1589.7 622.9V647.3M1577.5 622.9L1601.9 647.3M1577.5 647.3L1601.9 622.9" stroke="#E6200F" stroke-width="3.1" stroke-linecap="round" fill="none"/><path d="M1579.1 631.0H1603.5M1591.3 618.8V643.2M1579.1 618.8L1603.5 643.2M1579.1 643.2L1603.5 618.8" stroke="#E6200F" stroke-width="3.1" stroke-linecap="round" fill="none"/><path d="M1580.7 626.9H1605.1M1592.9 614.7V639.1M1580.7 614.7L1605.1 639.1M1580.7 639.1L1605.1 614.7" stroke="#E6200F" stroke-width="3.1" stroke-linecap="round" fill="none"/><path d="M1582.4 622.8H1606.8M1594.6 610.6V635.0M1582.4 610.6L1606.8 635.0M1582.4 635.0L1606.8 610.6" stroke="#E6200F" stroke-width="3.1" stroke-linecap="round" fill="none"/><path d="M1584.0 618.7H1608.4M1596.2 606.5V630.9M1584.0 606.5L1608.4 630.9M1584.0 630.9L1608.4 606.5" stroke="#E6200F" stroke-width="3.1" stroke-linecap="round" fill="none"/><path d="M1585.6 614.6H1610.0M1597.8 602.4V626.8M1585.6 602.4L1610.0 626.8M1585.6 626.8L1610.0 602.4" stroke="#E6200F" stroke-width="3.1" stroke-linecap="round" fill="none"/><path d="M1587.2 610.5H1611.6M1599.4 598.3V622.7M1587.2 598.3L1611.6 622.7M1587.2 622.7L1611.6 598.3" stroke="#E6200F" stroke-width="3.1" stroke-linecap="round" fill="none"/><path d="M1588.8 606.4H1613.2M1601.0 594.2V618.6M1588.8 594.2L1613.2 618.6M1588.8 618.6L1613.2 594.2" stroke="#E6200F" stroke-width="3.1" stroke-linecap="round" fill="none"/><path d="M1590.4 602.3H1614.8M1602.6 590.1V614.5M1590.4 590.1L1614.8 614.5M1590.4 614.5L1614.8 590.1" stroke="#E6200F" stroke-width="3.1" stroke-linecap="round" fill="none"/><path d="M1592.0 598.2H1616.4M1604.2 586.0V610.4M1592.0 586.0L1616.4 610.4M1592.0 610.4L1616.4 586.0" stroke="#E6200F" stroke-width="3.1" stroke-linecap="round" fill="none"/>
<path d="M143.3 1195.0L145.9 1195.7L150.2 1197.1L156.5 1199.0L164.9 1201.5L176.0 1204.8L190.2 1208.9L208.7 1214.1L233.3 1220.8L267.9 1229.7L323.4 1242.6L449.2 1265.5L605.0 1279.5L679.3 1279.5L728.4 1276.8L766.2 1273.2L797.3 1269.1L824.0 1264.8L847.6 1260.3L868.8 1255.7L888.0 1251.0L905.7 1246.3L922.2 1241.6L937.5 1236.9L952.0 1232.1L965.6 1227.4L978.5 1222.6L990.8 1217.9L1002.5 1213.1L1013.7 1208.4L1024.4 1203.6L1034.7 1198.9L1044.7 1194.2L1054.2 1189.4L1063.5 1184.7L1072.4 1180.0L1081.1 1175.3L1089.5 1170.7L1097.7 1166.0L1105.6 1161.3L1113.3 1156.7L1120.9 1152.0L1128.2 1147.4L1135.3 1142.8L1142.3 1138.1L1149.1 1133.5L1155.8 1128.9L1162.3 1124.3L1168.6 1119.8L1174.9 1115.2L1181.0 1110.6L1187.0 1106.1L1192.8 1101.5L1198.6 1097.0L1204.2 1092.4L1209.8 1087.9L1215.2 1083.4L1220.6 1078.9L1225.8 1074.4L1231.0 1069.9L1236.1 1065.4L1241.1 1060.9L1246.0 1056.4L1250.8 1052.0L1255.6 1047.5L1260.3 1043.0L1264.9 1038.6L1269.4 1034.2L1273.9 1029.7L1278.4 1025.3L1282.7 1020.9L1287.0 1016.4L1291.3 1012.0L1295.4 1007.6L1299.6 1003.2L1303.6 998.8L1307.7 994.4L1311.6 990.0L1315.6 985.7L1319.4 981.3L1323.2 976.9L1327.0 972.5L1330.8 968.2L1334.5 963.8L1338.1 959.5L1341.7 955.1L1345.3 950.8L1348.8 946.4L1352.3 942.1L1355.7 937.8L1359.1 933.5L1362.5 929.1L1365.8 924.8L1369.1 920.5L1372.4 916.2L1375.6 911.9L1378.8 907.6L1382.0 903.3L1385.1 899.0L1388.2 894.7L1391.3 890.5L1394.4 886.2L1397.4 881.9L1400.4 877.6L1403.3 873.4L1406.2 869.1L1409.1 864.8L1412.0 860.6L1414.9 856.3L1417.7 852.1L1420.5 847.8L1423.3 843.6L1426.0 839.4L1428.7 835.1L1431.4 830.9L1434.1 826.7L1436.8 822.4L1439.4 818.2L1442.0 814.0L1444.6 809.8L1447.2 805.6L1449.7 801.3L1452.2 797.1L1454.7 792.9L1457.2 788.7L1459.7 784.5L1462.1 780.3L1464.6 776.1L1467.0 772.0L1469.4 767.8L1471.7 763.6L1474.1 759.4L1476.4 755.2L1478.7 751.0L1481.0 746.9L1483.3 742.7L1485.6 738.5L1487.8 734.4L1490.1 730.2L1492.3 726.0L1494.5 721.9L1496.7 717.7L1498.8 713.6L1501.0 709.4L1503.1 705.3L1505.2 701.1L1507.3 697.0L1509.4 692.8L1511.5 688.7L1513.6 684.5L1515.6 680.4L1517.7 676.3L1519.7 672.1L1521.7 668.0L1523.7 663.9L1525.7 659.8L1527.6 655.6L1529.6 651.5L1531.5 647.4L1533.5 643.3L1535.4 639.2L1537.3 635.1L1539.2 630.9L1541.1 626.8L1542.9 622.7L1544.8 618.6L1546.6 614.5L1548.5 610.4L1550.3 606.3L1552.1 602.2L1553.9 598.1L1555.7 594.0L1557.5 589.9L1559.3 585.9L1561.0 581.8L1562.8 577.7L1564.5 573.6L1566.2 569.5L1568.0 565.4L1569.7 561.3L1571.4 557.3L1573.0 553.2L1574.7 549.1L1576.4 545.0L1578.0 541.0L1579.7 536.9L1581.3 532.8L1583.0 528.8L1584.6 524.7L1586.2 520.6L1587.8 516.6L1589.4 512.5L1591.0 508.5L1592.5 504.4L1594.1 500.3L1595.7 496.3L1597.2 492.2L1598.8 488.2L1600.3 484.1L1601.8 480.1L1603.3 476.0L1604.9 472.0L1606.4 468.0L1607.8 463.9L1609.3 459.9L1610.8 455.8L1612.3 451.8L1613.7 447.8L1615.2 443.7L1616.6 439.7L1618.1 435.7L1619.5 431.6L1620.9 427.6L1622.3 423.6L1623.8 419.5L1625.2 415.5L1626.6 411.5L1627.9 407.5L1629.3 403.4L1630.7 399.4L1632.1 395.4L1633.4 391.4L1634.8 387.4L1636.1 383.3L1637.5 379.3L1638.8 375.3L1640.1 371.3L1641.4 367.3L1642.8 363.3L1644.1 359.3L1645.4 355.3L1646.7 351.2L1648.0 347.2L1649.2 343.2L1650.5 339.2L1651.8 335.2L1653.1 331.2L1654.3 327.2L1655.6 323.2L1656.8 319.2L1658.1 315.2L1659.3 311.2L1660.5 307.2L1661.7 303.2L1663.0 299.2L1664.2 295.3L1665.4 291.3L1666.6 287.3L1667.8 283.3L1669.0 279.3L1670.2 275.3L1671.3 271.3L1672.5 267.3L1673.7 263.3L1674.8 259.4L1676.0 255.4L1677.2 251.4L1678.3 247.4L1679.4 243.4L1680.6 239.5L1681.7 235.5L1682.9 231.5L1684.0 227.5L1685.1 223.5L1686.2 219.6L1687.3 215.6L1688.4 211.6L1689.5 207.7L1690.6 203.7L1691.7 199.7L1692.8 195.7L1693.9 191.8L1694.9 187.8L1696.0 183.8L1697.1 179.9L1698.1 175.9L1699.2 171.9L1700.3 168.0L1701.3 164.0L1702.3 160.1L1703.4 156.1L1704.4 152.1L1705.5 148.2L1706.5 144.2L1707.5 140.3L1708.5 136.3L1709.5 132.3L1710.5 128.4L1711.6 124.4L1712.6 120.5L1713.6 116.5L1714.5 112.6L1715.5 108.6L1716.5 104.7L1717.5 100.7L1718.5 96.8L1719.5 92.8L1720.4 88.9L1721.4 84.9L1722.4 81.0" fill="none" stroke="#000000" stroke-width="2.7" stroke-linejoin="round" clip-path="url(#cc)"/><circle cx="143.3" cy="1195.0" r="12.25" fill="#000000"/><circle cx="145.9" cy="1195.7" r="12.25" fill="#000000"/><circle cx="150.2" cy="1197.1" r="12.25" fill="#000000"/><circle cx="156.5" cy="1199.0" r="12.25" fill="#000000"/><circle cx="164.9" cy="1201.5" r="12.25" fill="#000000"/><circle cx="176.0" cy="1204.8" r="12.25" fill="#000000"/><circle cx="190.2" cy="1208.9" r="12.25" fill="#000000"/><circle cx="208.7" cy="1214.1" r="12.25" fill="#000000"/><circle cx="233.3" cy="1220.8" r="12.25" fill="#000000"/><circle cx="267.9" cy="1229.7" r="12.25" fill="#000000"/><circle cx="323.4" cy="1242.6" r="12.25" fill="#000000"/><circle cx="449.2" cy="1265.5" r="12.25" fill="#000000"/><circle cx="605.0" cy="1279.5" r="12.25" fill="#000000"/><circle cx="679.3" cy="1279.5" r="12.25" fill="#000000"/><circle cx="728.4" cy="1276.8" r="12.25" fill="#000000"/><circle cx="766.2" cy="1273.2" r="12.25" fill="#000000"/><circle cx="797.3" cy="1269.1" r="12.25" fill="#000000"/><circle cx="824.0" cy="1264.8" r="12.25" fill="#000000"/><circle cx="847.6" cy="1260.3" r="12.25" fill="#000000"/><circle cx="868.8" cy="1255.7" r="12.25" fill="#000000"/><circle cx="888.0" cy="1251.0" r="12.25" fill="#000000"/><circle cx="905.7" cy="1246.3" r="12.25" fill="#000000"/><circle cx="922.2" cy="1241.6" r="12.25" fill="#000000"/><circle cx="937.5" cy="1236.9" r="12.25" fill="#000000"/><circle cx="952.0" cy="1232.1" r="12.25" fill="#000000"/><circle cx="965.6" cy="1227.4" r="12.25" fill="#000000"/><circle cx="978.5" cy="1222.6" r="12.25" fill="#000000"/><circle cx="990.8" cy="1217.9" r="12.25" fill="#000000"/><circle cx="1002.5" cy="1213.1" r="12.25" fill="#000000"/><circle cx="1013.7" cy="1208.4" r="12.25" fill="#000000"/><circle cx="1024.4" cy="1203.6" r="12.25" fill="#000000"/><circle cx="1034.7" cy="1198.9" r="12.25" fill="#000000"/><circle cx="1044.7" cy="1194.2" r="12.25" fill="#000000"/><circle cx="1054.2" cy="1189.4" r="12.25" fill="#000000"/><circle cx="1063.5" cy="1184.7" r="12.25" fill="#000000"/><circle cx="1072.4" cy="1180.0" r="12.25" fill="#000000"/><circle cx="1081.1" cy="1175.3" r="12.25" fill="#000000"/><circle cx="1089.5" cy="1170.7" r="12.25" fill="#000000"/><circle cx="1097.7" cy="1166.0" r="12.25" fill="#000000"/><circle cx="1105.6" cy="1161.3" r="12.25" fill="#000000"/><circle cx="1113.3" cy="1156.7" r="12.25" fill="#000000"/><circle cx="1120.9" cy="1152.0" r="12.25" fill="#000000"/><circle cx="1128.2" cy="1147.4" r="12.25" fill="#000000"/><circle cx="1135.3" cy="1142.8" r="12.25" fill="#000000"/><circle cx="1142.3" cy="1138.1" r="12.25" fill="#000000"/><circle cx="1149.1" cy="1133.5" r="12.25" fill="#000000"/><circle cx="1155.8" cy="1128.9" r="12.25" fill="#000000"/><circle cx="1162.3" cy="1124.3" r="12.25" fill="#000000"/><circle cx="1168.6" cy="1119.8" r="12.25" fill="#000000"/><circle cx="1174.9" cy="1115.2" r="12.25" fill="#000000"/><circle cx="1181.0" cy="1110.6" r="12.25" fill="#000000"/><circle cx="1187.0" cy="1106.1" r="12.25" fill="#000000"/><circle cx="1192.8" cy="1101.5" r="12.25" fill="#000000"/><circle cx="1198.6" cy="1097.0" r="12.25" fill="#000000"/><circle cx="1204.2" cy="1092.4" r="12.25" fill="#000000"/><circle cx="1209.8" cy="1087.9" r="12.25" fill="#000000"/><circle cx="1215.2" cy="1083.4" r="12.25" fill="#000000"/><circle cx="1220.6" cy="1078.9" r="12.25" fill="#000000"/><circle cx="1225.8" cy="1074.4" r="12.25" fill="#000000"/><circle cx="1231.0" cy="1069.9" r="12.25" fill="#000000"/><circle cx="1236.1" cy="1065.4" r="12.25" fill="#000000"/><circle cx="1241.1" cy="1060.9" r="12.25" fill="#000000"/><circle cx="1246.0" cy="1056.4" r="12.25" fill="#000000"/><circle cx="1250.8" cy="1052.0" r="12.25" fill="#000000"/><circle cx="1255.6" cy="1047.5" r="12.25" fill="#000000"/><circle cx="1260.3" cy="1043.0" r="12.25" fill="#000000"/><circle cx="1264.9" cy="1038.6" r="12.25" fill="#000000"/><circle cx="1269.4" cy="1034.2" r="12.25" fill="#000000"/><circle cx="1273.9" cy="1029.7" r="12.25" fill="#000000"/><circle cx="1278.4" cy="1025.3" r="12.25" fill="#000000"/><circle cx="1282.7" cy="1020.9" r="12.25" fill="#000000"/><circle cx="1287.0" cy="1016.4" r="12.25" fill="#000000"/><circle cx="1291.3" cy="1012.0" r="12.25" fill="#000000"/><circle cx="1295.4" cy="1007.6" r="12.25" fill="#000000"/><circle cx="1299.6" cy="1003.2" r="12.25" fill="#000000"/><circle cx="1303.6" cy="998.8" r="12.25" fill="#000000"/><circle cx="1307.7" cy="994.4" r="12.25" fill="#000000"/><circle cx="1311.6" cy="990.0" r="12.25" fill="#000000"/><circle cx="1315.6" cy="985.7" r="12.25" fill="#000000"/><circle cx="1319.4" cy="981.3" r="12.25" fill="#000000"/><circle cx="1323.2" cy="976.9" r="12.25" fill="#000000"/><circle cx="1327.0" cy="972.5" r="12.25" fill="#000000"/><circle cx="1330.8" cy="968.2" r="12.25" fill="#000000"/><circle cx="1334.5" cy="963.8" r="12.25" fill="#000000"/><circle cx="1338.1" cy="959.5" r="12.25" fill="#000000"/><circle cx="1341.7" cy="955.1" r="12.25" fill="#000000"/><circle cx="1345.3" cy="950.8" r="12.25" fill="#000000"/><circle cx="1348.8" cy="946.4" r="12.25" fill="#000000"/><circle cx="1352.3" cy="942.1" r="12.25" fill="#000000"/><circle cx="1355.7" cy="937.8" r="12.25" fill="#000000"/><circle cx="1359.1" cy="933.5" r="12.25" fill="#000000"/><circle cx="1362.5" cy="929.1" r="12.25" fill="#000000"/><circle cx="1365.8" cy="924.8" r="12.25" fill="#000000"/><circle cx="1369.1" cy="920.5" r="12.25" fill="#000000"/><circle cx="1372.4" cy="916.2" r="12.25" fill="#000000"/><circle cx="1375.6" cy="911.9" r="12.25" fill="#000000"/><circle cx="1378.8" cy="907.6" r="12.25" fill="#000000"/><circle cx="1382.0" cy="903.3" r="12.25" fill="#000000"/><circle cx="1385.1" cy="899.0" r="12.25" fill="#000000"/><circle cx="1388.2" cy="894.7" r="12.25" fill="#000000"/><circle cx="1391.3" cy="890.5" r="12.25" fill="#000000"/><circle cx="1394.4" cy="886.2" r="12.25" fill="#000000"/><circle cx="1397.4" cy="881.9" r="12.25" fill="#000000"/><circle cx="1400.4" cy="877.6" r="12.25" fill="#000000"/><circle cx="1403.3" cy="873.4" r="12.25" fill="#000000"/><circle cx="1406.2" cy="869.1" r="12.25" fill="#000000"/><circle cx="1409.1" cy="864.8" r="12.25" fill="#000000"/><circle cx="1412.0" cy="860.6" r="12.25" fill="#000000"/><circle cx="1414.9" cy="856.3" r="12.25" fill="#000000"/><circle cx="1417.7" cy="852.1" r="12.25" fill="#000000"/><circle cx="1420.5" cy="847.8" r="12.25" fill="#000000"/><circle cx="1423.3" cy="843.6" r="12.25" fill="#000000"/><circle cx="1426.0" cy="839.4" r="12.25" fill="#000000"/><circle cx="1428.7" cy="835.1" r="12.25" fill="#000000"/><circle cx="1431.4" cy="830.9" r="12.25" fill="#000000"/><circle cx="1434.1" cy="826.7" r="12.25" fill="#000000"/><circle cx="1436.8" cy="822.4" r="12.25" fill="#000000"/><circle cx="1439.4" cy="818.2" r="12.25" fill="#000000"/><circle cx="1442.0" cy="814.0" r="12.25" fill="#000000"/><circle cx="1444.6" cy="809.8" r="12.25" fill="#000000"/><circle cx="1447.2" cy="805.6" r="12.25" fill="#000000"/><circle cx="1449.7" cy="801.3" r="12.25" fill="#000000"/><circle cx="1452.2" cy="797.1" r="12.25" fill="#000000"/><circle cx="1454.7" cy="792.9" r="12.25" fill="#000000"/><circle cx="1457.2" cy="788.7" r="12.25" fill="#000000"/><circle cx="1459.7" cy="784.5" r="12.25" fill="#000000"/><circle cx="1462.1" cy="780.3" r="12.25" fill="#000000"/><circle cx="1464.6" cy="776.1" r="12.25" fill="#000000"/><circle cx="1467.0" cy="772.0" r="12.25" fill="#000000"/><circle cx="1469.4" cy="767.8" r="12.25" fill="#000000"/><circle cx="1471.7" cy="763.6" r="12.25" fill="#000000"/><circle cx="1474.1" cy="759.4" r="12.25" fill="#000000"/><circle cx="1476.4" cy="755.2" r="12.25" fill="#000000"/><circle cx="1478.7" cy="751.0" r="12.25" fill="#000000"/><circle cx="1481.0" cy="746.9" r="12.25" fill="#000000"/><circle cx="1483.3" cy="742.7" r="12.25" fill="#000000"/><circle cx="1485.6" cy="738.5" r="12.25" fill="#000000"/><circle cx="1487.8" cy="734.4" r="12.25" fill="#000000"/><circle cx="1490.1" cy="730.2" r="12.25" fill="#000000"/><circle cx="1492.3" cy="726.0" r="12.25" fill="#000000"/><circle cx="1494.5" cy="721.9" r="12.25" fill="#000000"/><circle cx="1496.7" cy="717.7" r="12.25" fill="#000000"/><circle cx="1498.8" cy="713.6" r="12.25" fill="#000000"/><circle cx="1501.0" cy="709.4" r="12.25" fill="#000000"/><circle cx="1503.1" cy="705.3" r="12.25" fill="#000000"/><circle cx="1505.2" cy="701.1" r="12.25" fill="#000000"/><circle cx="1507.3" cy="697.0" r="12.25" fill="#000000"/><circle cx="1509.4" cy="692.8" r="12.25" fill="#000000"/><circle cx="1511.5" cy="688.7" r="12.25" fill="#000000"/><circle cx="1513.6" cy="684.5" r="12.25" fill="#000000"/><circle cx="1515.6" cy="680.4" r="12.25" fill="#000000"/><circle cx="1517.7" cy="676.3" r="12.25" fill="#000000"/><circle cx="1519.7" cy="672.1" r="12.25" fill="#000000"/><circle cx="1521.7" cy="668.0" r="12.25" fill="#000000"/><circle cx="1523.7" cy="663.9" r="12.25" fill="#000000"/><circle cx="1525.7" cy="659.8" r="12.25" fill="#000000"/><circle cx="1527.6" cy="655.6" r="12.25" fill="#000000"/><circle cx="1529.6" cy="651.5" r="12.25" fill="#000000"/><circle cx="1531.5" cy="647.4" r="12.25" fill="#000000"/><circle cx="1533.5" cy="643.3" r="12.25" fill="#000000"/><circle cx="1535.4" cy="639.2" r="12.25" fill="#000000"/><circle cx="1537.3" cy="635.1" r="12.25" fill="#000000"/><circle cx="1539.2" cy="630.9" r="12.25" fill="#000000"/><circle cx="1541.1" cy="626.8" r="12.25" fill="#000000"/><circle cx="1542.9" cy="622.7" r="12.25" fill="#000000"/><circle cx="1544.8" cy="618.6" r="12.25" fill="#000000"/><circle cx="1546.6" cy="614.5" r="12.25" fill="#000000"/><circle cx="1548.5" cy="610.4" r="12.25" fill="#000000"/><circle cx="1550.3" cy="606.3" r="12.25" fill="#000000"/><circle cx="1552.1" cy="602.2" r="12.25" fill="#000000"/><circle cx="1553.9" cy="598.1" r="12.25" fill="#000000"/>
<path d="M142.8 1073.5L143.7 1073.7L145.3 1074.2L147.5 1074.8L150.3 1075.6L153.9 1076.6L158.1 1077.8L163.1 1079.2L168.8 1080.8L175.3 1082.6L182.8 1084.6L191.1 1086.8L200.5 1089.3L211.1 1092.0L222.8 1094.9L236.0 1098.2L250.7 1101.7L267.1 1105.4L285.4 1109.5L306.0 1113.8L329.0 1118.4L354.7 1123.1L383.2 1127.9L414.4 1132.6L448.1 1136.9L483.3 1140.7L519.0 1143.6L554.1 1145.6L587.7 1146.6L619.4 1146.7L648.9 1146.0L676.2 1144.7L701.6 1142.9L725.1 1140.7L747.1 1138.1L767.5 1135.2L786.7 1132.2L804.8 1128.9L821.8 1125.5L837.9 1122.0L853.2 1118.3L867.8 1114.6L881.6 1110.8L894.9 1106.9L907.6 1103.0L919.8 1099.0L931.6 1095.0L942.9 1090.9L953.8 1086.9L964.3 1082.7L974.5 1078.6L984.4 1074.5L994.0 1070.3L1003.3 1066.1L1012.3 1061.9L1021.0 1057.7L1029.6 1053.5L1037.9 1049.2L1046.0 1045.0L1053.9 1040.7L1061.6 1036.5L1069.1 1032.2L1076.5 1028.0L1083.7 1023.7L1090.7 1019.4L1097.6 1015.2L1104.3 1010.9L1110.9 1006.6L1117.4 1002.3L1123.7 998.1L1130.0 993.8L1136.1 989.5L1142.1 985.2L1148.0 981.0L1153.8 976.7L1159.5 972.4L1165.1 968.2L1170.6 963.9L1176.0 959.6L1181.3 955.4L1186.5 951.1L1191.7 946.8L1196.8 942.6L1201.8 938.3L1206.7 934.0L1211.6 929.8L1216.3 925.5L1221.1 921.3L1225.7 917.0L1230.3 912.8L1234.8 908.5L1239.3 904.3L1243.7 900.1L1248.1 895.8L1252.4 891.6L1256.6 887.3L1260.8 883.1L1264.9 878.9L1269.0 874.7L1273.1 870.4L1277.0 866.2L1281.0 862.0L1284.9 857.8L1288.7 853.6L1292.5 849.3L1296.3 845.1L1300.0 840.9L1303.7 836.7L1307.3 832.5L1311.0 828.3L1314.5 824.1L1318.0 819.9L1321.5 815.7L1325.0 811.6L1328.4 807.4L1331.8 803.2L1335.1 799.0L1338.5 794.8L1341.7 790.6L1345.0 786.5L1348.2 782.3L1351.4 778.1L1354.6 774.0L1357.7 769.8L1360.8 765.6L1363.9 761.5L1366.9 757.3L1369.9 753.2L1372.9 749.0L1375.9 744.8L1378.8 740.7L1381.7 736.5L1384.6 732.4L1387.5 728.3L1390.3 724.1L1393.1 720.0L1395.9 715.8L1398.7 711.7L1401.4 707.6L1404.1 703.4L1406.8 699.3L1409.5 695.2L1412.1 691.1L1414.8 686.9L1417.4 682.8L1420.0 678.7L1422.5 674.6L1425.1 670.5L1427.6 666.4L1430.1 662.2L1432.6 658.1L1435.1 654.0L1437.6 649.9L1440.0 645.8L1442.4 641.7L1444.8 637.6L1447.2 633.5L1449.6 629.4L1451.9 625.3L1454.2 621.2L1456.5 617.2L1458.8 613.1L1461.1 609.0L1463.4 604.9L1465.6 600.8L1467.9 596.7L1470.1 592.6L1472.3 588.6L1474.5 584.5L1476.6 580.4L1478.8 576.3L1480.9 572.3L1483.1 568.2L1485.2 564.1L1487.3 560.1L1489.4 556.0L1491.5 551.9L1493.5 547.9L1495.6 543.8L1497.6 539.8L1499.6 535.7L1501.6 531.6L1503.6 527.6L1505.6 523.5L1507.6 519.5L1509.5 515.4L1511.5 511.4L1513.4 507.3L1515.3 503.3L1517.2 499.3L1519.1 495.2L1521.0 491.2L1522.9 487.1L1524.8 483.1L1526.6 479.1L1528.5 475.0L1530.3 471.0L1532.1 467.0L1533.9 462.9L1535.7 458.9L1537.5 454.9L1539.3 450.8L1541.0 446.8L1542.8 442.8L1544.5 438.8L1546.3 434.7L1548.0 430.7L1549.7 426.7L1551.4 422.7L1553.1 418.7L1554.8 414.7L1556.5 410.6L1558.2 406.6L1559.8 402.6L1561.5 398.6L1563.1 394.6L1564.8 390.6L1566.4 386.6L1568.0 382.6L1569.6 378.6L1571.2 374.6L1572.8 370.6L1574.4 366.6L1576.0 362.6L1577.5 358.6L1579.1 354.6L1580.6 350.6L1582.2 346.6L1583.7 342.6L1585.2 338.6L1586.8 334.6L1588.3 330.6L1589.8 326.6L1591.3 322.6L1592.8 318.6L1594.2 314.6L1595.7 310.7L1597.2 306.7L1598.6 302.7L1600.1 298.7L1601.5 294.7L1603.0 290.7L1604.4 286.8L1605.8 282.8L1607.2 278.8L1608.6 274.8L1610.0 270.8L1611.4 266.9L1612.8 262.9L1614.2 258.9L1615.6 254.9L1616.9 251.0L1618.3 247.0L1619.6 243.0L1621.0 239.1L1622.3 235.1L1623.7 231.1L1625.0 227.2L1626.3 223.2L1627.6 219.2L1628.9 215.3L1630.2 211.3L1631.5 207.3L1632.8 203.4L1634.1 199.4L1635.4 195.5L1636.7 191.5L1637.9 187.5L1639.2 183.6L1640.5 179.6L1641.7 175.7L1643.0 171.7L1644.2 167.8L1645.4 163.8L1646.7 159.9L1647.9 155.9L1649.1 152.0L1650.3 148.0L1651.5 144.1L1652.7 140.1L1653.9 136.2L1655.1 132.2L1656.3 128.3L1657.5 124.3L1658.7 120.4L1659.8 116.4L1661.0 112.5L1662.2 108.6L1663.3 104.6L1664.5 100.7L1665.6 96.7L1666.8 92.8L1667.9 88.9L1669.0 84.9L1670.2 81.0L1671.3 77.0L1672.4 73.1L1673.5 69.2L1674.6 65.2L1675.7 61.3" fill="none" stroke="#0000FF" stroke-width="2.7" stroke-linejoin="round" clip-path="url(#cc)"/><circle cx="142.8" cy="1073.5" r="11.85" fill="none" stroke="#0000FF" stroke-width="3.3"/><circle cx="142.8" cy="1073.5" r="9.50" fill="#fff"/><circle cx="142.8" cy="1073.5" r="1.65" fill="#0000FF"/><circle cx="143.7" cy="1073.7" r="11.85" fill="none" stroke="#0000FF" stroke-width="3.3"/><circle cx="143.7" cy="1073.7" r="9.50" fill="#fff"/><circle cx="143.7" cy="1073.7" r="1.65" fill="#0000FF"/><circle cx="145.3" cy="1074.2" r="11.85" fill="none" stroke="#0000FF" stroke-width="3.3"/><circle cx="145.3" cy="1074.2" r="9.50" fill="#fff"/><circle cx="145.3" cy="1074.2" r="1.65" fill="#0000FF"/><circle cx="147.5" cy="1074.8" r="11.85" fill="none" stroke="#0000FF" stroke-width="3.3"/><circle cx="147.5" cy="1074.8" r="9.50" fill="#fff"/><circle cx="147.5" cy="1074.8" r="1.65" fill="#0000FF"/><circle cx="150.3" cy="1075.6" r="11.85" fill="none" stroke="#0000FF" stroke-width="3.3"/><circle cx="150.3" cy="1075.6" r="9.50" fill="#fff"/><circle cx="150.3" cy="1075.6" r="1.65" fill="#0000FF"/><circle cx="153.9" cy="1076.6" r="11.85" fill="none" stroke="#0000FF" stroke-width="3.3"/><circle cx="153.9" cy="1076.6" r="9.50" fill="#fff"/><circle cx="153.9" cy="1076.6" r="1.65" fill="#0000FF"/><circle cx="158.1" cy="1077.8" r="11.85" fill="none" stroke="#0000FF" stroke-width="3.3"/><circle cx="158.1" cy="1077.8" r="9.50" fill="#fff"/><circle cx="158.1" cy="1077.8" r="1.65" fill="#0000FF"/><circle cx="163.1" cy="1079.2" r="11.85" fill="none" stroke="#0000FF" stroke-width="3.3"/><circle cx="163.1" cy="1079.2" r="9.50" fill="#fff"/><circle cx="163.1" cy="1079.2" r="1.65" fill="#0000FF"/><circle cx="168.8" cy="1080.8" r="11.85" fill="none" stroke="#0000FF" stroke-width="3.3"/><circle cx="168.8" cy="1080.8" r="9.50" fill="#fff"/><circle cx="168.8" cy="1080.8" r="1.65" fill="#0000FF"/><circle cx="175.3" cy="1082.6" r="11.85" fill="none" stroke="#0000FF" stroke-width="3.3"/><circle cx="175.3" cy="1082.6" r="9.50" fill="#fff"/><circle cx="175.3" cy="1082.6" r="1.65" fill="#0000FF"/><circle cx="182.8" cy="1084.6" r="11.85" fill="none" stroke="#0000FF" stroke-width="3.3"/><circle cx="182.8" cy="1084.6" r="9.50" fill="#fff"/><circle cx="182.8" cy="1084.6" r="1.65" fill="#0000FF"/><circle cx="191.1" cy="1086.8" r="11.85" fill="none" stroke="#0000FF" stroke-width="3.3"/><circle cx="191.1" cy="1086.8" r="9.50" fill="#fff"/><circle cx="191.1" cy="1086.8" r="1.65" fill="#0000FF"/><circle cx="200.5" cy="1089.3" r="11.85" fill="none" stroke="#0000FF" stroke-width="3.3"/><circle cx="200.5" cy="1089.3" r="9.50" fill="#fff"/><circle cx="200.5" cy="1089.3" r="1.65" fill="#0000FF"/><circle cx="211.1" cy="1092.0" r="11.85" fill="none" stroke="#0000FF" stroke-width="3.3"/><circle cx="211.1" cy="1092.0" r="9.50" fill="#fff"/><circle cx="211.1" cy="1092.0" r="1.65" fill="#0000FF"/><circle cx="222.8" cy="1094.9" r="11.85" fill="none" stroke="#0000FF" stroke-width="3.3"/><circle cx="222.8" cy="1094.9" r="9.50" fill="#fff"/><circle cx="222.8" cy="1094.9" r="1.65" fill="#0000FF"/><circle cx="236.0" cy="1098.2" r="11.85" fill="none" stroke="#0000FF" stroke-width="3.3"/><circle cx="236.0" cy="1098.2" r="9.50" fill="#fff"/><circle cx="236.0" cy="1098.2" r="1.65" fill="#0000FF"/><circle cx="250.7" cy="1101.7" r="11.85" fill="none" stroke="#0000FF" stroke-width="3.3"/><circle cx="250.7" cy="1101.7" r="9.50" fill="#fff"/><circle cx="250.7" cy="1101.7" r="1.65" fill="#0000FF"/><circle cx="267.1" cy="1105.4" r="11.85" fill="none" stroke="#0000FF" stroke-width="3.3"/><circle cx="267.1" cy="1105.4" r="9.50" fill="#fff"/><circle cx="267.1" cy="1105.4" r="1.65" fill="#0000FF"/><circle cx="285.4" cy="1109.5" r="11.85" fill="none" stroke="#0000FF" stroke-width="3.3"/><circle cx="285.4" cy="1109.5" r="9.50" fill="#fff"/><circle cx="285.4" cy="1109.5" r="1.65" fill="#0000FF"/><circle cx="306.0" cy="1113.8" r="11.85" fill="none" stroke="#0000FF" stroke-width="3.3"/><circle cx="306.0" cy="1113.8" r="9.50" fill="#fff"/><circle cx="306.0" cy="1113.8" r="1.65" fill="#0000FF"/><circle cx="329.0" cy="1118.4" r="11.85" fill="none" stroke="#0000FF" stroke-width="3.3"/><circle cx="329.0" cy="1118.4" r="9.50" fill="#fff"/><circle cx="329.0" cy="1118.4" r="1.65" fill="#0000FF"/><circle cx="354.7" cy="1123.1" r="11.85" fill="none" stroke="#0000FF" stroke-width="3.3"/><circle cx="354.7" cy="1123.1" r="9.50" fill="#fff"/><circle cx="354.7" cy="1123.1" r="1.65" fill="#0000FF"/><circle cx="383.2" cy="1127.9" r="11.85" fill="none" stroke="#0000FF" stroke-width="3.3"/><circle cx="383.2" cy="1127.9" r="9.50" fill="#fff"/><circle cx="383.2" cy="1127.9" r="1.65" fill="#0000FF"/><circle cx="414.4" cy="1132.6" r="11.85" fill="none" stroke="#0000FF" stroke-width="3.3"/><circle cx="414.4" cy="1132.6" r="9.50" fill="#fff"/><circle cx="414.4" cy="1132.6" r="1.65" fill="#0000FF"/><circle cx="448.1" cy="1136.9" r="11.85" fill="none" stroke="#0000FF" stroke-width="3.3"/><circle cx="448.1" cy="1136.9" r="9.50" fill="#fff"/><circle cx="448.1" cy="1136.9" r="1.65" fill="#0000FF"/><circle cx="483.3" cy="1140.7" r="11.85" fill="none" stroke="#0000FF" stroke-width="3.3"/><circle cx="483.3" cy="1140.7" r="9.50" fill="#fff"/><circle cx="483.3" cy="1140.7" r="1.65" fill="#0000FF"/><circle cx="519.0" cy="1143.6" r="11.85" fill="none" stroke="#0000FF" stroke-width="3.3"/><circle cx="519.0" cy="1143.6" r="9.50" fill="#fff"/><circle cx="519.0" cy="1143.6" r="1.65" fill="#0000FF"/><circle cx="554.1" cy="1145.6" r="11.85" fill="none" stroke="#0000FF" stroke-width="3.3"/><circle cx="554.1" cy="1145.6" r="9.50" fill="#fff"/><circle cx="554.1" cy="1145.6" r="1.65" fill="#0000FF"/><circle cx="587.7" cy="1146.6" r="11.85" fill="none" stroke="#0000FF" stroke-width="3.3"/><circle cx="587.7" cy="1146.6" r="9.50" fill="#fff"/><circle cx="587.7" cy="1146.6" r="1.65" fill="#0000FF"/><circle cx="619.4" cy="1146.7" r="11.85" fill="none" stroke="#0000FF" stroke-width="3.3"/><circle cx="619.4" cy="1146.7" r="9.50" fill="#fff"/><circle cx="619.4" cy="1146.7" r="1.65" fill="#0000FF"/><circle cx="648.9" cy="1146.0" r="11.85" fill="none" stroke="#0000FF" stroke-width="3.3"/><circle cx="648.9" cy="1146.0" r="9.50" fill="#fff"/><circle cx="648.9" cy="1146.0" r="1.65" fill="#0000FF"/><circle cx="676.2" cy="1144.7" r="11.85" fill="none" stroke="#0000FF" stroke-width="3.3"/><circle cx="676.2" cy="1144.7" r="9.50" fill="#fff"/><circle cx="676.2" cy="1144.7" r="1.65" fill="#0000FF"/><circle cx="701.6" cy="1142.9" r="11.85" fill="none" stroke="#0000FF" stroke-width="3.3"/><circle cx="701.6" cy="1142.9" r="9.50" fill="#fff"/><circle cx="701.6" cy="1142.9" r="1.65" fill="#0000FF"/><circle cx="725.1" cy="1140.7" r="11.85" fill="none" stroke="#0000FF" stroke-width="3.3"/><circle cx="725.1" cy="1140.7" r="9.50" fill="#fff"/><circle cx="725.1" cy="1140.7" r="1.65" fill="#0000FF"/><circle cx="747.1" cy="1138.1" r="11.85" fill="none" stroke="#0000FF" stroke-width="3.3"/><circle cx="747.1" cy="1138.1" r="9.50" fill="#fff"/><circle cx="747.1" cy="1138.1" r="1.65" fill="#0000FF"/><circle cx="767.5" cy="1135.2" r="11.85" fill="none" stroke="#0000FF" stroke-width="3.3"/><circle cx="767.5" cy="1135.2" r="9.50" fill="#fff"/><circle cx="767.5" cy="1135.2" r="1.65" fill="#0000FF"/><circle cx="786.7" cy="1132.2" r="11.85" fill="none" stroke="#0000FF" stroke-width="3.3"/><circle cx="786.7" cy="1132.2" r="9.50" fill="#fff"/><circle cx="786.7" cy="1132.2" r="1.65" fill="#0000FF"/><circle cx="804.8" cy="1128.9" r="11.85" fill="none" stroke="#0000FF" stroke-width="3.3"/><circle cx="804.8" cy="1128.9" r="9.50" fill="#fff"/><circle cx="804.8" cy="1128.9" r="1.65" fill="#0000FF"/><circle cx="821.8" cy="1125.5" r="11.85" fill="none" stroke="#0000FF" stroke-width="3.3"/><circle cx="821.8" cy="1125.5" r="9.50" fill="#fff"/><circle cx="821.8" cy="1125.5" r="1.65" fill="#0000FF"/><circle cx="837.9" cy="1122.0" r="11.85" fill="none" stroke="#0000FF" stroke-width="3.3"/><circle cx="837.9" cy="1122.0" r="9.50" fill="#fff"/><circle cx="837.9" cy="1122.0" r="1.65" fill="#0000FF"/><circle cx="853.2" cy="1118.3" r="11.85" fill="none" stroke="#0000FF" stroke-width="3.3"/><circle cx="853.2" cy="1118.3" r="9.50" fill="#fff"/><circle cx="853.2" cy="1118.3" r="1.65" fill="#0000FF"/><circle cx="867.8" cy="1114.6" r="11.85" fill="none" stroke="#0000FF" stroke-width="3.3"/><circle cx="867.8" cy="1114.6" r="9.50" fill="#fff"/><circle cx="867.8" cy="1114.6" r="1.65" fill="#0000FF"/><circle cx="881.6" cy="1110.8" r="11.85" fill="none" stroke="#0000FF" stroke-width="3.3"/><circle cx="881.6" cy="1110.8" r="9.50" fill="#fff"/><circle cx="881.6" cy="1110.8" r="1.65" fill="#0000FF"/><circle cx="894.9" cy="1106.9" r="11.85" fill="none" stroke="#0000FF" stroke-width="3.3"/><circle cx="894.9" cy="1106.9" r="9.50" fill="#fff"/><circle cx="894.9" cy="1106.9" r="1.65" fill="#0000FF"/><circle cx="907.6" cy="1103.0" r="11.85" fill="none" stroke="#0000FF" stroke-width="3.3"/><circle cx="907.6" cy="1103.0" r="9.50" fill="#fff"/><circle cx="907.6" cy="1103.0" r="1.65" fill="#0000FF"/><circle cx="919.8" cy="1099.0" r="11.85" fill="none" stroke="#0000FF" stroke-width="3.3"/><circle cx="919.8" cy="1099.0" r="9.50" fill="#fff"/><circle cx="919.8" cy="1099.0" r="1.65" fill="#0000FF"/><circle cx="931.6" cy="1095.0" r="11.85" fill="none" stroke="#0000FF" stroke-width="3.3"/><circle cx="931.6" cy="1095.0" r="9.50" fill="#fff"/><circle cx="931.6" cy="1095.0" r="1.65" fill="#0000FF"/><circle cx="942.9" cy="1090.9" r="11.85" fill="none" stroke="#0000FF" stroke-width="3.3"/><circle cx="942.9" cy="1090.9" r="9.50" fill="#fff"/><circle cx="942.9" cy="1090.9" r="1.65" fill="#0000FF"/><circle cx="953.8" cy="1086.9" r="11.85" fill="none" stroke="#0000FF" stroke-width="3.3"/><circle cx="953.8" cy="1086.9" r="9.50" fill="#fff"/><circle cx="953.8" cy="1086.9" r="1.65" fill="#0000FF"/><circle cx="964.3" cy="1082.7" r="11.85" fill="none" stroke="#0000FF" stroke-width="3.3"/><circle cx="964.3" cy="1082.7" r="9.50" fill="#fff"/><circle cx="964.3" cy="1082.7" r="1.65" fill="#0000FF"/><circle cx="974.5" cy="1078.6" r="11.85" fill="none" stroke="#0000FF" stroke-width="3.3"/><circle cx="974.5" cy="1078.6" r="9.50" fill="#fff"/><circle cx="974.5" cy="1078.6" r="1.65" fill="#0000FF"/><circle cx="984.4" cy="1074.5" r="11.85" fill="none" stroke="#0000FF" stroke-width="3.3"/><circle cx="984.4" cy="1074.5" r="9.50" fill="#fff"/><circle cx="984.4" cy="1074.5" r="1.65" fill="#0000FF"/><circle cx="994.0" cy="1070.3" r="11.85" fill="none" stroke="#0000FF" stroke-width="3.3"/><circle cx="994.0" cy="1070.3" r="9.50" fill="#fff"/><circle cx="994.0" cy="1070.3" r="1.65" fill="#0000FF"/><circle cx="1003.3" cy="1066.1" r="11.85" fill="none" stroke="#0000FF" stroke-width="3.3"/><circle cx="1003.3" cy="1066.1" r="9.50" fill="#fff"/><circle cx="1003.3" cy="1066.1" r="1.65" fill="#0000FF"/><circle cx="1012.3" cy="1061.9" r="11.85" fill="none" stroke="#0000FF" stroke-width="3.3"/><circle cx="1012.3" cy="1061.9" r="9.50" fill="#fff"/><circle cx="1012.3" cy="1061.9" r="1.65" fill="#0000FF"/><circle cx="1021.0" cy="1057.7" r="11.85" fill="none" stroke="#0000FF" stroke-width="3.3"/><circle cx="1021.0" cy="1057.7" r="9.50" fill="#fff"/><circle cx="1021.0" cy="1057.7" r="1.65" fill="#0000FF"/><circle cx="1029.6" cy="1053.5" r="11.85" fill="none" stroke="#0000FF" stroke-width="3.3"/><circle cx="1029.6" cy="1053.5" r="9.50" fill="#fff"/><circle cx="1029.6" cy="1053.5" r="1.65" fill="#0000FF"/><circle cx="1037.9" cy="1049.2" r="11.85" fill="none" stroke="#0000FF" stroke-width="3.3"/><circle cx="1037.9" cy="1049.2" r="9.50" fill="#fff"/><circle cx="1037.9" cy="1049.2" r="1.65" fill="#0000FF"/><circle cx="1046.0" cy="1045.0" r="11.85" fill="none" stroke="#0000FF" stroke-width="3.3"/><circle cx="1046.0" cy="1045.0" r="9.50" fill="#fff"/><circle cx="1046.0" cy="1045.0" r="1.65" fill="#0000FF"/><circle cx="1053.9" cy="1040.7" r="11.85" fill="none" stroke="#0000FF" stroke-width="3.3"/><circle cx="1053.9" cy="1040.7" r="9.50" fill="#fff"/><circle cx="1053.9" cy="1040.7" r="1.65" fill="#0000FF"/><circle cx="1061.6" cy="1036.5" r="11.85" fill="none" stroke="#0000FF" stroke-width="3.3"/><circle cx="1061.6" cy="1036.5" r="9.50" fill="#fff"/><circle cx="1061.6" cy="1036.5" r="1.65" fill="#0000FF"/><circle cx="1069.1" cy="1032.2" r="11.85" fill="none" stroke="#0000FF" stroke-width="3.3"/><circle cx="1069.1" cy="1032.2" r="9.50" fill="#fff"/><circle cx="1069.1" cy="1032.2" r="1.65" fill="#0000FF"/><circle cx="1076.5" cy="1028.0" r="11.85" fill="none" stroke="#0000FF" stroke-width="3.3"/><circle cx="1076.5" cy="1028.0" r="9.50" fill="#fff"/><circle cx="1076.5" cy="1028.0" r="1.65" fill="#0000FF"/><circle cx="1083.7" cy="1023.7" r="11.85" fill="none" stroke="#0000FF" stroke-width="3.3"/><circle cx="1083.7" cy="1023.7" r="9.50" fill="#fff"/><circle cx="1083.7" cy="1023.7" r="1.65" fill="#0000FF"/><circle cx="1090.7" cy="1019.4" r="11.85" fill="none" stroke="#0000FF" stroke-width="3.3"/><circle cx="1090.7" cy="1019.4" r="9.50" fill="#fff"/><circle cx="1090.7" cy="1019.4" r="1.65" fill="#0000FF"/><circle cx="1097.6" cy="1015.2" r="11.85" fill="none" stroke="#0000FF" stroke-width="3.3"/><circle cx="1097.6" cy="1015.2" r="9.50" fill="#fff"/><circle cx="1097.6" cy="1015.2" r="1.65" fill="#0000FF"/><circle cx="1104.3" cy="1010.9" r="11.85" fill="none" stroke="#0000FF" stroke-width="3.3"/><circle cx="1104.3" cy="1010.9" r="9.50" fill="#fff"/><circle cx="1104.3" cy="1010.9" r="1.65" fill="#0000FF"/><circle cx="1110.9" cy="1006.6" r="11.85" fill="none" stroke="#0000FF" stroke-width="3.3"/><circle cx="1110.9" cy="1006.6" r="9.50" fill="#fff"/><circle cx="1110.9" cy="1006.6" r="1.65" fill="#0000FF"/><circle cx="1117.4" cy="1002.3" r="11.85" fill="none" stroke="#0000FF" stroke-width="3.3"/><circle cx="1117.4" cy="1002.3" r="9.50" fill="#fff"/><circle cx="1117.4" cy="1002.3" r="1.65" fill="#0000FF"/><circle cx="1123.7" cy="998.1" r="11.85" fill="none" stroke="#0000FF" stroke-width="3.3"/><circle cx="1123.7" cy="998.1" r="9.50" fill="#fff"/><circle cx="1123.7" cy="998.1" r="1.65" fill="#0000FF"/><circle cx="1130.0" cy="993.8" r="11.85" fill="none" stroke="#0000FF" stroke-width="3.3"/><circle cx="1130.0" cy="993.8" r="9.50" fill="#fff"/><circle cx="1130.0" cy="993.8" r="1.65" fill="#0000FF"/><circle cx="1136.1" cy="989.5" r="11.85" fill="none" stroke="#0000FF" stroke-width="3.3"/><circle cx="1136.1" cy="989.5" r="9.50" fill="#fff"/><circle cx="1136.1" cy="989.5" r="1.65" fill="#0000FF"/><circle cx="1142.1" cy="985.2" r="11.85" fill="none" stroke="#0000FF" stroke-width="3.3"/><circle cx="1142.1" cy="985.2" r="9.50" fill="#fff"/><circle cx="1142.1" cy="985.2" r="1.65" fill="#0000FF"/><circle cx="1148.0" cy="981.0" r="11.85" fill="none" stroke="#0000FF" stroke-width="3.3"/><circle cx="1148.0" cy="981.0" r="9.50" fill="#fff"/><circle cx="1148.0" cy="981.0" r="1.65" fill="#0000FF"/><circle cx="1153.8" cy="976.7" r="11.85" fill="none" stroke="#0000FF" stroke-width="3.3"/><circle cx="1153.8" cy="976.7" r="9.50" fill="#fff"/><circle cx="1153.8" cy="976.7" r="1.65" fill="#0000FF"/><circle cx="1159.5" cy="972.4" r="11.85" fill="none" stroke="#0000FF" stroke-width="3.3"/><circle cx="1159.5" cy="972.4" r="9.50" fill="#fff"/><circle cx="1159.5" cy="972.4" r="1.65" fill="#0000FF"/><circle cx="1165.1" cy="968.2" r="11.85" fill="none" stroke="#0000FF" stroke-width="3.3"/><circle cx="1165.1" cy="968.2" r="9.50" fill="#fff"/><circle cx="1165.1" cy="968.2" r="1.65" fill="#0000FF"/><circle cx="1170.6" cy="963.9" r="11.85" fill="none" stroke="#0000FF" stroke-width="3.3"/><circle cx="1170.6" cy="963.9" r="9.50" fill="#fff"/><circle cx="1170.6" cy="963.9" r="1.65" fill="#0000FF"/><circle cx="1176.0" cy="959.6" r="11.85" fill="none" stroke="#0000FF" stroke-width="3.3"/><circle cx="1176.0" cy="959.6" r="9.50" fill="#fff"/><circle cx="1176.0" cy="959.6" r="1.65" fill="#0000FF"/><circle cx="1181.3" cy="955.4" r="11.85" fill="none" stroke="#0000FF" stroke-width="3.3"/><circle cx="1181.3" cy="955.4" r="9.50" fill="#fff"/><circle cx="1181.3" cy="955.4" r="1.65" fill="#0000FF"/><circle cx="1186.5" cy="951.1" r="11.85" fill="none" stroke="#0000FF" stroke-width="3.3"/><circle cx="1186.5" cy="951.1" r="9.50" fill="#fff"/><circle cx="1186.5" cy="951.1" r="1.65" fill="#0000FF"/><circle cx="1191.7" cy="946.8" r="11.85" fill="none" stroke="#0000FF" stroke-width="3.3"/><circle cx="1191.7" cy="946.8" r="9.50" fill="#fff"/><circle cx="1191.7" cy="946.8" r="1.65" fill="#0000FF"/><circle cx="1196.8" cy="942.6" r="11.85" fill="none" stroke="#0000FF" stroke-width="3.3"/><circle cx="1196.8" cy="942.6" r="9.50" fill="#fff"/><circle cx="1196.8" cy="942.6" r="1.65" fill="#0000FF"/><circle cx="1201.8" cy="938.3" r="11.85" fill="none" stroke="#0000FF" stroke-width="3.3"/><circle cx="1201.8" cy="938.3" r="9.50" fill="#fff"/><circle cx="1201.8" cy="938.3" r="1.65" fill="#0000FF"/><circle cx="1206.7" cy="934.0" r="11.85" fill="none" stroke="#0000FF" stroke-width="3.3"/><circle cx="1206.7" cy="934.0" r="9.50" fill="#fff"/><circle cx="1206.7" cy="934.0" r="1.65" fill="#0000FF"/><circle cx="1211.6" cy="929.8" r="11.85" fill="none" stroke="#0000FF" stroke-width="3.3"/><circle cx="1211.6" cy="929.8" r="9.50" fill="#fff"/><circle cx="1211.6" cy="929.8" r="1.65" fill="#0000FF"/><circle cx="1216.3" cy="925.5" r="11.85" fill="none" stroke="#0000FF" stroke-width="3.3"/><circle cx="1216.3" cy="925.5" r="9.50" fill="#fff"/><circle cx="1216.3" cy="925.5" r="1.65" fill="#0000FF"/><circle cx="1221.1" cy="921.3" r="11.85" fill="none" stroke="#0000FF" stroke-width="3.3"/><circle cx="1221.1" cy="921.3" r="9.50" fill="#fff"/><circle cx="1221.1" cy="921.3" r="1.65" fill="#0000FF"/><circle cx="1225.7" cy="917.0" r="11.85" fill="none" stroke="#0000FF" stroke-width="3.3"/><circle cx="1225.7" cy="917.0" r="9.50" fill="#fff"/><circle cx="1225.7" cy="917.0" r="1.65" fill="#0000FF"/><circle cx="1230.3" cy="912.8" r="11.85" fill="none" stroke="#0000FF" stroke-width="3.3"/><circle cx="1230.3" cy="912.8" r="9.50" fill="#fff"/><circle cx="1230.3" cy="912.8" r="1.65" fill="#0000FF"/><circle cx="1234.8" cy="908.5" r="11.85" fill="none" stroke="#0000FF" stroke-width="3.3"/><circle cx="1234.8" cy="908.5" r="9.50" fill="#fff"/><circle cx="1234.8" cy="908.5" r="1.65" fill="#0000FF"/><circle cx="1239.3" cy="904.3" r="11.85" fill="none" stroke="#0000FF" stroke-width="3.3"/><circle cx="1239.3" cy="904.3" r="9.50" fill="#fff"/><circle cx="1239.3" cy="904.3" r="1.65" fill="#0000FF"/><circle cx="1243.7" cy="900.1" r="11.85" fill="none" stroke="#0000FF" stroke-width="3.3"/><circle cx="1243.7" cy="900.1" r="9.50" fill="#fff"/><circle cx="1243.7" cy="900.1" r="1.65" fill="#0000FF"/><circle cx="1248.1" cy="895.8" r="11.85" fill="none" stroke="#0000FF" stroke-width="3.3"/><circle cx="1248.1" cy="895.8" r="9.50" fill="#fff"/><circle cx="1248.1" cy="895.8" r="1.65" fill="#0000FF"/><circle cx="1252.4" cy="891.6" r="11.85" fill="none" stroke="#0000FF" stroke-width="3.3"/><circle cx="1252.4" cy="891.6" r="9.50" fill="#fff"/><circle cx="1252.4" cy="891.6" r="1.65" fill="#0000FF"/><circle cx="1256.6" cy="887.3" r="11.85" fill="none" stroke="#0000FF" stroke-width="3.3"/><circle cx="1256.6" cy="887.3" r="9.50" fill="#fff"/><circle cx="1256.6" cy="887.3" r="1.65" fill="#0000FF"/><circle cx="1260.8" cy="883.1" r="11.85" fill="none" stroke="#0000FF" stroke-width="3.3"/><circle cx="1260.8" cy="883.1" r="9.50" fill="#fff"/><circle cx="1260.8" cy="883.1" r="1.65" fill="#0000FF"/><circle cx="1264.9" cy="878.9" r="11.85" fill="none" stroke="#0000FF" stroke-width="3.3"/><circle cx="1264.9" cy="878.9" r="9.50" fill="#fff"/><circle cx="1264.9" cy="878.9" r="1.65" fill="#0000FF"/><circle cx="1269.0" cy="874.7" r="11.85" fill="none" stroke="#0000FF" stroke-width="3.3"/><circle cx="1269.0" cy="874.7" r="9.50" fill="#fff"/><circle cx="1269.0" cy="874.7" r="1.65" fill="#0000FF"/><circle cx="1273.1" cy="870.4" r="11.85" fill="none" stroke="#0000FF" stroke-width="3.3"/><circle cx="1273.1" cy="870.4" r="9.50" fill="#fff"/><circle cx="1273.1" cy="870.4" r="1.65" fill="#0000FF"/><circle cx="1277.0" cy="866.2" r="11.85" fill="none" stroke="#0000FF" stroke-width="3.3"/><circle cx="1277.0" cy="866.2" r="9.50" fill="#fff"/><circle cx="1277.0" cy="866.2" r="1.65" fill="#0000FF"/><circle cx="1281.0" cy="862.0" r="11.85" fill="none" stroke="#0000FF" stroke-width="3.3"/><circle cx="1281.0" cy="862.0" r="9.50" fill="#fff"/><circle cx="1281.0" cy="862.0" r="1.65" fill="#0000FF"/><circle cx="1284.9" cy="857.8" r="11.85" fill="none" stroke="#0000FF" stroke-width="3.3"/><circle cx="1284.9" cy="857.8" r="9.50" fill="#fff"/><circle cx="1284.9" cy="857.8" r="1.65" fill="#0000FF"/><circle cx="1288.7" cy="853.6" r="11.85" fill="none" stroke="#0000FF" stroke-width="3.3"/><circle cx="1288.7" cy="853.6" r="9.50" fill="#fff"/><circle cx="1288.7" cy="853.6" r="1.65" fill="#0000FF"/><circle cx="1292.5" cy="849.3" r="11.85" fill="none" stroke="#0000FF" stroke-width="3.3"/><circle cx="1292.5" cy="849.3" r="9.50" fill="#fff"/><circle cx="1292.5" cy="849.3" r="1.65" fill="#0000FF"/><circle cx="1296.3" cy="845.1" r="11.85" fill="none" stroke="#0000FF" stroke-width="3.3"/><circle cx="1296.3" cy="845.1" r="9.50" fill="#fff"/><circle cx="1296.3" cy="845.1" r="1.65" fill="#0000FF"/><circle cx="1300.0" cy="840.9" r="11.85" fill="none" stroke="#0000FF" stroke-width="3.3"/><circle cx="1300.0" cy="840.9" r="9.50" fill="#fff"/><circle cx="1300.0" cy="840.9" r="1.65" fill="#0000FF"/><circle cx="1303.7" cy="836.7" r="11.85" fill="none" stroke="#0000FF" stroke-width="3.3"/><circle cx="1303.7" cy="836.7" r="9.50" fill="#fff"/><circle cx="1303.7" cy="836.7" r="1.65" fill="#0000FF"/><circle cx="1307.3" cy="832.5" r="11.85" fill="none" stroke="#0000FF" stroke-width="3.3"/><circle cx="1307.3" cy="832.5" r="9.50" fill="#fff"/><circle cx="1307.3" cy="832.5" r="1.65" fill="#0000FF"/><circle cx="1311.0" cy="828.3" r="11.85" fill="none" stroke="#0000FF" stroke-width="3.3"/><circle cx="1311.0" cy="828.3" r="9.50" fill="#fff"/><circle cx="1311.0" cy="828.3" r="1.65" fill="#0000FF"/><circle cx="1314.5" cy="824.1" r="11.85" fill="none" stroke="#0000FF" stroke-width="3.3"/><circle cx="1314.5" cy="824.1" r="9.50" fill="#fff"/><circle cx="1314.5" cy="824.1" r="1.65" fill="#0000FF"/><circle cx="1318.0" cy="819.9" r="11.85" fill="none" stroke="#0000FF" stroke-width="3.3"/><circle cx="1318.0" cy="819.9" r="9.50" fill="#fff"/><circle cx="1318.0" cy="819.9" r="1.65" fill="#0000FF"/><circle cx="1321.5" cy="815.7" r="11.85" fill="none" stroke="#0000FF" stroke-width="3.3"/><circle cx="1321.5" cy="815.7" r="9.50" fill="#fff"/><circle cx="1321.5" cy="815.7" r="1.65" fill="#0000FF"/><circle cx="1325.0" cy="811.6" r="11.85" fill="none" stroke="#0000FF" stroke-width="3.3"/><circle cx="1325.0" cy="811.6" r="9.50" fill="#fff"/><circle cx="1325.0" cy="811.6" r="1.65" fill="#0000FF"/><circle cx="1328.4" cy="807.4" r="11.85" fill="none" stroke="#0000FF" stroke-width="3.3"/><circle cx="1328.4" cy="807.4" r="9.50" fill="#fff"/><circle cx="1328.4" cy="807.4" r="1.65" fill="#0000FF"/><circle cx="1331.8" cy="803.2" r="11.85" fill="none" stroke="#0000FF" stroke-width="3.3"/><circle cx="1331.8" cy="803.2" r="9.50" fill="#fff"/><circle cx="1331.8" cy="803.2" r="1.65" fill="#0000FF"/><circle cx="1335.1" cy="799.0" r="11.85" fill="none" stroke="#0000FF" stroke-width="3.3"/><circle cx="1335.1" cy="799.0" r="9.50" fill="#fff"/><circle cx="1335.1" cy="799.0" r="1.65" fill="#0000FF"/><circle cx="1338.5" cy="794.8" r="11.85" fill="none" stroke="#0000FF" stroke-width="3.3"/><circle cx="1338.5" cy="794.8" r="9.50" fill="#fff"/><circle cx="1338.5" cy="794.8" r="1.65" fill="#0000FF"/><circle cx="1341.7" cy="790.6" r="11.85" fill="none" stroke="#0000FF" stroke-width="3.3"/><circle cx="1341.7" cy="790.6" r="9.50" fill="#fff"/><circle cx="1341.7" cy="790.6" r="1.65" fill="#0000FF"/><circle cx="1345.0" cy="786.5" r="11.85" fill="none" stroke="#0000FF" stroke-width="3.3"/><circle cx="1345.0" cy="786.5" r="9.50" fill="#fff"/><circle cx="1345.0" cy="786.5" r="1.65" fill="#0000FF"/><circle cx="1348.2" cy="782.3" r="11.85" fill="none" stroke="#0000FF" stroke-width="3.3"/><circle cx="1348.2" cy="782.3" r="9.50" fill="#fff"/><circle cx="1348.2" cy="782.3" r="1.65" fill="#0000FF"/><circle cx="1351.4" cy="778.1" r="11.85" fill="none" stroke="#0000FF" stroke-width="3.3"/><circle cx="1351.4" cy="778.1" r="9.50" fill="#fff"/><circle cx="1351.4" cy="778.1" r="1.65" fill="#0000FF"/><circle cx="1354.6" cy="774.0" r="11.85" fill="none" stroke="#0000FF" stroke-width="3.3"/><circle cx="1354.6" cy="774.0" r="9.50" fill="#fff"/><circle cx="1354.6" cy="774.0" r="1.65" fill="#0000FF"/><circle cx="1357.7" cy="769.8" r="11.85" fill="none" stroke="#0000FF" stroke-width="3.3"/><circle cx="1357.7" cy="769.8" r="9.50" fill="#fff"/><circle cx="1357.7" cy="769.8" r="1.65" fill="#0000FF"/><circle cx="1360.8" cy="765.6" r="11.85" fill="none" stroke="#0000FF" stroke-width="3.3"/><circle cx="1360.8" cy="765.6" r="9.50" fill="#fff"/><circle cx="1360.8" cy="765.6" r="1.65" fill="#0000FF"/><circle cx="1363.9" cy="761.5" r="11.85" fill="none" stroke="#0000FF" stroke-width="3.3"/><circle cx="1363.9" cy="761.5" r="9.50" fill="#fff"/><circle cx="1363.9" cy="761.5" r="1.65" fill="#0000FF"/><circle cx="1366.9" cy="757.3" r="11.85" fill="none" stroke="#0000FF" stroke-width="3.3"/><circle cx="1366.9" cy="757.3" r="9.50" fill="#fff"/><circle cx="1366.9" cy="757.3" r="1.65" fill="#0000FF"/><circle cx="1369.9" cy="753.2" r="11.85" fill="none" stroke="#0000FF" stroke-width="3.3"/><circle cx="1369.9" cy="753.2" r="9.50" fill="#fff"/><circle cx="1369.9" cy="753.2" r="1.65" fill="#0000FF"/><circle cx="1372.9" cy="749.0" r="11.85" fill="none" stroke="#0000FF" stroke-width="3.3"/><circle cx="1372.9" cy="749.0" r="9.50" fill="#fff"/><circle cx="1372.9" cy="749.0" r="1.65" fill="#0000FF"/><circle cx="1375.9" cy="744.8" r="11.85" fill="none" stroke="#0000FF" stroke-width="3.3"/><circle cx="1375.9" cy="744.8" r="9.50" fill="#fff"/><circle cx="1375.9" cy="744.8" r="1.65" fill="#0000FF"/><circle cx="1378.8" cy="740.7" r="11.85" fill="none" stroke="#0000FF" stroke-width="3.3"/><circle cx="1378.8" cy="740.7" r="9.50" fill="#fff"/><circle cx="1378.8" cy="740.7" r="1.65" fill="#0000FF"/><circle cx="1381.7" cy="736.5" r="11.85" fill="none" stroke="#0000FF" stroke-width="3.3"/><circle cx="1381.7" cy="736.5" r="9.50" fill="#fff"/><circle cx="1381.7" cy="736.5" r="1.65" fill="#0000FF"/><circle cx="1384.6" cy="732.4" r="11.85" fill="none" stroke="#0000FF" stroke-width="3.3"/><circle cx="1384.6" cy="732.4" r="9.50" fill="#fff"/><circle cx="1384.6" cy="732.4" r="1.65" fill="#0000FF"/><circle cx="1387.5" cy="728.3" r="11.85" fill="none" stroke="#0000FF" stroke-width="3.3"/><circle cx="1387.5" cy="728.3" r="9.50" fill="#fff"/><circle cx="1387.5" cy="728.3" r="1.65" fill="#0000FF"/><circle cx="1390.3" cy="724.1" r="11.85" fill="none" stroke="#0000FF" stroke-width="3.3"/><circle cx="1390.3" cy="724.1" r="9.50" fill="#fff"/><circle cx="1390.3" cy="724.1" r="1.65" fill="#0000FF"/><circle cx="1393.1" cy="720.0" r="11.85" fill="none" stroke="#0000FF" stroke-width="3.3"/><circle cx="1393.1" cy="720.0" r="9.50" fill="#fff"/><circle cx="1393.1" cy="720.0" r="1.65" fill="#0000FF"/><circle cx="1395.9" cy="715.8" r="11.85" fill="none" stroke="#0000FF" stroke-width="3.3"/><circle cx="1395.9" cy="715.8" r="9.50" fill="#fff"/><circle cx="1395.9" cy="715.8" r="1.65" fill="#0000FF"/><circle cx="1398.7" cy="711.7" r="11.85" fill="none" stroke="#0000FF" stroke-width="3.3"/><circle cx="1398.7" cy="711.7" r="9.50" fill="#fff"/><circle cx="1398.7" cy="711.7" r="1.65" fill="#0000FF"/><circle cx="1401.4" cy="707.6" r="11.85" fill="none" stroke="#0000FF" stroke-width="3.3"/><circle cx="1401.4" cy="707.6" r="9.50" fill="#fff"/><circle cx="1401.4" cy="707.6" r="1.65" fill="#0000FF"/><circle cx="1404.1" cy="703.4" r="11.85" fill="none" stroke="#0000FF" stroke-width="3.3"/><circle cx="1404.1" cy="703.4" r="9.50" fill="#fff"/><circle cx="1404.1" cy="703.4" r="1.65" fill="#0000FF"/><circle cx="1406.8" cy="699.3" r="11.85" fill="none" stroke="#0000FF" stroke-width="3.3"/><circle cx="1406.8" cy="699.3" r="9.50" fill="#fff"/><circle cx="1406.8" cy="699.3" r="1.65" fill="#0000FF"/><circle cx="1409.5" cy="695.2" r="11.85" fill="none" stroke="#0000FF" stroke-width="3.3"/><circle cx="1409.5" cy="695.2" r="9.50" fill="#fff"/><circle cx="1409.5" cy="695.2" r="1.65" fill="#0000FF"/><circle cx="1412.1" cy="691.1" r="11.85" fill="none" stroke="#0000FF" stroke-width="3.3"/><circle cx="1412.1" cy="691.1" r="9.50" fill="#fff"/><circle cx="1412.1" cy="691.1" r="1.65" fill="#0000FF"/><circle cx="1414.8" cy="686.9" r="11.85" fill="none" stroke="#0000FF" stroke-width="3.3"/><circle cx="1414.8" cy="686.9" r="9.50" fill="#fff"/><circle cx="1414.8" cy="686.9" r="1.65" fill="#0000FF"/><circle cx="1417.4" cy="682.8" r="11.85" fill="none" stroke="#0000FF" stroke-width="3.3"/><circle cx="1417.4" cy="682.8" r="9.50" fill="#fff"/><circle cx="1417.4" cy="682.8" r="1.65" fill="#0000FF"/><circle cx="1420.0" cy="678.7" r="11.85" fill="none" stroke="#0000FF" stroke-width="3.3"/><circle cx="1420.0" cy="678.7" r="9.50" fill="#fff"/><circle cx="1420.0" cy="678.7" r="1.65" fill="#0000FF"/><circle cx="1422.5" cy="674.6" r="11.85" fill="none" stroke="#0000FF" stroke-width="3.3"/><circle cx="1422.5" cy="674.6" r="9.50" fill="#fff"/><circle cx="1422.5" cy="674.6" r="1.65" fill="#0000FF"/><circle cx="1425.1" cy="670.5" r="11.85" fill="none" stroke="#0000FF" stroke-width="3.3"/><circle cx="1425.1" cy="670.5" r="9.50" fill="#fff"/><circle cx="1425.1" cy="670.5" r="1.65" fill="#0000FF"/><circle cx="1427.6" cy="666.4" r="11.85" fill="none" stroke="#0000FF" stroke-width="3.3"/><circle cx="1427.6" cy="666.4" r="9.50" fill="#fff"/><circle cx="1427.6" cy="666.4" r="1.65" fill="#0000FF"/><circle cx="1430.1" cy="662.2" r="11.85" fill="none" stroke="#0000FF" stroke-width="3.3"/><circle cx="1430.1" cy="662.2" r="9.50" fill="#fff"/><circle cx="1430.1" cy="662.2" r="1.65" fill="#0000FF"/><circle cx="1432.6" cy="658.1" r="11.85" fill="none" stroke="#0000FF" stroke-width="3.3"/><circle cx="1432.6" cy="658.1" r="9.50" fill="#fff"/><circle cx="1432.6" cy="658.1" r="1.65" fill="#0000FF"/><circle cx="1435.1" cy="654.0" r="11.85" fill="none" stroke="#0000FF" stroke-width="3.3"/><circle cx="1435.1" cy="654.0" r="9.50" fill="#fff"/><circle cx="1435.1" cy="654.0" r="1.65" fill="#0000FF"/><circle cx="1437.6" cy="649.9" r="11.85" fill="none" stroke="#0000FF" stroke-width="3.3"/><circle cx="1437.6" cy="649.9" r="9.50" fill="#fff"/><circle cx="1437.6" cy="649.9" r="1.65" fill="#0000FF"/><circle cx="1440.0" cy="645.8" r="11.85" fill="none" stroke="#0000FF" stroke-width="3.3"/><circle cx="1440.0" cy="645.8" r="9.50" fill="#fff"/><circle cx="1440.0" cy="645.8" r="1.65" fill="#0000FF"/><circle cx="1442.4" cy="641.7" r="11.85" fill="none" stroke="#0000FF" stroke-width="3.3"/><circle cx="1442.4" cy="641.7" r="9.50" fill="#fff"/><circle cx="1442.4" cy="641.7" r="1.65" fill="#0000FF"/><circle cx="1444.8" cy="637.6" r="11.85" fill="none" stroke="#0000FF" stroke-width="3.3"/><circle cx="1444.8" cy="637.6" r="9.50" fill="#fff"/><circle cx="1444.8" cy="637.6" r="1.65" fill="#0000FF"/><circle cx="1447.2" cy="633.5" r="11.85" fill="none" stroke="#0000FF" stroke-width="3.3"/><circle cx="1447.2" cy="633.5" r="9.50" fill="#fff"/><circle cx="1447.2" cy="633.5" r="1.65" fill="#0000FF"/><circle cx="1449.6" cy="629.4" r="11.85" fill="none" stroke="#0000FF" stroke-width="3.3"/><circle cx="1449.6" cy="629.4" r="9.50" fill="#fff"/><circle cx="1449.6" cy="629.4" r="1.65" fill="#0000FF"/><circle cx="1451.9" cy="625.3" r="11.85" fill="none" stroke="#0000FF" stroke-width="3.3"/><circle cx="1451.9" cy="625.3" r="9.50" fill="#fff"/><circle cx="1451.9" cy="625.3" r="1.65" fill="#0000FF"/><circle cx="1454.2" cy="621.2" r="11.85" fill="none" stroke="#0000FF" stroke-width="3.3"/><circle cx="1454.2" cy="621.2" r="9.50" fill="#fff"/><circle cx="1454.2" cy="621.2" r="1.65" fill="#0000FF"/><circle cx="1456.5" cy="617.2" r="11.85" fill="none" stroke="#0000FF" stroke-width="3.3"/><circle cx="1456.5" cy="617.2" r="9.50" fill="#fff"/><circle cx="1456.5" cy="617.2" r="1.65" fill="#0000FF"/><circle cx="1458.8" cy="613.1" r="11.85" fill="none" stroke="#0000FF" stroke-width="3.3"/><circle cx="1458.8" cy="613.1" r="9.50" fill="#fff"/><circle cx="1458.8" cy="613.1" r="1.65" fill="#0000FF"/><circle cx="1461.1" cy="609.0" r="11.85" fill="none" stroke="#0000FF" stroke-width="3.3"/><circle cx="1461.1" cy="609.0" r="9.50" fill="#fff"/><circle cx="1461.1" cy="609.0" r="1.65" fill="#0000FF"/><circle cx="1463.4" cy="604.9" r="11.85" fill="none" stroke="#0000FF" stroke-width="3.3"/><circle cx="1463.4" cy="604.9" r="9.50" fill="#fff"/><circle cx="1463.4" cy="604.9" r="1.65" fill="#0000FF"/><circle cx="1465.6" cy="600.8" r="11.85" fill="none" stroke="#0000FF" stroke-width="3.3"/><circle cx="1465.6" cy="600.8" r="9.50" fill="#fff"/><circle cx="1465.6" cy="600.8" r="1.65" fill="#0000FF"/><circle cx="1467.9" cy="596.7" r="11.85" fill="none" stroke="#0000FF" stroke-width="3.3"/><circle cx="1467.9" cy="596.7" r="9.50" fill="#fff"/><circle cx="1467.9" cy="596.7" r="1.65" fill="#0000FF"/>
<path d="M142.6 871.2L143.0 871.3L143.5 871.5L144.3 871.7L145.3 871.9L146.6 872.2L148.1 872.6L149.8 873.0L151.8 873.5L154.0 874.1L156.4 874.7L159.1 875.3L162.0 876.0L165.2 876.8L168.7 877.6L172.4 878.5L176.4 879.5L180.6 880.5L185.1 881.5L189.9 882.6L195.1 883.8L200.5 885.0L206.2 886.3L212.2 887.6L218.5 888.9L225.2 890.4L232.2 891.8L239.6 893.3L247.3 894.9L255.4 896.5L263.9 898.1L272.7 899.7L281.9 901.4L291.6 903.1L301.6 904.8L312.1 906.6L322.9 908.3L334.2 910.0L345.8 911.7L357.9 913.4L370.4 915.0L383.3 916.6L396.5 918.1L410.1 919.5L424.1 920.9L438.3 922.1L452.8 923.2L467.5 924.2L482.5 925.1L497.5 925.7L512.7 926.3L527.9 926.6L543.2 926.8L558.4 926.8L573.6 926.5L588.6 926.2L603.5 925.6L618.3 924.8L632.8 923.9L647.1 922.8L661.2 921.5L675.1 920.1L688.6 918.5L702.0 916.7L715.0 914.9L727.8 912.9L740.2 910.8L752.5 908.5L764.4 906.2L776.1 903.8L787.5 901.2L798.6 898.6L809.5 895.9L820.2 893.1L830.6 890.3L840.8 887.4L850.8 884.4L860.6 881.4L870.1 878.3L879.5 875.1L888.6 871.9L897.6 868.7L906.4 865.4L915.0 862.1L923.4 858.8L931.7 855.4L939.8 851.9L947.7 848.5L955.5 845.0L963.2 841.5L970.7 838.0L978.1 834.4L985.3 830.8L992.5 827.3L999.5 823.6L1006.3 820.0L1013.1 816.3L1019.8 812.7L1026.3 809.0L1032.7 805.3L1039.1 801.6L1045.3 797.8L1051.5 794.1L1057.5 790.3L1063.5 786.6L1069.3 782.8L1075.1 779.0L1080.8 775.2L1086.4 771.4L1092.0 767.6L1097.4 763.8L1102.8 759.9L1108.1 756.1L1113.4 752.3L1118.6 748.4L1123.7 744.6L1128.7 740.7L1133.7 736.8L1138.6 733.0L1143.4 729.1L1148.2 725.2L1153.0 721.3L1157.6 717.4L1162.3 713.5L1166.8 709.6L1171.3 705.7L1175.8 701.8L1180.2 697.9L1184.6 694.0L1188.9 690.1L1193.1 686.2L1197.3 682.3L1201.5 678.3L1205.6 674.4L1209.7 670.5L1213.7 666.6L1217.7 662.6L1221.7 658.7L1225.6 654.8L1229.5 650.8L1233.3 646.9L1237.1 642.9L1240.9 639.0L1244.6 635.1L1248.3 631.1L1251.9 627.2L1255.5 623.2L1259.1 619.3L1262.6 615.3L1266.2 611.4L1269.6 607.4L1273.1 603.5L1276.5 599.5L1279.9 595.6L1283.2 591.6L1286.6 587.7L1289.8 583.7L1293.1 579.8L1296.3 575.8L1299.6 571.9L1302.7 567.9L1305.9 564.0L1309.0 560.0L1312.1 556.1L1315.2 552.1L1318.3 548.1L1321.3 544.2L1324.3 540.2L1327.3 536.3L1330.2 532.3L1333.1 528.4L1336.0 524.4L1338.9 520.5L1341.8 516.5L1344.6 512.6L1347.4 508.6L1350.2 504.7L1353.0 500.7L1355.8 496.7L1358.5 492.8L1361.2 488.8L1363.9 484.9L1366.6 480.9L1369.2 477.0L1371.9 473.0L1374.5 469.1L1377.1 465.1L1379.6 461.2L1382.2 457.2L1384.7 453.3L1387.3 449.3L1389.8 445.4L1392.2 441.4L1394.7 437.5L1397.2 433.5L1399.6 429.6L1402.0 425.6L1404.4 421.7L1406.8 417.7L1409.2 413.8L1411.5 409.9L1413.9 405.9L1416.2 402.0L1418.5 398.0L1420.8 394.1L1423.1 390.1L1425.3 386.2L1427.6 382.3L1429.8 378.3L1432.0 374.4L1434.3 370.4L1436.4 366.5L1438.6 362.6L1440.8 358.6L1442.9 354.7L1445.1 350.7L1447.2 346.8L1449.3 342.9L1451.4 338.9L1453.5 335.0L1455.6 331.1L1457.6 327.1L1459.7 323.2L1461.7 319.3L1463.8 315.3L1465.8 311.4L1467.8 307.5L1469.8 303.5L1471.7 299.6L1473.7 295.7L1475.7 291.7L1477.6 287.8L1479.5 283.9L1481.5 280.0L1483.4 276.0L1485.3 272.1L1487.2 268.2L1489.1 264.3L1490.9 260.3L1492.8 256.4L1494.6 252.5L1496.5 248.6L1498.3 244.6L1500.1 240.7L1501.9 236.8L1503.7 232.9L1505.5 229.0L1507.3 225.0L1509.1 221.1L1510.8 217.2L1512.6 213.3L1514.3 209.4L1516.1 205.5L1517.8 201.5L1519.5 197.6L1521.2 193.7L1522.9 189.8L1524.6 185.9L1526.3 182.0L1527.9 178.1L1529.6 174.1L1531.2 170.2L1532.9 166.3L1534.5 162.4L1536.2 158.5L1537.8 154.6L1539.4 150.7L1541.0 146.8L1542.6 142.9L1544.2 139.0L1545.8 135.1L1547.3 131.2L1548.9 127.2L1550.5 123.3L1552.0 119.4L1553.6 115.5L1555.1 111.6L1556.6 107.7L1558.1 103.8L1559.7 99.9L1561.2 96.0L1562.7 92.1L1564.2 88.2L1565.6 84.3L1567.1 80.4L1568.6 76.5L1570.1 72.6L1571.5 68.7L1573.0 64.8L1574.4 60.9L1575.8 57.0L1577.3 53.1L1578.7 49.2L1580.1 45.4L1581.5 41.5L1582.9 37.6L1584.3 33.7L1585.7 29.8L1587.1 25.9L1588.5 22.0" fill="none" stroke="#9400D3" stroke-width="2.7" stroke-linejoin="round" clip-path="url(#cc)"/><rect x="130.1" y="858.7" width="25" height="25" fill="#9400D3"/><rect x="131.0" y="859.0" width="25" height="25" fill="#9400D3"/><rect x="132.8" y="859.4" width="25" height="25" fill="#9400D3"/><rect x="135.6" y="860.1" width="25" height="25" fill="#9400D3"/><rect x="139.3" y="861.0" width="25" height="25" fill="#9400D3"/><rect x="143.9" y="862.2" width="25" height="25" fill="#9400D3"/><rect x="149.5" y="863.5" width="25" height="25" fill="#9400D3"/><rect x="156.2" y="865.1" width="25" height="25" fill="#9400D3"/><rect x="163.9" y="867.0" width="25" height="25" fill="#9400D3"/><rect x="172.6" y="869.0" width="25" height="25" fill="#9400D3"/><rect x="182.6" y="871.3" width="25" height="25" fill="#9400D3"/><rect x="193.7" y="873.8" width="25" height="25" fill="#9400D3"/><rect x="206.0" y="876.4" width="25" height="25" fill="#9400D3"/><rect x="219.7" y="879.3" width="25" height="25" fill="#9400D3"/><rect x="234.8" y="882.4" width="25" height="25" fill="#9400D3"/><rect x="251.4" y="885.6" width="25" height="25" fill="#9400D3"/><rect x="269.4" y="888.9" width="25" height="25" fill="#9400D3"/><rect x="289.1" y="892.3" width="25" height="25" fill="#9400D3"/><rect x="310.4" y="895.8" width="25" height="25" fill="#9400D3"/><rect x="333.3" y="899.2" width="25" height="25" fill="#9400D3"/><rect x="357.9" y="902.5" width="25" height="25" fill="#9400D3"/><rect x="384.0" y="905.6" width="25" height="25" fill="#9400D3"/><rect x="411.6" y="908.4" width="25" height="25" fill="#9400D3"/><rect x="440.3" y="910.7" width="25" height="25" fill="#9400D3"/><rect x="470.0" y="912.6" width="25" height="25" fill="#9400D3"/><rect x="500.2" y="913.8" width="25" height="25" fill="#9400D3"/><rect x="530.7" y="914.3" width="25" height="25" fill="#9400D3"/><rect x="561.1" y="914.0" width="25" height="25" fill="#9400D3"/><rect x="591.0" y="913.1" width="25" height="25" fill="#9400D3"/><rect x="620.3" y="911.4" width="25" height="25" fill="#9400D3"/><rect x="648.7" y="909.0" width="25" height="25" fill="#9400D3"/><rect x="676.1" y="906.0" width="25" height="25" fill="#9400D3"/><rect x="702.5" y="902.4" width="25" height="25" fill="#9400D3"/><rect x="727.7" y="898.3" width="25" height="25" fill="#9400D3"/><rect x="751.9" y="893.7" width="25" height="25" fill="#9400D3"/><rect x="775.0" y="888.7" width="25" height="25" fill="#9400D3"/><rect x="797.0" y="883.4" width="25" height="25" fill="#9400D3"/><rect x="818.1" y="877.8" width="25" height="25" fill="#9400D3"/><rect x="838.3" y="871.9" width="25" height="25" fill="#9400D3"/><rect x="857.6" y="865.8" width="25" height="25" fill="#9400D3"/><rect x="876.1" y="859.4" width="25" height="25" fill="#9400D3"/><rect x="893.9" y="852.9" width="25" height="25" fill="#9400D3"/><rect x="910.9" y="846.3" width="25" height="25" fill="#9400D3"/><rect x="927.3" y="839.4" width="25" height="25" fill="#9400D3"/><rect x="943.0" y="832.5" width="25" height="25" fill="#9400D3"/><rect x="958.2" y="825.5" width="25" height="25" fill="#9400D3"/><rect x="972.8" y="818.3" width="25" height="25" fill="#9400D3"/><rect x="987.0" y="811.1" width="25" height="25" fill="#9400D3"/><rect x="1000.6" y="803.8" width="25" height="25" fill="#9400D3"/><rect x="1013.8" y="796.5" width="25" height="25" fill="#9400D3"/><rect x="1026.6" y="789.1" width="25" height="25" fill="#9400D3"/><rect x="1039.0" y="781.6" width="25" height="25" fill="#9400D3"/><rect x="1051.0" y="774.1" width="25" height="25" fill="#9400D3"/><rect x="1062.6" y="766.5" width="25" height="25" fill="#9400D3"/><rect x="1073.9" y="758.9" width="25" height="25" fill="#9400D3"/><rect x="1084.9" y="751.3" width="25" height="25" fill="#9400D3"/><rect x="1095.6" y="743.6" width="25" height="25" fill="#9400D3"/><rect x="1106.1" y="735.9" width="25" height="25" fill="#9400D3"/><rect x="1116.2" y="728.2" width="25" height="25" fill="#9400D3"/><rect x="1126.1" y="720.5" width="25" height="25" fill="#9400D3"/><rect x="1135.7" y="712.7" width="25" height="25" fill="#9400D3"/><rect x="1145.1" y="704.9" width="25" height="25" fill="#9400D3"/><rect x="1154.3" y="697.1" width="25" height="25" fill="#9400D3"/><rect x="1163.3" y="689.3" width="25" height="25" fill="#9400D3"/><rect x="1172.1" y="681.5" width="25" height="25" fill="#9400D3"/><rect x="1180.6" y="673.7" width="25" height="25" fill="#9400D3"/><rect x="1189.0" y="665.8" width="25" height="25" fill="#9400D3"/><rect x="1197.2" y="658.0" width="25" height="25" fill="#9400D3"/><rect x="1205.2" y="650.1" width="25" height="25" fill="#9400D3"/><rect x="1213.1" y="642.3" width="25" height="25" fill="#9400D3"/><rect x="1220.8" y="634.4" width="25" height="25" fill="#9400D3"/><rect x="1228.4" y="626.5" width="25" height="25" fill="#9400D3"/><rect x="1235.8" y="618.6" width="25" height="25" fill="#9400D3"/><rect x="1243.0" y="610.7" width="25" height="25" fill="#9400D3"/><rect x="1250.1" y="602.8" width="25" height="25" fill="#9400D3"/><rect x="1257.1" y="594.9" width="25" height="25" fill="#9400D3"/><rect x="1264.0" y="587.0" width="25" height="25" fill="#9400D3"/>
<rect x="142.5" y="1.5" width="764.0" height="455.5" fill="none" stroke="#000" stroke-width="4.5" stroke-linejoin="round"/>
<rect x="917.5" y="1.5" width="763.8" height="455.5" fill="none" stroke="#000" stroke-width="4.5" stroke-linejoin="round"/>
<rect x="142.5" y="596.7" width="1539.0" height="787.0999999999999" fill="none" stroke="#000" stroke-width="4.5" stroke-linejoin="round"/>
<text x="102.0" y="42.0" font-size="59" text-anchor="end" font-family="'Liberation Serif','Times New Roman',serif" stroke="#000" stroke-width="0.8" >1</text><text x="102.0" y="250.0" font-size="59" text-anchor="end" font-family="'Liberation Serif','Times New Roman',serif" stroke="#000" stroke-width="0.8" >0.5</text><text x="102.5" y="456.5" font-size="59" text-anchor="end" font-family="'Liberation Serif','Times New Roman',serif" stroke="#000" stroke-width="0.8" >0</text><text x="142.5" y="528.0" font-size="59" text-anchor="middle" font-family="'Liberation Serif','Times New Roman',serif" stroke="#000" stroke-width="0.8" >0.6</text><text x="360.8" y="528.0" font-size="59" text-anchor="middle" font-family="'Liberation Serif','Times New Roman',serif" stroke="#000" stroke-width="0.8" >0.8</text><text x="579.1" y="528.0" font-size="59" text-anchor="middle" font-family="'Liberation Serif','Times New Roman',serif" stroke="#000" stroke-width="0.8" >1</text><text x="797.4" y="528.0" font-size="59" text-anchor="middle" font-family="'Liberation Serif','Times New Roman',serif" stroke="#000" stroke-width="0.8" >1.2</text><text x="965.0" y="528.0" font-size="59" text-anchor="middle" font-family="'Liberation Serif','Times New Roman',serif" stroke="#000" stroke-width="0.8" >0</text><text x="1203.4" y="528.0" font-size="59" text-anchor="middle" font-family="'Liberation Serif','Times New Roman',serif" stroke="#000" stroke-width="0.8" >0.1</text><text x="1441.8" y="528.0" font-size="59" text-anchor="middle" font-family="'Liberation Serif','Times New Roman',serif" stroke="#000" stroke-width="0.8" >0.2</text><text x="1680.2" y="528.0" font-size="59" text-anchor="middle" font-family="'Liberation Serif','Times New Roman',serif" stroke="#000" stroke-width="0.8" >0.3</text><text x="103.0" y="621.0" font-size="71" text-anchor="end" font-family="'Liberation Serif','Times New Roman',serif" stroke="#000" stroke-width="0.8" >0.2</text><text x="103.0" y="1014.0" font-size="71" text-anchor="end" font-family="'Liberation Serif','Times New Roman',serif" stroke="#000" stroke-width="0.8" >0.1</text><text x="103.0" y="1407.0" font-size="71" text-anchor="end" font-family="'Liberation Serif','Times New Roman',serif" stroke="#000" stroke-width="0.8" >0</text><text x="142.5" y="1458.0" font-size="71" text-anchor="middle" font-family="'Liberation Serif','Times New Roman',serif" stroke="#000" stroke-width="0.8" >0</text><text x="527.2" y="1458.0" font-size="71" text-anchor="middle" font-family="'Liberation Serif','Times New Roman',serif" stroke="#000" stroke-width="0.8" >0.2</text><text x="912.0" y="1458.0" font-size="71" text-anchor="middle" font-family="'Liberation Serif','Times New Roman',serif" stroke="#000" stroke-width="0.8" >0.4</text><text x="1296.8" y="1458.0" font-size="71" text-anchor="middle" font-family="'Liberation Serif','Times New Roman',serif" stroke="#000" stroke-width="0.8" >0.6</text><text x="1681.5" y="1458.0" font-size="71" text-anchor="middle" font-family="'Liberation Serif','Times New Roman',serif" stroke="#000" stroke-width="0.8" >0.8</text><text x="32.0" y="124.0" font-size="71" text-anchor="middle" font-family="'Liberation Serif','Times New Roman',serif" stroke="#000" stroke-width="0.8" transform="rotate(-90 32 124)">m</text><text transform="translate(506.7 577.0) scale(0.88 1)" font-size="79" font-family="'Noto Serif CJK SC','Liberation Serif',serif" stroke="#000" stroke-width="1.6">τ</text><text x="1299.0" y="587.0" font-size="79" text-anchor="middle" font-family="'Liberation Serif','Times New Roman',serif" stroke="#000" stroke-width="0.8" >h</text><text x="54.0" y="833.0" font-size="80" text-anchor="middle" font-family="'Liberation Serif','Times New Roman',serif" stroke="#000" stroke-width="0.8" transform="rotate(-90 54 833)">h/m</text><text x="990.0" y="1496.0" font-size="81" text-anchor="middle" font-family="'Liberation Serif','Times New Roman',serif" stroke="#000" stroke-width="0.8" >m</text><text x="1036.0" y="1455.0" font-size="63" text-anchor="middle" font-family="'Liberation Serif','Times New Roman',serif" stroke="#000" stroke-width="0.8" >2</text><text x="163.8" y="413.8" font-size="76" text-anchor="start" font-family="'Liberation Serif','Times New Roman',serif" stroke="#000" stroke-width="0.8" >(a)</text><text x="1070.8" y="425.8" font-size="76" text-anchor="start" font-family="'Liberation Serif','Times New Roman',serif" stroke="#000" stroke-width="0.8" >(b)</text><text x="182.3" y="1361.0" font-size="76" text-anchor="start" font-family="'Liberation Serif','Times New Roman',serif" stroke="#000" stroke-width="0.8" >(c)</text><text x="372.8" y="1050.8" font-size="66" text-anchor="start" font-family="'Liberation Serif','Times New Roman',serif" stroke="#000" stroke-width="0.8" >η</text><text x="425.7" y="1055.8" font-size="62" text-anchor="start" font-family="'Liberation Serif','Times New Roman',serif" stroke="#000" stroke-width="0.8" textLength="37.2" lengthAdjust="spacingAndGlyphs">=</text><text x="479.4" y="1050.8" font-size="62" text-anchor="start" font-family="'Liberation Serif','Times New Roman',serif" stroke="#000" stroke-width="0.8" >1.5,</text><text x="586.3" y="1050.8" font-size="62" text-anchor="start" font-family="'Liberation Serif','Times New Roman',serif" stroke="#000" stroke-width="0.8" >J</text><text x="626.9" y="1055.8" font-size="62" text-anchor="start" font-family="'Liberation Serif','Times New Roman',serif" stroke="#000" stroke-width="0.8" textLength="37.2" lengthAdjust="spacingAndGlyphs">=</text><text x="679.4" y="1050.8" font-size="62" text-anchor="start" font-family="'Liberation Serif','Times New Roman',serif" stroke="#000" stroke-width="0.8" >1/2</text>
<text x="184.8" y="142.0" font-size="52" text-anchor="start" font-family="'Liberation Serif','Times New Roman',serif" stroke="#000" stroke-width="0.8" >h</text><text x="223.6" y="146.2" font-size="52" text-anchor="start" font-family="'Liberation Serif','Times New Roman',serif" stroke="#000" stroke-width="0.8" textLength="31.2" lengthAdjust="spacingAndGlyphs">=</text><text x="266.5" y="142.0" font-size="52" text-anchor="start" font-family="'Liberation Serif','Times New Roman',serif" stroke="#000" stroke-width="0.8" >0.00</text><path d="M389.4 124.0H456.0" stroke="#9400D3" stroke-width="3" stroke-linecap="round"/><circle cx="422.7" cy="124.0" r="9.4" fill="none" stroke="#9400D3" stroke-width="3"/><circle cx="422.7" cy="124.0" r="7.20" fill="#fff"/><circle cx="422.7" cy="124.0" r="1.50" fill="#9400D3"/><text x="184.8" y="204.9" font-size="52" text-anchor="start" font-family="'Liberation Serif','Times New Roman',serif" stroke="#000" stroke-width="0.8" >h</text><text x="223.6" y="209.1" font-size="52" text-anchor="start" font-family="'Liberation Serif','Times New Roman',serif" stroke="#000" stroke-width="0.8" textLength="31.2" lengthAdjust="spacingAndGlyphs">=</text><text x="266.5" y="204.9" font-size="52" text-anchor="start" font-family="'Liberation Serif','Times New Roman',serif" stroke="#000" stroke-width="0.8" >0.02</text><path d="M389.4 186.9H456.0" stroke="#009E73" stroke-width="3" stroke-linecap="round"/><circle cx="422.7" cy="186.9" r="10" fill="#009E73"/><text x="184.8" y="267.8" font-size="52" text-anchor="start" font-family="'Liberation Serif','Times New Roman',serif" stroke="#000" stroke-width="0.8" >h</text><text x="223.6" y="272.0" font-size="52" text-anchor="start" font-family="'Liberation Serif','Times New Roman',serif" stroke="#000" stroke-width="0.8" textLength="31.2" lengthAdjust="spacingAndGlyphs">=</text><text x="266.5" y="267.8" font-size="52" text-anchor="start" font-family="'Liberation Serif','Times New Roman',serif" stroke="#000" stroke-width="0.8" >0.05</text><path d="M389.4 249.8H456.0" stroke="#000000" stroke-width="3" stroke-linecap="round"/><path d="M422.7 240.0L432.5 254.7L412.9 254.7Z" fill="#fff" stroke="#000000" stroke-width="3.2" stroke-linejoin="round"/><text x="184.8" y="330.7" font-size="52" text-anchor="start" font-family="'Liberation Serif','Times New Roman',serif" stroke="#000" stroke-width="0.8" >h</text><text x="223.6" y="334.9" font-size="52" text-anchor="start" font-family="'Liberation Serif','Times New Roman',serif" stroke="#000" stroke-width="0.8" textLength="31.2" lengthAdjust="spacingAndGlyphs">=</text><text x="266.5" y="330.7" font-size="52" text-anchor="start" font-family="'Liberation Serif','Times New Roman',serif" stroke="#000" stroke-width="0.8" >0.10</text><path d="M389.4 312.7H456.0" stroke="#E6200F" stroke-width="3" stroke-linecap="round"/><rect x="414.2" y="304.2" width="17" height="17" fill="#E6200F"/><text transform="translate(1354.9 186.4) scale(0.88 1)" font-size="54" font-family="'Noto Serif CJK SC','Liberation Serif',serif" stroke="#000" stroke-width="1.6">τ</text><text x="1390.2" y="190.6" font-size="53" text-anchor="start" font-family="'Liberation Serif','Times New Roman',serif" stroke="#000" stroke-width="0.8" textLength="31.8" lengthAdjust="spacingAndGlyphs">=</text><text x="1432.2" y="186.4" font-size="53" text-anchor="start" font-family="'Liberation Serif','Times New Roman',serif" stroke="#000" stroke-width="0.8" >0.95</text><path d="M1556.2 168.3H1612.5" stroke="#E6200F" stroke-width="2.5" stroke-linecap="round"/><rect x="1576.2" y="160.2" width="16.2" height="16.2" fill="#fff" stroke="#E6200F" stroke-width="3" stroke-linejoin="round"/><circle cx="1584.3" cy="168.3" r="1.50" fill="#E6200F"/><text transform="translate(1354.9 246.4) scale(0.88 1)" font-size="54" font-family="'Noto Serif CJK SC','Liberation Serif',serif" stroke="#000" stroke-width="1.6">τ</text><text x="1390.2" y="250.6" font-size="53" text-anchor="start" font-family="'Liberation Serif','Times New Roman',serif" stroke="#000" stroke-width="0.8" textLength="31.8" lengthAdjust="spacingAndGlyphs">=</text><text x="1432.2" y="246.4" font-size="53" text-anchor="start" font-family="'Liberation Serif','Times New Roman',serif" stroke="#000" stroke-width="0.8" >1.00</text><path d="M1556.2 228.3H1612.5" stroke="#0000FF" stroke-width="2.5" stroke-linecap="round"/><circle cx="1584.3" cy="228.3" r="9.25" fill="none" stroke="#0000FF" stroke-width="3"/><circle cx="1584.3" cy="228.3" r="7.05" fill="#fff"/><circle cx="1584.3" cy="228.3" r="1.50" fill="#0000FF"/><text transform="translate(1354.9 306.4) scale(0.88 1)" font-size="54" font-family="'Noto Serif CJK SC','Liberation Serif',serif" stroke="#000" stroke-width="1.6">τ</text><text x="1390.2" y="310.6" font-size="53" text-anchor="start" font-family="'Liberation Serif','Times New Roman',serif" stroke="#000" stroke-width="0.8" textLength="31.8" lengthAdjust="spacingAndGlyphs">=</text><text x="1432.2" y="306.4" font-size="53" text-anchor="start" font-family="'Liberation Serif','Times New Roman',serif" stroke="#000" stroke-width="0.8" >1.02</text><path d="M1556.2 288.3H1612.5" stroke="#000000" stroke-width="2.5" stroke-linecap="round"/><path d="M1584.3 278.5L1594.1 293.2L1574.5 293.2Z" fill="#fff" stroke="#000000" stroke-width="3.2" stroke-linejoin="round"/><text transform="translate(1354.9 366.4) scale(0.88 1)" font-size="54" font-family="'Noto Serif CJK SC','Liberation Serif',serif" stroke="#000" stroke-width="1.6">τ</text><text x="1390.2" y="370.6" font-size="53" text-anchor="start" font-family="'Liberation Serif','Times New Roman',serif" stroke="#000" stroke-width="0.8" textLength="31.8" lengthAdjust="spacingAndGlyphs">=</text><text x="1432.2" y="366.4" font-size="53" text-anchor="start" font-family="'Liberation Serif','Times New Roman',serif" stroke="#000" stroke-width="0.8" >1.05</text><path d="M1556.2 348.3H1612.5" stroke="#A52A2A" stroke-width="2.5" stroke-linecap="round"/><path d="M1584.3 338.1L1594.5 353.4L1574.1 353.4Z" fill="#A52A2A" stroke="#fff" stroke-width="0.6"/><text transform="translate(1354.9 426.4) scale(0.88 1)" font-size="54" font-family="'Noto Serif CJK SC','Liberation Serif',serif" stroke="#000" stroke-width="1.6">τ</text><text x="1390.2" y="430.6" font-size="53" text-anchor="start" font-family="'Liberation Serif','Times New Roman',serif" stroke="#000" stroke-width="0.8" textLength="31.8" lengthAdjust="spacingAndGlyphs">=</text><text x="1432.2" y="426.4" font-size="53" text-anchor="start" font-family="'Liberation Serif','Times New Roman',serif" stroke="#000" stroke-width="0.8" >1.10</text><path d="M1556.2 408.3H1612.5" stroke="#009E73" stroke-width="2.5" stroke-linecap="round"/><circle cx="1584.3" cy="408.3" r="8.3" fill="#009E73"/><text transform="translate(199.1 667.2) scale(0.88 1)" font-size="60" font-family="'Noto Serif CJK SC','Liberation Serif',serif" stroke="#000" stroke-width="1.6">τ</text><text x="237.9" y="671.9" font-size="59" text-anchor="start" font-family="'Liberation Serif','Times New Roman',serif" stroke="#000" stroke-width="0.8" textLength="35.4" lengthAdjust="spacingAndGlyphs">=</text><text x="285.9" y="667.2" font-size="59" text-anchor="start" font-family="'Liberation Serif','Times New Roman',serif" stroke="#000" stroke-width="0.8" >0.95</text><path d="M420.8 647.1H516.3" stroke="#000000" stroke-width="2.7" stroke-linecap="round"/><path d="M468.5 635.4L480.2 653.0L456.8 653.0Z" fill="#fff" stroke="#000000" stroke-width="3.3" stroke-linejoin="round"/><text transform="translate(199.1 736.3) scale(0.88 1)" font-size="60" font-family="'Noto Serif CJK SC','Liberation Serif',serif" stroke="#000" stroke-width="1.6">τ</text><text x="237.9" y="741.0" font-size="59" text-anchor="start" font-family="'Liberation Serif','Times New Roman',serif" stroke="#000" stroke-width="0.8" textLength="35.4" lengthAdjust="spacingAndGlyphs">=</text><text x="285.9" y="736.3" font-size="59" text-anchor="start" font-family="'Liberation Serif','Times New Roman',serif" stroke="#000" stroke-width="0.8" >0.99</text><path d="M420.8 716.3H516.3" stroke="#0072B2" stroke-width="2.7" stroke-linecap="round"/><path d="M468.5 705.1L479.7 721.9L457.3 721.9Z" fill="#0072B2" stroke="#fff" stroke-width="0.5"/><text transform="translate(199.1 805.4) scale(0.88 1)" font-size="60" font-family="'Noto Serif CJK SC','Liberation Serif',serif" stroke="#000" stroke-width="1.6">τ</text><text x="237.9" y="810.1" font-size="59" text-anchor="start" font-family="'Liberation Serif','Times New Roman',serif" stroke="#000" stroke-width="0.8" textLength="35.4" lengthAdjust="spacingAndGlyphs">=</text><text x="285.9" y="805.4" font-size="59" text-anchor="start" font-family="'Liberation Serif','Times New Roman',serif" stroke="#000" stroke-width="0.8" >1.00</text><path d="M420.8 785.5H516.3" stroke="#E6200F" stroke-width="2.7" stroke-linecap="round"/><path d="M456.3 785.5H480.7M468.5 773.3V797.7M456.3 773.3L480.7 797.7M456.3 797.7L480.7 773.3" stroke="#E6200F" stroke-width="3.1" stroke-linecap="round" fill="none"/><text transform="translate(639.1 666.5) scale(0.88 1)" font-size="60" font-family="'Noto Serif CJK SC','Liberation Serif',serif" stroke="#000" stroke-width="1.6">τ</text><text x="677.8" y="671.2" font-size="59" text-anchor="start" font-family="'Liberation Serif','Times New Roman',serif" stroke="#000" stroke-width="0.8" textLength="35.4" lengthAdjust="spacingAndGlyphs">=</text><text x="725.6" y="666.5" font-size="59" text-anchor="start" font-family="'Liberation Serif','Times New Roman',serif" stroke="#000" stroke-width="0.8" >1.02</text><path d="M860.1 647.4H955.4" stroke="#000000" stroke-width="2.7" stroke-linecap="round"/><circle cx="907.8" cy="647.4" r="12.25" fill="#000000"/><text transform="translate(639.1 735.6) scale(0.88 1)" font-size="60" font-family="'Noto Serif CJK SC','Liberation Serif',serif" stroke="#000" stroke-width="1.6">τ</text><text x="677.8" y="740.3" font-size="59" text-anchor="start" font-family="'Liberation Serif','Times New Roman',serif" stroke="#000" stroke-width="0.8" textLength="35.4" lengthAdjust="spacingAndGlyphs">=</text><text x="725.6" y="735.6" font-size="59" text-anchor="start" font-family="'Liberation Serif','Times New Roman',serif" stroke="#000" stroke-width="0.8" >1.05</text><path d="M860.1 716.7H955.4" stroke="#0000FF" stroke-width="2.7" stroke-linecap="round"/><circle cx="907.8" cy="716.7" r="11.85" fill="none" stroke="#0000FF" stroke-width="3.3"/><circle cx="907.8" cy="716.7" r="9.50" fill="#fff"/><circle cx="907.8" cy="716.7" r="1.65" fill="#0000FF"/><text transform="translate(639.1 804.7) scale(0.88 1)" font-size="60" font-family="'Noto Serif CJK SC','Liberation Serif',serif" stroke="#000" stroke-width="1.6">τ</text><text x="677.8" y="809.4" font-size="59" text-anchor="start" font-family="'Liberation Serif','Times New Roman',serif" stroke="#000" stroke-width="0.8" textLength="35.4" lengthAdjust="spacingAndGlyphs">=</text><text x="725.6" y="804.7" font-size="59" text-anchor="start" font-family="'Liberation Serif','Times New Roman',serif" stroke="#000" stroke-width="0.8" >1.10</text><path d="M860.1 786.0H955.4" stroke="#9400D3" stroke-width="2.7" stroke-linecap="round"/><rect x="895.2" y="773.5" width="25" height="25" fill="#9400D3"/>
</svg>
</body></html>
